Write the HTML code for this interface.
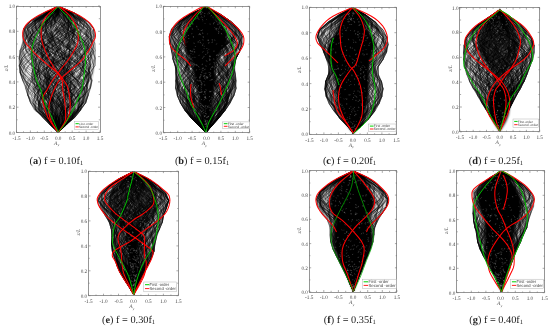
<!DOCTYPE html>
<html><head><meta charset="utf-8"><style>
html,body{margin:0;padding:0;background:#fff;width:550px;height:329px;overflow:hidden}
svg{display:block;filter:blur(0.3px)} text{text-rendering:geometricPrecision}
.tl text{font-family:"Liberation Serif",serif;font-size:5.2px;fill:#444}
.al{font-family:"Liberation Serif",serif;font-size:5.5px;fill:#555;font-style:italic}
.lg{font-family:"Liberation Sans",sans-serif;fill:#444}
.cap{font-family:"Liberation Serif",serif;font-size:10.3px;fill:#222}
</style></head><body>
<svg width="550" height="329" viewBox="0 0 550 329">
<defs><clipPath id="ca"><rect x="16.5" y="6" width="83.5" height="126.5"/></clipPath><clipPath id="cb"><rect x="163.3" y="6.3" width="86.4" height="126.5"/></clipPath><clipPath id="cc"><rect x="309.4" y="7.3" width="87.0" height="127.1"/></clipPath><clipPath id="cd"><rect x="459.9" y="7.6" width="79.8" height="124.2"/></clipPath><clipPath id="ce"><rect x="88.5" y="171.1" width="89.9" height="124.6"/></clipPath><clipPath id="cf"><rect x="309.2" y="170.9" width="87.7" height="121.1"/></clipPath><clipPath id="cg"><rect x="456.6" y="170.9" width="88.0" height="121.8"/></clipPath><filter id="bl" x="-20%" y="-5%" width="140%" height="110%"><feGaussianBlur stdDeviation="0.8"/></filter></defs>
<g clip-path="url(#ca)">
<path d="M58.2 6.2 53.9 8.1 47.7 10.8 42.0 13.6 37.4 16.1 33.2 18.7 29.7 21.3 27.0 23.8 25.0 26.4 23.6 28.9 23.0 31.4 22.9 33.9 22.9 36.5 22.8 39.2 22.7 41.9 22.3 44.6 21.5 47.0 20.4 49.2 19.6 51.8 19.2 54.9 19.0 58.2 18.9 61.6 19.0 64.9 19.2 68.3 19.6 71.3 20.2 73.8 21.0 76.0 22.0 78.5 23.1 81.5 24.4 84.8 25.7 88.3 26.9 92.3 28.0 96.5 29.3 100.4 30.8 103.9 32.4 107.2 34.2 110.0 36.0 111.9 38.0 113.4 40.4 115.5 43.8 118.8 47.6 122.8 51.1 126.2 54.0 128.8 56.5 131.0 58.2 132.4 58.2 132.4 59.8 131.0 62.0 128.8 64.9 126.2 68.7 123.0 73.0 119.3 77.0 115.5 80.2 111.7 83.1 107.7 85.5 103.3 87.4 98.6 89.0 93.5 90.5 88.0 92.2 82.1 93.8 75.8 95.0 69.0 95.5 61.1 95.4 52.8 95.4 46.0 95.5 41.8 95.5 39.0 95.4 36.5 95.2 33.8 94.8 31.4 93.9 28.9 92.4 26.4 90.5 23.8 87.8 21.3 84.4 18.7 80.3 16.1 75.6 13.6 69.6 10.8 62.9 8.1 58.2 6.2Z" fill="#e6e6e6"/>
<path d="M58.2 6.2l-11.3 7.4-13.2 7.4-5.8 7.5 4.3 7.4 9.7 7.4 12.9 7.4 14.3 7.5 12 7.4 7.1 7.4 .6 7.4-4.8 7.5-9.3 7.4-10.9 7.4-9.9 7.4-4.1 7.5 1.9 7.4 6.5 7.4M58.2 6.2l-11.2 7.4-12.6 7.4-8.5 7.5-2 7.4 .8 7.4 1.7 7.4 5.6 7.5 8.2 7.4 9.6 7.4 9.6 7.4 8.2 7.5 6.2 7.4 4.2 7.4-.3 7.4-3.8 7.5-7.8 7.4-7.9 7.4M58.2 6.2l-14.7 7.4-13 7.4-6 7.5 2 7.4 5.3 7.4 6.7 7.4 10 7.5 11.1 7.4 10.1 7.4 8.2 7.4 5.7 7.5 2.4 7.4-.5 7.4-5.3 7.4-7.6 7.5-8.7 7.4-5.7 7.4M58.2 6.2l17.3 7.4 9.3 7.4-1.9 7.5-10.4 7.4-13.6 7.4-14.1 7.4-12.8 7.5-8.8 7.4-2.7 7.4 4.1 7.4 8.5 7.5 10.6 7.4 11.2 7.4 9.1 7.4 4 7.5-2.9 7.4-6.9 7.4M58.2 6.2l-6.5 7.4 5.2 7.4 12.5 7.5 12.2 7.4 8.3 7.4 3.4 7.4-1.9 7.5-6.8 7.4-11 7.4-12.7 7.4-12 7.5-9.2 7.4-4.7 7.4 .7 7.4 8.2 7.5 8.2 7.4 6.1 7.4M58.2 6.2l16.9 7.4 11.1 7.4 4.1 7.5-2 7.4-5 7.4-6.2 7.4-7.2 7.5-7.6 7.4-8 7.4-7.1 7.4-5.4 7.5-4 7.4-2 7.4 .8 7.4 6.5 7.5 7.1 7.4 8 7.4M58.2 6.2l10.3 7.4 .2 7.4-6.7 7.5-9.1 7.4-9.1 7.4-9.5 7.4-7.7 7.5-5.2 7.4-1.2 7.4 2.5 7.4 3.9 7.5 5.8 7.4 7.1 7.4 7.7 7.4 7.6 7.5 3.8 7.4-.4 7.4M58.2 6.2l16.7 7.4 12.5 7.4 6.2 7.5-.7 7.4-7.2 7.4-9.9 7.4-11.6 7.5-12.4 7.4-11.7 7.4-8.2 7.4-4.3 7.5 .2 7.4 2.7 7.4 5 7.4 10.6 7.5 7.9 7.4 4.2 7.4M58.2 6.2l14.6 7.4 2.6 7.4-8.1 7.5-13 7.4-12.7 7.4-12.2 7.4-7.8 7.5-2.2 7.4 4 7.4 9.6 7.4 11.9 7.5 11.8 7.4 10.2 7.4 5.7 7.4 0 7.5-6.4 7.4-8 7.4M58.2 6.2l11.2 7.4 1.5 7.4-5.4 7.5-8.4 7.4-8.5 7.4-9.1 7.4-8.1 7.5-6.4 7.4-3.7 7.4 1.4 7.4 2.8 7.5 2.3 7.4 4.7 7.4 6.8 7.4 9.2 7.5 6.3 7.4 3.4 7.4M58.2 6.2l16.2 7.4 12.8 7.4 6.4 7.5 .9 7.4-2.7 7.4-4.4 7.4-5.8 7.5-6.8 7.4-7.7 7.4-7.7 7.4-7.1 7.5-5.9 7.4-4.2 7.4-1.7 7.4 4 7.5 5.7 7.4 8 7.4M58.2 6.2l-9.9 7.4-14.3 7.4-10.1 7.5-.9 7.4 .9 7.4 5.4 7.4 10.7 7.5 13.5 7.4 13.2 7.4 10.8 7.4 7.6 7.5 3 7.4-2.4 7.4-5.5 7.4-8.9 7.5-8.9 7.4-4.2 7.4M58.2 6.2l10.8 7.4-.7 7.4-8.7 7.5-11 7.4-10.3 7.4-10 7.4-6.4 7.5-2 7.4 2.9 7.4 7.6 7.4 9.5 7.5 9.9 7.4 9.4 7.4 6.8 7.4 2.4 7.5-3.5 7.4-6.7 7.4M58.2 6.2l17.4 7.4 7.2 7.4-4.1 7.5-11.3 7.4-13.3 7.4-13.6 7.4-11.8 7.5-7.8 7.4-.7 7.4 2.6 7.4 8.2 7.5 10 7.4 10.8 7.4 9.4 7.4 4.9 7.5-1.7 7.4-6.2 7.4M58.2 6.2l1.8 7.4 8.6 7.4 10.4 7.5 8.2 7.4 5.5 7.4 2.6 7.4-.1 7.5-.3 7.4-4.7 7.4-7.1 7.4-8 7.5-8.5 7.4-7.7 7.4-6.3 7.4-2 7.5 1.8 7.4 5.8 7.4M58.2 6.2l-6.8 7.4 3.9 7.4 10.7 7.5 11.6 7.4 9.3 7.4 6.4 7.4 1.9 7.5-.1 7.4-5.4 7.4-8.7 7.4-10.1 7.5-10.4 7.4-9.1 7.4-6.2 7.4 .6 7.5 4.4 7.4 8 7.4M58.2 6.2l9.7 7.4 14.9 7.4 10.7 7.5 1.7 7.4-5.6 7.4-10.6 7.4-13.8 7.5-15.3 7.4-13.8 7.4-8.4 7.4-2.2 7.5 2.5 7.4 7.3 7.4 10.2 7.4 10.3 7.5 4.4 7.4-2 7.4M58.2 6.2l-12.5 7.4-4.1 7.4 3.7 7.5 7.9 7.4 8.7 7.4 8.8 7.4 8 7.5 6.9 7.4 4.5 7.4 1.8 7.4-1.4 7.5-2.4 7.4-3.7 7.4-7.4 7.4-7.8 7.5-7.2 7.4-3.8 7.4M58.2 6.2l-3.6 7.4-8.4 7.4-8.9 7.5-6.3 7.4-5 7.4-5.5 7.4-1.4 7.5 .1 7.4 1.1 7.4 5.4 7.4 6.6 7.5 6.5 7.4 6.7 7.4 6.6 7.4 5.4 7.5 2.1 7.4-1.4 7.4M58.2 6.2l14.4 7.4 1.6 7.4-9.8 7.5-14.2 7.4-13.1 7.4-11.6 7.4-5.5 7.5 1.7 7.4 8.4 7.4 13.3 7.4 14 7.5 11.9 7.4 8.2 7.4 1.4 7.4-4.5 7.5-9.1 7.4-7.1 7.4M58.2 6.2l0 7.4-5.4 7.4-7.4 7.5-6.3 7.4-5.6 7.4-6.5 7.4-4.5 7.5-2.5 7.4 .2 7.4 2.5 7.4 3.9 7.5 4.4 7.4 5.3 7.4 6.2 7.4 7.7 7.5 5.2 7.4 2.8 7.4M58.2 6.2l-.8 7.4-10.9 7.4-12.7 7.5-7.2 7.4-2 7.4 1.9 7.4 8.6 7.5 13 7.4 14.3 7.4 11.9 7.4 8.2 7.5 3 7.4-1.7 7.4-7.6 7.4-9 7.5-7.4 7.4-1.6 7.4M58.2 6.2l14.1 7.4 14.6 7.4 6.7 7.5 .3 7.4-6.9 7.4-10.6 7.4-12.7 7.5-13.8 7.4-12.5 7.4-8.2 7.4-3.2 7.5 1.8 7.4 3.8 7.4 8.4 7.4 10.7 7.5 6.4 7.4 1.1 7.4M58.2 6.2l-15.6 7.4-12.1 7.4-5.1 7.5 1.7 7.4 3.8 7.4 4.2 7.4 6.8 7.5 8.2 7.4 8.5 7.4 7.4 7.4 6.3 7.5 4.5 7.4 2.7 7.4-1.2 7.4-4.3 7.5-7.8 7.4-8 7.4M58.2 6.2l-10.1 7.4-13 7.4-9.6 7.5-2.5 7.4 .6 7.4 2.3 7.4 6.8 7.5 9.7 7.4 11.2 7.4 10.5 7.4 8.7 7.5 6.1 7.4 3.3 7.4-1.9 7.4-5.6 7.5-8.9 7.4-7.6 7.4M58.2 6.2l17 7.4 5.6 7.4-5.8 7.5-12.5 7.4-13.6 7.4-13.6 7.4-10.9 7.5-5.2 7.4 1 7.4 4.9 7.4 10.1 7.5 11.2 7.4 11.3 7.4 8.4 7.4 3.2 7.5-3.7 7.4-7.4 7.4M58.2 6.2l13 7.4-1.2 7.4-12 7.5-14.3 7.4-12.4 7.4-9.9 7.4-2.3 7.5 4.5 7.4 11.2 7.4 14.9 7.4 14.3 7.5 11.1 7.4 6.6 7.4-1 7.4-6.3 7.5-9.8 7.4-6.4 7.4M58.2 6.2l2.8 7.4 11.5 7.4 12.1 7.5 6.8 7.4 .8 7.4-4.3 7.4-8.6 7.5-11.6 7.4-13 7.4-11.7 7.4-7.8 7.5-3.6 7.4 1.1 7.4 5.7 7.4 10 7.5 7.2 7.4 2.6 7.4M58.2 6.2l-9.3 7.4-1.6 7.4 4.5 7.5 7.1 7.4 7.7 7.4 7.3 7.4 6.7 7.5 5.6 7.4 3.8 7.4 1.5 7.4-1 7.5-2.4 7.4-2.4 7.4-6.5 7.4-7.5 7.5-8 7.4-5.5 7.4M58.2 6.2l12.3 7.4 2.2 7.4-5.6 7.5-9.3 7.4-9.5 7.4-9.9 7.4-8.3 7.5-5.6 7.4-2.1 7.4 2.4 7.4 5 7.5 6.3 7.4 7.5 7.4 7.8 7.4 6.5 7.5 2.3 7.4-2 7.4M58.2 6.2l-2.9 7.4 4.2 7.4 8.1 7.5 8.1 7.4 6.8 7.4 5.3 7.4 3.8 7.5 1.9 7.4-.7 7.4-3.3 7.4-4.7 7.5-6.1 7.4-6.4 7.4-7.1 7.4-5.5 7.5-2.6 7.4 1.1 7.4M58.2 6.2l-9.3 7.4-11.9 7.4-9.1 7.5-3.4 7.4-1.1 7.4-.4 7.4 3.4 7.5 6.2 7.4 8.3 7.4 9.3 7.4 8.6 7.5 7.2 7.4 5.6 7.4 2 7.4-1.7 7.5-6.2 7.4-7.5 7.4M58.2 6.2l16.8 7.4 9.3 7.4-.8 7.5-8.6 7.4-11.8 7.4-12.6 7.4-12.3 7.5-9.7 7.4-5.2 7.4 .7 7.4 5 7.5 7.4 7.4 9.3 7.4 9.3 7.4 6.5 7.5 .8 7.4-4.1 7.4M58.2 6.2l-11.1 7.4-13.7 7.4-8.5 7.5 .1 7.4 4.8 7.4 7.5 7.4 11.8 7.5 13.1 7.4 11.7 7.4 8.6 7.4 4.8 7.5 .1 7.4-3.7 7.4-8.2 7.4-8.8 7.5-6.9 7.4-1.6 7.4M58.2 6.2l.5 7.4-9.6 7.4-12.9 7.5-9.1 7.4-4.7 7.4-2.4 7.4 2.5 7.5 8.7 7.4 12.3 7.4 13.5 7.4 11.6 7.5 8.7 7.4 5 7.4-1.6 7.4-6 7.5-9.1 7.4-7.4 7.4M58.2 6.2l7.7 7.4 12 7.4 9.9 7.5 4.3 7.4-.6 7.4-4.3 7.4-7.4 7.5-9.5 7.4-10.8 7.4-10.5 7.4-8 7.5-5.3 7.4-1.7 7.4 2.3 7.4 8.3 7.5 7.6 7.4 6 7.4M58.2 6.2l-10.6 7.4-11.8 7.4-8.2 7.5-2.3 7.4 0 7.4 .6 7.4 4.1 7.5 6.6 7.4 8.2 7.4 8.8 7.4 7.9 7.5 6.5 7.4 4.8 7.4 1.3 7.4-2.2 7.5-6.3 7.4-7.4 7.4M58.2 6.2l-3.7 7.4-9.6 7.4-10.2 7.5-6.7 7.4-4.6 7.4-3.4 7.4-.9 7.5 2.4 7.4 6 7.4 8.6 7.4 9.1 7.5 8.5 7.4 7.5 7.4 5.1 7.4 1.6 7.5-3.4 7.4-6.3 7.4M58.2 6.2l-.3 7.4 5.9 7.4 8.2 7.5 7.4 7.4 5.8 7.4 4.4 7.4 2.8 7.5 1.3 7.4-1.3 7.4-3.6 7.4-4.7 7.5-6 7.4-6.1 7.4-6.8 7.4-5.2 7.5-2.6 7.4 .8 7.4M58.2 6.2l-7.6 7.4 3.7 7.4 11.3 7.5 12.2 7.4 9.6 7.4 5.7 7.4 1.3 7.5-3.3 7.4-8 7.4-10.9 7.4-11.6 7.5-10.7 7.4-7.9 7.4-3.4 7.4 4.5 7.5 7 7.4 8.1 7.4M58.2 6.2l-12.8 7.4-14.8 7.4-6.7 7.5 2.8 7.4 9.2 7.4 12.5 7.4 15.4 7.5 14.2 7.4 10.1 7.4 4.2 7.4-1.8 7.5-6.8 7.4-10 7.4-11.3 7.4-7.7 7.5-1.5 7.4 5 7.4M58.2 6.2l11.4 7.4 13 7.4 8.8 7.5 2.4 7.4-2.4 7.4-5.4 7.4-8 7.5-9.7 7.4-10.5 7.4-10.1 7.4-7.6 7.5-5.1 7.4-1.8 7.4 2.1 7.4 8.2 7.5 7.9 7.4 6.8 7.4M58.2 6.2l-3.4 7.4-8.4 7.4-9 7.5-6 7.4-4.3 7.4-4.4 7.4-1.2 7.5 1.8 7.4 4.4 7.4 7 7.4 7.6 7.5 7.3 7.4 6.9 7.4 5.3 7.4 2.6 7.5-1.6 7.4-4.6 7.4M58.2 6.2l17.4 7.4 10.3 7.4 1.8 7.5-5.1 7.4-8.1 7.4-9.4 7.4-10 7.5-10.1 7.4-8.7 7.4-5.4 7.4-2.5 7.5-.3 7.4 2.5 7.4 5.3 7.4 9.6 7.5 7.6 7.4 5.1 7.4M58.2 6.2l17.2 7.4 6.2 7.4-5.8 7.5-13.1 7.4-14.2 7.4-14.3 7.4-10.8 7.5-4.2 7.4 1 7.4 8.2 7.4 11.8 7.5 12.5 7.4 11.4 7.4 7.1 7.4 1.1 7.5-6 7.4-8.1 7.4M58.2 6.2l-12.2 7.4-14.6 7.4-7.5 7.5-.9 7.4 3.8 7.4 7.2 7.4 11.8 7.5 13.6 7.4 12.4 7.4 9.7 7.4 6.1 7.5 .5 7.4-2.4 7.4-6.7 7.4-9.2 7.5-8.3 7.4-3.3 7.4M58.2 6.2l-14.1 7.4-8.6 7.4-.2 7.5 6.5 7.4 8.7 7.4 9.8 7.4 9.8 7.5 8.6 7.4 5.9 7.4 2.3 7.4-.6 7.5-3.9 7.4-5.8 7.4-7.9 7.4-6.9 7.5-4 7.4 .4 7.4M58.2 6.2l12.7 7.4 11.6 7.4 7 7.5 1.8 7.4-1.6 7.4-3.6 7.4-5.2 7.5-6.4 7.4-7.5 7.4-7.7 7.4-7 7.5-5.8 7.4-4 7.4-1.3 7.4 4.1 7.5 5.6 7.4 7.3 7.4M58.2 6.2l-15.3 7.4-8.9 7.4 2 7.5 10.2 7.4 12.7 7.4 13.2 7.4 11.1 7.5 7.3 7.4 1.6 7.4-4.1 7.4-8 7.5-10.6 7.4-10.7 7.4-8.6 7.4-2.1 7.5 3 7.4 7.2 7.4M58.2 6.2l-12.6 7.4-12.1 7.4-6 7.5 1.7 7.4 5.3 7.4 7.1 7.4 10.2 7.5 11 7.4 9.7 7.4 7.3 7.4 4.4 7.5 .7 7.4-2.3 7.4-6.5 7.4-7.6 7.5-7.2 7.4-3.1 7.4M58.2 6.2l-4.7 7.4-10.3 7.4-10.2 7.5-5.6 7.4-2.9 7.4-1.8 7.4 2.7 7.5 6.2 7.4 8.8 7.4 10.2 7.4 9.4 7.5 7.9 7.4 5.8 7.4 1.5 7.4-2.4 7.5-7 7.4-7.6 7.4M58.2 6.2l-13.4 7.4-5.6 7.4 2 7.5 6.7 7.4 7.7 7.4 8.1 7.4 8 7.5 7.2 7.4 5.6 7.4 3.4 7.4 1.6 7.5-1.4 7.4-2.4 7.4-5.5 7.4-7.4 7.5-8.5 7.4-6.1 7.4M58.2 6.2l14 7.4 4.8 7.4-3.7 7.5-8.5 7.4-9.7 7.4-10.1 7.4-9.3 7.5-7.1 7.4-3.8 7.4 .5 7.4 3.5 7.5 5 7.4 6.8 7.4 7.6 7.4 7.4 7.5 3.4 7.4-.8 7.4M58.2 6.2l-15.6 7.4-12.5 7.4-6.2 7.5 .4 7.4 5.2 7.4 6.8 7.4 10.2 7.5 11.6 7.4 10.7 7.4 8.8 7.4 6.4 7.5 2.9 7.4-1.2 7.4-5 7.4-6.6 7.5-9.4 7.4-6.5 7.4M58.2 6.2l-15.2 7.4-12.7 7.4-3.4 7.5 6 7.4 10 7.4 12.3 7.4 13.3 7.5 11.8 7.4 8 7.4 3.1 7.4-1.6 7.5-6 7.4-8.6 7.4-10.2 7.4-7.6 7.5-2.5 7.4 3.3 7.4M58.2 6.2l17.4 7.4 11.8 7.4 6.1 7.5-3.3 7.4-7.5 7.4-9.7 7.4-10.9 7.5-11.5 7.4-10.6 7.4-7.5 7.4-4.1 7.5-.6 7.4 2.7 7.4 4 7.4 10.3 7.5 8.1 7.4 5.3 7.4M58.2 6.2l-7.4 7.4 6.9 7.4 15.5 7.5 14 7.4 7.9 7.4 .2 7.4-6 7.5-12.4 7.4-15.9 7.4-15.8 7.4-11.2 7.5-5.5 7.4 2 7.4 6.9 7.4 12 7.5 7.7 7.4 1.1 7.4M58.2 6.2l-.2 7.4 9.4 7.4 12.3 7.5 9.2 7.4 4.6 7.4 0 7.4-4.2 7.5-8 7.4-11.1 7.4-11.8 7.4-10.9 7.5-8.1 7.4-4.4 7.4 .5 7.4 7.8 7.5 8 7.4 6.9 7.4M58.2 6.2l5.8 7.4 10.2 7.4 9.1 7.5 4.7 7.4 .6 7.4-2.6 7.4-5.2 7.5-7.5 7.4-9 7.4-9.2 7.4-7.9 7.5-5.8 7.4-3 7.4 .6 7.4 6.4 7.5 6.6 7.4 6.2 7.4M58.2 6.2l-12.1 7.4-13.8 7.4-5.6 7.5 5.1 7.4 10.8 7.4 14 7.4 14.9 7.5 12.3 7.4 6.6 7.4-.3 7.4-6.1 7.5-10.6 7.4-11.7 7.4-10.2 7.4-3.3 7.5 2.8 7.4 7.2 7.4M58.2 6.2l-14.9 7.4-10.3 7.4-2 7.5 5.3 7.4 7.9 7.4 9.1 7.4 10.3 7.5 9.7 7.4 7.6 7.4 4.7 7.4 1.7 7.5-1.6 7.4-4 7.4-7.4 7.4-7.7 7.5-6.2 7.4-2.2 7.4M58.2 6.2l-11.6 7.4-4.9 7.4 1.5 7.5 5.4 7.4 6.2 7.4 6.5 7.4 6.5 7.5 6.1 7.4 5 7.4 3.4 7.4 2.2 7.5 .3 7.4-.9 7.4-4.4 7.4-6.1 7.5-8.2 7.4-7 7.4M58.2 6.2l-10.6 7.4-12.8 7.4-9.6 7.5-2.2 7.4-.6 7.4-1.3 7.4 4 7.5 7.1 7.4 9 7.4 10 7.4 9.1 7.5 7.6 7.4 5.7 7.4 1.8 7.4-2.1 7.5-7 7.4-8.1 7.4M58.2 6.2l-12.8 7.4-14.5 7.4-7 7.5 3.2 7.4 8.6 7.4 11.9 7.4 14.9 7.5 13.8 7.4 10.3 7.4 4.7 7.4-.8 7.5-5.9 7.4-9.2 7.4-11 7.4-8.1 7.5-2.2 7.4 4.1 7.4M58.2 6.2l-6.8 7.4 3.4 7.4 10.2 7.5 11 7.4 8.2 7.4 4.3 7.4 0 7.5-4.4 7.4-8.5 7.4-10.7 7.4-10.6 7.5-8.8 7.4-5.5 7.4-.9 7.4 6.1 7.5 6.9 7.4 6.1 7.4M58.2 6.2l9 7.4 12.2 7.4 10 7.5 4.7 7.4 .5 7.4-2.5 7.4-5.3 7.5-7.4 7.4-9.3 7.4-9.8 7.4-9 7.5-7.4 7.4-4.9 7.4-1.3 7.4 5.4 7.5 6.9 7.4 8.2 7.4M58.2 6.2l-.5 7.4-7.1 7.4-9.3 7.5-7.3 7.4-5.9 7.4-6 7.4-2.8 7.5 .4 7.4 3.5 7.4 6.7 7.4 7.7 7.5 7.6 7.4 7.5 7.4 6.5 7.4 3.7 7.5-.6 7.4-4.1 7.4M58.2 6.2l-11.9 7.4 .2 7.4 10.5 7.5 14.1 7.4 12.4 7.4 8.5 7.4 3.2 7.5-2 7.4-8.1 7.4-11.9 7.4-12.9 7.5-11.9 7.4-8.5 7.4-3.2 7.4 5.8 7.5 7.7 7.4 8 7.4M58.2 6.2l6.9 7.4-6 7.4-12.5 7.5-11.7 7.4-8.7 7.4-6.2 7.4 .4 7.5 6.5 7.4 11.3 7.4 13.7 7.4 12.7 7.5 9.9 7.4 6.1 7.4-.4 7.4-5.6 7.5-9.3 7.4-7.1 7.4M58.2 6.2l-2.2 7.4 8.6 7.4 12.9 7.5 10.1 7.4 4.8 7.4-.3 7.4-5.4 7.5-9.6 7.4-12.4 7.4-12.8 7.4-10.4 7.5-6.7 7.4-1.9 7.4 3.4 7.4 9.4 7.5 8 7.4 4.5 7.4" stroke="#000" stroke-opacity="0.75" stroke-width="0.42" fill="none"/>
<path d="M58.2 6.2l13 7.4 6.5 7.4-1.6 7.5-6.8 7.4-8.6 7.4-7.6 7.4-6.6 7.5-5.4 7.4-4.3 7.4-2.5 7.4-.6 7.5 1.5 7.4 3.3 7.4 4.9 7.4 7.2 7.5 5.3 7.4 2.3 7.4M58.2 6.2l13.1 7.4 6.8 7.4-2.5 7.5-8.6 7.4-10.2 7.4-8.6 7.4-6.9 7.5-4.8 7.4-2.2 7.4 .5 7.4 3.4 7.5 5.7 7.4 7 7.4 6.9 7.4 4.7 7.5-.3 7.4-4 7.4M58.2 6.2l-2.4 7.4-4.6 7.4-4.3 7.5-2.8 7.4-.7 7.4-.3 7.4 .1 7.5 .6 7.4 1 7.4 1.5 7.4 2 7.5 2.5 7.4 2.6 7.4 2.6 7.4 2.2 7.5 .8 7.4-.8 7.4M58.2 6.2l-5.4 7.4-4.2 7.4-.4 7.5 2.9 7.4 4.2 7.4 4.2 7.4 4.3 7.5 3.5 7.4 2.3 7.4 .9 7.4-.5 7.5-2 7.4-2.8 7.4-3.6 7.4-2.9 7.5-1.2 7.4 .7 7.4M58.2 6.2l-5 7.4 1.2 7.4 6.6 7.5 8 7.4 6.3 7.4 4 7.4 1.1 7.5-1.7 7.4-4.4 7.4-6.1 7.4-7 7.5-6.3 7.4-4.8 7.4-2.7 7.4 1.8 7.5 4.1 7.4 4.9 7.4M58.2 6.2l-.6 7.4-9.7 7.4-11.4 7.5-6 7.4 1.9 7.4 5.9 7.4 8.8 7.5 10.2 7.4 11.5 7.4 8.9 7.4 4.7 7.5-.7 7.4-4.9 7.4-8.8 7.4-8 7.5-3.7 7.4 1.9 7.4M58.2 6.2l9 7.4 6.3 7.4 1.5 7.5-2.1 7.4-3.9 7.4-4.5 7.4-4.6 7.5-4.2 7.4-3.5 7.4-3.2 7.4-2.4 7.5-1.3 7.4-.4 7.4 1.1 7.4 4 7.5 4.2 7.4 4 7.4M58.2 6.2l-11.4 7.4-12.1 7.4-3.4 7.5 6 7.4 11.4 7.4 11.9 7.4 12.2 7.5 9.3 7.4 4.7 7.4-.6 7.4-5.1 7.5-9 7.4-10.1 7.4-8.6 7.4-3.4 7.5 2.1 7.4 6.1 7.4M58.2 6.2l-7.6 7.4-1 7.4 6.9 7.5 10 7.4 8.6 7.4 5.4 7.4 1.2 7.5-3 7.4-6.5 7.4-8.6 7.4-8.4 7.5-6.6 7.4-4.1 7.4-.6 7.4 4.8 7.5 5.6 7.4 3.9 7.4M58.2 6.2l.5 7.4 2.4 7.4 2.9 7.5 2.4 7.4 1.7 7.4 1.1 7.4 .5 7.5 0 7.4-.6 7.4-1.1 7.4-1.6 7.5-1.9 7.4-2 7.4-2.2 7.4-1.7 7.5-.7 7.4 .3 7.4M58.2 6.2l-.3 7.4 9 7.4 11.7 7.5 7.7 7.4 1.7 7.4-3.6 7.4-7.8 7.5-10.6 7.4-10.9 7.4-8.8 7.4-6.3 7.5-2.5 7.4 1.4 7.4 5.1 7.4 8.1 7.5 5.4 7.4 .7 7.4M58.2 6.2l-.3 7.4-5.9 7.4-7.5 7.5-5.2 7.4-.8 7.4 1.2 7.4 3.1 7.5 4.7 7.4 5.6 7.4 6.3 7.4 6.4 7.5 4.7 7.4 2.6 7.4-1.3 7.4-3.9 7.5-5.8 7.4-3.9 7.4M58.2 6.2l-9.6 7.4-1.6 7.4 7.3 7.5 11.1 7.4 10.6 7.4 8.3 7.4 4.9 7.5 1.1 7.4-2.4 7.4-6 7.4-8.2 7.5-9.4 7.4-8.6 7.4-6.3 7.4-1.1 7.5 3.3 7.4 6.6 7.4M58.2 6.2l-11 7.4-7.6 7.4 1.8 7.5 8.9 7.4 11.1 7.4 10.8 7.4 8 7.5 4 7.4-.7 7.4-5 7.4-8.1 7.5-9.5 7.4-8.1 7.4-5.5 7.4 .5 7.5 4.4 7.4 6 7.4M58.2 6.2l-8.1 7.4-11.3 7.4-7.6 7.5-1.3 7.4 4.3 7.4 5.7 7.4 6.7 7.5 7.4 7.4 7.9 7.4 7.9 7.4 6.1 7.5 3.3 7.4 .8 7.4-3.7 7.4-6 7.5-7.5 7.4-4.6 7.4M58.2 6.2l4.1 7.4 6.1 7.4 4.7 7.5 1.7 7.4-.9 7.4-2.6 7.4-3.9 7.5-4.6 7.4-4.8 7.4-4 7.4-3.3 7.5-2.2 7.4-.8 7.4 .8 7.4 3.5 7.5 3.5 7.4 2.7 7.4M58.2 6.2l-9.7 7.4-10.6 7.4-6.7 7.5-1.7 7.4 2.2 7.4 2.6 7.4 3 7.5 3.4 7.4 3.7 7.4 4.2 7.4 4.5 7.5 4.4 7.4 4.3 7.4 2.8 7.4 .7 7.5-2.8 7.4-4.3 7.4M58.2 6.2l-13 7.4-10.4 7.4 .4 7.5 9.6 7.4 12.9 7.4 13.3 7.4 10.8 7.5 6.4 7.4 .7 7.4-4.6 7.4-8.6 7.5-11.1 7.4-10.3 7.4-7.2 7.4-.5 7.5 4.5 7.4 7.1 7.4M58.2 6.2l-10.7 7.4-7.4 7.4 2.4 7.5 9.5 7.4 11.6 7.4 10.6 7.4 7.3 7.5 2.7 7.4-2.4 7.4-6.7 7.4-9.3 7.5-9.7 7.4-7.4 7.4-4.1 7.4 2.5 7.5 5.4 7.4 5.7 7.4M58.2 6.2l-6.1 7.4-5 7.4-1.1 7.5 2.3 7.4 4 7.4 4 7.4 4.1 7.5 4.1 7.4 3.3 7.4 2.2 7.4 1.1 7.5-.4 7.4-1.4 7.4-3.2 7.4-3.5 7.5-3.1 7.4-1.3 7.4M58.2 6.2l.9 7.4-4.1 7.4-6.4 7.5-5.7 7.4-3.3 7.4-2.2 7.4-1.2 7.5-.1 7.4 .8 7.4 2 7.4 3.1 7.5 4 7.4 4.4 7.4 4.5 7.4 3.7 7.5 1.1 7.4-1.5 7.4M58.2 6.2l-10.7 7.4-11.7 7.4-7.3 7.5-2 7.4 2.4 7.4 2.7 7.4 3.1 7.5 3.6 7.4 3.9 7.4 4.5 7.4 4.7 7.5 4.8 7.4 4.6 7.4 3.3 7.4 1.1 7.5-2.6 7.4-4.4 7.4M58.2 6.2l7.3 7.4 .8 7.4-4.9 7.5-7.1 7.4-6 7.4-4.7 7.4-3.2 7.5-1.5 7.4 0 7.4 1.9 7.4 3.4 7.5 4.7 7.4 5.1 7.4 4.9 7.4 3.1 7.5-.6 7.4-3.2 7.4M58.2 6.2l-12.4 7.4-5.9 7.4 3.9 7.5 9.7 7.4 11 7.4 10.3 7.4 8.4 7.5 5.6 7.4 .6 7.4-1.2 7.4-3.1 7.5-7.3 7.4-8.2 7.4-8.5 7.4-5.6 7.5-1 7.4 3.7 7.4M58.2 6.2l-8.9 7.4-10.9 7.4-5.8 7.5 .7 7.4 5.9 7.4 7 7.4 7.6 7.5 8.1 7.4 8.1 7.4 6.2 7.4 3.8 7.5 .5 7.4-2.1 7.4-5.7 7.4-6.7 7.5-5.8 7.4-2 7.4M58.2 6.2l-5 7.4-6.8 7.4-3.3 7.5 1.9 7.4 5.6 7.4 6.1 7.4 6.8 7.5 5.7 7.4 3.4 7.4 .5 7.4-2.3 7.5-4.6 7.4-5.4 7.4-4.8 7.4-2 7.5 1 7.4 3.2 7.4M58.2 6.2l-3.4 7.4-3.1 7.4-.7 7.5 1.4 7.4 2.6 7.4 2.6 7.4 2.7 7.5 2.6 7.4 1.8 7.4 1.1 7.4 .1 7.5-.8 7.4-1.5 7.4-2.2 7.4-2.1 7.5-1.2 7.4 .1 7.4M58.2 6.2l-9.1 7.4 .4 7.4 10.2 7.5 13.4 7.4 10.4 7.4 5.6 7.4-.1 7.5-5.5 7.4-9.8 7.4-12 7.4-10.7 7.5-8 7.4-4.4 7.4 .4 7.4 7.2 7.5 7.5 7.4 4.5 7.4M58.2 6.2l-1.1 7.4-2.1 7.4-1.9 7.5-1 7.4 .1 7.4 .4 7.4 .6 7.5 .9 7.4 1.1 7.4 1.3 7.4 1.3 7.5 1.4 7.4 1.2 7.4 .5 7.4-.2 7.5-1.1 7.4-1.4 7.4M58.2 6.2l-2.6 7.4-1.1 7.4 .8 7.5 1.8 7.4 2.1 7.4 2 7.4 1.8 7.5 1.5 7.4 1.1 7.4 .7 7.4 .2 7.5-.4 7.4-.8 7.4-1.6 7.4-2 7.5-2.1 7.4-1.4 7.4M58.2 6.2l-.1 7.4-4.5 7.4-5.9 7.5-4.5 7.4-1.5 7.4-.2 7.4 1.1 7.5 2.2 7.4 3.2 7.4 4.1 7.4 4.4 7.5 4.6 7.4 3.9 7.4 1.7 7.4-.7 7.5-3.7 7.4-4.1 7.4M58.2 6.2l1.6 7.4-3.4 7.4-5.8 7.5-5.2 7.4-2.8 7.4-1.5 7.4-.2 7.5 1 7.4 2.1 7.4 3.3 7.4 4 7.5 4.5 7.4 4.3 7.4 3.2 7.4 1 7.5-2.4 7.4-3.7 7.4M58.2 6.2l6.1 7.4 4.6 7.4 1.7 7.5-.5 7.4-1.7 7.4-2.1 7.4-2.3 7.5-2.4 7.4-2.5 7.4-2.1 7.4-1.9 7.5-1.5 7.4-1.1 7.4-.5 7.4 1.3 7.5 2.1 7.4 2.8 7.4M58.2 6.2l8.3 7.4 5 7.4-.1 7.5-4 7.4-5.5 7.4-5.4 7.4-4.5 7.5-3.7 7.4-2.8 7.4-1.6 7.4-.1 7.5 1.5 7.4 2.6 7.4 3.5 7.4 4.2 7.5 2.5 7.4 .1 7.4M58.2 6.2l-1.9 7.4 5.2 7.4 9.2 7.5 8.7 7.4 6.4 7.4 4.2 7.4 .9 7.5-.6 7.4-1.8 7.4-4.9 7.4-6.2 7.5-7.4 7.4-7.2 7.4-6.3 7.4-3.1 7.5 .5 7.4 4.3 7.4M58.2 6.2l-6.2 7.4-4.8 7.4-1.3 7.5 1.4 7.4 2.9 7.4 2.8 7.4 2.7 7.5 2.7 7.4 2.9 7.4 2.6 7.4 2.2 7.5 1.4 7.4 .8 7.4-.9 7.4-2.1 7.5-3.7 7.4-3.4 7.4M58.2 6.2l-3.8 7.4-3.6 7.4-.7 7.5 2.1 7.4 3.4 7.4 3.6 7.4 3.6 7.5 2.8 7.4 1.5 7.4 .2 7.4-1.2 7.5-2.4 7.4-2.8 7.4-2.8 7.4-1.5 7.5 .1 7.4 1.5 7.4M58.2 6.2l12.4 7.4 6.9 7.4-1.3 7.5-6.7 7.4-8.8 7.4-7.9 7.4-6.6 7.5-5.2 7.4-3.6 7.4-1.6 7.4 .7 7.5 3 7.4 4.7 7.4 5.7 7.4 6 7.5 3 7.4-.7 7.4M58.2 6.2l13.4 7.4 5.1 7.4-6.1 7.5-12.4 7.4-11.5 7.4-8.6 7.4-4.9 7.5-.8 7.4 3.2 7.4 6.8 7.4 9.2 7.5 10.1 7.4 8.9 7.4 3.7 7.4-1.9 7.5-7.5 7.4-6.7 7.4M58.2 6.2l6.2 7.4 11.8 7.4 8.6 7.5 .8 7.4-5.9 7.4-9.9 7.4-11.7 7.5-9.5 7.4-7.4 7.4-3.9 7.4 .3 7.5 4.4 7.4 7.1 7.4 7.9 7.4 5.7 7.5-.2 7.4-4.3 7.4M58.2 6.2l-1.7 7.4-6.5 7.4-7.6 7.5-5.4 7.4-1.8 7.4-.6 7.4 .6 7.5 1.8 7.4 2.9 7.4 3.9 7.4 4.8 7.5 5.2 7.4 5 7.4 4.1 7.4 1.7 7.5-2.2 7.4-4.2 7.4M58.2 6.2l8.4 7.4 12 7.4 9.2 7.5 3.5 7.4-1.3 7.4-4.3 7.4-6.7 7.5-8.3 7.4-9 7.4-8.1 7.4-6.8 7.5-5.1 7.4-2.8 7.4 .2 7.4 5.8 7.5 6.9 7.4 6.4 7.4M58.2 6.2l-7.1 7.4-11.9 7.4-9.1 7.5-2.7 7.4 3.5 7.4 5.6 7.4 7.1 7.5 8 7.4 8.6 7.4 9 7.4 7.2 7.5 4.1 7.4 1.2 7.4-3.9 7.4-6.6 7.5-8.1 7.4-4.9 7.4M58.2 6.2l-10.8 7.4-8.6 7.4 1 7.5 8.7 7.4 11.4 7.4 11.4 7.4 8.6 7.5 4.2 7.4-1 7.4-5.6 7.4-8.7 7.5-10 7.4-8 7.4-5 7.4 1.4 7.5 5.1 7.4 5.9 7.4M58.2 6.2l-13.2 7.4-10.1 7.4-2.8 7.5 3.1 7.4 6.2 7.4 5.9 7.4 5.7 7.5 5.5 7.4 6.2 7.4 5.5 7.4 4.6 7.5 3 7.4 1.7 7.4-1.8 7.4-4.4 7.5-8 7.4-7.1 7.4M58.2 6.2l-6.1 7.4-4.5 7.4 .1 7.5 3.9 7.4 5.4 7.4 5.4 7.4 4.9 7.5 3.5 7.4 1.5 7.4-.5 7.4-2.3 7.5-3.8 7.4-4.3 7.4-4 7.4-2 7.5 .4 7.4 2.4 7.4M58.2 6.2l1.4 7.4 3.3 7.4 3.5 7.5 2.4 7.4 1.1 7.4 .3 7.4-.6 7.5-1.3 7.4-1.9 7.4-2.5 7.4-2.7 7.5-2.6 7.4-2.2 7.4-1.5 7.4 0 7.5 1.1 7.4 2.2 7.4M58.2 6.2l11.7 7.4 11.3 7.4 3.2 7.5-5.6 7.4-10.7 7.4-11.8 7.4-9.6 7.5-7.2 7.4-3.8 7.4 .2 7.4 4.2 7.5 7.2 7.4 8.5 7.4 7.6 7.4 3.4 7.5-3 7.4-5.6 7.4M58.2 6.2l6 7.4 .5 7.4-4.2 7.5-5.8 7.4-4.9 7.4-4 7.4-3.1 7.5-2.1 7.4-1 7.4 .2 7.4 1.5 7.5 2.7 7.4 3.6 7.4 4.1 7.4 4.4 7.5 2.3 7.4-.2 7.4M58.2 6.2l-9.5 7.4-3.7 7.4 3.4 7.5 6.9 7.4 7.7 7.4 7.4 7.4 6.6 7.5 5.5 7.4 3.8 7.4 1.9 7.4-1.2 7.5-1.9 7.4-1.9 7.4-5.5 7.4-7.2 7.5-7.7 7.4-4.6 7.4M58.2 6.2l-10 7.4-10.5 7.4-5.7 7.5-.1 7.4 4.1 7.4 4.7 7.4 5.1 7.5 5.5 7.4 5.6 7.4 6.1 7.4 5.5 7.5 4.1 7.4 2.6 7.4-.8 7.4-3.5 7.5-6.7 7.4-6 7.4M58.2 6.2l-1.1 7.4 2.1 7.4 4 7.5 3.6 7.4 2 7.4 .6 7.4-1 7.5-2.2 7.4-3.2 7.4-3.7 7.4-3.2 7.5-2.6 7.4-1.5 7.4-.3 7.4 1.9 7.5 2.5 7.4 2.1 7.4M58.2 6.2l-5.2 7.4 2 7.4 8.2 7.5 9.3 7.4 7.2 7.4 4.6 7.4 1.4 7.5-1.7 7.4-4.7 7.4-6.9 7.4-7.9 7.5-7.7 7.4-6.1 7.4-3.9 7.4 1.1 7.5 4.3 7.4 6 7.4M58.2 6.2l.1 7.4-5.1 7.4-6.6 7.5-3.9 7.4 .2 7.4 2.5 7.4 4.3 7.5 5.3 7.4 6.1 7.4 5.7 7.4 3.9 7.5 1.1 7.4-1.3 7.4-4.1 7.4-4.7 7.5-3.2 7.4-.3 7.4M58.2 6.2l8.7 7.4 2.1 7.4-4.3 7.5-7.3 7.4-6.7 7.4-5.4 7.4-4.2 7.5-2.7 7.4-1.2 7.4 .7 7.4 2.4 7.5 3.9 7.4 4.9 7.4 5.2 7.4 4.4 7.5 1.3 7.4-1.8 7.4M58.2 6.2l11 7.4 2.1 7.4-7.1 7.5-10.9 7.4-9.2 7.4-6.6 7.4-3.6 7.5-.5 7.4 2.7 7.4 5.6 7.4 7.6 7.5 8.4 7.4 8.3 7.4 4.6 7.4-.1 7.5-5.8 7.4-6.5 7.4M58.2 6.2l-5.1 7.4-6.4 7.4-4.3 7.5-1.2 7.4 1.7 7.4 2.2 7.4 2.7 7.5 3.1 7.4 3.3 7.4 3.6 7.4 3.7 7.5 3.2 7.4 2.3 7.4 .3 7.4-1.5 7.5-3.8 7.4-3.8 7.4M58.2 6.2l10.8 7.4 10.9 7.4 6.1 7.5 .7 7.4-2.9 7.4-4.7 7.4-6.1 7.5-6.8 7.4-7.1 7.4-5.9 7.4-5.2 7.5-3.9 7.4-2.2 7.4-.2 7.4 4.6 7.5 5.8 7.4 6.1 7.4M58.2 6.2l-9.9 7.4-8.8 7.4-3.5 7.5 1.2 7.4 4.4 7.4 4.5 7.4 4.6 7.5 4.6 7.4 4.8 7.4 4.9 7.4 4.2 7.5 2.9 7.4 1.7 7.4-1.1 7.4-3.2 7.5-5.9 7.4-5.4 7.4M58.2 6.2l-13.2 7.4-9.7 7.4 .4 7.5 7.5 7.4 10.3 7.4 10.3 7.4 10 7.5 8.1 7.4 5.2 7.4 1.1 7.4-1.2 7.5-3.7 7.4-6.5 7.4-8.6 7.4-7.3 7.5-3.7 7.4 1 7.4M58.2 6.2l1.4 7.4-2.9 7.4-4.7 7.5-3.7 7.4-.9 7.4 .7 7.4 2.2 7.5 3.3 7.4 3.9 7.4 4.3 7.4 3.6 7.5 1.9 7.4 .1 7.4-2.3 7.4-3.1 7.5-2.9 7.4-.9 7.4M58.2 6.2l-3.2 7.4-7.5 7.4-7.9 7.5-5.3 7.4-1.9 7.4-1 7.4-.3 7.5 .7 7.4 1.4 7.4 2.5 7.4 3.5 7.5 4.3 7.4 4.8 7.4 4.8 7.4 4.3 7.5 1.8 7.4-1 7.4M58.2 6.2l-11.9 7.4-8.3 7.4-1.7 7.5 3.4 7.4 5.8 7.4 5.5 7.4 5.1 7.5 5.5 7.4 5.4 7.4 4.6 7.4 3.8 7.5 2.4 7.4 1.1 7.4-2 7.4-4.4 7.5-7.5 7.4-6.8 7.4M58.2 6.2l2.4 7.4-4 7.4-7 7.5-5.6 7.4-1.7 7.4 .9 7.4 3.2 7.5 4.9 7.4 5.8 7.4 6.6 7.4 5.3 7.5 2.6 7.4 .1 7.4-3.5 7.4-4.7 7.5-4.2 7.4-1.1 7.4M58.2 6.2l-2.3 7.4-.2 7.4 1.7 7.5 2.6 7.4 2.5 7.4 2.2 7.4 1.7 7.5 1.2 7.4 .4 7.4-.2 7.4-.8 7.5-1.5 7.4-1.8 7.4-2.2 7.4-2 7.5-1.2 7.4-.1 7.4M58.2 6.2l.6 7.4 5 7.4 6.6 7.5 5.7 7.4 4.3 7.4 3.2 7.4 2 7.5 .9 7.4-.5 7.4-1.7 7.4-2.7 7.5-3.9 7.4-4.2 7.4-5.5 7.4-5 7.5-3.7 7.4-1.1 7.4M58.2 6.2l13.6 7.4 12.8 7.4 6.1 7.5-1 7.4-6.5 7.4-8.9 7.4-10.1 7.5-9.6 7.4-8.1 7.4-6.6 7.4-4.4 7.5-1.3 7.4 1.5 7.4 3.7 7.4 8.3 7.5 6.8 7.4 3.7 7.4M58.2 6.2l9.1 7.4 7 7.4 1.8 7.5-2.8 7.4-5.2 7.4-6.1 7.4-5.9 7.5-4.8 7.4-4.1 7.4-2.8 7.4-1.4 7.5 .4 7.4 2 7.4 3.3 7.4 4.9 7.5 3.5 7.4 1.1 7.4M58.2 6.2l6.6 7.4 3.9 7.4-.2 7.5-3.2 7.4-4.5 7.4-4.3 7.4-3.6 7.5-2.9 7.4-2.1 7.4-1.1 7.4 .2 7.5 1.3 7.4 2.3 7.4 2.9 7.4 3.3 7.5 1.7 7.4-.3 7.4M58.2 6.2l-3.3 7.4-6.6 7.4-5.7 7.5-2.1 7.4 1.8 7.4 3.1 7.4 4.2 7.5 4.8 7.4 5.3 7.4 5.4 7.4 4.2 7.5 2.2 7.4 .4 7.4-2.6 7.4-4.1 7.5-4.6 7.4-2.4 7.4M58.2 6.2l-5.5 7.4-9.5 7.4-8.3 7.5-3.8 7.4 .9 7.4 2.3 7.4 3.6 7.5 4.7 7.4 5.5 7.4 6.1 7.4 6.4 7.5 6.1 7.4 4.6 7.4 1.2 7.4-2.1 7.5-6 7.4-6.2 7.4M58.2 6.2l-1.9 7.4-.8 7.4 .9 7.5 1.5 7.4 1.8 7.4 1.6 7.4 1.4 7.5 1 7.4 .6 7.4 .1 7.4-.3 7.5-.8 7.4-1 7.4-1.5 7.4-1.3 7.5-1 7.4-.3 7.4M58.2 6.2l6.5 7.4 3.8 7.4-1.5 7.5-5.3 7.4-6.1 7.4-4.7 7.4-3.2 7.5-1.2 7.4 .9 7.4 2.9 7.4 4.2 7.5 4.7 7.4 4.4 7.4 1.9 7.4-.8 7.5-3.5 7.4-3 7.4M58.2 6.2l10.2 7.4 3.8 7.4-3.5 7.5-7.4 7.4-7.6 7.4-6.3 7.4-5.1 7.5-3.5 7.4-1.8 7.4 .1 7.4 2.1 7.5 3.9 7.4 5 7.4 5.5 7.4 4.8 7.5 1.6 7.4-1.8 7.4M58.2 6.2l13.4 7.4 13 7.4 6.1 7.5-4.2 7.4-12.9 7.4-15.6 7.4-12.7 7.5-9.7 7.4-3.9 7.4 .5 7.4 3.4 7.5 9.3 7.4 11 7.4 9.8 7.4 4 7.5-4.4 7.4-7.1 7.4M58.2 6.2l7.9 7.4 9.1 7.4 5.3 7.5 0 7.4-3.9 7.4-6 7.4-7.3 7.5-7.1 7.4-5.9 7.4-4.8 7.4-3 7.5-.7 7.4 1.4 7.4 3.5 7.4 5.7 7.5 4.3 7.4 1.5 7.4M58.2 6.2l-.1 7.4-2.3 7.4-3.2 7.5-2.6 7.4-1.5 7.4-1 7.4-.6 7.5-.3 7.4 .1 7.4 .7 7.4 1.1 7.5 1.6 7.4 1.9 7.4 2.1 7.4 2.4 7.5 1.5 7.4 .2 7.4M58.2 6.2l4.7 7.4 2 7.4-.9 7.5-2.4 7.4-2.9 7.4-2.5 7.4-2.2 7.5-2 7.4-1.6 7.4-1.3 7.4-.7 7.5 0 7.4 .5 7.4 1.3 7.4 2.9 7.5 2.8 7.4 2.3 7.4M58.2 6.2l9.7 7.4 3.7 7.4-3.8 7.5-7.9 7.4-7.8 7.4-6.2 7.4-4.5 7.5-2.4 7.4-.2 7.4 2.1 7.4 4.2 7.5 5.6 7.4 6 7.4 5.3 7.4 2.5 7.5-2 7.4-4.3 7.4M58.2 6.2l9.4 7.4 8.5 7.4 3.4 7.5-1.9 7.4-5.1 7.4-6.5 7.4-7.1 7.5-5.9 7.4-5.1 7.4-3.9 7.4-2.1 7.5 0 7.4 1.9 7.4 3.6 7.4 5.5 7.5 4 7.4 1.3 7.4M58.2 6.2l-.2 7.4-6.6 7.4-7.9 7.5-4.4 7.4 .9 7.4 3.6 7.4 5.7 7.5 6.9 7.4 7.8 7.4 6.6 7.4 3.9 7.5 .3 7.4-2.6 7.4-5.7 7.4-5.7 7.5-3.2 7.4 .6 7.4M58.2 6.2l-.8 7.4 5.8 7.4 9.1 7.5 8.2 7.4 6 7.4 3.9 7.4 .5 7.5-.6 7.4-.9 7.4-3.9 7.4-5.6 7.5-6.8 7.4-6.9 7.4-6.5 7.4-4 7.5-.6 7.4 3.1 7.4M58.2 6.2l2.8 7.4 4.9 7.4 4.7 7.5 3.1 7.4 1.5 7.4 .5 7.4-.4 7.5-1.3 7.4-2.2 7.4-2.8 7.4-3.2 7.5-3.4 7.4-3.2 7.4-2.6 7.4-1.1 7.5 .6 7.4 2.1 7.4M58.2 6.2l-.1 7.4-3.3 7.4-4.7 7.5-3.8 7.4-2 7.4-1.2 7.4-.5 7.5 .2 7.4 .8 7.4 1.7 7.4 2.4 7.5 2.9 7.4 3.2 7.4 3 7.4 2.4 7.5 .4 7.4-1.4 7.4M58.2 6.2l-6 7.4-6.9 7.4-3.9 7.5 .1 7.4 3.3 7.4 4 7.4 4.3 7.5 4.5 7.4 5 7.4 4.3 7.4 3.3 7.5 1.5 7.4 .1 7.4-2.6 7.4-3.8 7.5-4.5 7.4-2.7 7.4M58.2 6.2l12.5 7.4 11.4 7.4 5.8 7.5-.2 7.4-3.8 7.4-5.6 7.4-6.7 7.5-7.3 7.4-7.2 7.4-5.9 7.4-5.2 7.5-3.8 7.4-2 7.4 .2 7.4 5.1 7.5 6.2 7.4 6.5 7.4M58.2 6.2l-1.4 7.4-4.9 7.4-5.5 7.5-3.8 7.4-1 7.4-.2 7.4 .8 7.5 1.6 7.4 2.4 7.4 3.2 7.4 3.7 7.5 3.8 7.4 3.7 7.4 2.6 7.4 .6 7.5-2.2 7.4-3.4 7.4M58.2 6.2l4.3 7.4 6.1 7.4 4 7.5 .4 7.4-2.5 7.4-4.3 7.4-5.3 7.5-4.9 7.4-4.1 7.4-3.1 7.4-1.5 7.5 .3 7.4 1.8 7.4 3.1 7.4 3.8 7.5 2.1 7.4-.2 7.4M58.2 6.2l5 7.4-.9 7.4-5 7.5-6 7.4-4.8 7.4-4 7.4-3.3 7.5-2.6 7.4-1.7 7.4-.7 7.4 .5 7.5 1.8 7.4 2.9 7.4 3.9 7.4 6.4 7.5 5.2 7.4 3.3 7.4M58.2 6.2l-.6 7.4 3.8 7.4 5.8 7.5 4.6 7.4 2.4 7.4 .2 7.4-1.9 7.5-3.5 7.4-4.7 7.4-5.2 7.4-4.5 7.5-3.5 7.4-2.1 7.4-.3 7.4 2.9 7.5 3.5 7.4 3.1 7.4M58.2 6.2l-3.5 7.4-8.8 7.4-9.1 7.5-5.6 7.4-.9 7.4 .8 7.4 2.2 7.5 3.6 7.4 4.9 7.4 5.8 7.4 6.5 7.5 6.5 7.4 6 7.4 3.1 7.4-.3 7.5-5 7.4-6.2 7.4M58.2 6.2l-12.8 7.4-11.9 7.4-4.6 7.5 2.6 7.4 7.2 7.4 7.6 7.4 7.6 7.5 8.1 7.4 8.1 7.4 6.6 7.4 4.8 7.5 1.9 7.4-.4 7.4-4.6 7.4-6.8 7.5-8.2 7.4-5.2 7.4M58.2 6.2l5.2 7.4 .3 7.4-4 7.5-5.4 7.4-4.4 7.4-3.3 7.4-1.9 7.5-.7 7.4 .7 7.4 2.1 7.4 3.2 7.5 4 7.4 4 7.4 3.4 7.4 1.4 7.5-1.6 7.4-3 7.4M58.2 6.2l14.3 7.4 12.1 7.4 6.1 7.5 .2 7.4-4.2 7.4-6.1 7.4-7.2 7.5-7.8 7.4-7.8 7.4-6.4 7.4-5.6 7.5-4.3 7.4-2.6 7.4-.2 7.4 5.6 7.5 6.6 7.4 7.3 7.4M58.2 6.2l-3.8 7.4-.4 7.4 3.6 7.5 5.2 7.4 4.3 7.4 2.6 7.4 .4 7.5-1.7 7.4-3.6 7.4-4.5 7.4-4.2 7.5-3.3 7.4-1.8 7.4-.1 7.4 2.7 7.5 2.8 7.4 1.8 7.4M58.2 6.2l4.7 7.4 9.9 7.4 9.4 7.5 5.3 7.4 1.3 7.4-1.8 7.4-4.2 7.5-6.3 7.4-7.7 7.4-8.3 7.4-7.1 7.5-5.8 7.4-4.1 7.4-1.5 7.4 3.9 7.5 5.8 7.4 6.5 7.4M58.2 6.2l3 7.4 4 7.4 2.8 7.5 .8 7.4-.7 7.4-1.8 7.4-2.5 7.5-2.9 7.4-3 7.4-2.5 7.4-2 7.5-1.4 7.4-.5 7.4 .5 7.4 2.2 7.5 2.2 7.4 1.8 7.4M58.2 6.2l-.2 7.4 3.2 7.4 4.4 7.5 3.3 7.4 1.4 7.4-.4 7.4-2 7.5-3.2 7.4-4 7.4-3.9 7.4-3.1 7.5-2.2 7.4-1 7.4 .5 7.4 2.7 7.5 2.7 7.4 1.8 7.4M58.2 6.2l5.4 7.4 5.4 7.4 3.2 7.5 .5 7.4-1.2 7.4-2 7.4-2.7 7.5-3.1 7.4-3.3 7.4-3.1 7.4-2.6 7.5-2.1 7.4-1.5 7.4-.4 7.4 1.8 7.5 2.6 7.4 3.1 7.4M58.2 6.2l9.1 7.4 12.3 7.4 7.3 7.5-.7 7.4-6.6 7.4-9.9 7.4-11.3 7.5-9.3 7.4-7.5 7.4-4.7 7.4-1 7.5 2.8 7.4 5.6 7.4 7.4 7.4 6.8 7.5 2.3 7.4-2.6 7.4M58.2 6.2l10.6 7.4 11.7 7.4 7.2 7.5 1.2 7.4-3 7.4-5.4 7.4-7.1 7.5-8 7.4-8.1 7.4-6.7 7.4-5.6 7.5-4 7.4-1.8 7.4 .7 7.4 5.8 7.5 6.6 7.4 5.9 7.4M58.2 6.2l-6 7.4-13.9 7.4-11 7.5-1.2 7.4 5.6 7.4 10.1 7.4 11.9 7.5 13.3 7.4 11.9 7.4 7.4 7.4 .7 7.5-2.7 7.4-7.9 7.4-10.8 7.4-8.4 7.5-2.6 7.4 3.6 7.4M58.2 6.2l-7.8 7.4-1.5 7.4 5.8 7.5 8.9 7.4 8.6 7.4 6.6 7.4 3.7 7.5 .6 7.4-2.7 7.4-5.4 7.4-7.1 7.5-7.7 7.4-6.5 7.4-4.5 7.4 .1 7.5 3.4 7.4 5.5 7.4M58.2 6.2l11.8 7.4 11.7 7.4 5.8 7.5-.8 7.4-5.1 7.4-7.2 7.4-8.6 7.5-8.6 7.4-7.1 7.4-6.1 7.4-4.4 7.5-2.1 7.4 .3 7.4 2.9 7.4 7 7.5 6.4 7.4 4.1 7.4M58.2 6.2l-9 7.4-4.5 7.4 2.8 7.5 7.3 7.4 8.4 7.4 7.7 7.4 6 7.5 3.5 7.4 .6 7.4-2.4 7.4-4.6 7.5-6.3 7.4-6.7 7.4-5.6 7.4-2.4 7.5 1.1 7.4 4.1 7.4M58.2 6.2l5.3 7.4 2 7.4-2.4 7.5-4.8 7.4-4.4 7.4-3.4 7.4-2.1 7.5-.7 7.4 .8 7.4 2.2 7.4 3.3 7.5 3.7 7.4 3.6 7.4 2.2 7.4 0 7.5-2.5 7.4-2.8 7.4M58.2 6.2l11.1 7.4 .2 7.4-10.3 7.5-12.9 7.4-9.4 7.4-5.1 7.4-.5 7.5 3.9 7.4 7.6 7.4 10 7.4 11.2 7.5 9.6 7.4 5.7 7.4-1.1 7.4-6 7.5-8.9 7.4-5.1 7.4M58.2 6.2l7.2 7.4 6.3 7.4 2.8 7.5-.8 7.4-2.9 7.4-4 7.4-4.5 7.5-4.6 7.4-3.7 7.4-3.3 7.4-2.4 7.5-1.4 7.4-.1 7.4 1.2 7.4 3.7 7.5 3.7 7.4 2.8 7.4M58.2 6.2l7.8 7.4-1.4 7.4-8.4 7.5-9.6 7.4-7.3 7.4-4.9 7.4-2.8 7.5-.3 7.4 1.9 7.4 4.2 7.4 6.1 7.5 7.3 7.4 7.3 7.4 6.2 7.4 2.5 7.5-3 7.4-5.6 7.4M58.2 6.2l-5.9 7.4-12.2 7.4-10.4 7.5-3.5 7.4 3.6 7.4 6.2 7.4 8.1 7.5 9.3 7.4 10.2 7.4 9.8 7.4 7.1 7.5 3.1 7.4-.5 7.4-5.8 7.4-8 7.5-7.8 7.4-3.3 7.4M58.2 6.2l-2.1 7.4 4 7.4 7.9 7.5 7.8 7.4 6 7.4 4.3 7.4 2.5 7.5 .6 7.4-1.5 7.4-3.3 7.4-4.6 7.5-6 7.4-6.2 7.4-6.2 7.4-4.3 7.5-1.1 7.4 2.2 7.4M58.2 6.2l-6.9 7.4-2.3 7.4 4.4 7.5 7.8 7.4 7.8 7.4 5.6 7.4 2.7 7.5-.6 7.4-3.8 7.4-6.1 7.4-7.1 7.5-6 7.4-4.5 7.4-1.9 7.4 2.7 7.5 4.3 7.4 3.9 7.4M58.2 6.2l5.2 7.4 4.3 7.4 1 7.5-2.3 7.4-4 7.4-4.4 7.4-3.6 7.5-3 7.4-1.9 7.4-.7 7.4 .8 7.5 2 7.4 2.7 7.4 3 7.4 2.3 7.5 .1 7.4-1.5 7.4M58.2 6.2l-9.6 7.4-12 7.4-7.5 7.5-1 7.4 4.5 7.4 5.8 7.4 6.6 7.5 7.2 7.4 7.7 7.4 8 7.4 6.6 7.5 4.2 7.4 1.8 7.4-2.7 7.4-5.6 7.5-8.1 7.4-5.9 7.4M58.2 6.2l9.6 7.4 1.5 7.4-6.1 7.5-9.2 7.4-7.8 7.4-6 7.4-3.9 7.5-1.6 7.4 .8 7.4 3.1 7.4 5.2 7.5 6.5 7.4 6.7 7.4 6 7.4 2.6 7.5-2.4 7.4-5 7.4M58.2 6.2l6 7.4 4.1 7.4 .2 7.5-3 7.4-4.4 7.4-4.4 7.4-3.6 7.5-2.8 7.4-1.9 7.4-.7 7.4 .7 7.5 1.9 7.4 2.7 7.4 3.1 7.4 2.6 7.5 .7 7.4-1.2 7.4M58.2 6.2l12.3 7.4 9.4 7.4 2.5 7.5-3.2 7.4-6.2 7.4-7.3 7.4-7.7 7.5-6.2 7.4-5.5 7.4-4.3 7.4-2.8 7.5-.8 7.4 1.2 7.4 3.1 7.4 6.5 7.5 5.5 7.4 3.5 7.4M58.2 6.2l-2.1 7.4-7.2 7.4-8.2 7.5-5.9 7.4-2.1 7.4-1 7.4 .2 7.5 1.3 7.4 2.4 7.4 3.6 7.4 4.6 7.5 5.3 7.4 5.4 7.4 4.8 7.4 3 7.5-.7 7.4-3.4 7.4M58.2 6.2l-7.2 7.4-5.4 7.4-.4 7.5 3.4 7.4 5.2 7.4 5 7.4 5.3 7.5 4.6 7.4 3.4 7.4 1.7 7.4 .3 7.5-1.6 7.4-2.8 7.4-4.2 7.4-4.1 7.5-2.8 7.4-.4 7.4M58.2 6.2l-7.5 7.4-5.1 7.4 .1 7.5 4.1 7.4 5.6 7.4 5.5 7.4 5.5 7.5 4.5 7.4 3 7.4 1.3 7.4-.4 7.5-2.3 7.4-3.3 7.4-4.7 7.4-4.1 7.5-2.4 7.4 .2 7.4M58.2 6.2l-12.7 7.4-9.6 7.4-2.2 7.5 3.9 7.4 7 7.4 6.8 7.4 6.5 7.5 7.3 7.4 6.5 7.4 5.2 7.4 3.8 7.5 1.5 7.4-.2 7.4-3.9 7.4-6 7.5-8 7.4-5.9 7.4M58.2 6.2l-11.6 7.4-9.5 7.4-1.1 7.5 6.2 7.4 9.5 7.4 9.5 7.4 9.6 7.5 7.8 7.4 4.7 7.4 1.3 7.4-2.1 7.5-5.3 7.4-7 7.4-7.9 7.4-5.6 7.5-1.4 7.4 2.9 7.4M58.2 6.2l4.8 7.4-7.4 7.4-13.3 7.5-11 7.4-3.1 7.4 1.4 7.4 4.6 7.5 9 7.4 10.9 7.4 12.3 7.4 10.7 7.5 6.1 7.4 0 7.4-4.7 7.4-8.8 7.5-8.6 7.4-2.9 7.4M58.2 6.2l7.7 7.4 .4 7.4-5.6 7.5-7.5 7.4-6.5 7.4-5.3 7.4-4.3 7.5-3.2 7.4-2 7.4 .3 7.4 .8 7.5 2.4 7.4 4 7.4 5.2 7.4 6.9 7.5 4.8 7.4 1.9 7.4M58.2 6.2l6.2 7.4-1 7.4-6.4 7.5-7.4 7.4-6 7.4-4.6 7.4-3.5 7.5-2.1 7.4-.8 7.4 .8 7.4 2.4 7.5 3.9 7.4 4.9 7.4 5.4 7.4 5.6 7.5 3 7.4-.4 7.4M58.2 6.2l11.2 7.4 6.8 7.4-1.8 7.5-8.1 7.4-10 7.4-8.2 7.4-6.1 7.5-3.4 7.4-.2 7.4 2.9 7.4 5.6 7.5 7.2 7.4 7.3 7.4 5.3 7.4 1 7.5-4.2 7.4-5.3 7.4M58.2 6.2l-12.2 7.4-8.3 7.4 2.8 7.5 10.9 7.4 13.3 7.4 12 7.4 8.2 7.5 2.8 7.4-3.1 7.4-8 7.4-10.8 7.5-10.9 7.4-8.2 7.4-4.3 7.4 3.1 7.5 6.4 7.4 6.3 7.4M58.2 6.2l5.4 7.4 5.4 7.4 3.6 7.5 1.4 7.4-.1 7.4-.8 7.4-1.2 7.5-1.8 7.4-2.1 7.4-2.5 7.4-2.5 7.5-2.5 7.4-2.3 7.4-1.8 7.4-.6 7.5 .6 7.4 1.8 7.4M58.2 6.2l6.6 7.4 6.7 7.4 2.3 7.5-2.9 7.4-5.9 7.4-6.9 7.4-5.7 7.5-4.4 7.4-2.6 7.4-.2 7.4 2.1 7.5 4 7.4 4.8 7.4 4.5 7.4 2.2 7.5-1.4 7.4-3.2 7.4M58.2 6.2l6.9 7.4 5.4 7.4 1.1 7.5-2.7 7.4-4.6 7.4-5.2 7.4-4.5 7.5-3.7 7.4-2.9 7.4-1.5 7.4-.2 7.5 1.4 7.4 2.6 7.4 3.3 7.4 3.5 7.5 1.7 7.4-.6 7.4M58.2 6.2l-8.3 7.4-14 7.4-8.6 7.5 1 7.4 9.3 7.4 11.7 7.4 12.7 7.5 13 7.4 9.3 7.4 3.8 7.4-1.8 7.5-7.3 7.4-10 7.4-10.5 7.4-5.9 7.5 .1 7.4 5.5 7.4M58.2 6.2l-3.6 7.4 3.4 7.4 8.7 7.5 8.1 7.4 4.6 7.4 .6 7.4-3.2 7.5-6.2 7.4-8.2 7.4-7.9 7.4-6.2 7.5-3.9 7.4-.9 7.4 2.3 7.4 5.8 7.5 4.8 7.4 1.8 7.4M58.2 6.2l4.3 7.4 10.5 7.4 10.9 7.5 7.3 7.4 .9 7.4-.5 7.4-.7 7.5-3.1 7.4-6.9 7.4-8.1 7.4-8.7 7.5-8 7.4-6.4 7.4-4.3 7.4 1 7.5 4.5 7.4 7.3 7.4M58.2 6.2l-.9 7.4 7.3 7.4 10.4 7.5 7.8 7.4 3.4 7.4-.8 7.4-4.6 7.5-7.5 7.4-9.4 7.4-9 7.4-7.3 7.5-5.2 7.4-2.2 7.4 1.3 7.4 6.3 7.5 6.4 7.4 4 7.4M58.2 6.2l1.6 7.4 5.4 7.4 6.3 7.5 5.1 7.4 3.4 7.4 2.1 7.4 1 7.5-.2 7.4-1.5 7.4-2.6 7.4-3.4 7.5-4.2 7.4-4.4 7.4-4.6 7.4-3.5 7.5-1.4 7.4 .9 7.4M58.2 6.2l3.7 7.4-.9 7.4-4.2 7.5-4.8 7.4-3.4 7.4-2.2 7.4-.9 7.5 .4 7.4 1.6 7.4 2.7 7.4 3.5 7.5 3.8 7.4 3.8 7.4 2.3 7.4 .2 7.5-2.4 7.4-3.2 7.4M58.2 6.2l-.7 7.4-6.7 7.4-8.7 7.5-6.6 7.4-2.6 7.4-.8 7.4 .7 7.5 2.2 7.4 3.7 7.4 4.9 7.4 5.9 7.5 6.3 7.4 6.1 7.4 4.3 7.4 1 7.5-3.6 7.4-5.4 7.4M58.2 6.2l-11.2 7.4-10.2 7.4-4.5 7.5 .6 7.4 4.2 7.4 4.2 7.4 4.3 7.5 4.4 7.4 4.5 7.4 4.6 7.4 4.8 7.5 4 7.4 2.9 7.4 .4 7.4-1.9 7.5-5.3 7.4-5.8 7.4M58.2 6.2l-7 7.4-10.2 7.4-7.5 7.5-2.2 7.4 2.9 7.4 4.3 7.4 5.4 7.5 6.1 7.4 6.6 7.4 7.2 7.4 6.5 7.5 4.4 7.4 2.3 7.4-1.7 7.4-4.6 7.5-7.1 7.4-5.4 7.4M58.2 6.2l8.9 7.4 3.9 7.4-2 7.5-5.3 7.4-6.1 7.4-5.2 7.4-4.5 7.5-3.6 7.4-2.7 7.4-1.5 7.4-.1 7.5 1.4 7.4 2.6 7.4 3.7 7.4 5.3 7.5 3.7 7.4 1.5 7.4M58.2 6.2l6.1 7.4 4 7.4 .3 7.5-2.5 7.4-3.9 7.4-4.1 7.4-3.4 7.5-2.9 7.4-2.2 7.4-1.4 7.4-.3 7.5 .8 7.4 1.7 7.4 2.4 7.4 3.2 7.5 1.9 7.4 .3 7.4M58.2 6.2l2.3 7.4-1.4 7.4-3.5 7.5-3.7 7.4-2.1 7.4-1.1 7.4 .1 7.5 1.1 7.4 2 7.4 2.7 7.4 3.1 7.5 3.2 7.4 2.5 7.4 .8 7.4-.9 7.5-2.6 7.4-2.5 7.4M58.2 6.2l2.4 7.4 7.8 7.4 7.7 7.5 3.6 7.4-.8 7.4-4.2 7.4-6.6 7.5-7.9 7.4-7 7.4-5.6 7.4-3.6 7.5-1 7.4 1.8 7.4 3.9 7.4 5.8 7.5 3.6 7.4 .1 7.4M58.2 6.2l-.2 7.4-4.4 7.4-6 7.5-5.2 7.4-2.8 7.4-2.2 7.4-1.5 7.5-.8 7.4-.1 7.4 .8 7.4 1.7 7.5 2.8 7.4 3.4 7.4 4.1 7.4 5.2 7.5 3.6 7.4 1.6 7.4M58.2 6.2l-4.7 7.4-5.9 7.4-2.5 7.5 1.7 7.4 4.5 7.4 5 7.4 5.4 7.5 5 7.4 3.3 7.4 1.2 7.4-.9 7.5-3 7.4-4 7.4-4.4 7.4-2.6 7.5-.2 7.4 2.1 7.4M58.2 6.2l1.7 7.4-8.6 7.4-12.3 7.5-8.7 7.4-1.5 7.4 2.7 7.4 6.1 7.5 8.8 7.4 10.2 7.4 11.3 7.4 9.3 7.5 4.9 7.4 .6 7.4-5.6 7.4-8.1 7.5-8 7.4-2.8 7.4M58.2 6.2l-3.6 7.4-3 7.4-.6 7.5 1.4 7.4 2.4 7.4 2.4 7.4 2.6 7.5 2.5 7.4 1.9 7.4 1.3 7.4 .5 7.5-.4 7.4-1 7.4-2 7.4-2.1 7.5-1.7 7.4-.6 7.4M58.2 6.2l3.4 7.4 3.7 7.4 2.7 7.5 1.2 7.4 .3 7.4-.3 7.4-.6 7.5-1.1 7.4-1.4 7.4-1.6 7.4-1.8 7.5-1.9 7.4-1.7 7.4-1.5 7.4-.6 7.5 .1 7.4 1.1 7.4M58.2 6.2l10.1 7.4 6.4 7.4 1.1 7.5-2.7 7.4-4.5 7.4-4.9 7.4-5 7.5-4.2 7.4-3.7 7.4-3.3 7.4-2.5 7.5-1.5 7.4-.4 7.4 1.1 7.4 4.4 7.5 4.8 7.4 4.8 7.4M58.2 6.2l-11.7 7.4-7.6 7.4-.1 7.5 5.1 7.4 7.1 7.4 6.7 7.4 7.1 7.5 6.5 7.4 5.5 7.4 4 7.4 2.5 7.5 .2 7.4-1.3 7.4-4.7 7.4-6.4 7.5-7.7 7.4-5.2 7.4M58.2 6.2l-8.9 7.4-7.4 7.4-2.6 7.5 1.3 7.4 3.8 7.4 3.7 7.4 3.6 7.5 3.6 7.4 3.6 7.4 3.9 7.4 3.4 7.5 2.5 7.4 1.7 7.4-.4 7.4-2.3 7.5-4.7 7.4-4.8 7.4M58.2 6.2l-3.8 7.4-7.1 7.4-5.4 7.5-1.2 7.4 3 7.4 4.3 7.4 5.3 7.5 5.7 7.4 6.1 7.4 4.8 7.4 2.8 7.5 .3 7.4-1.9 7.4-4.3 7.4-4.7 7.5-3.4 7.4-.5 7.4M58.2 6.2l-6.1 7.4-5.4 7.4-1.7 7.5 1.6 7.4 3.7 7.4 3.7 7.4 3.8 7.5 4.1 7.4 3.6 7.4 2.9 7.4 1.8 7.5 .4 7.4-.7 7.4-2.6 7.4-3.4 7.5-3.6 7.4-2.1 7.4M58.2 6.2l-10.2 7.4-2.6 7.4 6.6 7.5 10.9 7.4 10.9 7.4 8.7 7.4 5.6 7.5 1.9 7.4-2.1 7.4-5.6 7.4-7.9 7.5-9.4 7.4-8.7 7.4-6.4 7.4-1.3 7.5 3.1 7.4 6.5 7.4M58.2 6.2l4.4 7.4 7.3 7.4 6.8 7.5 4.5 7.4 2.4 7.4 1 7.4-.2 7.5-1.4 7.4-2.5 7.4-3.4 7.4-4.1 7.5-4.6 7.4-4.6 7.4-4.3 7.4-2.7 7.5-.5 7.4 1.9 7.4M58.2 6.2l-.6 7.4 2 7.4 3.3 7.5 2.7 7.4 1.5 7.4 .2 7.4-1 7.5-2.1 7.4-2.8 7.4-3 7.4-2.5 7.5-1.9 7.4-1.2 7.4 0 7.4 1.8 7.5 2 7.4 1.6 7.4M58.2 6.2l-2 7.4-3.5 7.4-2.5 7.5-.2 7.4 1.8 7.4 2.4 7.4 2.8 7.5 3.1 7.4 2.8 7.4 2 7.4 .8 7.5-.5 7.4-1.5 7.4-2.5 7.4-2.2 7.5-1.1 7.4 .3 7.4M58.2 6.2l13.7 7.4 12.7 7.4 4.8 7.5-6.3 7.4-12.2 7.4-14 7.4-11.3 7.5-8.7 7.4-5 7.4 .3 7.4 3.9 7.5 8.1 7.4 9.7 7.4 9.1 7.4 4.5 7.5-2.9 7.4-6.4 7.4M58.2 6.2l-.2 7.4 6.9 7.4 9 7.5 5.7 7.4 1 7.4-3.1 7.4-6.5 7.5-8.4 7.4-8.1 7.4-6.5 7.4-4.4 7.5-1.3 7.4 1.9 7.4 4.4 7.4 6.2 7.5 3.6 7.4-.2 7.4M58.2 6.2l-2.4 7.4 2.4 7.4 5.8 7.5 5.9 7.4 4.4 7.4 2.7 7.4 .8 7.5-1 7.4-2.8 7.4-4.2 7.4-5 7.5-5.2 7.4-4.4 7.4-3.1 7.4-.1 7.5 2.2 7.4 4 7.4M58.2 6.2l.7 7.4-8.4 7.4-11.8 7.5-8.7 7.4-1.8 7.4 1.4 7.4 2.2 7.5 6.3 7.4 8.1 7.4 9.3 7.4 10 7.5 8.4 7.4 5.4 7.4-.5 7.4-5.5 7.5-8.1 7.4-7 7.4M58.2 6.2l-2.9 7.4-9.5 7.4-8.8 7.5-3 7.4 3.6 7.4 6.4 7.4 8.2 7.5 9.1 7.4 9.2 7.4 6.4 7.4 2.7 7.5-1.8 7.4-5 7.4-7.6 7.4-6.4 7.5-2.6 7.4 2 7.4M58.2 6.2l-1.1 7.4 .6 7.4 1.9 7.5 2 7.4 1.6 7.4 1 7.4 .3 7.5-.4 7.4-1.1 7.4-1.5 7.4-1.8 7.5-1.8 7.4-1.3 7.4-.9 7.4 .2 7.5 1 7.4 1.3 7.4M58.2 6.2l-6.8 7.4-.5 7.4 5.3 7.5 7.8 7.4 7.6 7.4 6.7 7.4 5.4 7.5 4 7.4 1.7 7.4-1.2 7.4-1.2 7.5-2 7.4-4.6 7.4-6.9 7.4-6.9 7.5-5.9 7.4-2.5 7.4M58.2 6.2l13.9 7.4 8.1 7.4-1.8 7.5-9.1 7.4-11.6 7.4-9.6 7.4-7.7 7.5-5.1 7.4-2 7.4 1.4 7.4 4.6 7.5 7.1 7.4 8.1 7.4 7.4 7.4 3.8 7.5-2.1 7.4-5.4 7.4M58.2 6.2l12.9 7.4 11.9 7.4 6.7 7.5 1.4 7.4-2.1 7.4-3.5 7.4-4.7 7.5-5.5 7.4-6.2 7.4-6.3 7.4-5.8 7.5-4.8 7.4-3.9 7.4-2.4 7.4 1.8 7.5 4.2 7.4 6.3 7.4M58.2 6.2l13.1 7.4 8.7 7.4 1.4 7.5-4.2 7.4-6.7 7.4-7.6 7.4-7.1 7.5-6 7.4-5.3 7.4-4.1 7.4-2.5 7.5-.7 7.4 1.1 7.4 3.1 7.4 6.7 7.5 5.9 7.4 4.2 7.4M58.2 6.2l-9.1 7.4-7.7 7.4-2.9 7.5 1.4 7.4 4 7.4 3.9 7.4 3.9 7.5 4 7.4 4.1 7.4 4.1 7.4 3.7 7.5 2.5 7.4 1.7 7.4-.8 7.4-2.7 7.5-5.2 7.4-4.9 7.4M58.2 6.2l-6.4 7.4 .7 7.4 6.9 7.5 9.1 7.4 8.2 7.4 6.7 7.4 4.8 7.5 2.1 7.4-.9 7.4-1.2 7.4-3.6 7.5-6.1 7.4-6.7 7.4-7.4 7.4-5.7 7.5-2.2 7.4 1.7 7.4M58.2 6.2l4.5 7.4 4.8 7.4 3.4 7.5 1.4 7.4 .1 7.4-.6 7.4-1.2 7.5-1.7 7.4-2.2 7.4-2.4 7.4-2.5 7.5-2.5 7.4-2.1 7.4-1.5 7.4-.3 7.5 .8 7.4 2 7.4" stroke="#000" stroke-opacity="0.75" stroke-width="0.42" fill="none"/>
<path d="M58.2 6.2 55.2 7.5 50.9 9.4 46.2 11.6 42 13.6 38.5 15.5 35.2 17.4 32.2 19.4 29.7 21.3 27.6 23.2 25.9 25.1 24.6 27.0 23.6 28.9 23 30.8 22.7 32.8 22.8 34.7 22.9 36.5 23.2 38.0 23.6 39.3 24.2 40.6 25 42.0 25.9 43.4 27.1 44.9 28.4 46.4 30 48.2 32 50.3 34.2 52.6 36.6 55.0 39.1 57.3 41.7 59.6 44.4 62.0 47.1 64.3 49.7 66.5 52.2 68.5 54.7 70.5 57 72.3 58.9 74.0 60.4 75.6 61.4 77.0 62.4 78.4 63.4 80.0 64.6 81.7 65.8 83.4 66.9 85.4 67.9 88.0 68.7 91.4 69.4 95.4 69.9 99.5 70.2 103.3 70.2 106.7 69.9 109.8 69.4 112.8 68.7 115.5 67.9 117.9 66.9 120.0 65.8 122.0 64.5 124.0 62.9 126.3 61.1 128.7 59.4 130.9 58.2 132.4" stroke="#f00" stroke-width="1.05" fill="none"/>
<path d="M58.2 6.2 61.5 7.5 66.2 9.4 71.2 11.6 75.6 13.6 79.2 15.5 82.4 17.4 85.3 19.4 87.8 21.3 89.9 23.2 91.5 25.1 92.8 27.0 93.9 28.9 94.7 30.8 95.2 32.8 95.4 34.7 95.4 36.5 95.1 38.0 94.5 39.3 93.7 40.6 93 42.0 92.4 43.4 91.9 44.7 91.1 46.2 90 48.2 88.4 50.9 86.4 54.0 84.1 57.3 81.6 60.4 78.8 63.2 75.6 65.9 72.5 68.5 69.5 71.0 66.7 73.4 64.1 75.7 61.7 77.9 59.6 80.0 58.1 82.0 56.9 84.0 56 85.9 55 88.0 53.9 90.2 52.9 92.4 51.9 94.8 51.1 97.2 50.3 99.8 49.6 102.5 49.1 105.2 48.8 107.9 48.8 110.5 49 113.1 49.4 115.6 50 118.0 50.8 120.2 51.8 122.2 52.9 124.2 54 126.0 55.1 127.9 56.4 129.7 57.5 131.3 58.2 132.4" stroke="#f00" stroke-width="1.05" fill="none"/>
<path d="M58.2 6.2 57.3 6.9 56 7.8 54.5 8.9 53 10.0 51.6 11.1 50.2 12.4 48.8 13.7 47.5 15.0 46.4 16.4 45.3 17.8 44.3 19.3 43.5 21.0 42.7 22.7 42 24.6 41.5 26.6 41.2 29.0 41.1 31.9 41.2 35.2 41.5 38.6 42.2 42.2 43.3 45.9 44.9 49.9 46.6 53.8 48.2 57.3 49.7 60.3 51.2 62.8 52.7 65.3 54.3 68.0 56.3 71.0 58.4 74.2 60.5 77.3 61.9 80.0 62.5 82.1 62.5 83.8 62.4 85.6 62.5 88.0 63 91.3 63.7 95.2 64.4 99.3 64.9 103.3 65.3 107.3 65.6 111.4 65.7 115.2 65.6 118.5 65.1 120.9 64.4 122.8 63.4 124.4 62.5 126.0 61.4 127.8 60.2 129.7 59 131.3 58.2 132.4" stroke="#f00" stroke-width="1.05" fill="none"/>
<path d="M58.2 6.2 59.2 6.9 60.5 7.8 62 8.9 63.5 10.0 64.9 11.1 66.3 12.4 67.7 13.7 69 15.0 70.2 16.4 71.3 17.8 72.4 19.3 73.5 21.0 74.6 23.0 75.8 25.1 76.8 27.5 77.5 30.0 78 32.8 78.3 35.8 78.3 39.0 77.8 42.2 76.7 45.5 75 49.0 73 52.5 71 55.8 68.9 59.0 66.6 62.0 64.2 65.0 61.9 68.0 59.5 71.1 57.1 74.1 54.8 77.1 52.8 80.0 51.1 82.7 49.6 85.2 48.3 87.6 47 90.0 45.6 92.1 44.3 94.0 43.2 96.1 42.7 98.7 43 102.2 44 106.3 45.2 110.4 46.5 114.0 47.7 116.9 49.1 119.4 50.5 121.7 52 124.0 53.7 126.4 55.5 128.8 57.1 130.9 58.2 132.4" stroke="#f00" stroke-width="1.05" fill="none"/>
<path d="M58.2 6.2 58 6.5 57.7 6.8 57.1 7.5 55.7 9.1 53.1 11.9 49.7 15.7 46.2 19.6 43.5 22.8 41.9 25.1 41 26.8 40.3 28.4 39.5 30.0 38.6 31.6 37.7 33.1 36.8 34.7 35.9 36.5 35 38.7 34 41.1 33.2 43.6 32.5 46.0 32.1 48.2 31.9 50.3 31.8 52.3 31.8 54.3 31.8 55.9 31.9 57.2 32.1 58.9 32.5 61.3 33.1 65.0 34 69.6 35 74.4 36 78.5 37.1 81.7 38.4 84.5 39.6 87.2 40.8 90.0 41.8 93.1 42.7 96.2 43.7 99.5 45 103.0 46.7 106.7 48.7 110.7 50.7 114.7 52.5 118.5 54.2 122.4 55.8 126.4 57.3 129.9 58.2 132.4" stroke="#00c400" stroke-opacity="1" stroke-width="1.0" fill="none"/>
<path d="M58.2 6.2 58.4 6.5 58.5 6.8 59 7.5 60.3 9.1 62.7 11.8 66.1 15.3 69.5 19.1 72.5 22.8 74.8 26.3 76.8 29.8 78.5 33.2 80.1 36.5 81.5 39.5 82.7 42.3 83.7 45.1 84.5 48.0 85 51.2 85.4 54.5 85.5 57.9 85.5 61.3 85.3 64.7 85 68.0 84.5 71.5 84 75.0 83.6 78.6 83.1 82.2 82.5 86.0 81.5 90.0 80 94.4 78.1 99.0 76 103.7 74 107.9 72.1 111.7 70.2 115.2 68.3 118.5 66.4 121.6 64.2 124.8 61.9 127.9 59.7 130.5 58.2 132.4" stroke="#00c400" stroke-opacity="1" stroke-width="1.0" fill="none"/>
</g>
<rect x="16.5" y="6.5" width="84.0" height="126.0" fill="none" stroke="#747474" stroke-width="0.75"/>
<path d="M16.5,132.5v-2.0M16.5,6v2.0M23.5,132.5v-1.2M23.5,6v1.2M30.4,132.5v-2.0M30.4,6v2.0M37.4,132.5v-1.2M37.4,6v1.2M44.3,132.5v-2.0M44.3,6v2.0M51.3,132.5v-1.2M51.3,6v1.2M58.2,132.5v-2.0M58.2,6v2.0M65.2,132.5v-1.2M65.2,6v1.2M72.2,132.5v-2.0M72.2,6v2.0M79.1,132.5v-1.2M79.1,6v1.2M86.1,132.5v-2.0M86.1,6v2.0M93.0,132.5v-1.2M93.0,6v1.2M100.0,132.5v-2.0M100.0,6v2.0M16.5,132.5h2.0M100,132.5h-2.0M16.5,119.8h1.2M100,119.8h-1.2M16.5,107.2h2.0M100,107.2h-2.0M16.5,94.5h1.2M100,94.5h-1.2M16.5,81.9h2.0M100,81.9h-2.0M16.5,69.2h1.2M100,69.2h-1.2M16.5,56.6h2.0M100,56.6h-2.0M16.5,44.0h1.2M100,44.0h-1.2M16.5,31.3h2.0M100,31.3h-2.0M16.5,18.7h1.2M100,18.7h-1.2M16.5,6.0h2.0M100,6.0h-2.0" stroke="#747474" stroke-width="0.6" fill="none"/>
<g class="tl"><text x="16.5" y="139.7" text-anchor="middle">-1.5</text><text x="30.4" y="139.7" text-anchor="middle">-1.0</text><text x="44.3" y="139.7" text-anchor="middle">-0.5</text><text x="58.2" y="139.7" text-anchor="middle">0.0</text><text x="72.2" y="139.7" text-anchor="middle">0.5</text><text x="86.1" y="139.7" text-anchor="middle">1.0</text><text x="100.0" y="139.7" text-anchor="middle">1.5</text><text x="15.2" y="134.5" text-anchor="end">0.0</text><text x="15.2" y="109.2" text-anchor="end">0.2</text><text x="15.2" y="83.9" text-anchor="end">0.4</text><text x="15.2" y="58.6" text-anchor="end">0.6</text><text x="15.2" y="33.3" text-anchor="end">0.8</text><text x="15.2" y="8.0" text-anchor="end">1.0</text></g>
<text class="al" x="54.0" y="144.8">A<tspan font-size="4" dy="1.5">y</tspan></text>
<text class="al" transform="translate(8.2,68.0) rotate(-90)" text-anchor="middle">z/L</text>
<rect x="74.3" y="121.5" width="24.2" height="8.0" fill="#fff" stroke="#aaa" stroke-width="0.45"/>
<path d="M75.5,123.7h3.3" stroke="#00d000" stroke-width="1"/>
<path d="M75.5,126.9h3.3" stroke="#f22" stroke-width="1"/>
<text class="lg" x="79.0" y="124.8" font-size="3.1" textLength="14.1" lengthAdjust="spacingAndGlyphs">First -order</text>
<text class="lg" x="79.0" y="128.0" font-size="3.1" textLength="19.0" lengthAdjust="spacingAndGlyphs">Second -order</text>
<text class="cap" x="29.5" y="164.3">(<tspan font-weight="bold">a</tspan>) f = 0.10f<tspan font-size="6.5" dy="0.8">1</tspan></text><g clip-path="url(#cb)">
<path d="M206.0 7.0 200.7 9.2 193.1 12.4 186.4 15.7 181.4 19.0 177.1 22.3 173.7 25.5 171.4 28.2 170.0 30.7 169.2 33.2 168.8 35.7 169.0 38.2 169.4 41.0 170.0 44.1 170.8 47.5 171.5 50.8 172.0 54.0 172.4 57.0 173.0 60.0 174.0 62.7 175.2 65.2 176.0 68.0 176.2 71.2 176.2 74.6 176.0 78.0 175.7 81.3 175.4 84.7 175.4 88.0 175.9 91.3 176.8 94.7 178.0 98.0 179.4 101.3 181.0 104.7 183.0 108.0 185.4 111.3 188.1 114.7 191.0 118.0 194.4 121.5 198.0 125.1 201.0 128.0 203.2 130.1 204.9 131.5 206.0 132.5 206.0 132.5 206.9 131.5 208.1 130.1 210.0 128.0 212.7 125.1 215.9 121.5 219.0 118.0 221.8 114.7 224.5 111.3 227.0 108.0 229.3 104.7 231.4 101.3 233.2 98.0 234.5 94.7 235.5 91.3 236.2 88.0 236.5 84.6 236.4 81.2 236.2 78.0 235.7 75.2 235.0 72.7 234.5 70.0 234.3 67.0 234.4 63.7 235.0 60.5 236.4 57.3 238.2 54.0 239.9 50.8 241.3 47.5 242.5 44.1 243.2 41.0 243.2 38.2 242.8 35.7 241.8 33.2 240.4 30.7 238.6 28.2 236.0 25.5 232.4 22.3 228.1 19.0 223.3 15.7 217.2 12.4 210.7 9.2 206.0 7.0Z" fill="#d4d4d4"/>
<path d="M206.0 7.0l-9.8 7.4-11.1 7.4-10 7.3-5.4 7.4 .3 7.4 1.6 7.4 2.4 7.4 5.7 7.4 5.1 7.3 5.4 7.4 6.3 7.4 7 7.4 6 7.4 3.5 7.4 .6 7.3-2.7 7.4-4.9 7.4M206.0 7.0l13.2 7.4 10.8 7.4 7.9 7.3 3.1 7.4-1.9 7.4-5.1 7.4-6.4 7.4-4.7 7.4-4.3 7.3-4.8 7.4-5.5 7.4-5.4 7.4-4.2 7.4-2.4 7.4 .4 7.3 3.4 7.4 5.9 7.4M206.0 7.0l14.7 7.4 10.5 7.4 5.6 7.3-.3 7.4-5.1 7.4-7.4 7.4-7.6 7.4-6.3 7.4-6.1 7.3-6.2 7.4-6.1 7.4-4.1 7.4-1.8 7.4 1 7.4 4.2 7.3 7.1 7.4 7.9 7.4M206.0 7.0l2.4 7.4-4.9 7.4-9.3 7.3-9.2 7.4-6.4 7.4-3.5 7.4-1.5 7.4 2.1 7.4 2.3 7.3 3.4 7.4 5 7.4 7.4 7.4 7.6 7.4 6 7.4 2.9 7.3-.6 7.4-3.7 7.4M206.0 7.0l3.5 7.4 9.7 7.4 12 7.3 8.9 7.4 2.1 7.4-2.5 7.4-6.8 7.4-6.6 7.4-7.2 7.3-8.6 7.4-9.6 7.4-8.2 7.4-5.1 7.4-.8 7.4 4 7.3 7.3 7.4 7.9 7.4M206.0 7.0l-15.9 7.4-11.6 7.4-6.9 7.3-.3 7.4 4.7 7.4 6.6 7.4 7.3 7.4 7.9 7.4 7.3 7.3 7.1 7.4 6.7 7.4 4.7 7.4 1.6 7.4-1.6 7.4-4.5 7.3-6.5 7.4-6.6 7.4M206.0 7.0l-3.9 7.4 2.4 7.4 5.8 7.3 6.9 7.4 5.8 7.4 3.3 7.4 .8 7.4 .9 7.4 .9 7.3 .1 7.4-2.1 7.4-4.5 7.4-5.6 7.4-5.3 7.4-4.1 7.3-2 7.4 .6 7.4M206.0 7.0l-13.9 7.4-11.3 7.4-7.5 7.3-1.4 7.4 3.4 7.4 5.5 7.4 6.3 7.4 7.4 7.4 6.8 7.3 6.7 7.4 6.7 7.4 5.1 7.4 2.4 7.4-.7 7.4-3.5 7.3-5.8 7.4-6.2 7.4M206.0 7.0l-7.6 7.4-11.6 7.4-10.9 7.3-5.5 7.4 .6 7.4 4.5 7.4 6.7 7.4 9 7.4 8.8 7.3 9 7.4 8.8 7.4 6.2 7.4 2.2 7.4-1.9 7.4-5.3 7.3-7 7.4-6 7.4M206.0 7.0l3.2 7.4 6.6 7.4 8.1 7.3 7.1 7.4 4.3 7.4 1.1 7.4-1.3 7.4-.4 7.4 .5 7.3 1 7.4-1.6 7.4-4.4 7.4-5.8 7.4-6.3 7.4-5.7 7.3-4.3 7.4-2.1 7.4M206.0 7.0l9 7.4 2.4 7.4-2.4 7.3-5.9 7.4-6.9 7.4-6.2 7.4-5.5 7.4-3.8 7.4-3.7 7.3-3.5 7.4-2.7 7.4 .6 7.4 3.1 7.4 4.6 7.4 6.8 7.3 7.5 7.4 6.6 7.4M206.0 7.0l-16.6 7.4-9.6 7.4-3.5 7.3 2.9 7.4 6.5 7.4 7.5 7.4 7.5 7.4 6.9 7.4 6.4 7.3 6.3 7.4 5.4 7.4 2.8 7.4-.4 7.4-3.2 7.4-5.7 7.3-6.7 7.4-6.5 7.4M206.0 7.0l6.8 7.4 11.9 7.4 12 7.3 5.7 7.4-.7 7.4-7.7 7.4-10.5 7.4-9.9 7.4-10.1 7.3-10.3 7.4-9 7.4-4.5 7.4 .8 7.4 4.5 7.4 8 7.3 8.1 7.4 4.9 7.4M206.0 7.0l8.8 7.4 12.6 7.4 11.1 7.3 3.9 7.4-4.5 7.4-10.3 7.4-12.1 7.4-11 7.4-10.7 7.3-9.3 7.4-6.7 7.4-.4 7.4 3.9 7.4 7.9 7.4 8.9 7.3 6.6 7.4 1.3 7.4M206.0 7.0l-12.6 7.4-12.8 7.4-8.1 7.3 .7 7.4 7.7 7.4 11 7.4 11.9 7.4 10.3 7.4 9.3 7.3 7.7 7.4 3.8 7.4-2.1 7.4-6.6 7.4-8.7 7.4-7.6 7.3-4.4 7.4 .5 7.4M206.0 7.0l-2.8 7.4-10.2 7.4-11.6 7.3-6.8 7.4-.1 7.4 4.9 7.4 8 7.4 10.3 7.4 10.1 7.3 9.7 7.4 8 7.4 3.5 7.4-1.7 7.4-5.7 7.4-7.2 7.3-6 7.4-2.4 7.4M206.0 7.0l-16.3 7.4-10.3 7.4-4.2 7.3 3 7.4 7.3 7.4 8.7 7.4 8.7 7.4 7.8 7.4 7.2 7.3 7 7.4 5.2 7.4 1.6 7.4-2.1 7.4-5 7.4-6.7 7.3-6.9 7.4-5 7.4M206.0 7.0l13.9 7.4 8.4 7.4 1.6 7.3-5.9 7.4-10.7 7.4-11.1 7.4-9.9 7.4-6.8 7.4-5 7.3-2.8 7.4 .1 7.4 5.2 7.4 7.8 7.4 8.3 7.4 6.7 7.3 2.1 7.4-1.9 7.4M206.0 7.0l-16.2 7.4-8.3 7.4-1.9 7.3 4.4 7.4 7.7 7.4 8.3 7.4 7.7 7.4 6.4 7.4 6.4 7.3 6.1 7.4 4.5 7.4 1.1 7.4-2.3 7.4-4.9 7.4-6.6 7.3-6.9 7.4-5.5 7.4M206.0 7.0l4.3 7.4 9.5 7.4 10.7 7.3 7.4 7.4 1.4 7.4-4 7.4-7.2 7.4-6.8 7.4-7.2 7.3-8.3 7.4-8.6 7.4-6.8 7.4-3.4 7.4 .5 7.4 4.5 7.3 7.1 7.4 6.9 7.4M206.0 7.0l14 7.4 11.2 7.4 6.9 7.3-2.4 7.4-9.6 7.4-12.4 7.4-11.9 7.4-10 7.4-8.2 7.3-6 7.4-2.1 7.4 2.2 7.4 7 7.4 9.1 7.4 8.3 7.3 4.5 7.4-.6 7.4M206.0 7.0l-14.4 7.4-10.9 7.4-3.4 7.3 5.7 7.4 11.3 7.4 12.6 7.4 10.2 7.4 7.9 7.4 6 7.3 2.8 7.4-2.2 7.4-7.4 7.4-9.5 7.4-8.5 7.4-5.3 7.3 .1 7.4 5 7.4M206.0 7.0l-12.6 7.4-3.7 7.4 2.5 7.3 6.8 7.4 7.9 7.4 7.3 7.4 5.2 7.4 4.8 7.4 5 7.3 4.6 7.4 2.3 7.4-2.2 7.4-3.8 7.4-5 7.4-7 7.3-6.9 7.4-5.2 7.4M206.0 7.0l-15.3 7.4-4.4 7.4 4.4 7.3 10.6 7.4 11.9 7.4 9.9 7.4 5.9 7.4 4.4 7.4 1.8 7.3 1 7.4-2.1 7.4-7.6 7.4-9.3 7.4-8.3 7.4-5.6 7.3-1.2 7.4 3.9 7.4M206.0 7.0l-4.9 7.4-10.4 7.4-10.5 7.3-5.3 7.4 1 7.4 5.2 7.4 7.7 7.4 9.5 7.4 9.2 7.3 8.9 7.4 7.6 7.4 3.6 7.4-1 7.4-4.8 7.4-6.6 7.3-6.1 7.4-3.1 7.4M206.0 7.0l7.5 7.4 1.7 7.4-2.6 7.3-5.4 7.4-6.2 7.4-5.5 7.4-4.8 7.4-3.1 7.4-3.1 7.3-3 7.4-2.3 7.4 .7 7.4 2.8 7.4 4.6 7.4 6.1 7.3 6.8 7.4 5.8 7.4M206.0 7.0l6.8 7.4 11.1 7.4 10.2 7.3 4.3 7.4-3.5 7.4-8.9 7.4-10.7 7.4-9.7 7.4-9.7 7.3-8.5 7.4-6.1 7.4-.8 7.4 3.8 7.4 7 7.4 8 7.3 5.7 7.4 1 7.4M206.0 7.0l14.7 7.4 10.5 7.4 5.8 7.3-2.4 7.4-8.3 7.4-10.5 7.4-9.8 7.4-9 7.4-7.9 7.3-6.8 7.4-5.2 7.4 .3 7.4 3.1 7.4 5.4 7.4 8.1 7.3 7.5 7.4 4.5 7.4M206.0 7.0l5.9 7.4-3.2 7.4-9.7 7.3-10.9 7.4-8 7.4-4.1 7.4-.7 7.4 3.9 7.4 5.1 7.3 6.8 7.4 8.5 7.4 9.2 7.4 6.8 7.4 2.8 7.4-1.4 7.3-5 7.4-6 7.4M206.0 7.0l-11.5 7.4-1.9 7.4 5.5 7.3 9.9 7.4 10 7.4 7.3 7.4 3.1 7.4 1.8 7.4 .4 7.3-2.1 7.4-5.4 7.4-8 7.4-8 7.4-6.1 7.4-2.5 7.3 2 7.4 5.5 7.4M206.0 7.0l-7.9 7.4 1.4 7.4 7 7.3 9.2 7.4 8.5 7.4 5.5 7.4 2.1 7.4 1.9 7.4 1.5 7.3 .3 7.4-2.7 7.4-6.1 7.4-7.5 7.4-7.1 7.4-5.2 7.3-2.4 7.4 1.5 7.4M206.0 7.0l-16.5 7.4-9.4 7.4-1.5 7.3 6.7 7.4 10.9 7.4 11.4 7.4 9.3 7.4 7.5 7.4 6.5 7.3 4.4 7.4 .4 7.4-4.6 7.4-7.9 7.4-8.5 7.4-6.8 7.3-3.3 7.4 1.4 7.4M206.0 7.0l11.8 7.4 11 7.4 8.9 7.3 4.2 7.4-1.1 7.4-4.8 7.4-6.6 7.4-5.2 7.4-4.8 7.3-5.4 7.4-6.3 7.4-6.1 7.4-4.7 7.4-2.4 7.4 .7 7.3 4.2 7.4 6.6 7.4M206.0 7.0l8.1 7.4-.6 7.4-6.8 7.3-10.1 7.4-9.1 7.4-6.6 7.4-4.4 7.4-.6 7.4 .4 7.3 1.8 7.4 4 7.4 7.2 7.4 8.1 7.4 7.3 7.4 4.2 7.3 .2 7.4-3.1 7.4M206.0 7.0l-12.7 7.4-5.4 7.4 .6 7.3 5.7 7.4 7.6 7.4 7.5 7.4 5.9 7.4 5 7.4 4.7 7.3 4 7.4 1.7 7.4-1.7 7.4-4.4 7.4-5.8 7.4-5.9 7.3-4.6 7.4-2.2 7.4M206.0 7.0l13.3 7.4 11.6 7.4 7.8 7.3 3.7 7.4-1.9 7.4-5.9 7.4-7.4 7.4-5.9 7.4-5.6 7.3-6.2 7.4-6.7 7.4-6 7.4-4.1 7.4-1.5 7.4 2 7.3 5.3 7.4 7.5 7.4M206.0 7.0l14.7 7.4 10.5 7.4 7.5 7.3 1 7.4-5.9 7.4-8.9 7.4-9.4 7.4-8 7.4-8 7.3-7.7 7.4-7 7.4-3.8 7.4-.3 7.4 4.2 7.4 5.9 7.3 7.7 7.4 7.5 7.4M206.0 7.0l13.8 7.4 10.3 7.4 5.7 7.3-.3 7.4-5.6 7.4-8.2 7.4-8.4 7.4-7.1 7.4-7.1 7.3-6.8 7.4-6.1 7.4-3.2 7.4-.1 7.4 2.9 7.4 5.8 7.3 7.5 7.4 6.9 7.4M206.0 7.0l14.2 7.4 8.6 7.4 3.8 7.3-1.6 7.4-5.4 7.4-7 7.4-6.8 7.4-5.6 7.4-5.6 7.3-5.5 7.4-5.2 7.4-3.3 7.4-1.1 7.4 1.5 7.4 4.3 7.3 6.9 7.4 7.8 7.4M206.0 7.0l-6.4 7.4-11.4 7.4-11.6 7.3-6.8 7.4 .2 7.4 2.4 7.4 5.8 7.4 8.7 7.4 8.6 7.3 9.1 7.4 9.2 7.4 7.4 7.4 3.5 7.4-.7 7.4-4.8 7.3-6.6 7.4-6.6 7.4M206.0 7.0l11.4 7.4 .6 7.4-8.1 7.3-13.3 7.4-12.1 7.4-8 7.4-3.7 7.4 2.5 7.4 4 7.3 7.3 7.4 9.9 7.4 11.2 7.4 8.6 7.4 3.7 7.4-1.5 7.3-5.9 7.4-6.6 7.4M206.0 7.0l-1.1 7.4-9.7 7.4-12.3 7.3-8.4 7.4-2.1 7.4 3 7.4 6.5 7.4 9.7 7.4 9.9 7.3 10.1 7.4 9.5 7.4 5.8 7.4 .8 7.4-3.9 7.4-6.7 7.3-6.9 7.4-4.2 7.4M206.0 7.0l10.3 7.4 10.7 7.4 8.9 7.3 4.2 7.4-1.4 7.4-5.3 7.4-7.2 7.4-6.1 7.4-5.9 7.3-6.6 7.4-7.1 7.4-5.9 7.4-3.8 7.4-.8 7.4 2.8 7.3 5.9 7.4 7.3 7.4M206.0 7.0l5.5 7.4 9.3 7.4 10.3 7.3 7.7 7.4 2.8 7.4-1.9 7.4-4.6 7.4-3.8 7.4-3.7 7.3-5 7.4-6.6 7.4-7.4 7.4-6.5 7.4-4.3 7.4-.9 7.3 3 7.4 6.1 7.4M206.0 7.0l13 7.4 10.8 7.4 8.2 7.3 3.2 7.4-1.7 7.4-4.9 7.4-6.4 7.4-4.8 7.4-4.3 7.3-4.7 7.4-5.6 7.4-5.5 7.4-4.4 7.4-2.4 7.4 .3 7.3 3.4 7.4 5.8 7.4M206.0 7.0l.3 7.4 7.5 7.4 10.7 7.3 8.9 7.4 3.7 7.4-1.9 7.4-5.9 7.4-5.9 7.4-6.8 7.3-8.2 7.4-8.9 7.4-7.3 7.4-4 7.4 .2 7.4 4.3 7.3 6.8 7.4 6.5 7.4M206.0 7.0l11.8 7.4 3.8 7.4-3.2 7.3-8.4 7.4-10.2 7.4-8.8 7.4-7.1 7.4-3.7 7.4-2.5 7.3-.9 7.4 1.3 7.4 5.5 7.4 7.5 7.4 7.7 7.4 6.2 7.3 2.4 7.4-1.4 7.4M206.0 7.0l-4 7.4 3.5 7.4 7.2 7.3 8.5 7.4 6.7 7.4 3.5 7.4 .3 7.4 .5 7.4 .4 7.3-.8 7.4-3.4 7.4-5.9 7.4-6.8 7.4-6.1 7.4-4.1 7.3-1.5 7.4 2 7.4M206.0 7.0l-15 7.4-9.3 7.4-4 7.3 1.9 7.4 5.5 7.4 6.7 7.4 6.8 7.4 6.7 7.4 5.9 7.3 6 7.4 5.2 7.4 2.9 7.4 .1 7.4-2.7 7.4-4.8 7.3-6.1 7.4-5.8 7.4M206.0 7.0l11.5 7.4 4.7 7.4-1.2 7.3-6 7.4-8.3 7.4-7.9 7.4-6.9 7.4-4.7 7.4-4.1 7.3-3.3 7.4-2 7.4 1.9 7.4 4.4 7.4 6.2 7.4 6.8 7.3 5.8 7.4 3.1 7.4M206.0 7.0l-14.5 7.4-9.6 7.4-1.7 7.3 7.2 7.4 11.8 7.4 12.1 7.4 9.1 7.4 6.6 7.4 4.5 7.3 1.1 7.4-3.9 7.4-8.3 7.4-9.6 7.4-8 7.4-4 7.3 1.5 7.4 5.7 7.4M206.0 7.0l.2 7.4 8.6 7.4 12.5 7.3 10.7 7.4 4.2 7.4-2.5 7.4-5 7.4-6.4 7.4-7.4 7.3-9.1 7.4-10.3 7.4-9 7.4-5.6 7.4-.8 7.4 4.7 7.3 7.3 7.4 7.9 7.4M206.0 7.0l-16.5 7.4-10.6 7.4-5.3 7.3 .9 7.4 4.9 7.4 6.2 7.4 6.4 7.4 6.9 7.4 6.1 7.3 6 7.4 5.8 7.4 4.1 7.4 1.8 7.4-1 7.4-3.6 7.3-5.7 7.4-6.4 7.4M206.0 7.0l-8.7 7.4-1.2 7.4 3.4 7.3 6.1 7.4 6.5 7.4 5.4 7.4 3.6 7.4 3.6 7.4 4 7.3 3.8 7.4 2.1 7.4-.9 7.4-3.6 7.4-5.3 7.4-6.5 7.3-6.7 7.4-5.6 7.4M206.0 7.0l14.1 7.4 11.1 7.4 7.5 7.3-1.8 7.4-9.7 7.4-12.8 7.4-12.3 7.4-10.5 7.4-8.5 7.3-6.3 7.4-1.3 7.4 1.9 7.4 7.2 7.4 9.3 7.4 8.6 7.3 4.4 7.4-.9 7.4M206.0 7.0l12.4 7.4 7.8 7.4 4 7.3-.4 7.4-3.9 7.4-5.4 7.4-5.5 7.4-4.4 7.4-4.2 7.3-4.3 7.4-4.4 7.4-3.3 7.4-1.8 7.4 0 7.4 2.4 7.3 4.8 7.4 6.2 7.4M206.0 7.0l-9.7 7.4 2 7.4 9.6 7.3 12.3 7.4 10 7.4 4.7 7.4-1.1 7.4-2.7 7.4-4.5 7.3-7.4 7.4-9.9 7.4-9.9 7.4-7.2 7.4-2.6 7.4 2.6 7.3 6.6 7.4 7.2 7.4M206.0 7.0l-8.4 7.4 .7 7.4 6.3 7.3 8.9 7.4 8.3 7.4 5.7 7.4 2.3 7.4 2 7.4 1.6 7.3 .2 7.4-2.8 7.4-5.8 7.4-7.2 7.4-6.8 7.4-4.8 7.3-2 7.4 1.8 7.4M206.0 7.0l-6.5 7.4 1.9 7.4 6.7 7.3 8.5 7.4 7.5 7.4 4.9 7.4 1.7 7.4 1.7 7.4 1.7 7.3 .5 7.4-2.1 7.4-5.2 7.4-6.8 7.4-6.8 7.4-5.3 7.3-2.8 7.4 .4 7.4M206.0 7.0l-16.6 7.4-10.2 7.4-2.1 7.3 5.6 7.4 9.6 7.4 10.4 7.4 9.2 7.4 7.7 7.4 7.3 7.3 6.1 7.4 3.1 7.4-2.2 7.4-4.4 7.4-7.4 7.4-7.7 7.3-5.9 7.4-2.5 7.4" stroke="#000" stroke-opacity="0.75" stroke-width="0.42" fill="none"/>
<path d="M206.0 7.0l-7.7 7.4-12.2 7.4-12 7.3-4.8 7.4 .7 7.4 1.6 7.4 4.8 7.4 8.8 7.4 8.6 7.3 9.1 7.4 9.4 7.4 7.8 7.4 4.1 7.4-.1 7.4-4.9 7.3-6.6 7.4-6.6 7.4M206.0 7.0l6.6 7.4 .8 7.4-3.9 7.3-6.9 7.4-6.7 7.4-5.2 7.4-3.4 7.4-.6 7.4 .4 7.3 1.6 7.4 3.2 7.4 5.4 7.4 5.7 7.4 4.5 7.4 2.1 7.3-.7 7.4-2.9 7.4M206.0 7.0l-8.3 7.4-.1 7.4 4.9 7.3 7.5 7.4 7.4 7.4 5.7 7.4 3.2 7.4 3.2 7.4 3.6 7.3 2.8 7.4 .2 7.4-2.4 7.4-5.3 7.4-6.6 7.4-6.7 7.3-5.7 7.4-3.4 7.4M206.0 7.0l-11.9 7.4-7.3 7.4-.7 7.3 6.2 7.4 9.5 7.4 9.6 7.4 6.9 7.4 5 7.4 3.4 7.3 .7 7.4-3 7.4-6.7 7.4-7.6 7.4-6.3 7.4-3.3 7.3 1 7.4 4.5 7.4M206.0 7.0l-9.4 7.4 3.8 7.4 11.5 7.3 13.9 7.4 10.6 7.4 3.3 7.4-3.8 7.4-1.2 7.4-5 7.3-8.4 7.4-11.1 7.4-11.3 7.4-8.2 7.4-3.3 7.4 3.4 7.3 7.3 7.4 7.9 7.4M206.0 7.0l-13.2 7.4 .5 7.4 10.7 7.3 14.9 7.4 12.9 7.4 6.4 7.4-2.3 7.4-1.7 7.4-6 7.3-9.7 7.4-12.3 7.4-11.8 7.4-7.5 7.4-1.6 7.4 5.5 7.3 7.6 7.4 7.6 7.4M206.0 7.0l13 7.4 7 7.4 .7 7.3-6 7.4-9.7 7.4-9.8 7.4-8.7 7.4-5.9 7.4-4.5 7.3-2.8 7.4-.4 7.4 4.1 7.4 6.6 7.4 7.6 7.4 6.5 7.3 3.1 7.4-.8 7.4M206.0 7.0l.9 7.4-2.8 7.4-4.6 7.3-4.2 7.4-2.3 7.4-.5 7.4 .8 7.4 2.5 7.4 2.8 7.3 3.3 7.4 3.8 7.4 3.5 7.4 2.4 7.4 .5 7.4-1.1 7.3-2.4 7.4-2.6 7.4M206.0 7.0l1.8 7.4 6.3 7.4 8.2 7.3 6.7 7.4 2.9 7.4-1 7.4-3.8 7.4-3.4 7.4-3.8 7.3-5 7.4-6.1 7.4-6.2 7.4-4.7 7.4-2.3 7.4 .8 7.3 4 7.4 5.6 7.4M206.0 7.0l-6.7 7.4-6 7.4-4.2 7.3-1 7.4 1.5 7.4 2.9 7.4 3.3 7.4 4 7.4 3.7 7.3 3.7 7.4 3.6 7.4 2.7 7.4 1.3 7.4-.5 7.4-2 7.3-3.1 7.4-3.2 7.4M206.0 7.0l-9.2 7.4 2.5 7.4 9.8 7.3 12.2 7.4 10.3 7.4 5.3 7.4-1 7.4-1.2 7.4-.7 7.3-4.8 7.4-8.2 7.4-10 7.4-9.1 7.4-6.1 7.4-1.3 7.3 4 7.4 7.5 7.4M206.0 7.0l7.5 7.4 10.3 7.4 10.6 7.3 7.3 7.4 .5 7.4-2.5 7.4-3.8 7.4-4.1 7.4-3.9 7.3-5 7.4-6.7 7.4-7.3 7.4-6.5 7.4-4.3 7.4-1.1 7.3 2.9 7.4 6.1 7.4M206.0 7.0l-5.7 7.4 2.4 7.4 7.1 7.3 8.6 7.4 6.7 7.4 3 7.4-.6 7.4-1.4 7.4-2.3 7.3-4.1 7.4-6.3 7.4-7 7.4-6 7.4-3.5 7.4 .1 7.3 3.5 7.4 5.5 7.4M206.0 7.0l12.7 7.4 11 7.4 6.2 7.3-1.4 7.4-8 7.4-10.8 7.4-10.4 7.4-9.4 7.4-7.9 7.3-6.3 7.4-3.9 7.4 1.4 7.4 5.1 7.4 7.5 7.4 7.9 7.3 5.4 7.4 .9 7.4M206.0 7.0l7.3 7.4 2.1 7.4-2.2 7.3-5.3 7.4-6.2 7.4-5.4 7.4-4.4 7.4-2.3 7.4-1.6 7.3-.8 7.4 .5 7.4 3.2 7.4 4.4 7.4 4.9 7.4 4.1 7.3 2.1 7.4-.4 7.4M206.0 7.0l-2.3 7.4-7.7 7.4-9.9 7.3-8 7.4-4.8 7.4-1.7 7.4 1.2 7.4 2.5 7.4 .7 7.3 2 7.4 4 7.4 6.6 7.4 7.2 7.4 6.6 7.4 4.4 7.3 1.1 7.4-1.9 7.4M206.0 7.0l-14.8 7.4-10.5 7.4-5.4 7.3 1.2 7.4 5.7 7.4 7.4 7.4 7.8 7.4 7.9 7.4 6.9 7.3 6.9 7.4 5.8 7.4 2.9 7.4-.6 7.4-3.6 7.4-5.7 7.3-6.5 7.4-5.4 7.4M206.0 7.0l11.2 7.4 7.7 7.4 1.7 7.3-5.4 7.4-10.1 7.4-10.4 7.4-8.9 7.4-5.4 7.4-3 7.3-.3 7.4 3 7.4 7 7.4 8.3 7.4 6.8 7.4 3 7.3-1.2 7.4-4 7.4M206.0 7.0l-9 7.4-3.4 7.4 .8 7.3 4.2 7.4 5.3 7.4 5.1 7.4 4 7.4 3.4 7.4 3.4 7.3 3.1 7.4 1.6 7.4-.7 7.4-2.7 7.4-4 7.4-4.5 7.3-4 7.4-2.6 7.4M206.0 7.0l-7.6 7.4 1.5 7.4 7.6 7.3 9.7 7.4 7.7 7.4 3 7.4-1.6 7.4-3.1 7.4-4.8 7.3-6.8 7.4-8.2 7.4-7.2 7.4-4.1 7.4-.1 7.4 3.7 7.3 5.7 7.4 4.6 7.4M206.0 7.0l-16.6 7.4-10.2 7.4 .5 7.3 10.3 7.4 14.6 7.4 13.6 7.4 9 7.4 5.9 7.4 2.1 7.3-.1 7.4-6.6 7.4-11 7.4-11.2 7.4-8.5 7.4-2.9 7.3 3.6 7.4 7.5 7.4M206.0 7.0l14.2 7.4 9.7 7.4 4.8 7.3-1.2 7.4-6.2 7.4-8.3 7.4-8.1 7.4-7 7.4-6.8 7.3-6.4 7.4-5.7 7.4-2.8 7.4 .2 7.4 3.2 7.4 5.9 7.3 7.5 7.4 7 7.4M206.0 7.0l2 7.4-5.6 7.4-9.7 7.3-9.3 7.4-6.3 7.4-3.4 7.4-.9 7.4 2.5 7.4 2.4 7.3 3.7 7.4 5.4 7.4 7.7 7.4 7.7 7.4 6 7.4 2.7 7.3-.9 7.4-4 7.4M206.0 7.0l-5.3 7.4-3.1 7.4-1.1 7.3 1 7.4 2.1 7.4 2.5 7.4 2.4 7.4 2.3 7.4 2.1 7.3 2 7.4 1.8 7.4 .8 7.4-.2 7.4-1.2 7.4-1.8 7.3-2.3 7.4-2 7.4M206.0 7.0l-7.1 7.4-6.3 7.4-4 7.3 .1 7.4 3.2 7.4 4.7 7.4 5.2 7.4 5.1 7.4 4.6 7.3 4.3 7.4 3.1 7.4 .8 7.4-1.5 7.4-3.2 7.4-3.9 7.3-3.3 7.4-1.8 7.4M206.0 7.0l12.9 7.4 8.2 7.4 4.1 7.3-.7 7.4-4.5 7.4-6 7.4-6.1 7.4-4.9 7.4-4.8 7.3-4.9 7.4-4.7 7.4-3.4 7.4-1.6 7.4 .7 7.4 3.2 7.3 5.6 7.4 6.9 7.4M206.0 7.0l-4.1 7.4-.2 7.4 2.5 7.3 4 7.4 3.8 7.4 2.5 7.4 .8 7.4 .3 7.4-.2 7.3-1.2 7.4-2.4 7.4-3.3 7.4-3 7.4-2.2 7.4-.7 7.3 1.1 7.4 2.3 7.4M206.0 7.0l-3.4 7.4 2.9 7.4 6 7.3 7 7.4 5.6 7.4 2.8 7.4 .1 7.4 .2 7.4 0 7.3-1 7.4-3.1 7.4-5.2 7.4-5.6 7.4-4.8 7.4-3.2 7.3-.6 7.4 2.3 7.4M206.0 7.0l7 7.4 9.4 7.4 8.6 7.3 3.9 7.4-1.9 7.4-6 7.4-7.9 7.4-7.2 7.4-7.2 7.3-7.5 7.4-6.7 7.4-3.8 7.4-.4 7.4 3 7.4 5.6 7.3 6.4 7.4 4.7 7.4M206.0 7.0l6.4 7.4 5.4 7.4 4.2 7.3 2 7.4-.6 7.4-2.1 7.4-3 7.4-2.1 7.4-1.8 7.3-2.1 7.4-2.6 7.4-2.7 7.4-2.4 7.4-1.6 7.4-.4 7.3 1 7.4 2.4 7.4M206.0 7.0l-1.5 7.4-6 7.4-7.5 7.3-5.9 7.4-3 7.4-.8 7.4 .7 7.4 3.2 7.4 3.1 7.3 3.8 7.4 4.6 7.4 5.7 7.4 5.1 7.4 3.2 7.4 .7 7.3-1.8 7.4-3.6 7.4M206.0 7.0l10.1 7.4 4.2 7.4-1.4 7.3-6.6 7.4-8.6 7.4-7.8 7.4-6.2 7.4-3.3 7.4-2 7.3-.2 7.4 2 7.4 5.3 7.4 6.5 7.4 6.2 7.4 3.8 7.3 .5 7.4-2.5 7.4M206.0 7.0l-4.3 7.4 6 7.4 10.9 7.3 11.7 7.4 7.7 7.4 1.7 7.4-3.8 7.4-1.4 7.4-4.1 7.3-6.4 7.4-8.9 7.4-9.7 7.4-8.1 7.4-4.6 7.4 .2 7.3 5.2 7.4 7.9 7.4M206.0 7.0l5.4 7.4 4.6 7.4 3.4 7.3 1.4 7.4-.7 7.4-2.1 7.4-2.6 7.4-2 7.4-1.7 7.3-1.9 7.4-2.3 7.4-2.3 7.4-1.9 7.4-1 7.4 0 7.3 1.3 7.4 2.4 7.4M206.0 7.0l-6.1 7.4 1.9 7.4 6.7 7.3 8.3 7.4 7.4 7.4 4.6 7.4 1.5 7.4 1.5 7.4 1.5 7.3 .2 7.4-2.3 7.4-5.3 7.4-6.8 7.4-6.5 7.4-4.9 7.3-2.5 7.4 .8 7.4M206.0 7.0l6.8 7.4 9.6 7.4 9.6 7.3 6.3 7.4 1.1 7.4-3.3 7.4-5.9 7.4-5 7.4-5 7.3-6 7.4-7.1 7.4-6.8 7.4-5 7.4-2.3 7.4 1.3 7.3 4.8 7.4 6.9 7.4M206.0 7.0l1.6 7.4-2.2 7.4-4.7 7.3-4.8 7.4-3.6 7.4-2.3 7.4-1.4 7.4 .3 7.4 .4 7.3 .8 7.4 1.6 7.4 3.3 7.4 3.9 7.4 3.8 7.4 2.9 7.3 1.1 7.4-.7 7.4M206.0 7.0l-12.7 7.4-.6 7.4 8.8 7.3 13.2 7.4 12.2 7.4 7 7.4 .8 7.4-1.4 7.4-3.8 7.3-7.2 7.4-10.4 7.4-10.9 7.4-8.3 7.4-3.4 7.4 2.3 7.3 6.8 7.4 7.6 7.4M206.0 7.0l-2.2 7.4-2.5 7.4-2 7.3-.5 7.4 .8 7.4 1.5 7.4 1.8 7.4 2.1 7.4 1.9 7.3 1.8 7.4 1.5 7.4 .7 7.4-.2 7.4-1 7.4-1.4 7.3-1.4 7.4-.9 7.4M206.0 7.0l14.7 7.4 10.5 7.4 5 7.3-2.9 7.4-8.5 7.4-10.5 7.4-9.9 7.4-8.8 7.4-7.6 7.3-6.5 7.4-4.8 7.4 .7 7.4 3.1 7.4 6.2 7.4 8 7.3 7.3 7.4 4 7.4M206.0 7.0l10.4 7.4 11.9 7.4 9.9 7.3 3.9 7.4-3 7.4-7.7 7.4-9.6 7.4-8.4 7.4-8.5 7.3-8.8 7.4-8.2 7.4-4.9 7.4-1 7.4 2.9 7.4 6.4 7.3 8 7.4 6.7 7.4M206.0 7.0l2.1 7.4 8.1 7.4 10.1 7.3 7.5 7.4 1.7 7.4-3.6 7.4-6.9 7.4-6.8 7.4-7.4 7.3-8.4 7.4-8.1 7.4-5.6 7.4-2 7.4 2.1 7.4 5.4 7.3 6.7 7.4 5.1 7.4M206.0 7.0l-6.1 7.4 1.9 7.4 6.7 7.3 8.4 7.4 6.9 7.4 3.6 7.4 0 7.4-.7 7.4-1.5 7.3-3.2 7.4-5.6 7.4-6.8 7.4-6.2 7.4-4.2 7.4-1 7.3 2.7 7.4 5.1 7.4M206.0 7.0l13.6 7.4 11.6 7.4 7.5 7.3-.5 7.4-10.8 7.4-14.3 7.4-13.7 7.4-11.2 7.4-8.5 7.3-3.9 7.4-.3 7.4 3.7 7.4 9.8 7.4 10.6 7.4 7.8 7.3 1.9 7.4-3.3 7.4M206.0 7.0l-13.8 7.4-7.4 7.4-1.6 7.3 4.1 7.4 7 7.4 7.5 7.4 6.9 7.4 5.8 7.4 5.6 7.3 5.2 7.4 3.5 7.4 .3 7.4-2.7 7.4-4.9 7.4-6 7.3-5.6 7.4-3.9 7.4M206.0 7.0l1.6 7.4 5.3 7.4 7.4 7.3 6.9 7.4 4.5 7.4 1.7 7.4-.7 7.4 .3 7.4 1 7.3 .5 7.4-1.4 7.4-4.1 7.4-5.6 7.4-6 7.4-5.4 7.3-4.1 7.4-1.9 7.4M206.0 7.0l6.5 7.4 6.2 7.4 3.5 7.3-1.4 7.4-5.5 7.4-7 7.4-6.6 7.4-5.2 7.4-3.7 7.3-2.1 7.4 .2 7.4 3.4 7.4 5.1 7.4 5.1 7.4 3.2 7.3 .3 7.4-2 7.4M206.0 7.0l-12.6 7.4-8.5 7.4-4.5 7.3 .6 7.4 4 7.4 5.2 7.4 5.4 7.4 5.8 7.4 5.2 7.3 5.1 7.4 4.8 7.4 3.2 7.4 1 7.4-1.4 7.4-3.4 7.3-4.8 7.4-5.1 7.4M206.0 7.0l8.3 7.4-2 7.4-10 7.3-12.8 7.4-9.4 7.4-4.1 7.4 .6 7.4 6.2 7.4 8 7.3 9.9 7.4 10.9 7.4 8.8 7.4 4 7.4-1.4 7.4-5.5 7.3-6.8 7.4-4.7 7.4M206.0 7.0l-15.5 7.4-9.1 7.4-3 7.3 3.7 7.4 7.4 7.4 8.4 7.4 8.2 7.4 6.9 7.4 6.6 7.3 6.3 7.4 4.4 7.4 .8 7.4-2.7 7.4-5.2 7.4-6.5 7.3-6.3 7.4-4.4 7.4M206.0 7.0l-11.3 7.4 1 7.4 9.7 7.3 13.1 7.4 11.1 7.4 5.5 7.4-.8 7.4-2.9 7.4-5.1 7.3-8.3 7.4-10.8 7.4-10.4 7.4-7 7.4-1.8 7.4 3.6 7.3 7.4 7.4 7 7.4M206.0 7.0l-1 7.4 2.1 7.4 3.7 7.3 3.6 7.4 2 7.4-.1 7.4-1.7 7.4-1.9 7.4-2.4 7.3-2.9 7.4-3.3 7.4-2.7 7.4-1.5 7.4 0 7.4 1.5 7.3 2.4 7.4 2.2 7.4M206.0 7.0l1.2 7.4-4.3 7.4-7.1 7.3-6.2 7.4-3.4 7.4-.6 7.4 1.5 7.4 4 7.4 4.6 7.3 5.2 7.4 5.9 7.4 5.3 7.4 3.2 7.4 .5 7.4-2.1 7.3-3.8 7.4-3.9 7.4M206.0 7.0l-13.3 7.4-9.8 7.4-3.6 7.3 4.1 7.4 9 7.4 10.3 7.4 9.3 7.4 7.6 7.4 6.4 7.3 4.5 7.4 .7 7.4-4 7.4-7.1 7.4-7.6 7.4-5.8 7.3-2.6 7.4 1.9 7.4M206.0 7.0l-9 7.4-6.9 7.4-4.1 7.3 .1 7.4 3.3 7.4 4.5 7.4 4.9 7.4 5.2 7.4 4.6 7.3 4.6 7.4 4 7.4 2.1 7.4 0 7.4-2.1 7.4-3.6 7.3-4.1 7.4-3.5 7.4M206.0 7.0l10.4 7.4 6.1 7.4 2 7.3-2.3 7.4-5.4 7.4-6.1 7.4-5.7 7.4-5.1 7.4-4.5 7.3-4.2 7.4-3.5 7.4-1.1 7.4 1.1 7.4 3.1 7.4 4.8 7.3 5.6 7.4 4.8 7.4M206.0 7.0l-3 7.4-9.9 7.4-11 7.3-6.3 7.4 .2 7.4 4.9 7.4 7.7 7.4 9.9 7.4 9.6 7.3 9.2 7.4 7.6 7.4 3.2 7.4-1.8 7.4-5.4 7.4-6.9 7.3-5.7 7.4-2.3 7.4M206.0 7.0l4.1 7.4-5.7 7.4-11.8 7.3-10.8 7.4-5.4 7.4 0 7.4 4.3 7.4 8.7 7.4 9.5 7.3 10.3 7.4 9.8 7.4 6.2 7.4 1 7.4-3.9 7.4-6.6 7.3-6.4 7.4-3.3 7.4M206.0 7.0l2.6 7.4 .4 7.4-1.2 7.3-2.3 7.4-2.5 7.4-2 7.4-1.3 7.4-.4 7.4 0 7.3 .4 7.4 1.1 7.4 1.9 7.4 2 7.4 1.7 7.4 .8 7.3-.2 7.4-1 7.4M206.0 7.0l-2.9 7.4-9.2 7.4-9.8 7.3-4.8 7.4 1.5 7.4 5.9 7.4 8.4 7.4 9.6 7.4 8.6 7.3 7.8 7.4 5.1 7.4 .2 7.4-4.2 7.4-6.5 7.4-6.3 7.3-3.7 7.4 .3 7.4M206.0 7.0l-12.1 7.4-4 7.4 1.6 7.3 5.4 7.4 6.8 7.4 6.3 7.4 4.9 7.4 4.6 7.4 4.9 7.3 4.8 7.4 3.5 7.4 .6 7.4-3.2 7.4-5 7.4-5.9 7.3-6.6 7.4-6.6 7.4M206.0 7.0l6.5 7.4 7.1 7.4 4.9 7.3 .1 7.4-4.5 7.4-6.8 7.4-6.9 7.4-6.2 7.4-5.3 7.3-3.9 7.4-2.2 7.4 1.5 7.4 3.9 7.4 5.1 7.4 4.8 7.3 2.4 7.4-.5 7.4M206.0 7.0l3 7.4 1.3 7.4 0 7.3-1.2 7.4-1.8 7.4-1.8 7.4-1.7 7.4-1.3 7.4-1.2 7.3-1.2 7.4-1 7.4-.1 7.4 .4 7.4 1.2 7.4 1.6 7.3 2 7.4 1.8 7.4M206.0 7.0l-4.3 7.4-5 7.4-3.7 7.3-.7 7.4 2 7.4 3.5 7.4 4.1 7.4 4.3 7.4 3.8 7.3 3.5 7.4 2.5 7.4 .5 7.4-1.4 7.4-2.8 7.4-3 7.3-2.4 7.4-.9 7.4M206.0 7.0l4.3 7.4 8.6 7.4 10.1 7.3 8.1 7.4 3.8 7.4-1.2 7.4-3.8 7.4-1.8 7.4-2.3 7.3-3.5 7.4-5.6 7.4-7.1 7.4-6.8 7.4-5.3 7.4-2.8 7.3 .9 7.4 4.4 7.4M206.0 7.0l13.1 7.4 4.4 7.4-3.3 7.3-9.4 7.4-11.4 7.4-9.9 7.4-7.8 7.4-3.8 7.4-1.9 7.3-.2 7.4 2 7.4 6.9 7.4 8.7 7.4 8.4 7.4 5.7 7.3 1.3 7.4-2.8 7.4M206.0 7.0l-11.2 7.4-.2 7.4 7.6 7.3 11.3 7.4 10.6 7.4 6.9 7.4 2.1 7.4 .8 7.4-.6 7.3-3.2 7.4-6.7 7.4-9.2 7.4-8.7 7.4-6.5 7.4-2.2 7.3 2.7 7.4 6.5 7.4M206.0 7.0l-5.4 7.4-6.6 7.4-4.8 7.3-.8 7.4 3.1 7.4 5 7.4 5.7 7.4 5.7 7.4 5 7.3 4.4 7.4 2.7 7.4-.2 7.4-2.8 7.4-4.1 7.4-4 7.3-2.6 7.4-.3 7.4M206.0 7.0l-10.9 7.4-12.7 7.4-10.6 7.3-2.5 7.4 .7 7.4 5.3 7.4 7.4 7.4 9.3 7.4 8.9 7.3 9 7.4 8.7 7.4 6.1 7.4 2.3 7.4-1.9 7.4-5.9 7.3-6.6 7.4-6.6 7.4M206.0 7.0l-16 7.4-11.5 7.4-6.9 7.3 1.6 7.4 9.6 7.4 12.2 7.4 12.2 7.4 10.2 7.4 9.2 7.3 7.6 7.4 1.9 7.4-2.2 7.4-5.6 7.4-9.1 7.4-8.2 7.3-4.9 7.4-.1 7.4M206.0 7.0l7.6 7.4 6.5 7.4 3.1 7.3-2.1 7.4-6.1 7.4-7.5 7.4-6.9 7.4-5.3 7.4-3.8 7.3-2.2 7.4 0 7.4 3.5 7.4 5.2 7.4 5.4 7.4 3.7 7.3 .8 7.4-1.9 7.4M206.0 7.0l-8.8 7.4-2.4 7.4 1.9 7.3 4.9 7.4 5.8 7.4 5.1 7.4 3.6 7.4 3.3 7.4 3.4 7.3 2.9 7.4 1.4 7.4-1.1 7.4-3.3 7.4-4.5 7.4-4.9 7.3-4.4 7.4-2.9 7.4M206.0 7.0l7.7 7.4 6.4 7.4 3 7.3-1.9 7.4-5.8 7.4-7.1 7.4-6.7 7.4-5.3 7.4-4.1 7.3-2.6 7.4-.6 7.4 2.7 7.4 4.6 7.4 5.3 7.4 4.2 7.3 1.4 7.4-1.2 7.4M206.0 7.0l-7.8 7.4-.2 7.4 5.3 7.3 8 7.4 7.5 7.4 4.5 7.4 1 7.4-.2 7.4-1.5 7.3-3.4 7.4-5.7 7.4-6.6 7.4-5.8 7.4-3.4 7.4 .1 7.3 3.3 7.4 4.9 7.4M206.0 7.0l-12.8 7.4-13.2 7.4-8.4 7.3-2.3 7.4 1.4 7.4 6.9 7.4 8.5 7.4 9.9 7.4 9.3 7.3 9.2 7.4 8.4 7.4 5.3 7.4 1 7.4-4.1 7.4-5.9 7.3-6.8 7.4-6.4 7.4M206.0 7.0l4.3 7.4-6.1 7.4-12.5 7.3-11.3 7.4-5.6 7.4 .4 7.4 4.9 7.4 9.4 7.4 10.2 7.3 11 7.4 10.1 7.4 6.2 7.4 .4 7.4-4.6 7.4-7.1 7.3-6.6 7.4-3.1 7.4M206.0 7.0l14.5 7.4 10.7 7.4 7.5 7.3 1.2 7.4-7 7.4-10.3 7.4-10.6 7.4-9.4 7.4-8.9 7.3-8.1 7.4-6.6 7.4-1.6 7.4 3.1 7.4 4.4 7.4 7.7 7.3 8.1 7.4 5.3 7.4M206.0 7.0l-8.7 7.4-5.4 7.4-2.2 7.3 1.2 7.4 3.3 7.4 4 7.4 4 7.4 3.9 7.4 3.4 7.3 3.5 7.4 3 7.4 1.6 7.4-.1 7.4-1.7 7.4-2.9 7.3-3.5 7.4-3.4 7.4M206.0 7.0l6.3 7.4 5.3 7.4 3 7.3-.5 7.4-3.6 7.4-5.1 7.4-4.8 7.4-4.5 7.4-3.8 7.3-3.3 7.4-2.3 7.4 .1 7.4 1.9 7.4 3.3 7.4 3.7 7.3 3.1 7.4 1.2 7.4M206.0 7.0l-7.4 7.4 1.3 7.4 6.7 7.3 8.7 7.4 8.1 7.4 5.3 7.4 2.1 7.4 2.1 7.4 1.9 7.3 .8 7.4-2 7.4-5.3 7.4-7.1 7.4-7 7.4-5.5 7.3-3 7.4 .3 7.4M206.0 7.0l.7 7.4 6.1 7.4 8 7.3 5.8 7.4 1 7.4-3.6 7.4-6.2 7.4-6.2 7.4-6.6 7.3-6.7 7.4-5.8 7.4-2.5 7.4 .8 7.4 3.7 7.4 5.3 7.3 4.5 7.4 1.7 7.4M206.0 7.0l-15.2 7.4-11.3 7.4-7.1 7.3-1.1 7.4 3.2 7.4 5.1 7.4 5.5 7.4 6.7 7.4 5.8 7.3 5.9 7.4 6 7.4 5.2 7.4 3.2 7.4 .6 7.4-2.1 7.3-4.5 7.4-5.9 7.4M206.0 7.0l-.3 7.4-7 7.4-9.8 7.3-8.8 7.4-5.6 7.4-2.9 7.4 1.2 7.4 2.5 7.4 .7 7.3 .7 7.4 3.9 7.4 6.8 7.4 7.6 7.4 6.9 7.4 4.8 7.3 1.3 7.4-2 7.4M206.0 7.0l1.2 7.4 6.8 7.4 9.2 7.3 7.5 7.4 2.9 7.4-1.7 7.4-5.1 7.4-4.9 7.4-5.6 7.3-6.7 7.4-7.6 7.4-6.4 7.4-3.9 7.4-.5 7.4 3.1 7.3 5.7 7.4 6 7.4M206.0 7.0l-4 7.4-1.2 7.4 1.4 7.3 3.3 7.4 3.5 7.4 2.6 7.4 1.2 7.4 .5 7.4-.1 7.3-1.1 7.4-2.2 7.4-2.9 7.4-2.6 7.4-1.6 7.4-.1 7.3 1.3 7.4 2 7.4M206.0 7.0l11.3 7.4 10.3 7.4 7.3 7.3 1.6 7.4-4 7.4-7.3 7.4-8.2 7.4-7.1 7.4-7.1 7.3-7.1 7.4-6.4 7.4-3.8 7.4-.6 7.4 2.5 7.4 5.4 7.3 7 7.4 6.2 7.4M206.0 7.0l2.9 7.4 3.2 7.4 3.1 7.3 2.1 7.4 .8 7.4-.5 7.4-1.2 7.4-.6 7.4-.3 7.3-.4 7.4-1.1 7.4-1.7 7.4-2 7.4-1.9 7.4-1.5 7.3-.8 7.4-.1 7.4M206.0 7.0l9.2 7.4 1.9 7.4-3.8 7.3-7.5 7.4-8.3 7.4-7.1 7.4-5.7 7.4-3 7.4-2.4 7.3-1.6 7.4-.1 7.4 3.7 7.4 5.6 7.4 6.8 7.4 6.4 7.3 4.6 7.4 1.3 7.4M206.0 7.0l-1.2 7.4-7.4 7.4-8.9 7.3-5.6 7.4-.5 7.4 3.5 7.4 6 7.4 7.9 7.4 7.7 7.3 7.4 7.4 6.1 7.4 2.4 7.4-1.5 7.4-4.6 7.4-5.5 7.3-4.3 7.4-1.5 7.4M206.0 7.0l13.7 7.4 7 7.4 1.7 7.3-3.6 7.4-6.9 7.4-7.6 7.4-6.9 7.4-6 7.4-5.6 7.3-5.2 7.4-4.8 7.4-1.8 7.4 .8 7.4 4.1 7.4 5.9 7.3 7.5 7.4 7.7 7.4M206.0 7.0l11.2 7.4 1.6 7.4-7 7.3-12.6 7.4-11.8 7.4-7.9 7.4-3.5 7.4 2.5 7.4 5 7.3 7.7 7.4 10.1 7.4 10.5 7.4 7.2 7.4 2 7.4-3 7.3-6.1 7.4-5.9 7.4M206.0 7.0l-9.5 7.4-12.1 7.4-10.5 7.3-4.3 7.4 1.8 7.4 5.6 7.4 7.4 7.4 9.4 7.4 9 7.3 9 7.4 8.4 7.4 5.7 7.4 1.4 7.4-2.6 7.4-5.7 7.3-7.1 7.4-5.9 7.4M206.0 7.0l3.2 7.4 9.7 7.4 11.7 7.3 8 7.4 1.2 7.4-4.8 7.4-8.5 7.4-8.3 7.4-8.9 7.3-9.6 7.4-9.2 7.4-5.8 7.4-1.5 7.4 3.1 7.4 6.6 7.3 7.7 7.4 5.4 7.4M206.0 7.0l-13.7 7.4-10.3 7.4-3.9 7.3 4.5 7.4 9.8 7.4 11.2 7.4 9.9 7.4 7.9 7.4 6.5 7.3 4.1 7.4-.1 7.4-5.2 7.4-8 7.4-8.1 7.4-5.8 7.3-1.9 7.4 3.1 7.4M206.0 7.0l-2.8 7.4-4.5 7.4-4.9 7.3-3.7 7.4-2 7.4-.9 7.4-.4 7.4 1 7.4 .6 7.3 .7 7.4 1.1 7.4 2.7 7.4 3.3 7.4 3.5 7.4 3.2 7.3 2.3 7.4 .8 7.4M206.0 7.0l5.3 7.4 9.5 7.4 9.1 7.3 4 7.4-2.9 7.4-7.7 7.4-9.4 7.4-8.6 7.4-8.6 7.3-7.3 7.4-5.1 7.4-.3 7.4 3.8 7.4 6.5 7.4 6.9 7.3 4.6 7.4 .2 7.4M206.0 7.0l-3.1 7.4-11.4 7.4-12.7 7.3-7.2 7.4 .5 7.4 6.1 7.4 9.4 7.4 11.7 7.4 11.2 7.3 10.6 7.4 8.2 7.4 2.7 7.4-3.1 7.4-7.1 7.4-8.1 7.3-6.1 7.4-1.6 7.4M206.0 7.0l-10.4 7.4-11.7 7.4-9.3 7.3-2.9 7.4 2.9 7.4 6.2 7.4 7.7 7.4 9 7.4 8.6 7.3 8.3 7.4 7.6 7.4 4.6 7.4 .5 7.4-3.2 7.4-5.9 7.3-6.7 7.4-5.3 7.4M206.0 7.0l-8.9 7.4-10.5 7.4-9.1 7.3-4.1 7.4 .8 7.4 3.8 7.4 5.3 7.4 7.2 7.4 6.9 7.3 7.1 7.4 7.3 7.4 5.9 7.4 3.2 7.4-.2 7.4-3.3 7.3-5.5 7.4-5.9 7.4M206.0 7.0l-5.2 7.4-3.4 7.4-1.7 7.3 .3 7.4 1.7 7.4 2.2 7.4 2.3 7.4 2.3 7.4 2.2 7.3 2.1 7.4 1.9 7.4 1.2 7.4 .3 7.4-.6 7.4-1.5 7.3-2 7.4-2.1 7.4M206.0 7.0l-12 7.4-3.9 7.4 3.6 7.3 9.2 7.4 10.4 7.4 8.2 7.4 4 7.4 2 7.4 .1 7.3-2.7 7.4-6.2 7.4-8.3 7.4-7.7 7.4-5.1 7.4-.9 7.3 3.5 7.4 5.8 7.4M206.0 7.0l1.2 7.4 7.7 7.4 9.7 7.3 6.7 7.4 .4 7.4-5.2 7.4-8.2 7.4-8 7.4-8.4 7.3-8 7.4-6.3 7.4-1.8 7.4 2.4 7.4 5.6 7.4 6.7 7.3 4.8 7.4 .7 7.4M206.0 7.0l8.3 7.4 4 7.4 .5 7.3-2.5 7.4-4.4 7.4-4.6 7.4-4.1 7.4-3.6 7.4-3.3 7.3-3.2 7.4-2.9 7.4-1.1 7.4 .5 7.4 2.2 7.4 3.8 7.3 5.1 7.4 5.3 7.4M206.0 7.0l-7.8 7.4-10.7 7.4-10 7.3-5.3 7.4-.3 7.4 2.9 7.4 4.6 7.4 7.1 7.4 6.8 7.3 7.3 7.4 7.7 7.4 6.8 7.4 4.2 7.4 .8 7.4-2.6 7.3-5.3 7.4-6.2 7.4M206.0 7.0l-8.9 7.4-2.4 7.4 1.8 7.3 4.7 7.4 5.4 7.4 4.9 7.4 3.7 7.4 3.5 7.4 3.7 7.3 3.8 7.4 2.6 7.4 .2 7.4-2.1 7.4-4 7.4-5.3 7.3-6 7.4-5.6 7.4M206.0 7.0l10.5 7.4 1.8 7.4-5.1 7.3-9.6 7.4-10.1 7.4-8.2 7.4-6 7.4-2.2 7.4-1.1 7.3 .5 7.4 2.9 7.4 6.7 7.4 8.1 7.4 7.8 7.4 5.3 7.3 1.2 7.4-2.5 7.4M206.0 7.0l1.4 7.4 5.5 7.4 6.8 7.3 5.1 7.4 1.3 7.4-2.3 7.4-4.5 7.4-4.4 7.4-4.9 7.3-5.5 7.4-5.5 7.4-4 7.4-1.6 7.4 1 7.4 3.4 7.3 4.5 7.4 3.7 7.4M206.0 7.0l-12.6 7.4-5.6 7.4 1.3 7.3 7.3 7.4 9.5 7.4 8.7 7.4 6 7.4 4.3 7.4 3.2 7.3 1 7.4-2.4 7.4-6 7.4-7.3 7.4-6.4 7.4-4.2 7.3-.3 7.4 3.5 7.4M206.0 7.0l1.8 7.4 4.3 7.4 4.9 7.3 3.1 7.4 .2 7.4-2.3 7.4-3.7 7.4-3.6 7.4-3.8 7.3-4.1 7.4-3.8 7.4-2.3 7.4-.5 7.4 1.4 7.4 2.9 7.3 3.2 7.4 2.3 7.4M206.0 7.0l1 7.4 7.1 7.4 9.4 7.3 7.3 7.4 2 7.4-3 7.4-6.2 7.4-6.3 7.4-6.9 7.3-7.8 7.4-7.6 7.4-5.1 7.4-1.6 7.4 2 7.4 5.1 7.3 6.2 7.4 4.4 7.4M206.0 7.0l14 7.4 5.1 7.4-3.1 7.3-10 7.4-12.4 7.4-10.8 7.4-8.4 7.4-3.8 7.4-.6 7.3-.2 7.4 3.5 7.4 8.2 7.4 9.7 7.4 8.6 7.4 4.6 7.3-.2 7.4-4.2 7.4M206.0 7.0l1.5 7.4 2.4 7.4 2.1 7.3 .7 7.4-1 7.4-2 7.4-2.4 7.4-2.2 7.4-2 7.3-1.6 7.4-1 7.4 .2 7.4 1.2 7.4 1.7 7.4 1.6 7.3 .9 7.4-.1 7.4M206.0 7.0l0 7.4-4.4 7.4-6.2 7.3-5 7.4-2.4 7.4-.1 7.4 1.4 7.4 3.5 7.4 3.7 7.3 4.3 7.4 4.9 7.4 4.6 7.4 3 7.4 .7 7.4-1.4 7.3-3.1 7.4-3.5 7.4M206.0 7.0l6.2 7.4 .4 7.4-3.9 7.3-6.5 7.4-6.3 7.4-5 7.4-3.6 7.4-1.2 7.4-.6 7.3 .3 7.4 1.7 7.4 4.2 7.4 5.2 7.4 5.1 7.4 3.9 7.3 1.3 7.4-1.2 7.4M206.0 7.0l.1 7.4 2.5 7.4 3.6 7.3 3.3 7.4 1.7 7.4 0 7.4-1.4 7.4-1.3 7.4-1.5 7.3-2.1 7.4-2.8 7.4-2.9 7.4-2.3 7.4-1.2 7.4 .2 7.3 1.6 7.4 2.5 7.4M206.0 7.0l1 7.4-4.6 7.4-7.5 7.3-7.3 7.4-5.3 7.4-3.5 7.4-2.3 7.4 .2 7.4 0 7.3 .2 7.4 1.3 7.4 4.3 7.4 5.7 7.4 6.2 7.4 5.9 7.3 4.2 7.4 1.5 7.4M206.0 7.0l4.9 7.4 2.8 7.4 .2 7.3-2.3 7.4-3.7 7.4-3.9 7.4-3.3 7.4-2.3 7.4-1.6 7.3-.9 7.4 .1 7.4 1.9 7.4 2.7 7.4 2.9 7.4 2.3 7.3 .8 7.4-.6 7.4M206.0 7.0l-6.8 7.4 .6 7.4 5.2 7.3 7.2 7.4 6.7 7.4 4.5 7.4 1.8 7.4 1.4 7.4 1.1 7.3-.2 7.4-2.5 7.4-4.9 7.4-5.9 7.4-5.3 7.4-3.7 7.3-1.1 7.4 1.9 7.4M206.0 7.0l-9.5 7.4-1.3 7.4 4.2 7.3 7.3 7.4 7.7 7.4 6.1 7.4 3.6 7.4 3.2 7.4 3.2 7.3 2.2 7.4-.1 7.4-3.5 7.4-5.6 7.4-6.4 7.4-5.8 7.3-4 7.4-1.3 7.4M206.0 7.0l2.8 7.4-5.1 7.4-9.9 7.3-9.2 7.4-5.3 7.4-1.3 7.4 1.7 7.4 5.4 7.4 6.3 7.3 7.5 7.4 8.4 7.4 7.5 7.4 4.5 7.4 .5 7.4-3.1 7.3-5.4 7.4-5.3 7.4M206.0 7.0l-2.1 7.4-3.2 7.4-2.6 7.3-.7 7.4 1.2 7.4 2.4 7.4 2.8 7.4 2.8 7.4 2.5 7.3 2.3 7.4 1.3 7.4-.1 7.4-1.4 7.4-2.1 7.4-1.9 7.3-1.2 7.4 0 7.4M206.0 7.0l-4.9 7.4-10.3 7.4-11.4 7.3-7.5 7.4-1.9 7.4 1.6 7.4 2.8 7.4 6.8 7.4 6.8 7.3 7.5 7.4 8.4 7.4 8.2 7.4 5.6 7.4 2 7.4-1.9 7.3-5.2 7.4-6.6 7.4M206.0 7.0l-7.4 7.4-8.6 7.4-7.7 7.3-4.1 7.4-.5 7.4 1.8 7.4 2.8 7.4 4.7 7.4 4.4 7.3 4.6 7.4 5.2 7.4 5.6 7.4 4.3 7.4 2.2 7.4-.3 7.3-2.7 7.4-4.3 7.4M206.0 7.0l-8.8 7.4-7.2 7.4-2.8 7.3 3.2 7.4 7 7.4 7.9 7.4 6.8 7.4 5.3 7.4 4.1 7.3 2.1 7.4-1.2 7.4-4.5 7.4-6 7.4-5.5 7.4-3.5 7.3 0 7.4 3.1 7.4M206.0 7.0l6 7.4 4.8 7.4 2.5 7.3-.8 7.4-3.6 7.4-4.8 7.4-4.5 7.4-4 7.4-3.5 7.3-2.8 7.4-1.9 7.4 .4 7.4 2 7.4 3.2 7.4 3.5 7.3 2.7 7.4 .8 7.4M206.0 7.0l-3 7.4-1.7 7.4-.6 7.3 .6 7.4 1.3 7.4 1.4 7.4 1.4 7.4 1.2 7.4 1.2 7.3 1.1 7.4 1 7.4 .4 7.4-.1 7.4-.7 7.4-1.1 7.3-1.3 7.4-1.1 7.4M206.0 7.0l5.7 7.4 9.2 7.4 10.2 7.3 7.8 7.4 3.2 7.4-2.4 7.4-3.8 7.4-1.9 7.4-2.5 7.3-3.6 7.4-5.5 7.4-7 7.4-6.7 7.4-5.2 7.4-2.7 7.3 .9 7.4 4.3 7.4M206.0 7.0l6.1 7.4-1.1 7.4-6.1 7.3-8.5 7.4-7.4 7.4-5.1 7.4-3.1 7.4 .2 7.4 .9 7.3 2.1 7.4 3.9 7.4 6.4 7.4 6.8 7.4 5.7 7.4 2.8 7.3-.4 7.4-3.2 7.4M206.0 7.0l10.7 7.4 6.4 7.4 2.9 7.3-1 7.4-4 7.4-5.1 7.4-5 7.4-4.1 7.4-4 7.3-4.1 7.4-3.9 7.4-2.5 7.4-1 7.4 .9 7.4 3 7.3 4.9 7.4 5.9 7.4M206.0 7.0l-15.1 7.4-11.9 7.4-7.4 7.3-2.3 7.4 .7 7.4 2.8 7.4 3.9 7.4 5.6 7.4 4.6 7.3 4.5 7.4 5 7.4 5.8 7.4 5 7.4 3.2 7.4 .9 7.3-1.6 7.4-3.7 7.4M206.0 7.0l-.5 7.4-1.3 7.4-1.7 7.3-1.4 7.4-.9 7.4-.5 7.4-.3 7.4 .3 7.4 .1 7.3 .1 7.4 .3 7.4 .8 7.4 1.2 7.4 1.3 7.4 1.2 7.3 .9 7.4 .4 7.4M206.0 7.0l5.2 7.4-4.8 7.4-11.5 7.3-11.5 7.4-7.1 7.4-2 7.4 2.1 7.4 6.9 7.4 8.1 7.3 9.6 7.4 10.3 7.4 8.5 7.4 4.2 7.4-.9 7.4-4.9 7.3-6.8 7.4-5.4 7.4M206.0 7.0l-10.1 7.4-2.8 7.4 2.4 7.3 6 7.4 6.8 7.4 6 7.4 4.2 7.4 3.7 7.4 3.8 7.3 3.1 7.4 1.1 7.4-1.9 7.4-4.2 7.4-5.4 7.4-5.6 7.3-4.6 7.4-2.5 7.4M206.0 7.0l-5.8 7.4 1.7 7.4 6 7.3 7.6 7.4 6.8 7.4 4.5 7.4 1.8 7.4 1.8 7.4 2.1 7.3 1.1 7.4-1.2 7.4-4.3 7.4-6 7.4-6.4 7.4-5.4 7.3-3.5 7.4-.8 7.4M206.0 7.0l-13.7 7.4-9.7 7.4-4.3 7.3 2.3 7.4 6.7 7.4 8.3 7.4 8.4 7.4 7.3 7.4 6.9 7.3 6.3 7.4 4.3 7.4 .6 7.4-3 7.4-5.4 7.4-6.3 7.3-5.6 7.4-3.1 7.4M206.0 7.0l-4.2 7.4-6.2 7.4-6.1 7.3-3.7 7.4-.8 7.4 1 7.4 2.1 7.4 3.7 7.4 3.6 7.3 3.9 7.4 4.3 7.4 4.5 7.4 3.2 7.4 1.4 7.4-.6 7.3-2.6 7.4-3.5 7.4M206.0 7.0l-10.3 7.4 3.6 7.4 12.1 7.3 14.7 7.4 10.8 7.4 2.8 7.4-3.8 7.4-3.6 7.4-7.4 7.3-10.5 7.4-12.4 7.4-10.9 7.4-6.3 7.4 .1 7.4 5.9 7.3 7.8 7.4 7.4 7.4M206.0 7.0l3.7 7.4-.7 7.4-3.7 7.3-5.2 7.4-4.4 7.4-2.9 7.4-1.6 7.4 .5 7.4 1 7.3 1.9 7.4 2.9 7.4 4.1 7.4 4.1 7.4 2.7 7.4 1 7.3-1 7.4-2.4 7.4M206.0 7.0l-3.2 7.4-5.5 7.4-4.7 7.3-1.4 7.4 2.2 7.4 4.2 7.4 5.1 7.4 5.1 7.4 4.4 7.3 3.8 7.4 1.9 7.4-.8 7.4-3 7.4-3.8 7.4-3.3 7.3-1.7 7.4 .7 7.4M206.0 7.0l13.1 7.4 9.4 7.4 4.9 7.3-.9 7.4-5.6 7.4-7.8 7.4-7.8 7.4-6.7 7.4-6.6 7.3-6.1 7.4-5.6 7.4-2.6 7.4 .2 7.4 3.1 7.4 5.6 7.3 7.1 7.4 6.3 7.4M206.0 7.0l-.8 7.4 1.8 7.4 3 7.3 3.3 7.4 2.6 7.4 1.5 7.4 .3 7.4 .7 7.4 1.1 7.3 .8 7.4 0 7.4-1.5 7.4-2.5 7.4-3 7.4-3 7.3-2.6 7.4-1.7 7.4M206.0 7.0l-11.6 7.4 .6 7.4 9.6 7.3 13.2 7.4 11.4 7.4 5.6 7.4-.7 7.4-3 7.4-5.4 7.3-8.5 7.4-11 7.4-10.4 7.4-6.7 7.4-1.4 7.4 4 7.3 7.5 7.4 6.8 7.4M206.0 7.0l-6.8 7.4-9 7.4-6.6 7.3-.5 7.4 5 7.4 7.7 7.4 8.7 7.4 7.5 7.4 6.7 7.3 5.1 7.4 1.9 7.4-2.6 7.4-5.6 7.4-6.4 7.4-4.9 7.3-2.1 7.4 1.9 7.4M206.0 7.0l-6.3 7.4-1.6 7.4 1.7 7.3 3.8 7.4 4.4 7.4 3.8 7.4 2.6 7.4 2.3 7.4 2.4 7.3 2 7.4 .8 7.4-1.2 7.4-2.7 7.4-3.5 7.4-3.6 7.3-3.1 7.4-1.8 7.4M206.0 7.0l6.6 7.4-2.3 7.4-8.9 7.3-10.7 7.4-8 7.4-4 7.4-.5 7.4 4.1 7.4 5.6 7.3 7.3 7.4 8.8 7.4 8.5 7.4 5.7 7.4 1.4 7.4-2.8 7.3-5.4 7.4-5.4 7.4M206.0 7.0l2.4 7.4-4.8 7.4-9.1 7.3-9.2 7.4-6.6 7.4-4.1 7.4-1.8 7.4 2.5 7.4 .7 7.3 1.4 7.4 3.8 7.4 6.8 7.4 7.6 7.4 6.9 7.4 4.7 7.3 1 7.4-2.2 7.4M206.0 7.0l6.1 7.4 3 7.4 .5 7.3-1.7 7.4-3.1 7.4-3.3 7.4-2.9 7.4-2.6 7.4-2.4 7.3-2.4 7.4-2.1 7.4-1 7.4 .2 7.4 1.4 7.4 2.7 7.3 3.7 7.4 3.9 7.4M206.0 7.0l-11.3 7.4-7.9 7.4-2.1 7.3 4.6 7.4 8.5 7.4 9.2 7.4 7.5 7.4 5.9 7.4 4.5 7.3 2.4 7.4-1.3 7.4-5.1 7.4-7 7.4-6.4 7.4-4.3 7.3-.5 7.4 3.3 7.4M206.0 7.0l4.7 7.4 7 7.4 6.5 7.3 2.7 7.4-2 7.4-5.3 7.4-6.6 7.4-6 7.4-6.1 7.3-5.5 7.4-4.4 7.4-1.2 7.4 1.6 7.4 4 7.4 4.9 7.3 4.2 7.4 1.5 7.4M206.0 7.0l10.6 7.4 8.4 7.4 4.4 7.3-1.3 7.4-6 7.4-7.9 7.4-7.7 7.4-7 7.4-6 7.3-5.2 7.4-3.7 7.4-.1 7.4 2.8 7.4 5.1 7.4 6 7.3 5.2 7.4 2.4 7.4M206.0 7.0l-13.1 7.4-10.1 7.4-5.9 7.3 .5 7.4 5.1 7.4 7 7.4 7.6 7.4 7.7 7.4 6.9 7.3 6.8 7.4 5.6 7.4 2.6 7.4-.7 7.4-3.7 7.4-5.6 7.3-6 7.4-4.7 7.4M206.0 7.0l-4.8 7.4 6 7.4 11.2 7.3 12 7.4 7.8 7.4 1.5 7.4-3.8 7.4-3.1 7.4-5.3 7.3-7.5 7.4-9.8 7.4-9.9 7.4-7.4 7.4-3.3 7.4 1.9 7.3 6.6 7.4 7.9 7.4M206.0 7.0l13.9 7.4 11.3 7.4 6.8 7.3-3.7 7.4-11.4 7.4-13.9 7.4-13 7.4-9.9 7.4-7.1 7.3-3.2 7.4-.3 7.4 6.5 7.4 9.9 7.4 10.2 7.4 6.6 7.3 1.1 7.4-3.8 7.4M206.0 7.0l2.4 7.4-1.3 7.4-3.6 7.3-4.4 7.4-3.9 7.4-3 7.4-2.6 7.4-1.1 7.4-1.5 7.3-1.4 7.4-1 7.4 1.2 7.4 2.5 7.4 3.8 7.4 4.7 7.3 5 7.4 4.2 7.4M206.0 7.0l1.2 7.4 3.1 7.4 4.1 7.3 3.6 7.4 2 7.4 .4 7.4-1 7.4-.6 7.4-.3 7.3-.8 7.4-1.8 7.4-2.8 7.4-3 7.4-2.6 7.4-1.8 7.3-.6 7.4 .9 7.4M206.0 7.0l-7.1 7.4 3.4 7.4 9.5 7.3 11.1 7.4 7.8 7.4 2.3 7.4-2.9 7.4-4.2 7.4-5.8 7.3-8 7.4-9.5 7.4-8.2 7.4-4.7 7.4-.3 7.4 4.2 7.3 6.7 7.4 5.7 7.4M206.0 7.0l-14.5 7.4-7.4 7.4-.5 7.3 6.1 7.4 9.3 7.4 9.4 7.4 7.6 7.4 6.2 7.4 5.4 7.3 4 7.4 .7 7.4-3.4 7.4-6.3 7.4-7.2 7.4-6.1 7.3-3.4 7.4 .1 7.4M206.0 7.0l2.7 7.4 3.9 7.4 4 7.3 2.3 7.4 .1 7.4-1.8 7.4-2.8 7.4-2.5 7.4-2.6 7.3-3 7.4-3.1 7.4-2.5 7.4-1.5 7.4 0 7.4 1.4 7.3 2.6 7.4 2.8 7.4M206.0 7.0l-16.1 7.4-10.7 7.4-5.6 7.3 .5 7.4 4.6 7.4 6.1 7.4 6.3 7.4 6.9 7.4 6.2 7.3 6.1 7.4 5.8 7.4 4.4 7.4 1.8 7.4-.9 7.4-3.5 7.3-5.6 7.4-6.3 7.4M206.0 7.0l-12.6 7.4-7.8 7.4-1.6 7.3 5.2 7.4 8.8 7.4 9.3 7.4 7.6 7.4 6 7.4 4.9 7.3 3.1 7.4-.4 7.4-4.4 7.4-6.8 7.4-6.8 7.4-4.9 7.3-1.8 7.4 2.2 7.4M206.0 7.0l1.9 7.4 3.1 7.4 3.3 7.3 2.4 7.4 .8 7.4-.7 7.4-1.7 7.4-1.4 7.4-1.4 7.3-1.7 7.4-2.3 7.4-2.4 7.4-2 7.4-1.2 7.4 0 7.3 1.2 7.4 2.1 7.4M206.0 7.0l-8.9 7.4-2.9 7.4 2.1 7.3 5.8 7.4 6.8 7.4 5.8 7.4 3.6 7.4 2.8 7.4 2 7.3 .7 7.4-1.6 7.4-4.1 7.4-5.3 7.4-4.7 7.4-3.3 7.3-.8 7.4 2 7.4M206.0 7.0l7.8 7.4 1.4 7.4-4.5 7.3-8.3 7.4-8.1 7.4-5.7 7.4-2.8 7.4 1.1 7.4 2.9 7.3 4.7 7.4 6.6 7.4 7.2 7.4 5.2 7.4 2 7.4-1.5 7.3-3.9 7.4-4.1 7.4M206.0 7.0l13.3 7.4 9.4 7.4 5.5 7.3 .1 7.4-4.5 7.4-6.8 7.4-7.1 7.4-5.9 7.4-5.8 7.3-5.8 7.4-5.7 7.4-3.8 7.4-1.6 7.4 1.2 7.4 4 7.3 6.3 7.4 7.2 7.4M206.0 7.0l6 7.4-2.1 7.4-7.5 7.3-9.5 7.4-8.1 7.4-5.9 7.4-4.1 7.4 .5 7.4 .7 7.3-.2 7.4 1 7.4 5.9 7.4 7.4 7.4 7.6 7.4 6.1 7.3 3 7.4-.8 7.4M206.0 7.0l8.2 7.4 10 7.4 7.6 7.3 1 7.4-5.8 7.4-9.5 7.4-10 7.4-9 7.4-7.7 7.3-5.7 7.4-3 7.4 2.2 7.4 5.7 7.4 7.5 7.4 6.6 7.3 3.1 7.4-1.2 7.4M206.0 7.0l8.8 7.4 10.1 7.4 7.5 7.3 1.2 7.4-5.4 7.4-9.1 7.4-9.7 7.4-8.8 7.4-7.8 7.3-6.5 7.4-4.1 7.4 .8 7.4 4.5 7.4 6.8 7.4 7 7.3 4.5 7.4 .2 7.4M206.0 7.0l-8.8 7.4-3.5 7.4 .6 7.3 4 7.4 5.3 7.4 5.1 7.4 4 7.4 3.4 7.4 3.3 7.3 2.7 7.4 1.2 7.4-1.2 7.4-3.1 7.4-4 7.4-4.1 7.3-3.3 7.4-1.6 7.4M206.0 7.0l-9.6 7.4-8.5 7.4-6.6 7.3-2.8 7.4 .5 7.4 2.1 7.4 2.7 7.4 4.1 7.4 3.6 7.3 3.6 7.4 4 7.4 4.6 7.4 4 7.4 2.4 7.4 .5 7.3-1.5 7.4-3.1 7.4M206.0 7.0l4.1 7.4 1.2 7.4-.8 7.3-2.5 7.4-2.9 7.4-2.8 7.4-2.5 7.4-1.7 7.4-1.7 7.3-1.7 7.4-1.4 7.4 0 7.4 1.1 7.4 2 7.4 3 7.3 3.4 7.4 3.2 7.4" stroke="#000" stroke-opacity="0.85" stroke-width="0.42" fill="none"/>
<path d="M206 7.0 205.1 6.9 204 6.8 202.2 7.1 199.4 8.2 194.9 10.6 189.2 13.9 183.4 17.5 178.8 20.8 175.8 23.8 173.7 26.6 172.1 29.4 170.9 31.9 170 34.1 169.5 36.0 169.3 37.9 169.3 39.8 169.5 41.8 170 43.8 170.7 45.8 171.7 47.7 173.1 49.5 174.9 51.2 176.9 52.9 178.8 54.5 180.8 56.1 182.9 57.7 185 59.3 186.7 60.8 188.1 62.3 189.3 63.8 190.3 65.1 191 66.0" stroke="#f00" stroke-width="1.05" fill="none"/>
<path d="M206 7.0 206.1 6.8 206.2 6.4 206.9 6.4 208.9 7.4 213 9.9 218.6 13.3 224.5 17.2 229.5 20.8 233.5 24.1 237 27.4 239.9 30.6 242.1 33.5 243.4 36.1 243.9 38.6 243.9 40.8 243.7 43.0 243.2 45.1 242.2 47.2 241.1 49.1 239.9 50.8 238.8 52.3 237.6 53.5 236.3 54.7 235 56.0 233.5 57.5 231.9 59.1 230.4 60.6 229 62.0 227.8 63.2 226.6 64.4 225.7 65.3 225 66.0" stroke="#f00" stroke-width="1.05" fill="none"/>
<path d="M206 7.0 205.4 6.9 204.6 6.8 203.5 7.1 201.8 8.2 199.2 10.6 196 13.9 192.7 17.5 189.9 20.8 187.8 23.7 186 26.5 184.5 29.3 183.6 31.9 183.2 34.4 183.4 36.8 183.8 39.1 184.4 41.4 185.2 43.7 186.2 46.0 187.3 48.1 188.3 49.9 189.1 51.3 189.9 52.5 190.5 53.4 191 54.0" stroke="#f00" stroke-width="1.05" fill="none"/>
<path d="M206 7.0 206.3 6.9 206.7 6.8 207.4 7.1 208.9 8.2 211.4 10.5 214.7 13.8 218.2 17.4 221.5 20.8 224.5 24.0 227.5 27.3 230.3 30.5 232.6 33.5 234.4 36.2 235.9 38.6 236.9 40.9 237.4 43.0 237.2 45.0 236.4 46.9 235.3 48.5 234.2 49.9 233.1 50.9 231.9 51.6 230.7 52.2 229.5 52.9 228.2 53.7 226.8 54.6 225.6 55.4 224.7 56.0" stroke="#f00" stroke-width="1.05" fill="none"/>
<path d="M191 84.0 190.9 85.4 190.7 87.5 190.5 89.8 190.5 92.0 190.6 94.0 190.8 96.0 191.1 98.0 191.5 100.0 192.1 102.2 192.8 104.5 193.5 106.6 194 108.0" stroke="#f00" stroke-width="1.05" fill="none"/>
<path d="M219.2 83.0 219.4 83.9 219.8 85.1 220.2 86.5 220.5 88.0 220.8 89.8 221.1 91.8 221.3 93.7 221.5 95.0" stroke="#f00" stroke-width="1.05" fill="none"/>
<path d="M206.0 7.0 204.1 8.2 201.5 9.9 199.0 12.0 196.9 14.7 194.9 17.8 193.0 20.8 191.0 23.5 189.1 26.1 187.5 28.7 186.5 31.3 186.0 33.9 185.5 36.6 185.0 39.4 184.6 42.3 184.5 45.0 184.7 47.4 185.1 49.6 186.0 52.0 187.6 54.5 189.7 57.3 191.5 60.8 192.7 65.5 193.6 71.1 194.6 76.6 195.7 82.0 196.8 87.4 197.8 92.5 198.6 96.9 199.2 100.9 200.0 105.0 200.9 109.2 202.0 113.5 203.0 118.0 204.1 123.3 205.2 128.7 206.0 132.5 206.0 132.5 207.0 128.7 208.3 123.3 209.5 118.0 210.3 113.5 210.9 109.2 211.5 105.0 212.2 100.9 212.9 96.9 213.6 92.5 214.2 87.4 214.8 82.0 215.2 76.6 215.1 71.1 214.8 65.5 215.2 60.8 216.7 57.3 218.9 54.5 221.0 52.0 222.9 49.6 224.6 47.4 226.0 45.0 226.9 42.3 227.5 39.4 227.5 36.6 226.9 33.9 225.7 31.3 224.0 28.7 221.6 26.1 218.6 23.5 216.0 20.8 214.1 17.8 212.6 14.7 211.0 12.0 209.1 9.9 207.3 8.2 206.0 7.0Z" fill="#000" fill-opacity="1.0" filter="url(#bl)"/>
<path d="M208.8 105.6l0 .9M202.7 17.3l-.1 .6M212.9 16.7l.2 .8M213.8 62.1l.7 1.3M203.2 57.1l.1 .6M200.5 76.3l.3 .6M211.1 90.8l-.5 1.4M202.9 113.5l.1 .6M203.0 70.1l-.3 .9M204.0 105.7l-.5 1.2M210.1 63.7l-.3 .9M205.8 105.0l0 .8M209.8 12.7l-.7 1.3M217.2 54.2l-.2 1.5M199.9 76.3l.4 1.2M205.1 91.4l-.4 1.2M210.0 23.6l.2 1M202.7 104.8l-.2 1.4M209.5 55.7l.2 1.5M209.7 96.0l-.5 1.2M205.2 110.6l.1 1.1M205.7 123.6l-.1 .6M206.3 60.4l.8 1.3M221.6 49.5l-.5 1.3M202.5 29.5l-.7 1.3M202.8 108.4l0 .9M205.2 68.8l-.7 1.3M203.3 43.7l-.3 .5M200.1 33.9l.7 1.3M203.1 67.5l.3 1.4M214.0 50.6l-.1 1.2M205.7 97.7l.3 1.3M200.6 11.7l-.3 .7M188.7 34.9l-.4 1.1M205.2 115.1l-.2 1M209.8 90.9l.5 .8M203.5 94.0l.3 .8M206.1 113.3l.3 1.1M204.3 48.1l-.3 .6M204.1 73.3l.2 .6M204.7 76.4l.2 1.3M205.8 72.7l0 1.2M208.1 40.2l.2 .8M211.2 98.7l-.3 1M187.6 41.7l-.5 .7M203.6 112.2l.2 .8M198.8 18.7l.2 1.1M203.9 75.5l-.3 1M204.9 119.4l.2 .8M199.5 33.7l-.7 1.4M193.4 53.9l-.4 .5M203.2 36.2l.2 1.6M204.7 115.6l.2 1.5M213.7 22.9l-.2 1.4M208.8 48.9l0 .7M209.5 100.3l0 1M205.8 122.3l.4 .9M199.3 54.9l-.4 .8M188.7 38.0l.1 1M200.5 14.0l.4 .6M216.8 54.9l-.5 .9M201.0 105.1l-.8 1.3M202.2 91.4l0 .8M208.7 115.9l-.6 1M202.5 32.6l.4 1.3M199.8 33.3l-.1 1M209.8 91.2l-.2 1M202.1 18.9l.6 .9M206.9 76.5l.1 1.4M198.4 41.5l.5 1M205.3 123.8l.4 1M211.9 66.7l-.5 1M199.6 40.3l.4 .9M200.6 103.2l.9 1.3M201.1 90.7l.1 .8M189.6 54.9l-.4 .7M218.8 32.4l-.4 1.4M200.7 11.7l-.8 1.3M201.4 107.0l.4 .7M209.1 42.1l-.5 1.5M205.7 54.0l.1 .9M211.9 97.3l.1 .7M207.4 105.9l0 1.3M197.9 41.7l0 .7M199.4 80.1l-.4 1.4M200.5 80.1l.4 1.6M207.8 116.5l-.2 1.2M197.6 79.7l.3 1.1M209.2 72.3l-.4 .7M195.5 46.2l-.4 .8M196.2 76.9l-.2 .8M216.1 29.1l.8 1.3M194.1 62.8l-.2 1.1M210.1 55.7l.4 1.4M198.4 66.1l.7 1.3M196.6 25.9l.3 1.4M205.1 123.8l-.4 1M210.2 75.7l.1 1.1M212.2 39.1l.2 1.5M191.9 33.3l-.2 .9M196.6 64.2l.3 1.4M209.1 11.7l-.4 .8M202.5 68.1l-.4 1.3M203.7 109.6l-.4 1M220.9 28.5l.6 1.3M210.2 59.4l-.1 1M192.9 23.5l.2 .8M206.3 123.4l.1 1.5M185.9 46.0l-.3 1M198.1 28.8l.3 .9M194.6 51.1l.1 1.6M218.5 30.9l.4 1.1M205.1 74.8l-.5 1M205.3 96.7l-.1 1.5M202.1 11.7l.7 1.1M206.2 108.3l-.6 1M198.5 85.0l0 1.5M196.3 18.3l-.6 1.1M204.2 115.9l.3 .8M209.8 74.2l-.5 1M205.1 112.8l.4 1M205.9 121.8l.3 .6M191.6 50.8l-.1 1M202.8 39.3l.3 1.1M214.6 39.6l.3 1M196.8 65.0l.4 .9M222.1 45.4l-.2 .8M203.9 55.9l.1 1M198.7 91.4l.5 .9M202.5 63.7l-.4 1.4M195.0 64.2l-.2 1.1M190.8 53.2l.3 .7M204.8 96.7l0 1.3M204.8 13.0l-.1 1M201.1 11.1l0 1.1M190.5 50.3l-.2 1.3M208.2 107.3l-.5 .8M210.6 68.5l.1 1.4M199.5 92.0l.6 1M201.0 81.9l.7 1.4M203.3 51.3l-.7 1.2M201.1 86.6l.4 1.1M207.5 120.2l-.4 .7M202.4 110.7l-.7 1.4M203.5 106.2l-.1 .6M190.6 25.9l.1 1.2M216.8 27.9l0 1.2M201.0 88.8l.4 .9M196.6 69.5l-.3 1M205.2 96.1l.1 1.4M191.1 58.3l.1 1.5M204.3 15.5l.2 1.1M205.2 23.2l-.3 .6M192.7 50.7l0 1.5M226.1 36.3l-.3 1.4M210.1 72.4l.6 1.3M219.1 28.3l-.6 1.2M201.6 16.4l-.5 1.1M207.0 48.0l-.3 .9M206.7 116.9l0 1.3M190.3 50.2l-.2 .7M209.4 58.6l.2 .7M200.9 30.0l.4 1M200.6 74.3l.1 1.2M207.4 50.5l.3 .9M195.8 64.6l-.2 .6M197.4 17.6l.6 1.2M210.4 79.8l-.4 .9M211.5 79.4l0 .7M197.5 16.2l.5 1.4M216.1 28.1l-.7 1.2M205.3 93.5l0 .8M205.3 120.4l-.4 1.3M205.3 78.8l.1 .7M217.7 23.8l.3 1.2M199.9 76.9l-.5 1.1M200.0 12.2l-.2 1.2M206.0 120.2l-.4 1.5M204.3 45.9l0 .6M192.2 23.4l.3 .9M204.8 91.0l0 1.5M192.8 57.3l.1 .6M201.8 71.6l-.1 1.3M209.7 109.6l.5 1.3M205.8 121.1l-.1 .6M194.2 64.3l-.3 1M209.7 59.4l-.1 1.3M207.7 13.7l.2 .6M208.0 52.2l-.6 1.3M206.6 125.3l.2 1.4M207.8 121.3l-.2 1.2M214.5 22.1l-.4 .8M199.9 78.3l-.1 .9M205.8 89.3l.5 1.1M199.4 95.7l.3 1.5M214.5 27.0l.2 .6M202.0 83.2l-.2 1.6M204.5 78.0l.3 .9M220.1 26.2l-.6 1.4M206.1 125.8l-.5 1M210.3 74.8l.5 .7M211.7 15.0l-.9 1.3M208.4 115.9l-.1 .8M203.9 81.3l.2 .8M212.6 66.3l.2 1.5M201.4 99.2l.1 .8M206.6 19.4l-.4 .5M194.8 56.9l.2 .9M208.2 39.4l0 1.4M209.7 107.4l-.3 .6M204.5 99.3l-.6 1M193.9 48.7l.3 1.3M212.4 41.6l-.5 1.4M202.7 57.8l-.4 1M216.8 43.5l-.5 1M213.7 58.5l.2 1.1M192.2 28.2l.2 1.5M202.9 20.6l-.1 .6M204.7 84.3l0 1.4M200.9 84.2l.8 1.3M200.3 92.4l.1 .6M202.7 44.6l-.1 1.4M207.7 76.7l-.1 1.3M221.2 33.0l.6 1.4M206.9 122.8l-.4 1.5M205.5 106.3l-.7 1.4M193.4 36.1l.1 1.5M193.9 42.7l.4 1.1M206.7 77.7l.5 1.3M200.2 42.1l.8 1.2M201.2 74.5l.4 .8M205.8 65.4l.4 1.2M201.4 91.7l-.3 1.3M212.6 78.9l-.8 1.4M200.0 69.0l-.3 .6M210.7 103.4l.4 .9M207.6 33.6l-.2 .7M206.2 76.3l.8 1.2M201.0 13.2l.1 1.3M204.2 75.6l-.6 .9" stroke="#fff" stroke-opacity="0.45" stroke-width="0.5" fill="none"/>
<path d="M206 7.0 205.6 6.8 205.1 6.5 204.2 6.7 202.6 8.2 200 11.5 196.5 16.2 193 21.2 189.9 25.6 187.5 29.1 185.5 32.3 183.6 35.2 182 38.2 180.5 41.2 179.1 44.2 178 47.1 177.2 49.9 176.8 52.6 176.7 55.1 176.9 57.7 177.2 60.8 177.7 64.4 178.4 68.4 179.3 72.5 180.4 76.6 181.8 80.7 183.5 84.8 185.2 88.8 186.7 92.5 187.8 95.5 188.6 98.1 189.6 100.8 191 104.0 193.2 108.2 196 113.1 198.7 117.9 201 122.0 202.7 125.4 204.1 128.4 205.2 130.8 206 132.5" stroke="#00c400" stroke-opacity="1" stroke-width="1.0" fill="none"/>
<path d="M206 7.0 206.6 7.2 207.5 7.4 208.7 8.0 210.5 9.7 213.2 12.8 216.7 17.0 220.2 21.5 223.1 25.6 225.2 29.0 226.8 32.2 228.2 35.2 229.5 38.2 230.9 41.2 232.2 44.2 233.3 47.1 234.2 49.9 234.8 52.6 235.1 55.1 235.2 57.7 235 60.8 234.4 64.3 233.5 68.2 232.4 72.4 231 76.6 229.2 81.2 227.1 86.2 224.9 91.0 223.1 95.0 221.9 97.7 221.2 99.5 220.4 101.3 219 104.0 216.8 108.0 213.9 112.9 211.1 117.8 209 122.0 207.7 125.4 206.9 128.4 206.4 130.8 206 132.5" stroke="#00c400" stroke-opacity="1" stroke-width="1.0" fill="none"/>
</g>
<rect x="163.5" y="6.5" width="86.0" height="126.0" fill="none" stroke="#747474" stroke-width="0.75"/>
<path d="M163.3,132.8v-2.0M163.3,6.3v2.0M170.5,132.8v-1.2M170.5,6.3v1.2M177.7,132.8v-2.0M177.7,6.3v2.0M184.9,132.8v-1.2M184.9,6.3v1.2M192.1,132.8v-2.0M192.1,6.3v2.0M199.3,132.8v-1.2M199.3,6.3v1.2M206.5,132.8v-2.0M206.5,6.3v2.0M213.7,132.8v-1.2M213.7,6.3v1.2M220.9,132.8v-2.0M220.9,6.3v2.0M228.1,132.8v-1.2M228.1,6.3v1.2M235.3,132.8v-2.0M235.3,6.3v2.0M242.5,132.8v-1.2M242.5,6.3v1.2M249.7,132.8v-2.0M249.7,6.3v2.0M163.3,132.8h2.0M249.7,132.8h-2.0M163.3,120.2h1.2M249.7,120.2h-1.2M163.3,107.5h2.0M249.7,107.5h-2.0M163.3,94.9h1.2M249.7,94.9h-1.2M163.3,82.2h2.0M249.7,82.2h-2.0M163.3,69.5h1.2M249.7,69.5h-1.2M163.3,56.9h2.0M249.7,56.9h-2.0M163.3,44.2h1.2M249.7,44.2h-1.2M163.3,31.6h2.0M249.7,31.6h-2.0M163.3,18.9h1.2M249.7,18.9h-1.2M163.3,6.3h2.0M249.7,6.3h-2.0" stroke="#747474" stroke-width="0.6" fill="none"/>
<g class="tl"><text x="163.3" y="140.0" text-anchor="middle">-1.5</text><text x="177.7" y="140.0" text-anchor="middle">-1.0</text><text x="192.1" y="140.0" text-anchor="middle">-0.5</text><text x="206.5" y="140.0" text-anchor="middle">0.0</text><text x="220.9" y="140.0" text-anchor="middle">0.5</text><text x="235.3" y="140.0" text-anchor="middle">1.0</text><text x="249.7" y="140.0" text-anchor="middle">1.5</text><text x="162.0" y="134.8" text-anchor="end">0.0</text><text x="162.0" y="109.5" text-anchor="end">0.2</text><text x="162.0" y="84.2" text-anchor="end">0.4</text><text x="162.0" y="58.9" text-anchor="end">0.6</text><text x="162.0" y="33.6" text-anchor="end">0.8</text><text x="162.0" y="8.3" text-anchor="end">1.0</text></g>
<text class="al" x="201.7" y="145.1">A<tspan font-size="4" dy="1.5">y</tspan></text>
<text class="al" transform="translate(155.0,68.4) rotate(-90)" text-anchor="middle">z/L</text>
<rect x="222.6" y="121.9" width="27.1" height="6.6" fill="#fff" stroke="#aaa" stroke-width="0.45"/>
<path d="M223.8,123.7h3.7" stroke="#00d000" stroke-width="1"/>
<path d="M223.8,126.3h3.7" stroke="#f22" stroke-width="1"/>
<text class="lg" x="227.7" y="124.9" font-size="3.3" textLength="15.9" lengthAdjust="spacingAndGlyphs">First -order</text>
<text class="lg" x="227.7" y="127.5" font-size="3.3" textLength="21.5" lengthAdjust="spacingAndGlyphs">Second -order</text>
<text class="cap" x="174.9" y="164.3">(<tspan font-weight="bold">b</tspan>) f = 0.15f<tspan font-size="6.5" dy="0.8">1</tspan></text><g clip-path="url(#cc)">
<path d="M352.5 7.6 347.7 10.0 340.9 13.4 334.7 16.9 329.8 20.3 325.4 23.8 321.9 26.8 319.4 29.0 317.8 30.7 316.9 32.7 316.7 35.2 317.1 37.9 317.9 40.6 319.3 43.4 321.1 46.2 322.5 48.5 323.1 49.9 323.3 50.9 323.8 52.5 325.0 55.4 326.5 58.9 327.8 62.4 328.7 65.7 329.4 68.9 329.5 72.0 328.6 74.7 327.0 77.2 325.8 79.9 325.2 83.1 324.8 86.4 324.8 89.8 325.1 93.1 325.7 96.4 326.8 99.7 328.4 103.0 330.4 106.2 332.7 109.5 335.1 112.8 337.7 116.1 340.6 119.4 344.0 122.9 347.6 126.4 350.5 129.3 352.1 131.2 353.0 132.5 353.5 133.3 353.5 133.3 354.3 132.5 355.4 131.2 357.4 129.3 360.6 126.4 364.6 122.9 368.3 119.4 371.3 116.1 373.9 112.8 376.2 109.5 378.2 106.2 379.9 103.0 381.2 99.7 382.2 96.4 382.9 93.1 383.2 89.8 382.9 86.4 382.2 83.1 381.2 79.9 379.8 77.0 378.2 74.4 377.2 72.0 376.9 70.1 377.2 68.4 378.2 66.3 380.2 63.3 382.9 59.7 385.1 56.4 386.5 53.5 387.5 50.7 388.1 48.0 388.4 45.4 388.3 42.9 388.0 40.6 387.6 38.6 387.0 36.8 386.1 34.7 384.9 32.3 383.5 29.7 381.2 26.8 377.9 23.6 373.9 20.2 369.3 16.9 363.4 13.4 357.0 10.0 352.5 7.6Z" fill="#e8e8e8"/>
<path d="M352.9 7.6l5.9 7.4 9.1 7.4 9.3 7.4 6.6 7.4 2.8 7.4-1.6 7.4-5.5 7.4-7.4 7.4-4.2 7.3-3.9 7.4-6.3 7.4-6.9 7.4-5.3 7.4-2.6 7.4 .8 7.4 4.3 7.4 5.5 7.4M352.5 7.6l-11.6 7.4-1.4 7.4 8.5 7.4 13.6 7.4 13.1 7.4 8 7.4 .3 7.4-5.7 7.4-4.8 7.3-6.6 7.4-11 7.4-11 7.4-7.2 7.4-1.2 7.4 4.4 7.4 7.6 7.4 5.9 7.4M352.7 7.6l-4.3 7.4 2.9 7.4 7.1 7.4 8.8 7.4 8 7.4 5 7.4 .8 7.4-2.9 7.4 .2 7.3 2.2 7.4-1.8 7.4-5.6 7.4-7.2 7.4-7.1 7.4-5.5 7.4-1.7 7.4 1.6 7.4M352.6 7.6l-13.1 7.4-11.7 7.4-8.4 7.4-1.9 7.4 2.7 7.4 4.7 7.4 5.1 7.4 4.6 7.4 3.3 7.3 2.6 7.4 4.6 7.4 5.2 7.4 5 7.4 3.6 7.4 1.2 7.4-2.2 7.4-4.5 7.4M352.6 7.6l13.3 7.4 10 7.4 2.7 7.4-6.8 7.4-13 7.4-13.1 7.4-9.1 7.4-5.5 7.4-2.6 7.3-2.8 7.4 4.5 7.4 9.6 7.4 11 7.4 9.2 7.4 3.9 7.4-3.3 7.4-7.1 7.4M353.0 7.6l.9 7.4 4.4 7.4 6.2 7.4 6.3 7.4 5.1 7.4 2.6 7.4-.3 7.4-2.8 7.4 .8 7.3 2.9 7.4 .5 7.4-2.8 7.4-4.4 7.4-5.6 7.4-5.8 7.4-5.1 7.4-2.8 7.4M352.6 7.6l-14 7.4-11 7.4-7 7.4 2.2 7.4 8.2 7.4 8.9 7.4 8.1 7.4 7.1 7.4 6.7 7.3 8 7.4 6.8 7.4 3.2 7.4-.7 7.4-4.2 7.4-7 7.4-8.5 7.4-6.1 7.4M352.8 7.6l-7.6 7.4-9.8 7.4-10.1 7.4-5 7.4 .7 7.4 3 7.4 3.8 7.4 3.7 7.4 2.8 7.3 1.8 7.4 4.5 7.4 5.8 7.4 5.6 7.4 4.6 7.4 2.3 7.4-1.4 7.4-4.1 7.4M352.6 7.6l-12.5 7.4-9.1 7.4-4 7.4 4.2 7.4 8.7 7.4 8.6 7.4 7.7 7.4 5.8 7.4 5.6 7.3 6.8 7.4 4.2 7.4-.1 7.4-3.6 7.4-6.2 7.4-7.1 7.4-6.1 7.4-2.5 7.4M352.6 7.6l-9.7 7.4-3.6 7.4 1.3 7.4 6 7.4 6.8 7.4 6.6 7.4 4.8 7.4 2.3 7.4 3.8 7.3 5.7 7.4 3.9 7.4 .4 7.4-2.4 7.4-4.7 7.4-6.7 7.4-7.7 7.4-6.1 7.4M353.0 7.6l3.4 7.4 7.7 7.4 9.1 7.4 7.7 7.4 4.5 7.4 .3 7.4-3.9 7.4-6.4 7.4-2.9 7.3-2.1 7.4-5.2 7.4-6.9 7.4-6.5 7.4-4.2 7.4-1.1 7.4 2.5 7.4 4.4 7.4M352.7 7.6l-12.1 7.4-11.9 7.4-9.2 7.4-.6 7.4 6.2 7.4 8 7.4 7.9 7.4 7.2 7.4 6.8 7.3 7.8 7.4 7.8 7.4 5 7.4 1.4 7.4-2.3 7.4-6 7.4-8.4 7.4-6.9 7.4M352.6 7.6l-13.8 7.4-11.2 7.4-8.2 7.4-1.9 7.4 6 7.4 7.4 7.4 7.2 7.4 6.4 7.4 5.8 7.3 6.5 7.4 7.3 7.4 5.8 7.4 3.2 7.4-.1 7.4-4 7.4-7.9 7.4-7.6 7.4M352.5 7.6l13.4 7.4 9.2 7.4 3.3 7.4-2.6 7.4-6.6 7.4-8.7 7.4-8.2 7.4-6 7.4-5.8 7.3-7 7.4-5.1 7.4-1.9 7.4 2.7 7.4 4.8 7.4 6.3 7.4 7.7 7.4 5.3 7.4M352.5 7.6l13.4 7.4 10 7.4 2.3 7.4-6.3 7.4-11.9 7.4-12.5 7.4-9 7.4-5.8 7.4-4.2 7.3-2.9 7.4 1.5 7.4 7.6 7.4 10.1 7.4 9 7.4 5.8 7.4-.6 7.4-5.5 7.4M352.7 7.6l-8 7.4-2.6 7.4 1.7 7.4 5.4 7.4 5.9 7.4 5.5 7.4 3.9 7.4 1.8 7.4 3.4 7.3 5.2 7.4 3.6 7.4 .6 7.4-1.8 7.4-4.1 7.4-6 7.4-7.5 7.4-6.3 7.4M352.6 7.6l-11.1 7.4-6.5 7.4-1.6 7.4 4.9 7.4 7.7 7.4 7 7.4 6.4 7.4 4 7.4 4.3 7.3 5.5 7.4 3.3 7.4-.4 7.4-3.3 7.4-5.3 7.4-6.2 7.4-5.6 7.4-2.6 7.4M352.7 7.6l-11.9 7.4-13.2 7.4-8.2 7.4-.8 7.4 9.6 7.4 11.6 7.4 10.9 7.4 9.5 7.4 8.6 7.3 9.5 7.4 4.7 7.4-1.1 7.4-4.6 7.4-9.1 7.4-9.3 7.4-5.9 7.4 .2 7.4M353.0 7.6l-2.1 7.4-7.3 7.4-10.1 7.4-7.4 7.4-2.6 7.4 .3 7.4 2.8 7.4 2 7.4 .7 7.3 .3 7.4 3.7 7.4 6 7.4 6.8 7.4 5.8 7.4 3.9 7.4 .5 7.4-3 7.4M352.9 7.6l-5.8 7.4-9.2 7.4-10.4 7.4-5.8 7.4 0 7.4 2.5 7.4 3.7 7.4 3.8 7.4 3.1 7.3 2.4 7.4 5.1 7.4 6.3 7.4 6.1 7.4 4.6 7.4 1.6 7.4-2.4 7.4-5.1 7.4M352.9 7.6l6.3 7.4 10.5 7.4 10.8 7.4 6.4 7.4 1.2 7.4-2.6 7.4-8.3 7.4-9.7 7.4-7 7.3-7.7 7.4-8.6 7.4-7 7.4-3.6 7.4 1 7.4 5.3 7.4 7.2 7.4 6.4 7.4M352.5 7.6l-13.6 7.4-6.8 7.4 .7 7.4 9.1 7.4 11.3 7.4 10.8 7.4 7.3 7.4 2.6 7.4 3.6 7.3 4 7.4-.5 7.4-5.8 7.4-8.5 7.4-8.8 7.4-6.2 7.4-1.1 7.4 2.7 7.4M352.5 7.6l12 7.4 4.6 7.4-2.2 7.4-7.5 7.4-9.7 7.4-7.9 7.4-5.6 7.4-3.8 7.4-3.5 7.3-3.3 7.4-.7 7.4 2.4 7.4 6.8 7.4 7.9 7.4 6.9 7.4 3.9 7.4 .3 7.4M352.7 7.6l4.4 7.4-4.7 7.4-11.6 7.4-11.2 7.4-5.3 7.4-.2 7.4 3.2 7.4 5.1 7.4 5.6 7.3 6.6 7.4 9.5 7.4 9.8 7.4 6.6 7.4 1.8 7.4-3.5 7.4-7.9 7.4-7.5 7.4M352.9 7.6l-6.1 7.4-10.9 7.4-11.7 7.4-5.1 7.4 2.5 7.4 6 7.4 7.3 7.4 7.5 7.4 7.1 7.3 8.2 7.4 8.9 7.4 6.6 7.4 2.6 7.4-1.8 7.4-5.8 7.4-8.3 7.4-6.6 7.4M352.6 7.6l12 7.4 10.7 7.4 7.7 7.4 3.3 7.4-1.1 7.4-4.8 7.4-7.2 7.4-7.7 7.4-4.9 7.3-5 7.4-6 7.4-5.5 7.4-3.5 7.4-.8 7.4 2.3 7.4 5.4 7.4 6 7.4M352.9 7.6l3 7.4 10 7.4 12.1 7.4 8.7 7.4 1.4 7.4-3.1 7.4-9.7 7.4-11.1 7.4-8.8 7.3-9.8 7.4-9.5 7.4-6.1 7.4-.8 7.4 4.8 7.4 6.8 7.4 8 7.4 4.4 7.4M352.6 7.6l10.3 7.4 3.5 7.4-3.7 7.4-9.2 7.4-10.1 7.4-6.9 7.4-3.5 7.4-.8 7.4 .4 7.3 1.2 7.4 5.7 7.4 8.4 7.4 8.3 7.4 6 7.4 1.4 7.4-4 7.4-6.2 7.4M352.8 7.6l-9.4 7.4-13.2 7.4-10.8 7.4-1.9 7.4 6.3 7.4 10.3 7.4 10.7 7.4 9.7 7.4 9.2 7.3 10.2 7.4 7.6 7.4 .4 7.4-2.8 7.4-7.9 7.4-9.3 7.4-7.2 7.4-1.6 7.4M353.0 7.6l3.5 7.4 8.5 7.4 10.1 7.4 8.2 7.4 4 7.4-1 7.4-5.7 7.4-8 7.4-5 7.3-5.1 7.4-7.7 7.4-7.6 7.4-5.5 7.4-2 7.4 1.9 7.4 5.7 7.4 6.2 7.4M352.9 7.6l7.1 7.4 12.5 7.4 10.5 7.4 3.9 7.4-2.4 7.4-10.8 7.4-13.7 7.4-11.4 7.4-9.6 7.3-9.8 7.4-4.3 7.4 1.2 7.4 5.9 7.4 9.8 7.4 8.5 7.4 4.4 7.4-1.4 7.4M352.8 7.6l-1.7 7.4 7.3 7.4 11.4 7.4 10.3 7.4 5 7.4-2.2 7.4-8.2 7.4-10.5 7.4-8.6 7.3-9.7 7.4-9.2 7.4-5.5 7.4 0 7.4 5.1 7.4 7.4 7.4 6.8 7.4 2.5 7.4M352.5 7.6l13.3 7.4 6.6 7.4-1.5 7.4-8.6 7.4-11.8 7.4-9.8 7.4-6.5 7.4-3.8 7.4-1.9 7.3-2.9 7.4 2.6 7.4 7.4 7.4 9.4 7.4 8.3 7.4 5.5 7.4-.4 7.4-5 7.4M352.9 7.6l3.4 7.4 10.4 7.4 11.7 7.4 7.2 7.4 0 7.4-7.2 7.4-11.5 7.4-11.4 7.4-9.4 7.3-10 7.4-7.2 7.4-1.8 7.4 3.9 7.4 7.9 7.4 8.3 7.4 5.3 7.4 .7 7.4M352.8 7.6l3.3 7.4-2.4 7.4-6.8 7.4-7.4 7.4-4.8 7.4-2.4 7.4-.8 7.4 .2 7.4-.4 7.3-1.5 7.4 1.8 7.4 4.5 7.4 5.9 7.4 5.8 7.4 4.3 7.4 2.1 7.4-1 7.4M352.6 7.6l-9.8 7.4-2.6 7.4 3.2 7.4 7.8 7.4 8.4 7.4 7.4 7.4 4.7 7.4 1.2 7.4 3.4 7.3 5.1 7.4 1.6 7.4-1.5 7.4-5 7.4-6.8 7.4-7.4 7.4-6.3 7.4-2.9 7.4M352.5 7.6l13 7.4 8.3 7.4 3.4 7.4-1.4 7.4-4.7 7.4-6.7 7.4-7 7.4-5.6 7.4-4.8 7.3-5.7 7.4-5.1 7.4-3.2 7.4-.5 7.4 2.5 7.4 5 7.4 7.1 7.4 6.4 7.4M352.5 7.6l-14.2 7.4-10.7 7.4-7.3 7.4 1.9 7.4 7.2 7.4 7.6 7.4 7 7.4 5.9 7.4 5.5 7.3 6.6 7.4 6.5 7.4 4.7 7.4 2 7.4-1.1 7.4-5.1 7.4-7.9 7.4-7.6 7.4M352.6 7.6l9.6 7.4 2.6 7.4-3.8 7.4-8.3 7.4-8.9 7.4-6.3 7.4-3.7 7.4-1.7 7.4-1.4 7.3-1.7 7.4 2.5 7.4 5.8 7.4 7.5 7.4 6.7 7.4 4.7 7.4 .5 7.4-3.4 7.4M352.8 7.6l.7 7.4-7.4 7.4-11.8 7.4-9.4 7.4-3.2 7.4 1.9 7.4 3 7.4 3.8 7.4 4.4 7.3 4.7 7.4 7.8 7.4 8.8 7.4 7.6 7.4 4.1 7.4-.7 7.4-6 7.4-7.6 7.4M352.6 7.6l-11 7.4-4 7.4 2.3 7.4 8 7.4 9 7.4 8.2 7.4 5.3 7.4 1.6 7.4 3.2 7.3 4.4 7.4 1 7.4-3.5 7.4-6 7.4-7.3 7.4-6.6 7.4-4.1 7.4 0 7.4M352.6 7.6l7.3 7.4-2.9 7.4-11.2 7.4-13.2 7.4-7.5 7.4-1.5 7.4 3 7.4 4.7 7.4 6.2 7.3 7.7 7.4 10.9 7.4 10.7 7.4 6.6 7.4 1 7.4-5.4 7.4-8.3 7.4-7.3 7.4M352.9 7.6l-.4 7.4 3.4 7.4 5.7 7.4 6.2 7.4 5.3 7.4 3.2 7.4 .4 7.4-2.1 7.4 1.3 7.3 3.5 7.4 1 7.4-2.1 7.4-4.2 7.4-5.4 7.4-6 7.4-5.9 7.4-3.6 7.4M352.5 7.6l13.2 7.4 10.2 7.4 6.6 7.4 1.9 7.4-1.9 7.4-5 7.4-6.9 7.4-6.9 7.4-4.3 7.3-4.4 7.4-5.3 7.4-4.7 7.4-3.2 7.4-.7 7.4 1.9 7.4 4.9 7.4 5.6 7.4M352.6 7.6l-12.3 7.4-12.1 7.4-8.8 7.4-1.8 7.4 5.4 7.4 7.3 7.4 7.2 7.4 6.7 7.4 6.1 7.3 6.8 7.4 7.7 7.4 5.9 7.4 3.1 7.4-.4 7.4-4.4 7.4-7.9 7.4-7.6 7.4M352.7 7.6l10.5 7.4 12.3 7.4 7.5 7.4 3.2 7.4-5.7 7.4-10.9 7.4-12.4 7.4-9.9 7.4-8.4 7.3-9 7.4-5 7.4 1.2 7.4 4.4 7.4 8.6 7.4 8.4 7.4 5.2 7.4 .5 7.4M352.5 7.6l-13.5 7.4-9.7 7.4-4.7 7.4 3.8 7.4 8.6 7.4 8.7 7.4 7.6 7.4 6.4 7.4 6 7.3 7.4 7.4 5.5 7.4 1.5 7.4-2.1 7.4-5.2 7.4-7.3 7.4-7.6 7.4-4.7 7.4M352.5 7.6l13.4 7.4 10 7.4 3.5 7.4-5.6 7.4-11.6 7.4-12.8 7.4-9.3 7.4-6.4 7.4-4.9 7.3-3.2 7.4 .2 7.4 6.9 7.4 9.8 7.4 9.2 7.4 6.3 7.4 .3 7.4-4.8 7.4M352.5 7.6l-12.4 7.4-5.6 7.4 2.1 7.4 9.7 7.4 11.4 7.4 10.2 7.4 6 7.4 .8 7.4 1.7 7.3 1.7 7.4-3.4 7.4-7.8 7.4-9.2 7.4-7.4 7.4-3.2 7.4 1.8 7.4 4.5 7.4M352.7 7.6l-7.1 7.4-.1 7.4 5.3 7.4 7.8 7.4 8 7.4 6.3 7.4 3 7.4-.4 7.4 2.4 7.3 3.6 7.4 1.5 7.4-2.8 7.4-5.5 7.4-7 7.4-7 7.4-5.5 7.4-2.2 7.4M352.9 7.6l-6.4 7.4-9.7 7.4-10.4 7.4-5 7.4 1.1 7.4 3.8 7.4 4.9 7.4 5 7.4 4.4 7.3 4.5 7.4 6.4 7.4 6.9 7.4 5.4 7.4 2.6 7.4-1 7.4-5.2 7.4-6.7 7.4M352.7 7.6l-10.7 7.4-11.8 7.4-10.8 7.4-1.9 7.4 2.7 7.4 4.1 7.4 5.8 7.4 5.6 7.4 4.7 7.3 4.6 7.4 6.4 7.4 6.8 7.4 5.5 7.4 2.9 7.4-.9 7.4-5.1 7.4-7.1 7.4M352.8 7.6l4 7.4-1.4 7.4-5.5 7.4-7.1 7.4-5.2 7.4-3.2 7.4-1.9 7.4-1.2 7.4-2 7.3-3.7 7.4-.7 7.4 1.8 7.4 4.7 7.4 6.3 7.4 6.5 7.4 5.8 7.4 3.2 7.4M352.5 7.6l-12.3 7.4-5.1 7.4 1.4 7.4 7.7 7.4 9.2 7.4 8.7 7.4 6.3 7.4 2.8 7.4 4.3 7.3 6 7.4 1.5 7.4-1.1 7.4-4 7.4-7 7.4-7.9 7.4-6.8 7.4-3.1 7.4M352.5 7.6l-14.1 7.4-7.2 7.4 .1 7.4 8.3 7.4 10.9 7.4 10.3 7.4 7.8 7.4 3.5 7.4 4.6 7.3 4.8 7.4 1.5 7.4-2.5 7.4-6.9 7.4-8.5 7.4-7.8 7.4-4.5 7.4 .4 7.4M352.7 7.6l-10.7 7.4-11.4 7.4-9 7.4-.4 7.4 6.6 7.4 8.5 7.4 8.4 7.4 7.6 7.4 7.2 7.3 8.3 7.4 7.2 7.4 3.3 7.4-.9 7.4-4.7 7.4-7.2 7.4-7.7 7.4-4.6 7.4M352.6 7.6l-6.6 7.4 2.8 7.4 9.1 7.4 11.2 7.4 9.9 7.4 5.5 7.4-1.5 7.4-4.9 7.4-1.6 7.3-2.5 7.4-7 7.4-9.6 7.4-8.6 7.4-5.1 7.4-.5 7.4 4.3 7.4 6 7.4M352.6 7.6l-11.4 7.4-5.6 7.4-.9 7.4 4.6 7.4 6.7 7.4 5.9 7.4 5.4 7.4 3.7 7.4 4.2 7.3 5.8 7.4 4.8 7.4 2.1 7.4-.4 7.4-3 7.4-5.6 7.4-8 7.4-7.4 7.4M352.7 7.6l-10.4 7.4-12.1 7.4-10.8 7.4-1.9 7.4 3.3 7.4 6.7 7.4 7.3 7.4 7 7.4 6.4 7.3 7 7.4 8.3 7.4 6.7 7.4 3.6 7.4-.2 7.4-4.6 7.4-7.9 7.4-7.6 7.4M353.0 7.6l4.6 7.4 10 7.4 10.4 7.4 5.8 7.4-.6 7.4-6.9 7.4-10.5 7.4-10.3 7.4-8.3 7.3-9.1 7.4-6.9 7.4-2.3 7.4 2.9 7.4 6.6 7.4 7.6 7.4 5.7 7.4 1.4 7.4" stroke="#000" stroke-opacity="0.65" stroke-width="0.42" fill="none"/>
<path d="M352.7 7.6l-11.1 7.4-12 7.4-8.1 7.4 2.5 7.4 10 7.4 11.5 7.4 10.6 7.4 8.1 7.4 7.1 7.3 7.4 7.4 2.7 7.4-3.7 7.4-7.9 7.4-9.5 7.4-7.6 7.4-1.9 7.4 2.5 7.4M352.7 7.6l6.8 7.4-.1 7.4-5.2 7.4-8.3 7.4-7 7.4-4.5 7.4-2.6 7.4-1.5 7.4-1.8 7.3-2.9 7.4 .1 7.4 3.8 7.4 6.2 7.4 7.1 7.4 6 7.4 3.7 7.4 .6 7.4M352.5 7.6l11.7 7.4 4.2 7.4-3.8 7.4-10 7.4-11.4 7.4-8 7.4-4.2 7.4-1.2 7.4 .1 7.3 .8 7.4 6.1 7.4 9 7.4 9.3 7.4 7 7.4 2.1 7.4-4 7.4-6.7 7.4M352.8 7.6l6.4 7.4 6 7.4 4.2 7.4 1.6 7.4-.9 7.4-3.2 7.4-4.4 7.4-4.4 7.4-3.2 7.3-3.4 7.4-3.6 7.4-2.9 7.4-1.5 7.4 .5 7.4 2.1 7.4 3.7 7.4 3.5 7.4M352.6 7.6l9.5 7.4 5.1 7.4 .5 7.4-3.9 7.4-6.4 7.4-6.7 7.4-5 7.4-3.7 7.4-3.6 7.3-4.4 7.4-1.8 7.4 1.1 7.4 3.7 7.4 5.4 7.4 5.3 7.4 4 7.4 1.3 7.4M352.7 7.6l-11.8 7.4-12 7.4-7 7.4 4.5 7.4 11.8 7.4 12.4 7.4 11.5 7.4 6.9 7.4 6 7.3 5.4 7.4-.6 7.4-7.1 7.4-10.2 7.4-9.8 7.4-4.9 7.4 1 7.4 4.7 7.4M352.9 7.6l-4 7.4-6.4 7.4-5.6 7.4-.5 7.4 4.1 7.4 5.7 7.4 5.6 7.4 4.9 7.4 4.3 7.3 4.4 7.4 2.1 7.4-1.4 7.4-3.9 7.4-5 7.4-4.2 7.4-1.1 7.4 1.3 7.4M352.9 7.6l3.5 7.4 1.8 7.4-.1 7.4-1.8 7.4-2.8 7.4-2.5 7.4-1.9 7.4-1.2 7.4-1.1 7.3-1.2 7.4 .1 7.4 1.2 7.4 2 7.4 2.2 7.4 1.7 7.4 .7 7.4-.4 7.4M352.8 7.6l1.6 7.4-3.9 7.4-7.5 7.4-6.7 7.4-3.1 7.4-.4 7.4 1.4 7.4 2.2 7.4 2.2 7.3 2.1 7.4 4.6 7.4 5.7 7.4 5.5 7.4 3.7 7.4 .7 7.4-2.8 7.4-4.8 7.4M352.9 7.6l-1.6 7.4-7 7.4-9.2 7.4-6 7.4-.5 7.4 2.6 7.4 4.2 7.4 4.9 7.4 4.7 7.3 5.3 7.4 6.9 7.4 6.3 7.4 3.9 7.4 .6 7.4-3 7.4-6 7.4-5.7 7.4M352.9 7.6l2.5 7.4 2.2 7.4 1.6 7.4 .6 7.4-.3 7.4-1.1 7.4-1.6 7.4-1.6 7.4-1.1 7.3-1.2 7.4-1.3 7.4-1.1 7.4-.6 7.4 0 7.4 .6 7.4 1.3 7.4 1.3 7.4M352.8 7.6l6 7.4 4.9 7.4 2.2 7.4-1.3 7.4-3.9 7.4-5.3 7.4-4.6 7.4-3.4 7.4-3 7.3-3.2 7.4-1.4 7.4 1.1 7.4 2.9 7.4 3.9 7.4 3.5 7.4 1.9 7.4 0 7.4M352.8 7.6l3.8 7.4-.9 7.4-4.3 7.4-5.9 7.4-4.6 7.4-3.1 7.4-1.9 7.4-1.5 7.4-2.4 7.3-4.3 7.4-1.9 7.4 .7 7.4 3.3 7.4 5.4 7.4 6.4 7.4 6.8 7.4 4.9 7.4M352.9 7.6l-.7 7.4-6.4 7.4-9.6 7.4-7.7 7.4-3.2 7.4-.3 7.4 1.6 7.4 2 7.4 .7 7.3 0 7.4 3.5 7.4 5.8 7.4 6.7 7.4 5.9 7.4 4.1 7.4 .7 7.4-2.7 7.4M352.6 7.6l-11.5 7.4-4.9 7.4 2.4 7.4 9.7 7.4 11 7.4 9.4 7.4 5.1 7.4-.1 7.4 .6 7.3 .1 7.4-4.8 7.4-8.4 7.4-8.8 7.4-5.7 7.4-1.4 7.4 3.2 7.4 4.9 7.4M353.0 7.6l1.8 7.4 4.6 7.4 5.9 7.4 5.5 7.4 4 7.4 1.7 7.4-1.1 7.4-3 7.4 0 7.3 1.6 7.4-.5 7.4-3.1 7.4-4.4 7.4-4.7 7.4-4.3 7.4-3.1 7.4-.9 7.4M352.7 7.6l-8.6 7.4-4.2 7.4 1.3 7.4 7 7.4 8.2 7.4 7.2 7.4 4.2 7.4 .2 7.4 .7 7.3 .2 7.4-3.4 7.4-6.2 7.4-6.6 7.4-4.3 7.4-1.1 7.4 2.4 7.4 3.6 7.4M352.7 7.6l8.1 7.4 6.8 7.4 4.8 7.4 2.2 7.4-.4 7.4-2.5 7.4-4.1 7.4-4.5 7.4-2.4 7.3-2.1 7.4-3.1 7.4-3.4 7.4-2.6 7.4-1.4 7.4 .2 7.4 2 7.4 3 7.4M352.7 7.6l6.9 7.4 1.1 7.4-3.3 7.4-6.2 7.4-6.2 7.4-4.6 7.4-3.2 7.4-2.3 7.4-2.8 7.3-4.6 7.4-1.8 7.4 1.2 7.4 3.9 7.4 6 7.4 6.5 7.4 6.2 7.4 3.7 7.4M352.6 7.6l-9.3 7.4-1.1 7.4 6.7 7.4 10.9 7.4 10.5 7.4 6.5 7.4 .4 7.4-4.6 7.4-3.7 7.3-5.2 7.4-8.7 7.4-8.9 7.4-5.9 7.4-1.1 7.4 3.3 7.4 6.1 7.4 4.8 7.4M352.6 7.6l-10.8 7.4-3.8 7.4 2.9 7.4 8.9 7.4 9.8 7.4 8.5 7.4 4.8 7.4 .4 7.4 1.8 7.3 2.2 7.4-2.1 7.4-6.1 7.4-7.9 7.4-7.3 7.4-4 7.4 .2 7.4 3.2 7.4M352.8 7.6l3.8 7.4 0 7.4-2.9 7.4-4.8 7.4-3.9 7.4-2.4 7.4-1.2 7.4-.4 7.4-.5 7.3-.8 7.4 1.2 7.4 2.9 7.4 3.8 7.4 3.5 7.4 2.5 7.4 .8 7.4-1.3 7.4M352.5 7.6l10.9 7.4 4.7 7.4-.4 7.4-4.6 7.4-6.7 7.4-6.5 7.4-5 7.4-4 7.4-4.3 7.3-5.9 7.4-3.9 7.4-.7 7.4 3.1 7.4 4.8 7.4 5.9 7.4 7.3 7.4 6.2 7.4M352.8 7.6l7.2 7.4 6 7.4 3.1 7.4-1 7.4-4.3 7.4-6.2 7.4-5.9 7.4-4.3 7.4-3.8 7.3-4.2 7.4-2.1 7.4 .6 7.4 3.1 7.4 4.5 7.4 4.4 7.4 2.7 7.4 .5 7.4M353.0 7.6l-1.7 7.4-4.1 7.4-4.9 7.4-2.6 7.4 .5 7.4 2 7.4 2.8 7.4 2.9 7.4 2.8 7.3 3.2 7.4 3.8 7.4 2.9 7.4 1.3 7.4-.5 7.4-2.2 7.4-3.4 7.4-2.7 7.4M352.6 7.6l8 7.4-2.6 7.4-11.2 7.4-13.7 7.4-8 7.4-1.5 7.4 3 7.4 5.2 7.4 6.8 7.3 8.5 7.4 11.6 7.4 10.6 7.4 6.1 7.4-.5 7.4-5.9 7.4-8.9 7.4-6.8 7.4M352.8 7.6l5.3 7.4 4.9 7.4 3.7 7.4 1.8 7.4 0 7.4-1.8 7.4-3.1 7.4-3.3 7.4-2 7.3-1.7 7.4-2.6 7.4-2.6 7.4-1.9 7.4-.9 7.4 .4 7.4 1.8 7.4 2.4 7.4M353.0 7.6l-2.4 7.4-4.7 7.4-5.4 7.4-2.7 7.4 .5 7.4 2.2 7.4 2.8 7.4 2.9 7.4 2.9 7.3 3.1 7.4 3.9 7.4 3.4 7.4 2.1 7.4 .2 7.4-1.7 7.4-3.5 7.4-3.4 7.4M353.0 7.6l-3.6 7.4-8.4 7.4-9.8 7.4-5.2 7.4 .9 7.4 4.1 7.4 5.5 7.4 5.8 7.4 5.6 7.3 6.4 7.4 7.5 7.4 6 7.4 2.9 7.4-.7 7.4-4.3 7.4-6.8 7.4-5.6 7.4M352.8 7.6l6.4 7.4 5.4 7.4 3.4 7.4 .4 7.4-2.2 7.4-4 7.4-4.6 7.4-4.1 7.4-3.3 7.3-3.8 7.4-3.2 7.4-1.9 7.4 .1 7.4 1.9 7.4 3.2 7.4 3.9 7.4 2.8 7.4M352.7 7.6l9.5 7.4 5.9 7.4 .3 7.4-5.4 7.4-8.8 7.4-8 7.4-5.4 7.4-3.2 7.4-2 7.3-1.5 7.4 2.8 7.4 6 7.4 7.1 7.4 6.1 7.4 3.1 7.4-1.5 7.4-4.4 7.4M352.9 7.6l6 7.4 8.7 7.4 8.9 7.4 6.4 7.4 2.6 7.4-1.6 7.4-5.2 7.4-7.1 7.4-3.8 7.3-3.6 7.4-5.9 7.4-6.6 7.4-5.2 7.4-2.6 7.4 .5 7.4 3.9 7.4 5.1 7.4M353.0 7.6l-1.6 7.4-2.5 7.4-2.7 7.4-1.4 7.4 .2 7.4 .9 7.4 1.2 7.4 1.2 7.4 1.1 7.3 1.1 7.4 1.7 7.4 1.7 7.4 1.5 7.4 .8 7.4-.1 7.4-1.3 7.4-1.7 7.4M352.9 7.6l7.3 7.4 10.4 7.4 8.2 7.4 1.9 7.4-5.1 7.4-10.1 7.4-11.3 7.4-8.5 7.4-7.1 7.3-7.1 7.4-2.7 7.4 2.6 7.4 6.9 7.4 8.4 7.4 6.3 7.4 2.7 7.4-2.4 7.4M352.9 7.6l6.2 7.4 10.3 7.4 10.4 7.4 6.9 7.4 1.4 7.4-3.3 7.4-7.9 7.4-9.3 7.4-6.6 7.3-7.3 7.4-8.3 7.4-6.9 7.4-3.7 7.4 .6 7.4 4.5 7.4 7.2 7.4 6.4 7.4M352.8 7.6l8 7.4 9.9 7.4 8.3 7.4 3.7 7.4-1.5 7.4-6.1 7.4-8.7 7.4-8.5 7.4-6.7 7.3-7.4 7.4-6.8 7.4-4.1 7.4-.2 7.4 3.6 7.4 5.9 7.4 6.7 7.4 4.3 7.4M352.7 7.6l10.2 7.4 10.6 7.4 7.7 7.4 2.5 7.4-2.7 7.4-7.1 7.4-9.1 7.4-8.5 7.4-6.8 7.3-7.5 7.4-6.7 7.4-3.9 7.4 0 7.4 3.7 7.4 6.2 7.4 7.2 7.4 4.8 7.4M352.5 7.6l-13.3 7.4-7.2 7.4-1.7 7.4 5 7.4 7.8 7.4 7.2 7.4 6.4 7.4 4.6 7.4 5 7.3 6.6 7.4 5.4 7.4 2.3 7.4-1.5 7.4-4.2 7.4-5.9 7.4-8 7.4-7.6 7.4M352.5 7.6l10.1 7.4 1.6 7.4-5.9 7.4-11 7.4-10 7.4-5.9 7.4-2.4 7.4 .3 7.4 1.2 7.3 1.8 7.4 6.5 7.4 9.1 7.4 8.9 7.4 6.3 7.4 1.5 7.4-4.3 7.4-6.8 7.4M352.7 7.6l5.4 7.4-1.7 7.4-7.2 7.4-9.1 7.4-6.4 7.4-3.4 7.4-1.2 7.4 .2 7.4 .1 7.3-.8 7.4 3.1 7.4 6 7.4 7.2 7.4 6.4 7.4 4.5 7.4 .6 7.4-3.1 7.4M352.7 7.6l5.7 7.4-2.4 7.4-8.8 7.4-10.5 7.4-6.6 7.4-2.6 7.4 .3 7.4 2.2 7.4 2.5 7.3 2.8 7.4 6.6 7.4 8.4 7.4 8 7.4 5.3 7.4 .9 7.4-4.3 7.4-6.7 7.4M352.8 7.6l-5.1 7.4-.5 7.4 3.5 7.4 5.7 7.4 5.6 7.4 3.9 7.4 1.1 7.4-1.6 7.4-.6 7.3-.8 7.4-3.2 7.4-4.8 7.4-4.5 7.4-2.7 7.4-.5 7.4 2 7.4 2.9 7.4M352.8 7.6l3.4 7.4 .2 7.4-2.3 7.4-3.8 7.4-3.3 7.4-2.2 7.4-1.2 7.4-.7 7.4-.7 7.3-1.3 7.4 .4 7.4 2 7.4 2.9 7.4 3.2 7.4 2.5 7.4 1.4 7.4-.2 7.4M352.7 7.6l-6.6 7.4 2.2 7.4 8.6 7.4 10.4 7.4 8.5 7.4 3.4 7.4-2.6 7.4-6.6 7.4-5.4 7.3-6.6 7.4-8.9 7.4-7.6 7.4-4.1 7.4 .8 7.4 4.5 7.4 6.3 7.4 4.2 7.4M352.5 7.6l12.9 7.4 6.7 7.4 .7 7.4-4.6 7.4-7.7 7.4-8.4 7.4-6.4 7.4-5 7.4-5 7.3-6.6 7.4-3.9 7.4 .9 7.4 3.1 7.4 4.8 7.4 7 7.4 7.5 7.4 4.8 7.4M352.6 7.6l-10.4 7.4-4.9 7.4 2.1 7.4 9.3 7.4 10.6 7.4 8.9 7.4 4.3 7.4-.7 7.4-.5 7.3-1.6 7.4-6 7.4-8.8 7.4-7.4 7.4-3.9 7.4 .5 7.4 4.5 7.4 4.8 7.4M352.6 7.6l-13.1 7.4-7.9 7.4-.1 7.4 9.2 7.4 12.3 7.4 11.6 7.4 7.6 7.4 1.9 7.4 2.2 7.3 1.6 7.4-4 7.4-8.8 7.4-10 7.4-7.2 7.4-2.5 7.4 2.9 7.4 5.2 7.4M352.8 7.6l-1.2 7.4 5.4 7.4 9.1 7.4 9.4 7.4 7.2 7.4 2.8 7.4-2.5 7.4-5 7.4-2.2 7.3-1.6 7.4-5.2 7.4-7.9 7.4-7.8 7.4-5.2 7.4-1.8 7.4 2.4 7.4 4.7 7.4M352.9 7.6l-3.6 7.4-.4 7.4 2.4 7.4 4 7.4 3.9 7.4 2.5 7.4 .4 7.4-1.5 7.4-1.1 7.3-1.6 7.4-3 7.4-3.4 7.4-2.5 7.4-.8 7.4 .9 7.4 2.1 7.4 1.9 7.4M352.9 7.6l6.6 7.4 10.8 7.4 10.9 7.4 5.7 7.4 1.2 7.4-1.7 7.4-8.3 7.4-9.7 7.4-6.9 7.3-7.7 7.4-8.6 7.4-7.3 7.4-3.9 7.4 .6 7.4 5.3 7.4 7.2 7.4 6.4 7.4M352.9 7.6l5.7 7.4 9.8 7.4 9.5 7.4 4.8 7.4-1.3 7.4-6.7 7.4-9.9 7.4-9.5 7.4-7.7 7.3-8.4 7.4-6.6 7.4-2.5 7.4 2.2 7.4 6 7.4 7.1 7.4 5.8 7.4 1.8 7.4M352.5 7.6l-14.2 7.4-10.7 7.4-7 7.4 5.4 7.4 11.2 7.4 11.2 7.4 10.2 7.4 7.2 7.4 7 7.3 8 7.4 2.2 7.4-1.1 7.4-4.2 7.4-8.6 7.4-8.9 7.4-6.2 7.4-.9 7.4M352.8 7.6l6.3 7.4 4.3 7.4 1.9 7.4-1 7.4-3.1 7.4-4.1 7.4-4.1 7.4-3 7.4-2.8 7.3-3.3 7.4-2.4 7.4-.7 7.4 1 7.4 2.6 7.4 3.3 7.4 3.3 7.4 2.1 7.4M352.7 7.6l-11.8 7.4-11.9 7.4-9.6 7.4-1.9 7.4 2.7 7.4 4.9 7.4 5.9 7.4 5.5 7.4 4.5 7.3 4.4 7.4 6.1 7.4 6.4 7.4 5.3 7.4 2.7 7.4-.7 7.4-4.9 7.4-6.8 7.4M352.7 7.6l-5.7 7.4-.7 7.4 3.1 7.4 5.3 7.4 5.6 7.4 4.7 7.4 2.8 7.4 .5 7.4 2.5 7.3 4.2 7.4 2.4 7.4-.7 7.4-2.8 7.4-4.5 7.4-5.7 7.4-6.1 7.4-4.4 7.4M352.8 7.6l-1.1 7.4 5.3 7.4 8.8 7.4 8.7 7.4 5.9 7.4 1.4 7.4-3.3 7.4-6.4 7.4-3.9 7.3-4.2 7.4-7 7.4-7.6 7.4-5.6 7.4-2.3 7.4 1.5 7.4 5 7.4 5.4 7.4M352.7 7.6l-4 7.4 3.7 7.4 8.3 7.4 9 7.4 6.2 7.4 1.1 7.4-4.1 7.4-7.2 7.4-5.8 7.3-7 7.4-7.7 7.4-5.9 7.4-2.1 7.4 2.3 7.4 5 7.4 5.6 7.4 3 7.4M352.8 7.6l-5.9 7.4-2.7 7.4 .8 7.4 4.2 7.4 5.1 7.4 4.6 7.4 3 7.4 .8 7.4 1.4 7.3 1.7 7.4-.5 7.4-2.7 7.4-3.8 7.4-3.9 7.4-2.7 7.4-.3 7.4 1.3 7.4M352.9 7.6l-1 7.4-7 7.4-10 7.4-7.5 7.4-2.4 7.4 .8 7.4 2.5 7.4 3.3 7.4 2.8 7.3 2.6 7.4 5.5 7.4 6.9 7.4 6.6 7.4 4.8 7.4 1.3 7.4-3 7.4-5.7 7.4M353.0 7.6l-2.1 7.4-4.3 7.4-4.6 7.4-2 7.4 1.2 7.4 2.5 7.4 3.1 7.4 3.2 7.4 3 7.3 3.5 7.4 3.5 7.4 2.1 7.4 .3 7.4-1.4 7.4-2.8 7.4-3.2 7.4-1.9 7.4M352.6 7.6l6.5 7.4-3.1 7.4-10.8 7.4-12.3 7.4-7 7.4-1.8 7.4 2.5 7.4 4.1 7.4 5.2 7.3 6.3 7.4 9.7 7.4 10.4 7.4 7.4 7.4 2.5 7.4-3.2 7.4-7.9 7.4-7.7 7.4M352.9 7.6l-3.9 7.4-2.6 7.4-.3 7.4 2.6 7.4 3.7 7.4 3.5 7.4 2.4 7.4 .8 7.4 .8 7.3 .6 7.4-1.1 7.4-2.6 7.4-2.9 7.4-2.3 7.4-.8 7.4 .8 7.4 1.5 7.4M352.7 7.6l-7.2 7.4-4.8 7.4-2.6 7.4 1 7.4 3.2 7.4 3.3 7.4 2.9 7.4 2.5 7.4 2.1 7.3 2.6 7.4 2.7 7.4 2.2 7.4 1.1 7.4 0 7.4-1.5 7.4-3.2 7.4-3.7 7.4M352.8 7.6l2.5 7.4-1.9 7.4-5.5 7.4-6 7.4-3.9 7.4-2.1 7.4-1 7.4-.3 7.4-.9 7.3-2.3 7.4 .4 7.4 2.7 7.4 4.5 7.4 5.2 7.4 4.6 7.4 3.3 7.4 .9 7.4M352.8 7.6l2.7 7.4-1 7.4-3.7 7.4-4.6 7.4-3 7.4-1.4 7.4 0 7.4 .8 7.4 .8 7.3 .9 7.4 2.6 7.4 3.6 7.4 3.5 7.4 2.7 7.4 .8 7.4-1.5 7.4-2.8 7.4M352.8 7.6l5.8 7.4 5.7 7.4 4.8 7.4 3.1 7.4 1 7.4-.9 7.4-2.8 7.4-3.6 7.4-1.3 7.3-.4 7.4-1.8 7.4-2.8 7.4-3.1 7.4-2.7 7.4-1.6 7.4-.1 7.4 1 7.4M353.0 7.6l-5.1 7.4-10.1 7.4-11.6 7.4-6.1 7.4 1 7.4 4.4 7.4 5.9 7.4 6.2 7.4 6 7.3 6.4 7.4 8.4 7.4 7.6 7.4 4.8 7.4 .9 7.4-3.4 7.4-7.4 7.4-7.4 7.4M352.8 7.6l-6.3 7.4-3.2 7.4 .2 7.4 3.9 7.4 5 7.4 4.8 7.4 3.5 7.4 1.3 7.4 1.9 7.3 2.2 7.4 .2 7.4-2.2 7.4-3.6 7.4-3.9 7.4-3.2 7.4-1.1 7.4 .8 7.4M352.5 7.6l12.8 7.4 9.8 7.4 6.3 7.4 1.9 7.4-1.7 7.4-4.6 7.4-6.3 7.4-6.5 7.4-3.9 7.3-3.8 7.4-4.8 7.4-4.5 7.4-3.1 7.4-1.1 7.4 1.4 7.4 4 7.4 5 7.4M352.9 7.6l3.1 7.4 .7 7.4-1.7 7.4-3.3 7.4-3.2 7.4-1.8 7.4-.7 7.4 .1 7.4 .6 7.3 .9 7.4 2.3 7.4 2.8 7.4 2.7 7.4 1.6 7.4 0 7.4-1.7 7.4-2.2 7.4M352.8 7.6l4.8 7.4 2.7 7.4 .7 7.4-1.3 7.4-2.5 7.4-3.1 7.4-2.6 7.4-2 7.4-1.9 7.3-2.4 7.4-1.5 7.4-.4 7.4 1 7.4 2 7.4 2.5 7.4 2.6 7.4 1.7 7.4M352.8 7.6l-8.1 7.4-6.3 7.4-2.7 7.4 3.5 7.4 6.8 7.4 6.7 7.4 6.1 7.4 3.5 7.4 3.5 7.3 3.5 7.4 .8 7.4-2.9 7.4-4.9 7.4-5.6 7.4-4.2 7.4-.9 7.4 1.6 7.4M352.9 7.6l.8 7.4-2.7 7.4-5 7.4-4 7.4-1.2 7.4 .8 7.4 2.1 7.4 2.6 7.4 2.7 7.3 3.2 7.4 4.1 7.4 3.4 7.4 1.8 7.4-.2 7.4-2.2 7.4-3.3 7.4-2.7 7.4M352.9 7.6l-.7 7.4-4.9 7.4-6.4 7.4-3.6 7.4 .5 7.4 2.9 7.4 3.9 7.4 4.3 7.4 4.2 7.3 4.9 7.4 4.7 7.4 2.5 7.4-.1 7.4-2.5 7.4-3.9 7.4-3.9 7.4-1.8 7.4M352.6 7.6l-8.8 7.4-1.7 7.4 4.6 7.4 8.9 7.4 9 7.4 7 7.4 2.9 7.4-1.2 7.4 .4 7.3 .6 7.4-3.3 7.4-6.8 7.4-7.5 7.4-6 7.4-2.6 7.4 1.4 7.4 3.9 7.4M352.6 7.6l10 7.4 3.8 7.4-2.5 7.4-7.5 7.4-9 7.4-6.9 7.4-4.3 7.4-2.3 7.4-1.5 7.3-1.7 7.4 2.6 7.4 5.8 7.4 7.3 7.4 6.4 7.4 4.4 7.4-.1 7.4-3.8 7.4M352.9 7.6l-.5 7.4-5.7 7.4-7.8 7.4-5.1 7.4-.2 7.4 2.7 7.4 4.3 7.4 4.7 7.4 4.9 7.3 5.5 7.4 6.2 7.4 4.3 7.4 1.5 7.4-1.7 7.4-4.2 7.4-5.3 7.4-3.4 7.4M353.0 7.6l-6.7 7.4-12.7 7.4-13 7.4-3.1 7.4 4.3 7.4 9.4 7.4 10.5 7.4 9.9 7.4 9.6 7.3 10.6 7.4 8.3 7.4 1.8 7.4-2.8 7.4-7.8 7.4-9.4 7.4-7.2 7.4-1.6 7.4M352.7 7.6l-9.8 7.4-9.4 7.4-8.1 7.4-2.6 7.4 2.1 7.4 3.6 7.4 3.6 7.4 3.3 7.4 2.2 7.3 1.1 7.4 3.2 7.4 4.1 7.4 4.3 7.4 3.4 7.4 2.2 7.4-.3 7.4-2.4 7.4M352.5 7.6l13.4 7.4 9.5 7.4 1.8 7.4-5.1 7.4-9.6 7.4-10.9 7.4-8.1 7.4-6.2 7.4-5.5 7.3-6.2 7.4-.7 7.4 1.2 7.4 5.8 7.4 8.3 7.4 7.6 7.4 4.7 7.4 .6 7.4M352.6 7.6l9.1 7.4 5.5 7.4 1.7 7.4-2 7.4-4.4 7.4-5.5 7.4-5.1 7.4-3.8 7.4-3.6 7.3-4.5 7.4-3.3 7.4-1.3 7.4 1 7.4 3.2 7.4 4.6 7.4 5.2 7.4 3.9 7.4M352.9 7.6l5.2 7.4 6.1 7.4 5.6 7.4 3.8 7.4 1.7 7.4-.8 7.4-2.8 7.4-4.1 7.4-1.5 7.3-.6 7.4-2.3 7.4-3.5 7.4-3.7 7.4-3.1 7.4-1.6 7.4 .3 7.4 1.6 7.4M352.5 7.6l12.8 7.4 6.8 7.4-.4 7.4-7 7.4-10.5 7.4-9.5 7.4-6.8 7.4-4.4 7.4-3.6 7.3-3.9 7.4 .9 7.4 5.4 7.4 8 7.4 8.1 7.4 5.9 7.4 1.9 7.4-2.9 7.4M352.6 7.6l10.2 7.4 7.8 7.4 4.3 7.4-.2 7.4-3.8 7.4-6.2 7.4-6.8 7.4-5.7 7.4-4.8 7.3-5.5 7.4-4.6 7.4-2.5 7.4 .4 7.4 3.1 7.4 4.9 7.4 5.8 7.4 4.3 7.4M352.9 7.6l2 7.4-1.6 7.4-4.3 7.4-4.7 7.4-3.1 7.4-1.6 7.4-.6 7.4-.1 7.4-.5 7.3-1.3 7.4 .7 7.4 2.6 7.4 3.7 7.4 3.9 7.4 3.2 7.4 1.8 7.4 .1 7.4M352.5 7.6l11.4 7.4 6.5 7.4 2 7.4-2.1 7.4-4.8 7.4-6.1 7.4-5.8 7.4-4.3 7.4-4.1 7.3-5.2 7.4-4.3 7.4-2.4 7.4 0 7.4 2.7 7.4 4.9 7.4 6.6 7.4 5.9 7.4M353.0 7.6l1.6 7.4 2.8 7.4 3 7.4 2.4 7.4 1.2 7.4-.2 7.4-1.5 7.4-2.2 7.4-1.1 7.3-.9 7.4-1.7 7.4-2.3 7.4-2 7.4-1.2 7.4-.3 7.4 1 7.4 1.5 7.4M352.9 7.6l-.5 7.4 1.4 7.4 2.6 7.4 2.8 7.4 2.5 7.4 1.5 7.4 .2 7.4-.9 7.4 .4 7.3 1.3 7.4 .1 7.4-1.3 7.4-2.1 7.4-2.5 7.4-2.5 7.4-2 7.4-.9 7.4M352.7 7.6l-11.8 7.4-11.4 7.4-10 7.4-2 7.4 2.7 7.4 3.5 7.4 4.7 7.4 4.4 7.4 3.1 7.3 2.2 7.4 4.5 7.4 5.4 7.4 5.2 7.4 4.1 7.4 1.8 7.4-1.6 7.4-4.1 7.4M352.6 7.6l9.7 7.4 3.1 7.4-2.5 7.4-6.6 7.4-7.9 7.4-6.2 7.4-4.4 7.4-3.1 7.4-3.3 7.3-4.7 7.4-1.5 7.4 2.1 7.4 5 7.4 6.7 7.4 6.7 7.4 5.2 7.4 2.2 7.4M352.9 7.6l4.9 7.4 6.4 7.4 6.2 7.4 4.4 7.4 2 7.4-.7 7.4-3.2 7.4-4.6 7.4-2 7.3-1.3 7.4-3 7.4-4.3 7.4-4.2 7.4-2.9 7.4-1.1 7.4 1.2 7.4 2.6 7.4M352.6 7.6l-12.4 7.4-10.1 7.4-6.2 7.4 1.6 7.4 6.8 7.4 7.5 7.4 7 7.4 6 7.4 5.8 7.3 6.8 7.4 6.3 7.4 3.4 7.4 .4 7.4-2.8 7.4-5.6 7.4-7.6 7.4-6.2 7.4M352.5 7.6l12.4 7.4 6.5 7.4-.7 7.4-7.3 7.4-10.8 7.4-9.2 7.4-6.4 7.4-3.9 7.4-2.9 7.3-2.9 7.4 2.1 7.4 6.4 7.4 8.4 7.4 7.7 7.4 5.3 7.4 .3 7.4-4.1 7.4M352.9 7.6l-4.8 7.4-7.5 7.4-7.5 7.4-2.5 7.4 2.6 7.4 4.8 7.4 5.3 7.4 5.3 7.4 5 7.3 5.9 7.4 5.7 7.4 3.4 7.4 .5 7.4-2.3 7.4-4.6 7.4-5.5 7.4-3.6 7.4M352.7 7.6l4.4 7.4-2.9 7.4-8.5 7.4-9.4 7.4-5.7 7.4-2.2 7.4 .3 7.4 1.6 7.4 1.7 7.3 1.5 7.4 5.1 7.4 7.3 7.4 7.2 7.4 5.8 7.4 2.4 7.4-2.5 7.4-5.4 7.4M352.8 7.6l1.9 7.4-2.9 7.4-6.2 7.4-6.2 7.4-3.6 7.4-1.6 7.4-.2 7.4 .4 7.4-.2 7.3-1.1 7.4 1.6 7.4 3.8 7.4 4.9 7.4 5 7.4 3.7 7.4 1.8 7.4-.8 7.4M353.0 7.6l-1 7.4-4.2 7.4-5.3 7.4-2.8 7.4 .8 7.4 2.7 7.4 3.5 7.4 3.7 7.4 3.6 7.3 4.1 7.4 3.7 7.4 1.7 7.4-.5 7.4-2.4 7.4-3.4 7.4-3.1 7.4-1.1 7.4M352.8 7.6l9.2 7.4 9.9 7.4 6.6 7.4 .3 7.4-5.5 7.4-9.4 7.4-10.1 7.4-7.5 7.4-6.6 7.3-6.9 7.4-3.4 7.4 1.1 7.4 5.2 7.4 7.3 7.4 6.7 7.4 3.7 7.4-.2 7.4M352.8 7.6l.6 7.4-10.4 7.4-15.2 7.4-9.8 7.4 2.2 7.4 4.5 7.4 9.5 7.4 10.5 7.4 10.4 7.3 12 7.4 10.6 7.4 4.2 7.4-2.8 7.4-6.1 7.4-10 7.4-8.1 7.4-1.8 7.4M352.9 7.6l-.4 7.4-6 7.4-8.6 7.4-5.7 7.4-.5 7.4 2.7 7.4 4.3 7.4 5 7.4 5.1 7.3 5.8 7.4 6.7 7.4 5.1 7.4 2.2 7.4-1.3 7.4-4.3 7.4-5.7 7.4-4.1 7.4M352.9 7.6l5.4 7.4 7.9 7.4 8.4 7.4 6.5 7.4 3.5 7.4-.1 7.4-3.7 7.4-5.8 7.4-2.1 7.3-.9 7.4-3.6 7.4-5.6 7.4-5.9 7.4-4.8 7.4-2.3 7.4 .7 7.4 2.8 7.4M352.8 7.6l-7.1 7.4-8.8 7.4-7.2 7.4-.6 7.4 4.9 7.4 6.8 7.4 6.7 7.4 6.1 7.4 5.9 7.3 6.5 7.4 5.2 7.4 1.6 7.4-1.9 7.4-4.6 7.4-5.9 7.4-5.3 7.4-2.1 7.4M352.9 7.6l3.1 7.4 2.7 7.4 1.8 7.4 .2 7.4-1 7.4-1.9 7.4-2.3 7.4-2.1 7.4-1.6 7.3-1.9 7.4-1.6 7.4-1 7.4 0 7.4 .9 7.4 1.6 7.4 1.9 7.4 1.4 7.4M352.8 7.6l-7.5 7.4-7.8 7.4-6.2 7.4-.5 7.4 4.2 7.4 5.6 7.4 5.5 7.4 5 7.4 4.8 7.3 5.5 7.4 5.1 7.4 2.8 7.4 .2 7.4-2.4 7.4-4.5 7.4-5.5 7.4-3.9 7.4M352.7 7.6l-7.7 7.4-2.3 7.4 3 7.4 7.2 7.4 7.5 7.4 6.1 7.4 2.8 7.4-.6 7.4 .4 7.3 .3 7.4-3 7.4-5.7 7.4-6.2 7.4-4.5 7.4-1.7 7.4 1.7 7.4 3.3 7.4M352.8 7.6l3.6 7.4-2.9 7.4-8.1 7.4-7.9 7.4-3.7 7.4 .2 7.4 2.9 7.4 4.2 7.4 4.8 7.3 5.8 7.4 7.3 7.4 6 7.4 3 7.4-.9 7.4-4.2 7.4-5.8 7.4-3.9 7.4M352.5 7.6l13.4 7.4 10 7.4 5.5 7.4-4.8 7.4-10.7 7.4-13.1 7.4-9.9 7.4-7.3 7.4-5.9 7.3-4.1 7.4-.7 7.4 2.7 7.4 8.8 7.4 9.6 7.4 7.1 7.4 3 7.4-2.7 7.4M352.5 7.6l13.1 7.4 9 7.4 2.3 7.4-4.9 7.4-9.9 7.4-11.1 7.4-8.3 7.4-6 7.4-5 7.3-5.3 7.4-.5 7.4 4.2 7.4 7.7 7.4 8.4 7.4 6.4 7.4 2.8 7.4-2.1 7.4M352.8 7.6l-4.2 7.4-2.2 7.4-.5 7.4 1.5 7.4 2.5 7.4 2.2 7.4 2 7.4 1.5 7.4 1.5 7.3 2.1 7.4 1.8 7.4 .7 7.4-.1 7.4-1.2 7.4-2 7.4-2.8 7.4-2.5 7.4M352.8 7.6l-6.3 7.4-4.2 7.4-2.4 7.4 1 7.4 2.9 7.4 3.1 7.4 2.7 7.4 2.3 7.4 2.1 7.3 2.6 7.4 2.6 7.4 1.8 7.4 .9 7.4-.4 7.4-1.8 7.4-3.1 7.4-3.4 7.4M352.8 7.6l-1.6 7.4 4.7 7.4 8.3 7.4 8.8 7.4 6.7 7.4 2.8 7.4-1.6 7.4-5.1 7.4-2 7.3-1.5 7.4-4.9 7.4-7.3 7.4-7.2 7.4-4.8 7.4-1.5 7.4 2.4 7.4 4.4 7.4M353.0 7.6l2.9 7.4 5.6 7.4 5.4 7.4 2.5 7.4-1.1 7.4-4.4 7.4-6 7.4-5.4 7.4-4.4 7.3-4.8 7.4-3 7.4-.4 7.4 2.5 7.4 4.1 7.4 4 7.4 2.5 7.4 .1 7.4M353.0 7.6l.9 7.4 3.7 7.4 5.1 7.4 5 7.4 3.9 7.4 2 7.4-.5 7.4-2.4 7.4 .5 7.3 2 7.4 0 7.4-2.4 7.4-3.7 7.4-4.3 7.4-4.4 7.4-3.7 7.4-1.7 7.4M352.9 7.6l-5 7.4-6.3 7.4-6.2 7.4-2.5 7.4 1.1 7.4 2.6 7.4 3.1 7.4 3.1 7.4 2.6 7.3 2.5 7.4 3.7 7.4 4 7.4 3.3 7.4 1.7 7.4-.4 7.4-3 7.4-3.9 7.4M352.9 7.6l-3.7 7.4-1.5 7.4 .4 7.4 2.3 7.4 2.8 7.4 2.7 7.4 1.8 7.4 .8 7.4 1.1 7.3 1.6 7.4 .5 7.4-.9 7.4-1.8 7.4-2.2 7.4-2.2 7.4-1.4 7.4-.2 7.4M352.5 7.6l13.4 7.4 6.6 7.4-2.4 7.4-10.2 7.4-13.2 7.4-10.1 7.4-5.9 7.4-2.1 7.4-.1 7.3-.4 7.4 6.5 7.4 10.1 7.4 10.5 7.4 8 7.4 2.3 7.4-4.5 7.4-7.5 7.4M352.8 7.6l5.6 7.4 2.4 7.4-.8 7.4-3.2 7.4-4.3 7.4-3.7 7.4-2.7 7.4-1.9 7.4-1.9 7.3-2.5 7.4-.7 7.4 1.1 7.4 2.7 7.4 3.6 7.4 3.4 7.4 2.4 7.4 .7 7.4M352.7 7.6l-9.6 7.4-8.4 7.4-6.6 7.4-1.4 7.4 2.8 7.4 3.7 7.4 3.7 7.4 3.3 7.4 2.4 7.3 1.9 7.4 3.1 7.4 3.7 7.4 3.4 7.4 2.5 7.4 .8 7.4-1.5 7.4-3.2 7.4M352.8 7.6l-8.1 7.4-10.2 7.4-10.3 7.4-4.9 7.4 1 7.4 3.3 7.4 3.8 7.4 3.9 7.4 2.8 7.3 1.9 7.4 4.6 7.4 5.8 7.4 5.7 7.4 4.7 7.4 2.2 7.4-1.5 7.4-4.1 7.4M352.6 7.6l11.5 7.4 8.8 7.4 5.2 7.4 .8 7.4-2.8 7.4-5.5 7.4-6.6 7.4-6.1 7.4-4.6 7.3-5 7.4-5 7.4-3.9 7.4-1.7 7.4 1 7.4 3.5 7.4 5.7 7.4 5.5 7.4M352.7 7.6l7.4 7.4 5.2 7.4 2.1 7.4-1.4 7.4-4.2 7.4-5.5 7.4-4.9 7.4-3.7 7.4-3.4 7.3-3.9 7.4-2.3 7.4 .1 7.4 2.3 7.4 3.8 7.4 4.1 7.4 3.4 7.4 1.2 7.4M352.7 7.6l-4.8 7.4 2.2 7.4 6.8 7.4 8.3 7.4 7.2 7.4 3.9 7.4-.4 7.4-3.9 7.4-1.9 7.3-2.1 7.4-5.3 7.4-7.1 7.4-6.2 7.4-3.6 7.4-.3 7.4 3.4 7.4 4.5 7.4M352.7 7.6l-4.6 7.4 5.5 7.4 10.7 7.4 11.8 7.4 8.5 7.4 2.1 7.4-4 7.4-8.5 7.4-6.2 7.3-7.3 7.4-10.2 7.4-9.3 7.4-5.5 7.4-.4 7.4 4.6 7.4 7.4 7.4 6.1 7.4M353.0 7.6l-2.1 7.4-3.2 7.4-3.6 7.4-2.1 7.4-.2 7.4 .5 7.4 1 7.4 .9 7.4 .6 7.3 0 7.4 1.1 7.4 1.9 7.4 2.2 7.4 1.9 7.4 1.4 7.4 .4 7.4-.6 7.4M352.8 7.6l6.6 7.4 3.5 7.4-.8 7.4-4.7 7.4-6.5 7.4-5.2 7.4-3.2 7.4-1.3 7.4-.3 7.3 .2 7.4 3.3 7.4 5.1 7.4 5.2 7.4 3.8 7.4 .8 7.4-2.4 7.4-3.7 7.4M352.6 7.6l-10.4 7.4-8.1 7.4-5 7.4 .9 7.4 4.9 7.4 5.4 7.4 5 7.4 4.3 7.4 4 7.3 4.6 7.4 4.8 7.4 3.5 7.4 1.7 7.4-.6 7.4-3 7.4-5.5 7.4-5.7 7.4M352.9 7.6l-3.7 7.4-2.1 7.4 .3 7.4 2.9 7.4 3.6 7.4 3.2 7.4 2 7.4 .2 7.4 .4 7.3 .1 7.4-1.5 7.4-2.7 7.4-2.9 7.4-1.8 7.4-.4 7.4 1 7.4 1.6 7.4M352.9 7.6l3.2 7.4 3.4 7.4 2.7 7.4 .8 7.4-1 7.4-2.5 7.4-3.2 7.4-2.8 7.4-2.3 7.3-2.6 7.4-2.1 7.4-1.1 7.4 .4 7.4 1.6 7.4 2.2 7.4 2.2 7.4 1.3 7.4M352.5 7.6l12.8 7.4 6.6 7.4 .1 7.4-5.9 7.4-9.2 7.4-8.9 7.4-6.6 7.4-4.9 7.4-4.6 7.3-5.7 7.4-1.3 7.4 1.6 7.4 5.7 7.4 7.6 7.4 7.1 7.4 4.9 7.4 1.2 7.4M353.0 7.6l-4.9 7.4-11 7.4-12.2 7.4-5 7.4 3.4 7.4 7.3 7.4 8.8 7.4 8.7 7.4 8.4 7.3 9.7 7.4 8.5 7.4 4 7.4-1.2 7.4-5.6 7.4-8.1 7.4-7.6 7.4-3.2 7.4M352.9 7.6l-7.4 7.4-11.2 7.4-10.2 7.4-2 7.4 6 7.4 8.9 7.4 9.2 7.4 8.4 7.4 8 7.3 8.7 7.4 6.2 7.4 .9 7.4-3.8 7.4-7.2 7.4-8 7.4-5.7 7.4-.6 7.4M352.8 7.6l-3.3 7.4-.3 7.4 2.2 7.4 3.5 7.4 3.5 7.4 2.9 7.4 1.4 7.4-.1 7.4 1 7.3 1.7 7.4 .4 7.4-1.5 7.4-2.6 7.4-3 7.4-3 7.4-2.1 7.4-.5 7.4M352.8 7.6l-2.8 7.4 3.2 7.4 6.5 7.4 7.8 7.4 7 7.4 4.6 7.4 1 7.4-2.2 7.4 .4 7.3 3.2 7.4 1.5 7.4-3.5 7.4-5.7 7.4-6.8 7.4-6.7 7.4-5.2 7.4-2.1 7.4M353.0 7.6l2.4 7.4 7.6 7.4 9.7 7.4 8.7 7.4 5.6 7.4-.3 7.4-3.7 7.4-4.9 7.4-2.6 7.3-1.8 7.4-5.2 7.4-7.5 7.4-7.5 7.4-5 7.4-1.8 7.4 2.2 7.4 4.5 7.4M352.8 7.6l3.6 7.4 1.1 7.4-1.3 7.4-2.8 7.4-3.3 7.4-2.3 7.4-1.5 7.4-.8 7.4-.7 7.3-1 7.4 .5 7.4 1.8 7.4 2.6 7.4 2.6 7.4 1.8 7.4 .7 7.4-.7 7.4M352.9 7.6l-.7 7.4-7.9 7.4-11.4 7.4-8.3 7.4-1.9 7.4 1.9 7.4 4.1 7.4 5 7.4 5 7.3 5.4 7.4 7.8 7.4 8.4 7.4 6.3 7.4 2.7 7.4-2 7.4-6.5 7.4-7.3 7.4M353.0 7.6l3.8 7.4 9.4 7.4 10.2 7.4 6.6 7.4 .7 7.4-5.2 7.4-9.3 7.4-9.8 7.4-7.9 7.3-8.7 7.4-7.6 7.4-4.1 7.4 .7 7.4 4.9 7.4 7 7.4 6.5 7.4 2.9 7.4M352.9 7.6l-5.9 7.4-8.9 7.4-7.9 7.4-.8 7.4 5.6 7.4 7.8 7.4 7.7 7.4 6.9 7.4 6.1 7.3 6.4 7.4 3.5 7.4-1.3 7.4-4.9 7.4-6.8 7.4-6.1 7.4-2.4 7.4 1.3 7.4M352.8 7.6l-.9 7.4 6.9 7.4 10.7 7.4 10.2 7.4 6.3 7.4 .3 7.4-5.4 7.4-8.6 7.4-6.1 7.3-6.9 7.4-9.3 7.4-8.4 7.4-5 7.4-.4 7.4 3.9 7.4 7.2 7.4 6.1 7.4M353.0 7.6l3 7.4 5.1 7.4 5.1 7.4 2.9 7.4 .1 7.4-2.7 7.4-4.6 7.4-4.9 7.4-3.9 7.3-4.2 7.4-4 7.4-2.5 7.4-.3 7.4 1.8 7.4 3.3 7.4 3.7 7.4 2.2 7.4M352.8 7.6l-4 7.4-1.7 7.4 .8 7.4 3.2 7.4 3.7 7.4 3.3 7.4 1.9 7.4 .2 7.4 .5 7.3 .4 7.4-1.2 7.4-2.6 7.4-3 7.4-2.4 7.4-1 7.4 .7 7.4 1.5 7.4M352.8 7.6l7.5 7.4 9.1 7.4 8.9 7.4 6.6 7.4 3.2 7.4-1.4 7.4-3.7 7.4-4.9 7.4 .2 7.3 1.3 7.4-1.8 7.4-4.6 7.4-5.8 7.4-5.9 7.4-5.1 7.4-3.1 7.4-.2 7.4M352.8 7.6l7.5 7.4 9.5 7.4 8.7 7.4 5.1 7.4 .8 7.4-3.6 7.4-6.8 7.4-7.9 7.4-5.2 7.3-5.7 7.4-6.8 7.4-5.9 7.4-3.6 7.4-.2 7.4 3 7.4 6 7.4 5.7 7.4M352.8 7.6l-3.6 7.4-.7 7.4 2.1 7.4 3.8 7.4 3.8 7.4 2.8 7.4 1.1 7.4-.8 7.4-.2 7.3-.3 7.4-2 7.4-3.1 7.4-3.1 7.4-2 7.4-.5 7.4 1.2 7.4 1.9 7.4M352.6 7.6l-6.9 7.4 2.3 7.4 8.6 7.4 10.7 7.4 9.9 7.4 6 7.4-.2 7.4-4.9 7.4 0 7.3-1 7.4-5.5 7.4-8.8 7.4-9.1 7.4-6.1 7.4-2.1 7.4 2.7 7.4 5.3 7.4M352.9 7.6l-.7 7.4-6.3 7.4-9.2 7.4-6.9 7.4-2.1 7.4 .8 7.4 2.5 7.4 3.2 7.4 2.9 7.3 2.8 7.4 5.5 7.4 6.4 7.4 6 7.4 4 7.4 .6 7.4-3.5 7.4-5.5 7.4M352.6 7.6l10.8 7.4 8.2 7.4 5.1 7.4 1.4 7.4-1.8 7.4-4.1 7.4-5.6 7.4-5.5 7.4-3.6 7.3-3.6 7.4-4.3 7.4-3.7 7.4-2.4 7.4-.5 7.4 1.8 7.4 4 7.4 4.6 7.4M352.8 7.6l1.5 7.4-4.3 7.4-8.1 7.4-7.6 7.4-4.2 7.4-1.8 7.4-.2 7.4 .5 7.4-.1 7.3-2.5 7.4 1.4 7.4 4.3 7.4 6.1 7.4 6.5 7.4 5.4 7.4 3.1 7.4 .3 7.4M352.6 7.6l10 7.4 3.5 7.4-2.6 7.4-7 7.4-8.5 7.4-6.6 7.4-4.5 7.4-2.9 7.4-2.7 7.3-3.7 7.4 0 7.4 3.7 7.4 6.2 7.4 7 7.4 5.8 7.4 3.1 7.4-.3 7.4M352.5 7.6l-13.4 7.4-7.8 7.4-1.2 7.4 7 7.4 10.2 7.4 9.5 7.4 8 7.4 4.2 7.4 4.8 7.3 6 7.4 2.3 7.4-2.7 7.4-6.1 7.4-7.8 7.4-7.5 7.4-4.8 7.4-.1 7.4" stroke="#000" stroke-opacity="0.75" stroke-width="0.42" fill="none"/>
<path d="M352.5 7.6 351.0 8.7 348.9 10.3 347.0 12.0 345.5 13.9 344.1 16.0 343.0 17.8 342.2 18.9 341.7 19.7 341.0 21.0 340.1 23.3 339.0 26.2 337.8 29.0 336.3 31.7 334.6 34.3 333.0 37.0 331.4 39.6 329.8 42.2 328.5 45.0 327.5 48.1 326.9 51.4 327.0 55.0 328.5 58.7 330.7 62.7 332.7 67.3 334.1 73.1 335.2 79.5 336.0 85.5 336.4 90.6 336.5 95.3 337.0 100.0 338.2 105.1 339.8 110.4 341.5 115.0 343.2 118.8 345.1 122.0 347.0 125.0 349.3 128.2 351.8 131.2 353.5 133.3 353.5 133.3 354.9 131.2 357.0 128.2 359.0 125.0 360.7 122.0 362.4 118.8 364.0 115.0 365.5 110.4 366.9 105.1 368.0 100.0 368.6 95.3 368.8 90.6 369.0 85.5 369.0 79.5 368.9 73.1 369.1 67.3 369.9 62.7 371.0 58.7 372.0 55.0 373.1 51.4 374.1 48.1 374.6 45.0 374.2 42.2 373.3 39.6 372.0 37.0 370.3 34.3 368.3 31.7 366.6 29.0 365.3 26.2 364.3 23.3 363.4 21.0 362.9 19.7 362.6 18.9 362.0 17.8 360.9 16.0 359.5 13.9 358.0 12.0 356.1 10.3 354.0 8.7 352.5 7.6Z" fill="#000" fill-opacity="1.0" filter="url(#bl)"/>
<path d="M371.9 50.1l-.3 1.4M350.4 114.0l-.1 1M351.7 24.2l-.3 .8M342.3 33.3l.4 1M355.7 41.7l.2 1.2M347.0 118.9l-.1 .9M348.8 13.6l-.1 1M350.9 84.2l.1 .8M347.8 27.4l-.5 .9M358.6 65.8l.3 .6M355.5 124.1l.4 .6M349.7 55.7l.3 .9M342.4 64.6l-.1 1.1M358.5 78.1l-.4 1.2M354.6 22.2l0 .7M333.8 41.8l-.2 1M336.2 69.1l.2 .9M368.9 44.8l.2 1.2M342.0 74.1l-.3 .7M335.7 51.7l0 1.6M346.9 98.6l-.3 1.3M354.1 126.3l-.3 1M350.4 30.2l.4 .7M355.4 63.6l.6 1.1M356.2 63.7l-.2 .7M351.9 109.6l.4 .7M352.7 13.1l.4 1.5M339.8 86.7l.1 1M362.8 33.4l.4 1.4M358.6 83.4l.2 .8M364.1 77.5l-.1 .8M347.3 14.2l0 .6M359.4 91.5l.7 1.2M361.0 61.8l.2 .6M348.5 14.7l.5 .8M349.3 107.9l.2 1M353.0 108.2l.7 1.2M351.8 127.0l-.3 1.2M350.3 94.5l-.3 .8M352.4 129.2l-.2 1.1M343.7 25.3l.4 1M367.8 37.3l-.4 1.2M340.2 93.5l-.7 1.2M344.3 27.6l.5 1M360.1 116.9l.2 .7M343.1 72.8l-.4 1M364.1 106.2l0 1.1M354.4 115.1l.4 1M354.9 125.8l0 .8M345.6 119.2l-.3 .5M357.9 110.3l-.3 .6M358.1 31.2l-.2 1.4M354.6 124.7l0 1.5M361.3 43.8l-.5 .7M360.2 87.4l-.1 1.1M359.4 99.6l.4 1.4M347.9 21.0l.4 1.4M351.5 111.3l.4 1.1M360.2 24.1l-.1 .6M342.5 35.9l-.8 1.3M352.5 62.0l.2 1.5M346.4 75.8l-.1 .9M363.3 100.6l-.2 .6M355.9 113.6l.5 .8M366.3 35.0l-.7 1.2M361.6 105.2l0 .8M352.1 15.1l.5 .8M339.7 74.5l.3 1.4M352.5 47.7l-.2 .9M351.0 17.6l.5 1.2M349.1 94.2l0 1.2M359.8 24.7l-.3 .9M351.5 19.6l.3 1M355.3 74.0l.7 1.3M345.2 68.7l.4 1M344.3 108.5l-.4 1.2M346.8 81.8l-.2 .9M340.8 103.6l-.4 1.2M355.7 33.1l-.1 1.4M346.9 103.7l-.2 .6M348.1 63.0l.4 1.3M358.2 100.9l.1 1M361.5 37.1l.3 .7M353.8 41.8l-.3 1M349.7 117.9l.2 1.2M342.2 54.1l-.1 .6M359.2 24.8l-.4 .8M361.8 66.8l.3 1M345.7 98.0l.2 .6M341.8 41.9l-.1 .7M349.6 116.5l.1 .7M348.2 69.7l-.6 1M362.2 92.1l.3 1.3M358.8 84.1l-.1 1.1M355.6 54.1l-.1 1.1M355.6 114.1l0 1.1M359.9 95.2l.4 .8M354.1 66.8l.4 1M359.9 33.1l-.5 1M355.4 128.2l.4 .7M347.9 13.4l.5 1.5M352.7 126.6l.4 1.4M353.3 18.1l.3 .9M334.4 69.0l-.3 .7M365.9 69.0l.2 1.1M333.2 48.5l0 1.1M331.2 49.6l.6 1.1M354.5 78.4l.1 1.2M345.3 89.0l-.5 1.1M350.8 106.5l0 .7M344.7 71.7l.2 .6M362.7 36.6l-.5 .8M351.9 74.6l.1 1.6M354.7 13.3l-.2 .9M347.6 18.9l.7 1.3M353.0 123.7l-.3 .6M350.4 46.8l0 1.5M361.0 69.3l-.4 1.5M350.7 121.6l.6 1.1M343.0 56.5l0 .7M346.5 103.6l.2 .7M338.3 67.7l0 1.3M339.9 74.6l.8 1.3M352.6 123.4l0 .8M357.4 34.2l.3 1M358.0 90.5l0 1M348.3 121.6l-.3 1.5M354.5 84.3l0 .9M354.3 90.7l-.2 1.1M356.2 76.0l-.3 .6M350.9 19.0l.1 1.4M363.1 65.3l0 .7M352.7 15.8l-.1 .7M363.0 50.5l.4 .5M345.0 17.9l-.2 1M364.4 45.2l-.3 .9M346.4 54.9l-.4 1.2M356.6 76.2l-.1 .9M360.3 68.1l.7 1.2M348.4 38.8l.4 1.4M339.1 42.6l-.5 1.2M358.1 34.1l.1 1.4M353.6 59.5l.4 .7M352.2 58.6l.4 .9M356.5 53.6l-.1 1M341.2 75.0l-.6 .9M348.6 79.4l-.2 1.1M338.5 32.8l-.1 .8M345.4 45.9l-.3 1M341.1 86.7l.6 1.1M355.1 128.3l.1 1.3M339.9 81.4l.5 .8M331.1 48.9l0 .9M354.3 106.9l.2 .9M348.9 67.4l-.4 1M358.0 75.1l-.2 .9M364.0 76.0l-.4 1.3M343.1 106.9l-.1 .7M363.7 71.4l.3 .6M358.1 18.5l-.8 1.2M356.4 58.3l.4 .7M354.9 95.3l.5 1.1M365.8 97.2l-.1 1M358.9 21.0l0 1.6M367.0 53.5l-.1 1.4M338.2 33.8l-.4 1.4M345.1 112.4l-.3 1.2M365.7 40.1l.4 .7M350.0 24.0l-.1 1M368.0 79.7l-.5 1.5M352.8 99.1l-.2 .7M340.6 25.5l-.1 1M366.0 49.3l.2 .6M341.2 79.7l-.9 1.3M343.2 52.3l-.5 1.4M353.9 20.9l.6 1.3M354.9 60.2l-.8 1.2M353.3 12.1l0 .7M349.6 12.8l-.1 1.3M363.3 71.9l.3 1.3M359.6 39.3l.2 1.3M353.6 93.0l-.2 .8M337.2 65.6l0 .7M365.3 28.8l-.3 1.5M354.4 110.7l.7 1.1M349.1 21.1l.2 1M346.7 49.7l-.2 1.3M358.6 106.8l.3 1.3M364.2 54.1l-.2 1.4M353.8 96.9l-.5 1.2M345.9 30.0l.4 1.1M370.2 42.4l-.7 1.2M347.1 117.0l.4 .6M353.1 39.6l.5 .8M353.5 12.8l-.3 1.5M358.9 36.6l-.7 1M367.2 37.5l-.3 1M342.2 104.8l-.3 1.4M361.2 103.4l.4 1.2M369.3 59.5l-.2 1.4M349.6 85.2l-.3 .6M363.0 41.1l.2 .7M341.7 68.9l-.5 1.2M356.5 64.7l-.1 1.5M352.5 11.8l-.3 .6M338.7 91.7l.3 .7M354.7 30.3l-.4 1.2M364.6 66.6l.3 1.1M364.8 78.7l-.1 1.3M355.9 99.9l.1 1.2M336.3 43.6l-.1 1.1M354.6 49.4l.3 1.4M364.9 90.7l.2 .9M338.8 78.2l.3 1.6M337.8 97.0l0 .7M340.5 96.9l.2 .6M356.4 96.3l.4 1.3M364.6 74.8l.2 1M345.1 60.0l-.2 1.4M348.8 17.8l.4 .9M343.9 98.7l.3 .6M340.4 85.7l.1 1.2M346.2 29.7l-.5 .8M342.4 29.7l-.2 .7M356.6 121.3l-.4 .6M353.8 121.2l0 .7M350.9 18.9l-.1 1M349.2 15.9l.3 1.1M363.0 53.3l-.6 1.1M361.9 40.5l-.1 .7M337.7 68.2l.4 1.4M360.8 73.0l0 1.5M339.9 37.5l-.5 .8M346.3 65.5l-.5 1M350.9 17.9l.4 1.1M350.5 81.1l0 .7M350.1 18.6l.4 1.1M364.0 87.5l.5 1.2M335.1 68.8l-.1 .9M360.3 77.1l.6 1.3" stroke="#fff" stroke-opacity="0.45" stroke-width="0.5" fill="none"/>
<path d="M352.5 7.6 350.9 9.4 348.6 12.0 346.2 14.9 344.2 17.8 342.8 20.6 341.7 23.5 340.8 26.4 340.2 29.0 339.9 31.1 339.9 32.9 340 34.7 340.2 37.0 340.4 39.9 340.6 43.1 341 46.6 341.8 50.0 343.1 53.6 344.7 57.3 346.5 60.9 348.2 64.0 349.8 66.3 351.4 68.0 353 69.7 354.5 72.0 356.1 75.0 357.7 78.4 359.2 82.1 360.4 85.8 361.2 89.6 361.8 93.6 362.2 97.6 362.4 101.6 362.5 105.6 362.5 109.5 362.2 113.5 361.4 117.5 359.7 121.8 357.4 126.4 355.1 130.5 353.5 133.3" stroke="#f00" stroke-width="1.05" fill="none"/>
<path d="M352.5 7.6 354 9.4 356.1 12.0 358.4 14.9 360.2 17.8 361.6 20.6 362.7 23.4 363.6 26.3 364.2 29.0 364.4 31.5 364.2 33.8 363.9 36.1 363.4 38.6 362.8 41.3 362 44.0 361.1 46.9 360.2 50.0 359.3 53.5 358.2 57.3 357.2 61.0 356 64.0 354.8 65.8 353.6 66.9 352.2 68.0 350.5 70.0 348.1 73.3 345.3 77.3 342.6 81.6 340.6 85.8 339.4 89.7 338.7 93.7 338.5 97.6 338.7 101.6 339.3 105.6 340.4 109.5 341.9 113.5 343.6 117.5 346 121.8 348.9 126.4 351.6 130.5 353.5 133.3" stroke="#f00" stroke-width="1.05" fill="none"/>
<path d="M352.5 7.6 348.8 9.1 343.4 11.3 337.7 13.8 333 16.2 329.5 18.5 326.5 20.9 324 23.4 321.8 25.8 319.9 28.3 318.3 30.8 317 33.2 316.2 35.4 315.9 37.3 316 38.9 316.4 40.4 317 41.8 317.7 43.1 318.7 44.3 319.8 45.4 321 46.6 322.4 47.9 323.9 49.2 325.5 50.6 327 52.0 328.5 53.5 330.1 55.0 331.6 56.6 333 58.0 334.4 59.4 335.9 60.9 337.1 62.1 338 63.0" stroke="#f00" stroke-width="1.05" fill="none"/>
<path d="M352.5 7.6 356.1 9.1 361.3 11.3 366.8 13.8 371.4 16.2 374.9 18.5 377.9 20.8 380.4 23.3 382.6 25.8 384.4 28.6 385.8 31.5 386.8 34.4 387.4 37.0 387.5 39.3 387.1 41.4 386.5 43.3 385.8 45.0 385.1 46.5 384.2 47.7 383.2 48.8 382 50.0 380.7 51.2 379.2 52.4 377.6 53.7 376 55.0 374.2 56.6 372.1 58.3 370.3 59.9 369 61.0" stroke="#f00" stroke-width="1.05" fill="none"/>
<path d="M333 90.0 333.1 90.8 333.2 92.0 333.3 93.6 333.7 95.7 334.1 98.6 334.6 102.1 335.4 105.9 336.7 109.5 338.8 113.1 341.4 116.7 344.2 120.2 346.6 123.4 348.7 126.4 350.7 129.2 352.3 131.6 353.5 133.3" stroke="#f00" stroke-width="1.05" fill="none"/>
<path d="M333.5 38.0 333.1 39.2 332.5 40.9 331.9 42.9 331.5 45.0 331.2 47.1 331 49.4 330.9 51.9 330.9 54.6 330.9 57.6 331 61.0 331.3 64.3 331.8 67.3 332.7 69.8 333.9 72.1 335.2 74.2 336.3 76.4 337.2 78.8 337.9 81.3 338.6 83.5 339 85.0" stroke="#00c400" stroke-opacity="1" stroke-width="1.0" fill="none"/>
<path d="M352.5 7.6 352.5 7.5 352.6 7.3 352.9 7.4 353.8 8.2 355.7 9.9 358.3 12.3 361 15.1 363.4 17.8 365.3 20.5 367 23.2 368.5 26.1 369.8 29.0 370.9 32.2 371.8 35.6 372.4 38.9 373 41.8 373.4 43.8 373.7 45.3 373.8 47.1 373.8 50.0 373.5 54.6 372.9 60.4 372.4 66.5 372.3 72.0 372.9 76.7 373.8 81.0 374.8 85.3 375.2 89.8 375 94.7 374.4 99.9 373.5 104.9 372.3 109.5 370.7 113.5 368.9 117.1 366.7 120.3 364.4 123.4 361.6 126.4 358.5 129.2 355.5 131.6 353.5 133.3" stroke="#00c400" stroke-opacity="1" stroke-width="1.0" fill="none"/>
</g>
<rect x="309.5" y="7.5" width="87.0" height="127.0" fill="none" stroke="#747474" stroke-width="0.75"/>
<path d="M309.4,134.4v-2.0M309.4,7.3v2.0M316.6,134.4v-1.2M316.6,7.3v1.2M323.9,134.4v-2.0M323.9,7.3v2.0M331.1,134.4v-1.2M331.1,7.3v1.2M338.4,134.4v-2.0M338.4,7.3v2.0M345.6,134.4v-1.2M345.6,7.3v1.2M352.9,134.4v-2.0M352.9,7.3v2.0M360.1,134.4v-1.2M360.1,7.3v1.2M367.4,134.4v-2.0M367.4,7.3v2.0M374.6,134.4v-1.2M374.6,7.3v1.2M381.9,134.4v-2.0M381.9,7.3v2.0M389.1,134.4v-1.2M389.1,7.3v1.2M396.4,134.4v-2.0M396.4,7.3v2.0M309.4,134.4h2.0M396.4,134.4h-2.0M309.4,121.7h1.2M396.4,121.7h-1.2M309.4,109.0h2.0M396.4,109.0h-2.0M309.4,96.3h1.2M396.4,96.3h-1.2M309.4,83.6h2.0M396.4,83.6h-2.0M309.4,70.9h1.2M396.4,70.9h-1.2M309.4,58.1h2.0M396.4,58.1h-2.0M309.4,45.4h1.2M396.4,45.4h-1.2M309.4,32.7h2.0M396.4,32.7h-2.0M309.4,20.0h1.2M396.4,20.0h-1.2M309.4,7.3h2.0M396.4,7.3h-2.0" stroke="#747474" stroke-width="0.6" fill="none"/>
<g class="tl"><text x="309.4" y="141.6" text-anchor="middle">-1.5</text><text x="323.9" y="141.6" text-anchor="middle">-1.0</text><text x="338.4" y="141.6" text-anchor="middle">-0.5</text><text x="352.9" y="141.6" text-anchor="middle">0.0</text><text x="367.4" y="141.6" text-anchor="middle">0.5</text><text x="381.9" y="141.6" text-anchor="middle">1.0</text><text x="396.4" y="141.6" text-anchor="middle">1.5</text><text x="308.1" y="136.4" text-anchor="end">0.0</text><text x="308.1" y="111.0" text-anchor="end">0.2</text><text x="308.1" y="85.6" text-anchor="end">0.4</text><text x="308.1" y="60.1" text-anchor="end">0.6</text><text x="308.1" y="34.7" text-anchor="end">0.8</text><text x="308.1" y="9.3" text-anchor="end">1.0</text></g>
<text class="al" x="348.7" y="146.7">A<tspan font-size="4" dy="1.5">y</tspan></text>
<text class="al" transform="translate(301.1,69.7) rotate(-90)" text-anchor="middle">z/L</text>
<rect x="368.7" y="124" width="27.3" height="7.4" fill="#fff" stroke="#aaa" stroke-width="0.45"/>
<path d="M369.9,126.1h3.7" stroke="#00d000" stroke-width="1"/>
<path d="M369.9,129.0h3.7" stroke="#f22" stroke-width="1"/>
<text class="lg" x="373.8" y="127.3" font-size="3.5" textLength="16.1" lengthAdjust="spacingAndGlyphs">First -order</text>
<text class="lg" x="373.8" y="130.2" font-size="3.5" textLength="21.7" lengthAdjust="spacingAndGlyphs">Second -order</text>
<text class="cap" x="322.9" y="164.3">(<tspan font-weight="bold">c</tspan>) f = 0.20f<tspan font-size="6.5" dy="0.8">1</tspan></text><g clip-path="url(#cd)">
<path d="M499.6 9.9 497.2 11.5 493.7 13.9 489.7 16.6 485.0 19.6 479.8 22.9 475.3 26.2 471.8 29.4 468.9 32.7 466.7 35.7 465.3 38.4 464.7 40.9 464.2 43.4 463.9 45.9 463.8 48.4 463.8 51.1 463.7 54.0 463.7 57.1 463.8 60.0 464.0 62.7 464.3 65.2 464.8 68.0 465.6 71.1 466.5 74.4 467.7 77.7 469.2 80.9 470.8 84.2 472.6 87.4 474.5 90.6 476.4 93.9 478.4 97.1 480.4 100.4 482.3 103.6 484.3 106.9 486.2 110.1 488.1 113.4 490.1 116.6 492.4 120.0 494.9 123.4 496.9 126.3 498.3 128.5 499.2 130.1 499.8 131.2 499.8 131.2 500.3 130.1 500.9 128.5 501.8 126.3 502.9 123.4 504.2 120.0 505.6 116.6 507.2 113.4 508.8 110.1 510.5 106.9 512.1 103.6 513.7 100.4 515.4 97.1 517.3 93.9 519.3 90.6 521.2 87.4 522.9 84.2 524.6 80.9 526.0 77.7 527.2 74.2 528.1 70.7 529.0 68.0 529.7 66.6 530.4 66.0 531.0 65.0 531.7 63.2 532.4 61.0 533.0 58.7 533.7 56.3 534.3 53.7 534.7 51.1 534.8 48.5 534.7 46.0 534.2 43.4 533.4 40.9 532.4 38.4 530.8 35.7 528.8 32.7 526.3 29.4 523.2 26.2 519.0 22.9 514.2 19.6 509.8 16.6 505.8 13.9 502.1 11.5 499.6 9.9Z" fill="#d4d4d4"/>
<path d="M499.6 9.9l-10.4 7.1-9 7.2-3.5 7.1 1.8 7.1 6.1 7.2 8 7.1 8.3 7.1 6.9 7.2 5.3 7.1 3.3 7.2 .7 7.1-1.7 7.1-2.8 7.2-3.6 7.1-3.8 7.1-3 7.2-2.4 7.1M499.7 9.9l-7.1 7.1-12.2 7.2-9.7 7.1-4.9 7.1 .7 7.2 7.5 7.1 10.6 7.1 12.4 7.2 10.2 7.1 7.1 7.2 3.1 7.1-1.1 7.1-3.7 7.2-3.8 7.1-4.5 7.1-3 7.2-1.5 7.1M499.7 9.9l5.1 7.1-1.4 7.2-7.8 7.1-10.8 7.1-9.1 7.2-5 7.1-.5 7.1 4.5 7.2 8.4 7.1 10.2 7.2 8.7 7.1 4.6 7.1 1.6 7.2-1 7.1-2.7 7.1-2.6 7.2-2.1 7.1M499.7 9.9l5.1 7.1 8.5 7.2 8.1 7.1 5.9 7.1 2 7.2-2.3 7.1-5.7 7.1-7.4 7.2-7.2 7.1-6.6 7.2-6.4 7.1-4 7.1-1.4 7.2 .8 7.1 2.7 7.1 4.2 7.2 3.8 7.1M499.6 9.9l10.6 7.1 5.4 7.2-3.3 7.1-9.8 7.1-13.4 7.2-12.4 7.1-9.3 7.1-2.7 7.2 1.9 7.1 5.8 7.2 10.1 7.1 10.5 7.1 7.8 7.2 3.1 7.1 .2 7.1-1.5 7.2-2.8 7.1M499.6 9.9l-8.7 7.1-5.4 7.2 .9 7.1 5.7 7.1 8.4 7.2 8.4 7.1 7.1 7.1 4.5 7.2 2.6 7.1 .2 7.2-2.7 7.1-4.3 7.1-4.4 7.2-4.5 7.1-3.9 7.1-2.4 7.2-1.3 7.1M499.8 9.9l4.5 7.1 9.5 7.2 9.7 7.1 6.5 7.1 1.1 7.2-4.8 7.1-8.8 7.1-10.3 7.2-9.8 7.1-9.3 7.2-5.7 7.1-1.5 7.1 2 7.2 4.3 7.1 5.1 7.1 4.9 7.2 2.6 7.1M499.7 9.9l4.3 7.1-4.7 7.2-12.3 7.1-13.8 7.1-9.1 7.2-.3 7.1 2.1 7.1 10.1 7.2 13.7 7.1 13 7.2 7.9 7.1 3.1 7.1-1.1 7.2-3.6 7.1-4.1 7.1-3.4 7.2-1.7 7.1M499.6 9.9l7.4 7.1-.3 7.2-8.4 7.1-13.1 7.1-12.1 7.2-7.7 7.1-1.6 7.1 3 7.2 9.2 7.1 12 7.2 11.6 7.1 6.4 7.1 2.9 7.2-.5 7.1-2.9 7.1-2.9 7.2-2.8 7.1M499.7 9.9l-9 7.1-9.6 7.2-3.6 7.1 3.7 7.1 9.7 7.2 11.9 7.1 10.5 7.1 6.6 7.2 2.7 7.1-1.5 7.2-5 7.1-6.8 7.1-5.9 7.2-4.4 7.1-2.8 7.1 .7 7.2 2.9 7.1M499.8 9.9l5.4 7.1 9.8 7.2 9.6 7.1 6.7 7.1 1.7 7.2-3.8 7.1-7.8 7.1-9.6 7.2-9.1 7.1-8.9 7.2-6.9 7.1-3.3 7.1 .1 7.2 2.6 7.1 4.4 7.1 5.3 7.2 3.8 7.1M499.7 9.9l-4.6 7.1-1.2 7.2 3.1 7.1 5.6 7.1 6.4 7.2 5.8 7.1 4.1 7.1 1.9 7.2 .6 7.1-.9 7.2-2.8 7.1-4.1 7.1-3.9 7.2-3.6 7.1-3.2 7.1-2 7.2-1.1 7.1M499.7 9.9l6.2 7.1 10.3 7.2 8.1 7.1 2.9 7.1-4.1 7.2-9.7 7.1-11.9 7.1-12.2 7.2-9.5 7.1-4.6 7.2 .8 7.1 5.1 7.1 6.9 7.2 6.8 7.1 4.8 7.1 1.2 7.2-1 7.1M499.6 9.9l8 7.1 3.3 7.2-2.8 7.1-6.7 7.1-9.1 7.2-8.8 7.1-7.7 7.1-5.4 7.2-2.2 7.1 1.3 7.2 3.9 7.1 6 7.1 6.4 7.2 5.9 7.1 4.7 7.1 2.9 7.2 .5 7.1M499.8 9.9l-.3 7.1 3.8 7.2 6.3 7.1 7.4 7.1 6.7 7.2 4.6 7.1 2.1 7.1-.7 7.2-2.6 7.1-2.9 7.2-3.6 7.1-5.1 7.1-4.8 7.2-4.2 7.1-3.5 7.1-2.1 7.2-1.1 7.1M499.6 9.9l-7.1 7.1-3.6 7.2 1.8 7.1 5.9 7.1 7.6 7.2 7.4 7.1 5.8 7.1 3.3 7.2 1.5 7.1-.5 7.2-2.9 7.1-4.4 7.1-4.4 7.2-4.1 7.1-3.3 7.1-2 7.2-.8 7.1M499.6 9.9l-7.3 7.1-2.6 7.2 4.2 7.1 8.6 7.1 9.9 7.2 8.5 7.1 5.1 7.1 1 7.2-1.6 7.1-4.3 7.2-6.2 7.1-6.6 7.1-5.3 7.2-3.7 7.1-2.5 7.1 .4 7.2 2.6 7.1M499.6 9.9l10.2 7.1 10.6 7.2 6 7.1-.8 7.1-7.2 7.2-11.4 7.1-12.4 7.1-11.7 7.2-8.3 7.1-3.5 7.2 2.1 7.1 5.1 7.1 7.2 7.2 7 7.1 5.4 7.1 2.4 7.2-.5 7.1M499.6 9.9l-6.7 7.1-2.9 7.2 2.7 7.1 6.3 7.1 7.7 7.2 7.4 7.1 5.6 7.1 3.2 7.2 1.5 7.1-.5 7.2-3.3 7.1-4.3 7.1-4.3 7.2-4.4 7.1-3.8 7.1-2.5 7.2-1.5 7.1M499.6 9.9l-9.6 7.1-9.6 7.2-5.8 7.1-2.2 7.1 1.6 7.2 3.5 7.1 4.3 7.1 5.2 7.2 5.5 7.1 5.2 7.2 3.9 7.1 2.1 7.1 1 7.2-.2 7.1-1.1 7.1-1.5 7.2-2.1 7.1M499.6 9.9l-10.4 7.1-10.9 7.2-5.9 7.1 .4 7.1 6.3 7.2 9.4 7.1 10.6 7.1 8.9 7.2 6.7 7.1 3.9 7.2 .5 7.1-2.8 7.1-3.8 7.2-4.4 7.1-4.2 7.1-2.7 7.2-1.4 7.1M499.6 9.9l-8.3 7.1-3.9 7.2 3.3 7.1 8.5 7.1 10.4 7.2 9.3 7.1 6.1 7.1 1.9 7.2-1.1 7.1-4 7.2-6.2 7.1-6.8 7.1-5.5 7.2-3.9 7.1-2.7 7.1 .5 7.2 2.6 7.1M499.7 9.9l5.9 7.1 8.1 7.2 7.6 7.1 6.4 7.1 4.1 7.2 1.1 7.1-1.5 7.1-3.5 7.2-3.8 7.1-4.4 7.2-5 7.1-5.1 7.1-3.9 7.2-3.1 7.1-2 7.1-.9 7.2 .1 7.1M499.6 9.9l-10.4 7.1-10.9 7.2-7.6 7.1-4.9 7.1 .1 7.2 3.5 7.1 5 7.1 6.4 7.2 7.2 7.1 7.1 7.2 5.7 7.1 3.2 7.1 1.5 7.2 .1 7.1-1.4 7.1-1.8 7.2-2.6 7.1M499.6 9.9l-10.6 7.1-9.9 7.2-2.6 7.1 5 7.1 10.9 7.2 12.5 7.1 10.9 7.1 6.8 7.2 3 7.1-1.4 7.2-4.8 7.1-7 7.1-6.4 7.2-4.9 7.1-3.3 7.1-.4 7.2 2.4 7.1M499.6 9.9l-10.6 7.1-8.5 7.2-.5 7.1 6.9 7.1 11.9 7.2 12.3 7.1 9.7 7.1 5.1 7.2 1.1 7.1-3 7.2-6.3 7.1-7.6 7.1-6.4 7.2-4.6 7.1-3.1 7.1 .7 7.2 3.1 7.1M499.7 9.9l-1.5 7.1 4.6 7.2 8.9 7.1 10 7.1 8 7.2 3.8 7.1-1 7.1-4.9 7.2-6.5 7.1-7.6 7.2-7.7 7.1-6.1 7.1-5.3 7.2-2.4 7.1 .3 7.1 3.3 7.2 4.2 7.1M499.8 9.9l4.7 7.1 9.7 7.2 9.7 7.1 7 7.1 1.7 7.2-4.1 7.1-8.1 7.1-9.9 7.2-9.4 7.1-9.3 7.2-6.6 7.1-2.8 7.1 .7 7.2 3.3 7.1 4.7 7.1 5.3 7.2 3.4 7.1M499.6 9.9l-7.6 7.1-2.8 7.2 4.1 7.1 8.7 7.1 9.9 7.2 8.8 7.1 5.8 7.1 1.9 7.2-1.3 7.1-2.9 7.2-5.4 7.1-6.6 7.1-5.7 7.2-4.4 7.1-2.6 7.1-1.1 7.2 1.4 7.1M499.7 9.9l7 7.1 9.2 7.2 8.3 7.1 6.8 7.1 3.3 7.2 0 7.1-1.7 7.1-3.8 7.2-4.6 7.1-5.1 7.2-5.5 7.1-5.3 7.1-4 7.2-2.9 7.1-1.7 7.1-.7 7.2 .8 7.1M499.6 9.9l-10.6 7.1-10.7 7.2-6.6 7.1-.8 7.1 4.5 7.2 7.2 7.1 8.5 7.1 8.9 7.2 6.8 7.1 5 7.2 2.5 7.1-.3 7.1-1.8 7.2-3.2 7.1-3.5 7.1-3 7.2-2.7 7.1M499.7 9.9l-8.5 7.1-10.3 7.2-7 7.1-2.2 7.1 3.3 7.2 6.5 7.1 8.2 7.1 9.1 7.2 7.1 7.1 5.1 7.2 2.5 7.1-.4 7.1-2 7.2-3.1 7.1-3.5 7.1-2.7 7.2-2 7.1M499.8 9.9l-5 7.1-10.7 7.2-10.5 7.1-6 7.1 1.2 7.2 6.8 7.1 10.3 7.1 12.2 7.2 9.7 7.1 6.7 7.2 2.4 7.1-1.6 7.1-3.6 7.2-4.6 7.1-4.2 7.1-2.4 7.2-.7 7.1M499.7 9.9l8.2 7.1 11.1 7.2 8 7.1 2.7 7.1-3.8 7.2-9.2 7.1-11.5 7.1-11.8 7.2-10.4 7.1-6.5 7.2-1.6 7.1 2.8 7.1 5.4 7.2 6.4 7.1 5.8 7.1 3.8 7.2 .7 7.1M499.6 9.9l-9.1 7.1-10.3 7.2-7.3 7.1-3.3 7.1 1 7.2 3.8 7.1 5.1 7.1 6.4 7.2 6.9 7.1 6.5 7.2 4.3 7.1 2.3 7.1 .8 7.2-.6 7.1-1.8 7.1-2 7.2-2.5 7.1M499.6 9.9l-5.9 7.1-.4 7.2 6.2 7.1 9.5 7.1 9.9 7.2 7.6 7.1 3.6 7.1-.8 7.2-3.1 7.1-5.4 7.2-7 7.1-6.9 7.1-5.3 7.2-3.9 7.1-2 7.1 1.1 7.2 3 7.1M499.6 9.9l10.7 7.1 9.3 7.2 4.1 7.1-.7 7.1-5.1 7.2-8.1 7.1-8.8 7.1-8.9 7.2-7.6 7.1-5 7.2-1.9 7.1 1.1 7.1 3.3 7.2 4.5 7.1 5 7.1 5 7.2 3.3 7.1M499.6 9.9l-5.6 7.1 .3 7.2 6.9 7.1 10 7.1 10.1 7.2 7.4 7.1 3.1 7.1-2.1 7.2-3.2 7.1-6 7.2-7.4 7.1-7.1 7.1-5.3 7.2-4.1 7.1-1.7 7.1 1.5 7.2 3.4 7.1M499.6 9.9l7.6 7.1 1.3 7.2-6 7.1-10.9 7.1-11.5 7.2-9 7.1-5.4 7.1-.5 7.2 4.6 7.1 8.2 7.2 9.9 7.1 9.2 7.1 5.5 7.2 2.1 7.1-.5 7.1-1.7 7.2-2.7 7.1M499.6 9.9l-10.6 7.1-10.5 7.2-5.1 7.1-.2 7.1 4.1 7.2 6.2 7.1 7 7.1 7.4 7.2 6 7.1 4.5 7.2 2.6 7.1 .5 7.1-.9 7.2-2 7.1-3.1 7.1-2.8 7.2-2.9 7.1M499.8 9.9l2.1 7.1 7.6 7.2 9.9 7.1 9.2 7.1 5.7 7.2 0 7.1-2 7.1-6.7 7.2-7.6 7.1-8 7.2-7.4 7.1-6.3 7.1-4.4 7.2-1.5 7.1 1.1 7.1 3.8 7.2 4.5 7.1M499.6 9.9l-9.9 7.1-10.3 7.2-4.1 7.1 3.4 7.1 9.8 7.2 12.2 7.1 11.2 7.1 7.6 7.2 3.9 7.1-.2 7.2-4.1 7.1-6.5 7.1-6.2 7.2-4.8 7.1-3.2 7.1-.7 7.2 2.1 7.1M499.6 9.9l-6.8 7.1-1.8 7.2 5.1 7.1 9.3 7.1 10.1 7.2 8 7.1 4.2 7.1-.2 7.2-3 7.1-5.3 7.2-6.9 7.1-6.8 7.1-5 7.2-4.1 7.1-1.5 7.1 1.6 7.2 3.3 7.1M499.7 9.9l-1.9 7.1 2 7.2 5 7.1 6.4 7.1 6.3 7.2 4.8 7.1 2.5 7.1 .1 7.2-.9 7.1-2.3 7.2-3.9 7.1-4.8 7.1-4.2 7.2-3.7 7.1-2.9 7.1-1.7 7.2-.7 7.1M499.8 9.9l3.9 7.1 9.8 7.2 10.5 7.1 7.3 7.1 1.3 7.2-5.1 7.1-9.7 7.1-11.3 7.2-11 7.1-9.8 7.2-5.6 7.1-.9 7.1 2.8 7.2 5.1 7.1 5.7 7.1 5 7.2 2 7.1M499.6 9.9l-9.2 7.1-11.2 7.2-8.4 7.1-4.6 7.1 .1 7.2 3.2 7.1 4.8 7.1 6.5 7.2 7.3 7.1 7.3 7.2 5.8 7.1 3.2 7.1 1.5 7.2-.1 7.1-1.5 7.1-1.9 7.2-2.6 7.1M499.8 9.9l-4.3 7.1-8.4 7.2-9 7.1-7.3 7.1-3.6 7.2-.5 7.1 1.7 7.1 4.3 7.2 6.2 7.1 7.3 7.2 7.2 7.1 5.9 7.1 3.1 7.2 1.2 7.1-.4 7.1-1.2 7.2-2.2 7.1M499.8 9.9l3 7.1 6.6 7.2 7.6 7.1 7.2 7.1 5.3 7.2 2.4 7.1-.5 7.1-3.1 7.2-3.7 7.1-4.7 7.2-5.4 7.1-5.4 7.1-4.2 7.2-3.1 7.1-1.9 7.1-.9 7.2 .8 7.1M499.6 9.9l-9.1 7.1-4.3 7.2 4.4 7.1 10.8 7.1 12.5 7.2 10.4 7.1 5.2 7.1-.7 7.2-4.6 7.1-7.5 7.2-8.9 7.1-7.6 7.1-6.5 7.2-2.9 7.1 .7 7.1 4 7.2 4.3 7.1M499.7 9.9l4.3 7.1-1.1 7.2-6.2 7.1-9 7.1-8.6 7.2-6.8 7.1-4.6 7.1-1.5 7.2 2 7.1 4.9 7.2 6.8 7.1 7.4 7.1 6.5 7.2 4.9 7.1 2.1 7.1 .2 7.2-1.2 7.1M499.6 9.9l9.6 7.1 10.1 7.2 7.2 7.1 4.2 7.1 .6 7.2-3 7.1-5.2 7.1-6.4 7.2-5.9 7.1-5.6 7.2-4.7 7.1-4.2 7.1-2.7 7.2-.9 7.1 .8 7.1 2.8 7.2 3.5 7.1M499.7 9.9l-5.3 7.1 .3 7.2 6.2 7.1 9 7.1 9.4 7.2 7.4 7.1 3.9 7.1-.9 7.2-2.6 7.1-2.9 7.2-6.1 7.1-6.8 7.1-5.5 7.2-4.1 7.1-2.6 7.1-.9 7.2 1.6 7.1M499.7 9.9l-4.3 7.1 2.9 7.2 9.4 7.1 11.4 7.1 9.4 7.2 4 7.1-2.2 7.1-7.2 7.2-9 7.1-9.6 7.2-9 7.1-6.8 7.1-2.6 7.2 1 7.1 3.7 7.1 5.2 7.2 3.8 7.1M499.7 9.9l-.2 7.1 6.5 7.2 10.2 7.1 10.2 7.1 6.6 7.2 1.1 7.1-4.4 7.1-8.2 7.2-9 7.1-9.1 7.2-8.5 7.1-6.2 7.1-2.5 7.2 .9 7.1 3.3 7.1 5.1 7.2 4.3 7.1M499.6 9.9l8.2 7.1 2.1 7.2-5.8 7.1-11.1 7.1-12 7.2-9.2 7.1-5.1 7.1 .4 7.2 5.8 7.1 9.5 7.2 10.6 7.1 8.4 7.1 4 7.2 1 7.1-1.5 7.1-2.4 7.2-2.7 7.1M499.7 9.9l7 7.1 11 7.2 9.6 7.1 4.7 7.1 .7 7.2-6 7.1-9.7 7.1-10.8 7.2-10.2 7.1-9.3 7.2-5.7 7.1-1.5 7.1 2.2 7.2 4.3 7.1 5.1 7.1 5.4 7.2 3.3 7.1M499.7 9.9l8.7 7.1 10.8 7.2 6.4 7.1-.1 7.1-7 7.2-11.6 7.1-12.9 7.1-11.9 7.2-7.9 7.1-2.6 7.2 2.9 7.1 6.7 7.1 7.9 7.2 7 7.1 4.2 7.1 .8 7.2-1.3 7.1M499.8 9.9l-1.5 7.1-6.4 7.2-8.9 7.1-9 7.1-6.3 7.2-3.6 7.1-.3 7.1 .9 7.2 3.5 7.1 6.3 7.2 7.4 7.1 7.2 7.1 6.1 7.2 4.3 7.1 1.5 7.1 .1 7.2-1.3 7.1M499.8 9.9l.1 7.1-4.1 7.2-6.9 7.1-7.7 7.1-6.4 7.2-4.7 7.1-3.4 7.1-1.4 7.2 1.3 7.1 3.2 7.2 5 7.1 6 7.1 5.8 7.2 5.2 7.1 4.1 7.1 2.9 7.2 1 7.1M499.6 9.9l-10.3 7.1-10.7 7.2-6.3 7.1-1.2 7.1 3.8 7.2 6.6 7.1 7.9 7.1 8.5 7.2 6.9 7.1 5 7.2 2.8 7.1 .1 7.1-1.3 7.2-2.6 7.1-3.4 7.1-2.9 7.2-2.7 7.1" stroke="#000" stroke-opacity="0.75" stroke-width="0.42" fill="none"/>
<path d="M499.6 9.9l-10.4 7.1-10.2 7.2-5.7 7.1-1 7.1 3.6 7.2 5.9 7.1 7 7.1 7.6 7.2 6.6 7.1 4.7 7.2 2.8 7.1 .6 7.1-.8 7.2-2 7.1-3 7.1-2.7 7.2-2.8 7.1M499.7 9.9l3.3 7.1 1.2 7.2-1.4 7.1-3.1 7.1-4.1 7.2-3.7 7.1-3.1 7.1-1.8 7.2-.3 7.1 1.3 7.2 2.4 7.1 3 7.1 2.8 7.2 2.3 7.1 1.4 7.1 .3 7.2-.4 7.1M499.7 9.9l-5 7.1-8.1 7.2-6.5 7.1-2.3 7.1 3 7.2 6.7 7.1 8.4 7.1 8.1 7.2 5.9 7.1 3.4 7.2 .2 7.1-2.5 7.1-3.5 7.2-3.6 7.1-2.8 7.1-1.3 7.2 0 7.1M499.7 9.9l4.9 7.1 1 7.2-3.8 7.1-6.9 7.1-7.4 7.2-5.6 7.1-3.2 7.1 .1 7.2 3.4 7.1 5.7 7.2 6.5 7.1 5.6 7.1 2.7 7.2 .9 7.1-.7 7.1-1.4 7.2-1.7 7.1M499.6 9.9l-10 7.1-7.2 7.2 .6 7.1 7.6 7.1 11.5 7.2 11.4 7.1 8.6 7.1 4 7.2 .4 7.1-3.3 7.2-6.3 7.1-7.4 7.1-6 7.2-4.4 7.1-2.9 7.1 .6 7.2 3 7.1M499.6 9.9l-9.2 7.1-7.6 7.2-2.9 7.1 1.5 7.1 4.8 7.2 6.2 7.1 6.6 7.1 5.7 7.2 4.5 7.1 3 7.2 1.2 7.1-.8 7.1-1.8 7.2-2.6 7.1-3.1 7.1-2.7 7.2-2.6 7.1M499.8 9.9l3.9 7.1 5.7 7.2 4 7.1 1 7.1-2.7 7.2-5.4 7.1-6.4 7.1-6.6 7.2-4.9 7.1-2.3 7.2 .5 7.1 2.8 7.1 3.7 7.2 3.7 7.1 2.7 7.1 .7 7.2-.4 7.1M499.6 9.9l-10.6 7.1-9.9 7.2-3.3 7.1 2.5 7.1 7 7.2 8.8 7.1 9 7.1 7.3 7.2 5.4 7.1 3.2 7.2 .3 7.1-3 7.1-3.7 7.2-3.6 7.1-3.7 7.1-3.1 7.2-2.4 7.1M499.8 9.9l3.8 7.1 5.4 7.2 4.8 7.1 3.6 7.1 1.3 7.2-1 7.1-2.9 7.1-4 7.2-3.9 7.1-3.8 7.2-3.3 7.1-2.9 7.1-1.7 7.2-.4 7.1 .7 7.1 2 7.2 2.3 7.1M499.8 9.9l1 7.1 5.2 7.2 7.3 7.1 7.6 7.1 5.8 7.2 2.6 7.1-.7 7.1-3.4 7.2-4.4 7.1-5.3 7.2-5.8 7.1-5.2 7.1-3.8 7.2-2.9 7.1-1.3 7.1 .9 7.2 2.4 7.1M499.8 9.9l-1.3 7.1-6.1 7.2-8.6 7.1-8.7 7.1-6.2 7.2-3.7 7.1-1.4 7.1 .9 7.2 3.7 7.1 5.8 7.2 7.1 7.1 7 7.1 6 7.2 4.4 7.1 1.9 7.1 .3 7.2-1.1 7.1M499.8 9.9l1.8 7.1 3.3 7.2 3.6 7.1 3.1 7.1 2 7.2 .4 7.1-1 7.1-2.1 7.2-2.3 7.1-2.6 7.2-2.6 7.1-2.2 7.1-1.6 7.2-1.2 7.1-.4 7.1 .6 7.2 1.2 7.1M499.8 9.9l-1.6 7.1-4.5 7.2-5.8 7.1-5.4 7.1-3.5 7.2-1.8 7.1-.5 7.1 1.2 7.2 2.9 7.1 4.1 7.2 4.6 7.1 4.5 7.1 3.6 7.2 2.4 7.1 .7 7.1 0 7.2-.9 7.1M499.7 9.9l-8.7 7.1-11.3 7.2-7 7.1-.1 7.1 7.1 7.2 11.1 7.1 12.1 7.1 9.7 7.2 6.4 7.1 2.4 7.2-1.9 7.1-5.1 7.1-5.6 7.2-5 7.1-3.5 7.1-1.6 7.2 1.1 7.1M499.7 9.9l4.6 7.1 1.8 7.2-1.5 7.1-3.7 7.1-5 7.2-5 7.1-4.6 7.1-3.6 7.2-2.1 7.1-.4 7.2 1.2 7.1 2.6 7.1 3.3 7.2 3.6 7.1 3.4 7.1 3.3 7.2 2.2 7.1M499.8 9.9l1.6 7.1 5.1 7.2 6.3 7.1 5.6 7.1 3.1 7.2-.2 7.1-3.1 7.1-5.1 7.2-5.4 7.1-5.3 7.2-4.9 7.1-3.7 7.1-1.8 7.2 .2 7.1 1.7 7.1 3.1 7.2 2.8 7.1M499.7 9.9l3.8 7.1 4.8 7.2 4.1 7.1 3.2 7.1 1.5 7.2-.2 7.1-1.7 7.1-2.7 7.2-2.7 7.1-2.8 7.2-2.8 7.1-2.4 7.1-1.7 7.2-1.3 7.1-.6 7.1 .5 7.2 1.1 7.1M499.7 9.9l3 7.1-5.5 7.2-11.6 7.1-12.2 7.1-7.3 7.2-.8 7.1 5.1 7.1 10.2 7.2 13 7.1 11.1 7.2 6.7 7.1 2 7.1-1.3 7.2-3.6 7.1-4.3 7.1-3 7.2-1.4 7.1M499.7 9.9l.3 7.1-5.2 7.2-8.1 7.1-7.7 7.1-4.1 7.2 0 7.1 3.3 7.1 6.4 7.2 8.2 7.1 8 7.2 4.9 7.1 2.2 7.1 .1 7.2-1.7 7.1-2.6 7.1-2.3 7.2-1.6 7.1M499.7 9.9l-7.4 7.1-7.2 7.2-3.1 7.1 1.5 7.1 5.4 7.2 7.2 7.1 7.4 7.1 5.7 7.2 3.9 7.1 1.8 7.2-.8 7.1-2.8 7.1-3.3 7.2-3.4 7.1-2.8 7.1-1.5 7.2-.5 7.1M499.8 9.9l.5 7.1 2.8 7.2 3.4 7.1 2.8 7.1 1.1 7.2-1.1 7.1-2.7 7.1-3.6 7.2-3.4 7.1-3.4 7.2-2.1 7.1-.6 7.1 .7 7.2 1.6 7.1 1.7 7.1 1.6 7.2 .7 7.1M499.7 9.9l1.4 7.1-4.1 7.2-7.8 7.1-8.1 7.1-4.8 7.2-.7 7.1 2.9 7.1 6.3 7.2 8.3 7.1 7.9 7.2 5 7.1 2.1 7.1-.2 7.2-1.8 7.1-2.8 7.1-2.1 7.2-1.4 7.1M499.6 9.9l-7.7 7.1-6.6 7.2-2.1 7.1 1.9 7.1 5.2 7.2 6.5 7.1 6.4 7.1 5.1 7.2 3.7 7.1 2.1 7.2-.1 7.1-1.9 7.1-2.6 7.2-3 7.1-3 7.1-2.2 7.2-1.5 7.1M499.7 9.9l5.4 7.1 6.2 7.2 4.8 7.1 2.9 7.1 .7 7.2-1.7 7.1-3.3 7.1-4.1 7.2-3.8 7.1-3.7 7.2-3.1 7.1-2.8 7.1-1.7 7.2-.5 7.1 .6 7.1 1.9 7.2 2.3 7.1M499.6 9.9l9.4 7.1 7.4 7.2 2.2 7.1-2.4 7.1-6.1 7.2-8.2 7.1-8.5 7.1-7.9 7.2-5.7 7.1-2.8 7.2 .3 7.1 3 7.1 4.4 7.2 5 7.1 4.6 7.1 3.8 7.2 1.7 7.1M499.7 9.9l-6.8 7.1-4.3 7.2 .7 7.1 4.7 7.1 7.1 7.2 7 7.1 5.6 7.1 3.1 7.2 1.3 7.1-.9 7.2-3 7.1-4.2 7.1-4 7.2-3.3 7.1-2.2 7.1-1.1 7.2 .4 7.1M499.8 9.9l3.2 7.1 4.4 7.2 3.8 7.1 2.7 7.1 .9 7.2-1.1 7.1-2.4 7.1-3.2 7.2-3.2 7.1-3 7.2-2.7 7.1-2.2 7.1-1.3 7.2-.2 7.1 .7 7.1 1.7 7.2 1.9 7.1M499.8 9.9l2.3 7.1 3.4 7.2 2.6 7.1 1.2 7.1-.5 7.2-2.2 7.1-3 7.1-3.2 7.2-3.1 7.1-2.5 7.2-1.3 7.1-.1 7.1 .9 7.2 1.5 7.1 1.7 7.1 1.5 7.2 .8 7.1M499.8 9.9l.7 7.1 2.7 7.2 3.7 7.1 3.8 7.1 2.8 7.2 1.4 7.1-.2 7.1-1.6 7.2-2.1 7.1-2.5 7.2-2.9 7.1-2.6 7.1-2 7.2-1.4 7.1-.9 7.1 .1 7.2 1 7.1M499.8 9.9l2.5 7.1 3.5 7.2 3.1 7.1 2 7.1 .6 7.2-.9 7.1-2.1 7.1-2.7 7.2-2.6 7.1-2.4 7.2-2.2 7.1-1.7 7.1-.8 7.2 0 7.1 .7 7.1 1.5 7.2 1.5 7.1M499.8 9.9l-2.2 7.1-3.2 7.2-2.5 7.1-.8 7.1 1.2 7.2 2.6 7.1 3.3 7.1 3.1 7.2 2.3 7.1 1.4 7.2 .2 7.1-.9 7.1-1.3 7.2-1.4 7.1-1.1 7.1-.6 7.2-.1 7.1M499.8 9.9l2.1 7.1 4.9 7.2 5.8 7.1 5.4 7.1 3.8 7.2 1.3 7.1-1 7.1-3 7.2-3.4 7.1-3.9 7.2-4.3 7.1-3.8 7.1-2.8 7.2-2 7.1-1.2 7.1 .5 7.2 1.6 7.1M499.8 9.9l-2.2 7.1-2.3 7.2-1.3 7.1 .1 7.1 1.2 7.2 1.9 7.1 2.2 7.1 1.9 7.2 1.4 7.1 .9 7.2 .1 7.1-.5 7.1-.7 7.2-.9 7.1-.9 7.1-.6 7.2-.3 7.1M499.8 9.9l-4.6 7.1-9.4 7.2-10.3 7.1-8.4 7.1-3 7.2-.3 7.1 2.1 7.1 5.7 7.2 7.9 7.1 8.9 7.2 8.3 7.1 5.6 7.1 2.7 7.2 .7 7.1-1.2 7.1-2 7.2-2.7 7.1M499.7 9.9l4 7.1 2.3 7.2-.2 7.1-2.2 7.1-3.5 7.2-4 7.1-3.6 7.1-2.9 7.2-1.6 7.1-.2 7.2 1.2 7.1 2.2 7.1 2.5 7.2 2.5 7.1 2 7.1 1.3 7.2 .3 7.1M499.7 9.9l-6.4 7.1-5.4 7.2-1.6 7.1 1.8 7.1 4.5 7.2 5.6 7.1 5.3 7.1 4.2 7.2 3 7.1 1.5 7.2-.3 7.1-1.9 7.1-2.4 7.2-2.6 7.1-2.5 7.1-1.6 7.2-1.1 7.1M499.8 9.9l2.6 7.1 6.9 7.2 7.4 7.1 5.2 7.1 .9 7.2-3.8 7.1-6.9 7.1-8.1 7.2-7.9 7.1-6.8 7.2-3.8 7.1-.4 7.1 2.3 7.2 3.8 7.1 4 7.1 3.4 7.2 1.2 7.1M499.7 9.9l5.5 7.1 3.6 7.2-.5 7.1-4 7.1-6.1 7.2-6.5 7.1-5.5 7.1-3.3 7.2-.4 7.1 2.2 7.2 4.2 7.1 4.9 7.1 4.3 7.2 2.6 7.1 .6 7.1-.3 7.2-1.2 7.1M499.8 9.9l-.1 7.1-3.7 7.2-6.1 7.1-6.6 7.1-5.2 7.2-3.4 7.1-2.1 7.1 0 7.2 2.1 7.1 3.9 7.2 4.9 7.1 5.3 7.1 4.8 7.2 3.7 7.1 2.4 7.1 .6 7.2-.5 7.1M499.7 9.9l-6.9 7.1-8 7.2-5.4 7.1-2.3 7.1 1.4 7.2 3.5 7.1 4.7 7.1 5.6 7.2 5.8 7.1 4.5 7.2 2.9 7.1 1.2 7.1 0 7.2-1.1 7.1-1.9 7.1-1.9 7.2-2 7.1M499.7 9.9l-7.6 7.1-13.1 7.2-8.3 7.1-4.9 7.1 6.4 7.2 12.4 7.1 15 7.1 12.5 7.2 8.6 7.1 3.4 7.2-3.5 7.1-4.7 7.1-6.8 7.2-6 7.1-3.9 7.1-1.5 7.2 2.1 7.1M499.7 9.9l7 7.1 7.1 7.2 4.4 7.1 1.4 7.1-1.8 7.2-4.5 7.1-5.7 7.1-5.7 7.2-5.6 7.1-4.8 7.2-2.9 7.1-.9 7.1 .7 7.2 2.1 7.1 2.9 7.1 3.6 7.2 2.8 7.1M499.6 9.9l10.7 7.1 10.1 7.2 4.6 7.1-2.9 7.1-9.4 7.2-12.6 7.1-13.2 7.1-11 7.2-6.3 7.1-.1 7.2 3.9 7.1 7.7 7.1 8.4 7.2 7.2 7.1 3.9 7.1 .6 7.2-1.4 7.1M499.7 9.9l.5 7.1 6.7 7.2 9.8 7.1 9.1 7.1 5.5 7.2-.1 7.1-5 7.1-8.4 7.2-8.8 7.1-8.5 7.2-8.2 7.1-5 7.1-1.4 7.2 1.5 7.1 3.7 7.1 5 7.2 3.7 7.1M499.6 9.9l-8.7 7.1-2 7.2 7.2 7.1 12.5 7.1 13.2 7.2 9.5 7.1 1.3 7.1-2.9 7.2-4.5 7.1-9.2 7.2-9.9 7.1-8.5 7.1-6.5 7.2-2.4 7.1 1.6 7.1 5 7.2 4.5 7.1M499.8 9.9l-2.9 7.1-4.7 7.2-4.5 7.1-3.1 7.1-.7 7.2 1.1 7.1 2.3 7.1 3.4 7.2 4.1 7.1 4.1 7.2 2.8 7.1 1.5 7.1 .5 7.2-.4 7.1-1.1 7.1-1.1 7.2-1.3 7.1M499.7 9.9l2 7.1-4.4 7.2-8.9 7.1-9.3 7.1-5.5 7.2-.6 7.1 3.6 7.1 7.6 7.2 9.8 7.1 8.7 7.2 5.3 7.1 1.9 7.1-.7 7.2-2.5 7.1-3.3 7.1-2.3 7.2-1.3 7.1M499.7 9.9l-.6 7.1 7.3 7.2 11.4 7.1 10.9 7.1 5.6 7.2-1 7.1-7.6 7.1-11.1 7.2-11.3 7.1-11.3 7.2-8.3 7.1-3.2 7.1 1.3 7.2 4.4 7.1 5.8 7.1 5.3 7.2 2.5 7.1M499.7 9.9l-6.5 7.1-3.9 7.2 1.9 7.1 6.4 7.1 8.3 7.2 7.5 7.1 4.6 7.1 .9 7.2-1.8 7.1-4.1 7.2-5.4 7.1-5.3 7.1-4.1 7.2-2.8 7.1-.4 7.1 2 7.2 2.8 7.1M499.7 9.9l-7.6 7.1-7.6 7.2-4.5 7.1-1.4 7.1 1.7 7.2 3.4 7.1 4.1 7.1 4.7 7.2 4.8 7.1 4 7.2 2.5 7.1 1.3 7.1 .3 7.2-.7 7.1-1.4 7.1-1.6 7.2-1.9 7.1M499.8 9.9l-1.4 7.1-2.9 7.2-3.5 7.1-3.4 7.1-2.3 7.2-1.6 7.1-.9 7.1-.1 7.2 .8 7.1 1.7 7.2 2.3 7.1 2.7 7.1 2.5 7.2 2.2 7.1 1.9 7.1 1.4 7.2 .6 7.1M499.7 9.9l-1.9 7.1 0 7.2 2.2 7.1 3.2 7.1 3.5 7.2 3 7.1 1.9 7.1 .6 7.2 0 7.1-.8 7.2-1.8 7.1-2.4 7.1-2.2 7.2-2 7.1-1.7 7.1-1 7.2-.5 7.1M499.7 9.9l-5.4 7.1-3.8 7.2-.5 7.1 2.1 7.1 3.8 7.2 4.4 7.1 4 7.1 3 7.2 2.3 7.1 1.3 7.2-.1 7.1-1.3 7.1-1.7 7.2-2.2 7.1-2.3 7.1-1.8 7.2-1.7 7.1M499.8 9.9l2.3 7.1 1.5 7.2-.1 7.1-1.4 7.1-2.4 7.2-2.6 7.1-2.4 7.1-1.6 7.2-.6 7.1 .5 7.2 1.3 7.1 1.8 7.1 1.8 7.2 1.4 7.1 .7 7.1 .1 7.2-.3 7.1M499.7 9.9l-6.3 7.1-2.7 7.2 2.2 7.1 5.6 7.1 6.8 7.2 6.7 7.1 5.2 7.1 3.2 7.2 1.8 7.1 0 7.2-2 7.1-3.9 7.1-3.8 7.2-4.1 7.1-3.8 7.1-2.7 7.2-2.1 7.1M499.8 9.9l.6 7.1 4.4 7.2 6.3 7.1 6.4 7.1 4.8 7.2 2.1 7.1-.8 7.1-3.2 7.2-4.1 7.1-4.7 7.2-5 7.1-4.3 7.1-3.1 7.2-2.4 7.1-.7 7.1 1.3 7.2 2.4 7.1M499.6 9.9l10.8 7.1 10 7.2 5.9 7.1 0 7.1-4.5 7.2-7.7 7.1-8.8 7.1-8.5 7.2-8.2 7.1-6 7.2-3.2 7.1-.2 7.1 2.5 7.2 4.3 7.1 4.3 7.1 5.1 7.2 4.4 7.1M499.7 9.9l6.9 7.1 10.2 7.2 9.1 7.1 6 7.1 1.1 7.2-3.8 7.1-7.5 7.1-9 7.2-8.5 7.1-8.1 7.2-6.9 7.1-3.7 7.1-.7 7.2 1.9 7.1 3.7 7.1 5.1 7.2 4.3 7.1M499.6 9.9l-10.5 7.1-10.8 7.2-7.6 7.1-4.9 7.1-1.7 7.2 2.6 7.1 4.5 7.1 6.2 7.2 7.1 7.1 7.2 7.2 6.4 7.1 4.1 7.1 2 7.2 .5 7.1-.9 7.1-1.6 7.2-2.4 7.1M499.7 9.9l-5.3 7.1 .2 7.2 6.1 7.1 8.9 7.1 9.4 7.2 7.5 7.1 4.2 7.1-1 7.2-2.6 7.1-2.9 7.2-4.5 7.1-6.7 7.1-5.7 7.2-4.4 7.1-2.7 7.1-1.3 7.2 .9 7.1M499.8 9.9l1.5 7.1 4 7.2 4.6 7.1 4.1 7.1 2.4 7.2 .1 7.1-1.9 7.1-3.3 7.2-3.6 7.1-3.7 7.2-3.4 7.1-2.9 7.1-1.9 7.2-.5 7.1 .6 7.1 1.8 7.2 2.1 7.1M499.8 9.9l4.6 7.1 7.7 7.2 7.9 7.1 6.4 7.1 3.4 7.2-.3 7.1-3.4 7.1-5.4 7.2-5.8 7.1-5.9 7.2-5.5 7.1-4.4 7.1-3.6 7.2-1.7 7.1 .3 7.1 2.4 7.2 3.3 7.1M499.7 9.9l6.3 7.1 7.5 7.2 4.9 7.1 1.3 7.1-2.9 7.2-6.1 7.1-7.5 7.1-7.5 7.2-6.7 7.1-4.4 7.2-1.4 7.1 1.5 7.1 3.2 7.2 4 7.1 3.9 7.1 3 7.2 1 7.1M499.7 9.9l2.7 7.1 1.1 7.2-.7 7.1-1.9 7.1-2.7 7.2-2.7 7.1-2.6 7.1-2.1 7.2-1.3 7.1-.4 7.2 .5 7.1 1.2 7.1 1.7 7.2 1.9 7.1 2 7.1 2 7.2 1.4 7.1M499.7 9.9l-5.7 7.1-.1 7.2 6.9 7.1 10 7.1 9.5 7.2 5.6 7.1 .3 7.1-4.7 7.2-6.9 7.1-8.2 7.2-7.7 7.1-6.6 7.1-3.1 7.2 .4 7.1 2.8 7.1 4.4 7.2 3.2 7.1M499.7 9.9l4.8 7.1 1.4 7.2-2.6 7.1-5.4 7.1-6.4 7.2-5.7 7.1-4.5 7.1-2.3 7.2 .2 7.1 2.6 7.2 4.2 7.1 4.9 7.1 4.6 7.2 3.4 7.1 1.6 7.1 .1 7.2-.8 7.1M499.8 9.9l-.1 7.1-2.7 7.2-4.2 7.1-4.5 7.1-3.2 7.2-1.8 7.1-.8 7.1 .8 7.2 2.2 7.1 3.3 7.2 3.7 7.1 3.5 7.1 2.9 7.2 1.5 7.1 .4 7.1-.2 7.2-.8 7.1M499.8 9.9l-3.1 7.1-6.2 7.2-6.1 7.1-3.8 7.1 0 7.2 3 7.1 5 7.1 6.3 7.2 6.3 7.1 4.3 7.2 2.4 7.1 .2 7.1-1.1 7.2-2.1 7.1-2.4 7.1-1.7 7.2-1 7.1M499.6 9.9l-10.6 7.1-10.1 7.2-2.8 7.1 3.6 7.1 8.5 7.2 10.2 7.1 9.7 7.1 7.4 7.2 5.1 7.1 2.2 7.2-2.2 7.1-4.3 7.1-3.7 7.2-4.2 7.1-4.4 7.1-2.8 7.2-1.4 7.1M499.7 9.9l-7.1 7.1-5.3 7.2-.6 7.1 3.3 7.1 5.9 7.2 6.6 7.1 5.8 7.1 4.2 7.2 2.6 7.1 .8 7.2-1.2 7.1-2.9 7.1-3.2 7.2-3.2 7.1-2.9 7.1-1.8 7.2-.9 7.1M499.8 9.9l0 7.1 2.4 7.2 3.7 7.1 3.9 7.1 2.7 7.2 .9 7.1-1 7.1-2.5 7.2-3 7.1-3.2 7.2-2.9 7.1-2.6 7.1-1.8 7.2-.5 7.1 .6 7.1 1.6 7.2 1.7 7.1M499.7 9.9l4.5 7.1 .8 7.2-3.2 7.1-5.8 7.1-6.6 7.2-5.8 7.1-4.8 7.1-3 7.2-.6 7.1 1.8 7.2 3.6 7.1 4.7 7.1 4.9 7.2 4.3 7.1 3.2 7.1 1.9 7.2 .2 7.1M499.8 9.9l2.8 7.1 4.8 7.2 4.1 7.1 1.8 7.1-1.3 7.2-4.1 7.1-5.4 7.1-5.6 7.2-4.9 7.1-2.9 7.2-.5 7.1 1.7 7.1 2.8 7.2 3.1 7.1 2.5 7.1 1.2 7.2-.1 7.1M499.7 9.9l-5.5 7.1-2.8 7.2 1.4 7.1 4.3 7.1 5.6 7.2 5.6 7.1 4.4 7.1 2.8 7.2 1.6 7.1 .2 7.2-1.6 7.1-3 7.1-3.2 7.2-3.2 7.1-3 7.1-2 7.2-1.5 7.1M499.7 9.9l3.3 7.1 1.5 7.2-1 7.1-2.6 7.1-3.6 7.2-3.6 7.1-3 7.1-2 7.2-.5 7.1 .8 7.2 2 7.1 2.6 7.1 2.6 7.2 2.2 7.1 1.4 7.1 .3 7.2-.3 7.1M499.7 9.9l5.9 7.1 8.1 7.2 7.5 7.1 5.9 7.1 3.3 7.2 0 7.1-2.7 7.1-4.6 7.2-4.8 7.1-5.1 7.2-5.2 7.1-4.4 7.1-3.2 7.2-2.4 7.1-1.1 7.1 .8 7.2 2.1 7.1M499.8 9.9l4.8 7.1 8.5 7.2 7.1 7.1 3 7.1-2.8 7.2-7.7 7.1-9.8 7.1-10.1 7.2-8.4 7.1-4.4 7.2 0 7.1 3.7 7.1 5.5 7.2 5.7 7.1 4.2 7.1 1.3 7.2-.6 7.1M499.8 9.9l-1.8 7.1-3.8 7.2-4.6 7.1-4.4 7.1-3 7.2-2 7.1-1.2 7.1-.1 7.2 1.2 7.1 2.3 7.2 3.1 7.1 3.5 7.1 3.2 7.2 2.9 7.1 2.3 7.1 1.7 7.2 .7 7.1M499.7 9.9l-8.3 7.1-11.5 7.2-9.2 7.1-4.9 7.1-.5 7.2 4.2 7.1 6.5 7.1 8.5 7.2 9.3 7.1 8.1 7.2 5.2 7.1 2.4 7.1 .4 7.2-1.5 7.1-2.9 7.1-2.8 7.2-2.9 7.1M499.7 9.9l-6.1 7.1-10.1 7.2-10.1 7.1-7.6 7.1-1.7 7.2-.3 7.1 .8 7.1 5 7.2 7 7.1 8 7.2 7.9 7.1 6.5 7.1 3.4 7.2 1.4 7.1-.4 7.1-1.3 7.2-2.3 7.1M499.7 9.9l5.9 7.1 2.3 7.2-1.9 7.1-4.5 7.1-6 7.2-6.2 7.1-5.7 7.1-4.7 7.2-2.9 7.1-.9 7.2 1.2 7.1 3 7.1 3.8 7.2 4.4 7.1 4.4 7.1 4.6 7.2 3.3 7.1M499.7 9.9l-3.8 7.1-.2 7.2 4 7.1 5.9 7.1 6.5 7.2 5.4 7.1 3.4 7.1 1.1 7.2-.2 7.1-1.8 7.2-3.4 7.1-4.5 7.1-4 7.2-3.5 7.1-2.8 7.1-1.5 7.2-.5 7.1M499.7 9.9l-3.5 7.1-4.6 7.2-3.4 7.1-1.8 7.1 .3 7.2 1.8 7.1 2.5 7.1 3.3 7.2 3.5 7.1 2.9 7.2 1.9 7.1 .9 7.1 .1 7.2-.5 7.1-1.1 7.1-1 7.2-1.2 7.1M499.7 9.9l-6.8 7.1-9.3 7.2-7.3 7.1-3.6 7.1 1.3 7.2 4.5 7.1 6.5 7.1 7.8 7.2 7.8 7.1 5.4 7.2 3.4 7.1 .8 7.1-.8 7.2-2.2 7.1-2.9 7.1-2.4 7.2-2.1 7.1M499.8 9.9l1.2 7.1 3 7.2 3.6 7.1 3.6 7.1 2.9 7.2 1.5 7.1 .1 7.1-1.1 7.2-1.5 7.1-1.9 7.2-2.5 7.1-2.8 7.1-2.2 7.2-1.8 7.1-1.3 7.1-.7 7.2-.1 7.1M499.8 9.9l-3.8 7.1-7.2 7.2-6.7 7.1-3.4 7.1 1.5 7.2 5 7.1 7.1 7.1 8.1 7.2 6 7.1 4 7.2 1.2 7.1-1.5 7.1-2.6 7.2-3.2 7.1-2.7 7.1-1.5 7.2-.3 7.1M499.6 9.9l-8.9 7.1-8.4 7.2-1.6 7.1 5.7 7.1 10.8 7.2 11.5 7.1 9.2 7.1 4.6 7.2 .5 7.1-3.4 7.2-6.4 7.1-7.1 7.1-5.6 7.2-4.5 7.1-1.5 7.1 1.9 7.2 3.4 7.1M499.6 9.9l6.3 7.1 .6 7.2-5.7 7.1-9.7 7.1-9.8 7.2-7.3 7.1-4.2 7.1 .2 7.2 4.4 7.1 7.5 7.2 8.7 7.1 7.9 7.1 4.3 7.2 1.6 7.1-.6 7.1-1.6 7.2-2.4 7.1M499.7 9.9l6.2 7.1 7.5 7.2 5.6 7.1 2.8 7.1-.7 7.2-3.8 7.1-5.7 7.1-6.3 7.2-5.6 7.1-5.6 7.2-4 7.1-1.7 7.1 .2 7.2 1.8 7.1 2.8 7.1 3.7 7.2 2.9 7.1M499.8 9.9l0 7.1 1.9 7.2 3.1 7.1 3 7.1 2 7.2 .5 7.1-1.1 7.1-2.3 7.2-2.6 7.1-2.6 7.2-2.4 7.1-2.1 7.1-1 7.2 0 7.1 .8 7.1 1.5 7.2 1.3 7.1M499.6 9.9l8 7.1 5.3 7.2-.1 7.1-4.5 7.1-7.4 7.2-8.6 7.1-7.8 7.1-5.8 7.2-2.7 7.1 .6 7.2 3.6 7.1 5.4 7.1 5.6 7.2 4.9 7.1 3.4 7.1 .9 7.2-.6 7.1M499.8 9.9l-.6 7.1-2 7.2-2.8 7.1-2.9 7.1-2.2 7.2-1.6 7.1-1.1 7.1-.3 7.2 .5 7.1 1.3 7.2 1.9 7.1 2.2 7.1 2.1 7.2 2 7.1 1.6 7.1 1.3 7.2 .6 7.1M499.8 9.9l-2.5 7.1-4.4 7.2-4.3 7.1-3.2 7.1-.9 7.2 .8 7.1 2 7.1 3.2 7.2 3.8 7.1 3.9 7.2 2.9 7.1 1.6 7.1 .6 7.2-.2 7.1-1 7.1-1.1 7.2-1.2 7.1M499.7 9.9l4.4 7.1 3.4 7.2 .4 7.1-2.3 7.1-4.4 7.2-5.1 7.1-4.6 7.1-3.4 7.2-1.3 7.1 .8 7.2 2.6 7.1 3.4 7.1 3.4 7.2 2.6 7.1 .9 7.1 0 7.2-.7 7.1M499.7 9.9l4.9 7.1 7.6 7.2 7.2 7.1 5.1 7.1 1.7 7.2-2.1 7.1-4.9 7.1-6.4 7.2-6.3 7.1-5.8 7.2-5.6 7.1-3.6 7.1-1.5 7.2 .5 7.1 2.2 7.1 3.6 7.2 3.5 7.1M499.8 9.9l-.6 7.1-2.5 7.2-3.2 7.1-3.1 7.1-1.7 7.2-.4 7.1 .5 7.1 1.8 7.2 2.5 7.1 3 7.2 2.8 7.1 1.9 7.1 .9 7.2 .1 7.1-.4 7.1-.7 7.2-.9 7.1M499.7 9.9l-8.9 7.1-11.8 7.2-8 7.1-1.5 7.1 5.7 7.2 10 7.1 11.9 7.1 10.7 7.2 7.7 7.1 4.3 7.2 0 7.1-3.6 7.1-4.8 7.2-5 7.1-4.2 7.1-2.1 7.2-.3 7.1M499.6 9.9l9.7 7.1 7.4 7.2 .3 7.1-6.3 7.1-10.9 7.2-12.2 7.1-10.4 7.1-6.3 7.2-.7 7.1 4.4 7.2 8.1 7.1 9 7.1 7.7 7.2 3.3 7.1 .6 7.1-1.2 7.2-2.3 7.1M499.7 9.9l-8.4 7.1-8.1 7.2-3.2 7.1 2.5 7.1 7.1 7.2 9.1 7.1 8.6 7.1 6.4 7.2 3.8 7.1 .9 7.2-2.1 7.1-4.3 7.1-4.5 7.2-4 7.1-2.8 7.1-1.4 7.2 .5 7.1M499.7 9.9l7.9 7.1 6.4 7.2 3.1 7.1 .2 7.1-2.3 7.2-4.1 7.1-4.8 7.1-4.7 7.2-4.4 7.1-3.8 7.2-2.6 7.1-1.1 7.1 .1 7.2 1.3 7.1 2.3 7.1 3.3 7.2 3.3 7.1M499.7 9.9l-6.1 7.1-5.9 7.2-2.2 7.1 1.7 7.1 5.1 7.2 6.5 7.1 6.1 7.1 4.6 7.2 2.8 7.1 .9 7.2-1.3 7.1-2.9 7.1-3.1 7.2-2.9 7.1-2.2 7.1-1 7.2 0 7.1M499.6 9.9l-6.6 7.1-1.5 7.2 5.7 7.1 9.6 7.1 10.1 7.2 7.4 7.1 2.8 7.1-2 7.2-4.8 7.1-6.9 7.2-7.6 7.1-6.3 7.1-5.4 7.2-2.3 7.1 .8 7.1 3.4 7.2 3.8 7.1M499.7 9.9l-5.2 7.1-8.3 7.2-7.4 7.1-4.5 7.1-.1 7.2 3 7.1 5.1 7.1 6.8 7.2 7.4 7.1 6.1 7.2 3.8 7.1 1.6 7.1-.1 7.2-1.4 7.1-2.5 7.1-2.1 7.2-2.1 7.1M499.8 9.9l2.6 7.1 2.8 7.2 1.8 7.1 .3 7.1-1.2 7.2-2.4 7.1-2.8 7.1-2.8 7.2-2.5 7.1-1.7 7.2-.5 7.1 .5 7.1 1.2 7.2 1.5 7.1 1.4 7.1 1.3 7.2 .5 7.1M499.6 9.9l-9.2 7.1-6.1 7.2 1.4 7.1 7.8 7.1 10.9 7.2 10.5 7.1 7.5 7.1 2.9 7.2-.4 7.1-3.8 7.2-6.3 7.1-7 7.1-5.6 7.2-4.3 7.1-2.2 7.1 1 7.2 3.1 7.1M499.8 9.9l.7 7.1 3 7.2 4.1 7.1 4.1 7.1 2.8 7.2 1 7.1-1 7.1-2.4 7.2-2.9 7.1-3.2 7.2-3.2 7.1-2.6 7.1-2.2 7.2-1.1 7.1 0 7.1 1.2 7.2 1.7 7.1M499.7 9.9l3.8 7.1 .2 7.2-3.2 7.1-5.5 7.1-6 7.2-5.6 7.1-5 7.1-3.8 7.2-1.8 7.1 0 7.2 2.1 7.1 3.5 7.1 4.3 7.2 4.6 7.1 4.5 7.1 4.7 7.2 3.3 7.1M499.7 9.9l-3.2 7.1-3.9 7.2-2.8 7.1-1.1 7.1 .6 7.2 1.9 7.1 2.5 7.1 2.9 7.2 3 7.1 2.2 7.2 1.4 7.1 .4 7.1-.1 7.2-.7 7.1-1.1 7.1-.9 7.2-1 7.1M499.7 9.9l-3 7.1 2.8 7.2 7.6 7.1 9.7 7.1 9 7.2 6 7.1 .8 7.1-2.9 7.2-2.6 7.1-3.9 7.2-6.8 7.1-7 7.1-5.4 7.2-3.7 7.1-2.7 7.1 0 7.2 2.2 7.1M499.7 9.9l4.9 7.1 6.6 7.2 6.4 7.1 5.3 7.1 3.4 7.2 .8 7.1-1.3 7.1-3 7.2-3.3 7.1-3.8 7.2-4.2 7.1-4.2 7.1-3.2 7.2-2.4 7.1-1.5 7.1-.7 7.2 .3 7.1M499.7 9.9l-5.2 7.1 .4 7.2 6.9 7.1 9.7 7.1 9.2 7.2 5.6 7.1 .7 7.1-3.9 7.2-6.1 7.1-7.6 7.2-7.4 7.1-6.6 7.1-4.1 7.2-.9 7.1 1.8 7.1 3.9 7.2 3.7 7.1M499.8 9.9l-1.1 7.1-7.1 7.2-10.2 7.1-9.9 7.1-6.3 7.2-1.4 7.1 0 7.1 3.9 7.2 7.3 7.1 9 7.2 9 7.1 7.3 7.1 3.5 7.2 1.3 7.1-.8 7.1-1.8 7.2-2.7 7.1M499.8 9.9l1.9 7.1 2.6 7.2 2.3 7.1 1.7 7.1 .8 7.2-.4 7.1-1.1 7.1-1.8 7.2-1.8 7.1-1.7 7.2-1.6 7.1-1.3 7.1-1 7.2-.4 7.1 .1 7.1 .7 7.2 1 7.1M499.8 9.9l-.6 7.1 2.5 7.2 4.7 7.1 5.6 7.1 5.1 7.2 3.7 7.1 1.8 7.1-.3 7.2-1 7.1-2.1 7.2-3.4 7.1-4.1 7.1-3.7 7.2-3.2 7.1-2.6 7.1-1.6 7.2-.8 7.1M499.8 9.9l1.4 7.1 .1 7.2-1.4 7.1-2.2 7.1-2.2 7.2-1.6 7.1-.8 7.1 .2 7.2 1.2 7.1 1.9 7.2 2 7.1 1.7 7.1 .7 7.2 .3 7.1-.3 7.1-.5 7.2-.5 7.1M499.7 9.9l-6.4 7.1-5.2 7.2 0 7.1 5.1 7.1 8.1 7.2 8 7.1 5.7 7.1 2 7.2-.9 7.1-3.5 7.2-5.1 7.1-5.1 7.1-4.1 7.2-2.8 7.1-.3 7.1 2 7.2 2.6 7.1M499.8 9.9l-3.7 7.1-7.8 7.2-7.4 7.1-3.8 7.1 1.6 7.2 5.8 7.1 8.3 7.1 8.8 7.2 6.6 7.1 4.1 7.2 .8 7.1-2.2 7.1-3.3 7.2-3.6 7.1-2.9 7.1-1.4 7.2 .1 7.1M499.8 9.9l6.1 7.1 11.4 7.2 10 7.1 4.7 7.1 0 7.2-8.1 7.1-11.9 7.1-12.3 7.2-12.5 7.1-8.8 7.2-3.5 7.1 2.6 7.1 4.2 7.2 6.5 7.1 6.3 7.1 4.4 7.2 .9 7.1M499.7 9.9l-3.7 7.1 2.9 7.2 8.3 7.1 10.5 7.1 9.1 7.2 4.9 7.1-.1 7.1-4.6 7.2-6.6 7.1-7.9 7.2-7.9 7.1-6.7 7.1-5.2 7.2-1.9 7.1 .9 7.1 3.8 7.2 4.3 7.1M499.7 9.9l2.9 7.1-1.2 7.2-5.1 7.1-6.7 7.1-6 7.2-4 7.1-1.8 7.1 .8 7.2 3.5 7.1 5.3 7.2 5.8 7.1 5.3 7.1 3 7.2 1.2 7.1-.3 7.1-1 7.2-1.6 7.1M499.7 9.9l-5.1 7.1-4.7 7.2-.9 7.1 3 7.1 5.7 7.2 6.2 7.1 5.1 7.1 2.9 7.2 .9 7.1-1.2 7.2-3 7.1-3.7 7.1-3.1 7.2-2.3 7.1-1.6 7.1 .4 7.2 1.5 7.1M499.7 9.9l4.9 7.1-1.8 7.2-8.2 7.1-11.2 7.1-10.2 7.2-7.2 7.1-2.2 7.1 .9 7.2 2.7 7.1 8 7.2 9.5 7.1 9 7.1 6.7 7.2 2.7 7.1 .2 7.1-1.2 7.2-2.5 7.1M499.8 9.9l1.7 7.1 9.5 7.2 12 7.1 9 7.1 2.3 7.2-3.5 7.1-10.5 7.1-12.8 7.2-12.6 7.1-11.2 7.2-6.2 7.1 0 7.1 4.2 7.2 5.6 7.1 6.5 7.1 4.8 7.2 1.2 7.1M499.7 9.9l-6.2 7.1-9.2 7.2-7.5 7.1-3.6 7.1 1.6 7.2 5.3 7.1 7.3 7.1 8.6 7.2 7.5 7.1 5.4 7.2 2.7 7.1 0 7.1-1.7 7.2-2.8 7.1-3.3 7.1-2.4 7.2-1.6 7.1M499.7 9.9l-3.6 7.1-3.9 7.2-1.6 7.1 1.1 7.1 3.4 7.2 4.3 7.1 4.1 7.1 3 7.2 1.6 7.1 .2 7.2-1.2 7.1-2.2 7.1-2.2 7.2-1.8 7.1-1.2 7.1-.5 7.2 .6 7.1M499.8 9.9l-.3 7.1 3.3 7.2 5.5 7.1 6.3 7.1 5.7 7.2 3.7 7.1 1.5 7.1-.9 7.2-1.8 7.1-2.9 7.2-4.1 7.1-4.7 7.1-4 7.2-3.3 7.1-2.4 7.1-1.3 7.2-.3 7.1M499.7 9.9l-.8 7.1 2.8 7.2 5.3 7.1 5.8 7.1 4.4 7.2 1.6 7.1-1.4 7.1-3.6 7.2-4.4 7.1-4.8 7.2-4.3 7.1-3.9 7.1-2.3 7.2-.4 7.1 1.1 7.1 2.5 7.2 2.5 7.1M499.7 9.9l6.8 7.1 4.2 7.2-.4 7.1-4.3 7.1-6.8 7.2-7.4 7.1-6.6 7.1-4.7 7.2-1.8 7.1 1.1 7.2 3.6 7.1 4.9 7.1 5.1 7.2 4.1 7.1 2.6 7.1 .4 7.2-.7 7.1M499.7 9.9l-1 7.1 2.6 7.2 5.2 7.1 6.2 7.1 5.6 7.2 3.8 7.1 1.3 7.1-1.1 7.2-2.1 7.1-3.2 7.2-4.2 7.1-4.6 7.1-3.7 7.2-2.8 7.1-1.7 7.1-.8 7.2 .6 7.1M499.7 9.9l-3.9 7.1-.9 7.2 2.6 7.1 4.7 7.1 5.3 7.2 4.9 7.1 3.6 7.1 1.8 7.2 .8 7.1-.4 7.2-2 7.1-3.3 7.1-3.2 7.2-3.3 7.1-3 7.1-2 7.2-1.6 7.1M499.7 9.9l2.3 7.1-.5 7.2-3.2 7.1-4.6 7.1-3.9 7.2-2.2 7.1-.3 7.1 1.7 7.2 3.4 7.1 4.2 7.2 3.8 7.1 2 7.1 .8 7.2-.3 7.1-1.1 7.1-1.1 7.2-.9 7.1M499.7 9.9l-.4 7.1 4.7 7.2 7.5 7.1 7.6 7.1 4.9 7.2 .7 7.1-3.5 7.1-6.2 7.2-6.9 7.1-6.8 7.2-6.5 7.1-4.2 7.1-1.4 7.2 1 7.1 2.8 7.1 3.9 7.2 2.9 7.1M499.7 9.9l-2.4 7.1-.2 7.2 2.1 7.1 3.5 7.1 3.8 7.2 3.4 7.1 2.4 7.1 1 7.2 .4 7.1-.5 7.2-1.7 7.1-2.4 7.1-2.4 7.2-2.4 7.1-2.1 7.1-1.4 7.2-1 7.1M499.8 9.9l2 7.1 1 7.2-.8 7.1-2 7.1-2.7 7.2-2.5 7.1-1.8 7.1-.7 7.2 .4 7.1 1.5 7.2 2 7.1 2.1 7.1 1.6 7.2 .7 7.1 0 7.1-.2 7.2-.6 7.1M499.8 9.9l1.8 7.1 1.6 7.2 .6 7.1-.3 7.1-1.2 7.2-1.7 7.1-1.8 7.1-1.6 7.2-1.3 7.1-.6 7.2 .1 7.1 .6 7.1 1 7.2 1 7.1 .9 7.1 .7 7.2 .2 7.1M499.8 9.9l2.8 7.1 3.4 7.2 2.5 7.1 1 7.1-.6 7.2-2.1 7.1-3 7.1-3 7.2-2.9 7.1-2.5 7.2-1.4 7.1-.3 7.1 .5 7.2 1.3 7.1 1.5 7.1 1.7 7.2 1.1 7.1M499.8 9.9l-2.6 7.1-5.5 7.2-5.7 7.1-3.6 7.1-.1 7.2 2.7 7.1 4.6 7.1 6 7.2 5.7 7.1 4 7.2 2.2 7.1 0 7.1-1.1 7.2-2 7.1-2.2 7.1-1.6 7.2-.8 7.1M499.7 9.9l-8.5 7.1-9.1 7.2-5.2 7.1-.2 7.1 4.5 7.2 7.2 7.1 8.2 7.1 7.6 7.2 5.8 7.1 3.7 7.2 1 7.1-1.6 7.1-2.7 7.2-3.4 7.1-3.4 7.1-2.4 7.2-1.4 7.1M499.7 9.9l-6.6 7.1-5.1 7.2-1.7 7.1 1.2 7.1 3.4 7.2 4.2 7.1 4.4 7.1 3.7 7.2 3 7.1 2.1 7.2 .9 7.1-.5 7.1-1 7.2-1.7 7.1-2.2 7.1-1.9 7.2-2.1 7.1M499.7 9.9l1.3 7.1-3.2 7.2-6.4 7.1-6.6 7.1-4 7.2-.8 7.1 2.1 7.1 4.9 7.2 6.6 7.1 6.6 7.2 4.2 7.1 1.9 7.1 0 7.2-1.4 7.1-2.1 7.1-1.8 7.2-1.2 7.1M499.7 9.9l5.6 7.1 7.4 7.2 6.3 7.1 4.4 7.1 1.4 7.2-1.7 7.1-4 7.1-5.4 7.2-5.2 7.1-4.9 7.2-4.3 7.1-3.7 7.1-2.1 7.2-.5 7.1 1.1 7.1 2.6 7.2 3.1 7.1M499.7 9.9l-7.9 7.1-9.3 7.2-5.1 7.1 .7 7.1 6.3 7.2 9.3 7.1 9.8 7.1 7.6 7.2 5.1 7.1 1.9 7.2-1.5 7.1-4.1 7.1-4.6 7.2-4.2 7.1-3 7.1-1.4 7.2 .5 7.1M499.6 9.9l9.7 7.1 7.8 7.2 3.1 7.1-.9 7.1-4.4 7.2-6.6 7.1-7.2 7.1-7.2 7.2-6.2 7.1-4.4 7.2-2 7.1 .4 7.1 2.2 7.2 3.4 7.1 4.1 7.1 4.8 7.2 3.6 7.1M499.7 9.9l-5.6 7.1-6 7.2-4.3 7.1-2.1 7.1 .4 7.2 1.7 7.1 2.5 7.1 3.1 7.2 3.6 7.1 3.5 7.2 3.1 7.1 1.8 7.1 .9 7.2 .1 7.1-.5 7.1-.8 7.2-1.3 7.1M499.6 9.9l10.8 7.1 10 7.2 6.1 7.1-3.3 7.1-10.3 7.2-13.9 7.1-14.4 7.1-11.5 7.2-6.2 7.1 2.6 7.2 3.7 7.1 8.4 7.1 9.3 7.2 7.5 7.1 3.1 7.1 .2 7.2-1.9 7.1M499.7 9.9l-3.5 7.1 1 7.2 5.3 7.1 7.3 7.1 7.1 7.2 4.9 7.1 1.7 7.1-1.6 7.2-3.1 7.1-4.6 7.2-5.5 7.1-5.1 7.1-3.6 7.2-3 7.1-1 7.1 1.3 7.2 2.5 7.1M499.7 9.9l2.1 7.1-1.3 7.2-4.4 7.1-5.8 7.1-5.4 7.2-4.2 7.1-3.1 7.1-1.3 7.2 .8 7.1 2.6 7.2 4 7.1 4.7 7.1 4.3 7.2 3.6 7.1 2.6 7.1 1.1 7.2-.2 7.1M499.7 9.9l6.5 7.1 6.1 7.2 1.9 7.1-2.6 7.1-6.4 7.2-8.1 7.1-8 7.1-6 7.2-2.8 7.1 1 7.2 3.9 7.1 5.6 7.1 5.3 7.2 4 7.1 1.1 7.1-.1 7.2-1.3 7.1M499.7 9.9l6.4 7.1 5.8 7.2 3.1 7.1 .6 7.1-1.9 7.2-3.6 7.1-4.4 7.1-4.3 7.2-4.1 7.1-3.6 7.2-2.4 7.1-.9 7.1 .3 7.2 1.4 7.1 2.1 7.1 2.9 7.2 2.7 7.1M499.6 9.9l-9.1 7.1-8.2 7.2-3.5 7.1 1 7.1 4.9 7.2 6.6 7.1 7.2 7.1 6.2 7.2 4.9 7.1 3.2 7.2 1.1 7.1-1.1 7.1-2.1 7.2-2.8 7.1-3.3 7.1-2.6 7.2-2.2 7.1M499.7 9.9l-7.1 7.1-11 7.2-9.6 7.1-5.3 7.1 .6 7.2 4.8 7.1 7.6 7.1 9.6 7.2 10 7.1 7.1 7.2 4.5 7.1 1.3 7.1-.9 7.2-2.5 7.1-3.6 7.1-2.9 7.2-2.5 7.1M499.8 9.9l1 7.1 3.8 7.2 4.8 7.1 4.1 7.1 1.8 7.2-.9 7.1-3.1 7.1-4.5 7.2-4.5 7.1-4.3 7.2-3.6 7.1-1.9 7.1-.1 7.2 1.2 7.1 2.1 7.1 2.4 7.2 1.7 7.1M499.7 9.9l-2.2 7.1 .2 7.2 2.8 7.1 3.9 7.1 4.4 7.2 3.6 7.1 2.5 7.1 .9 7.2 .3 7.1-.8 7.2-2 7.1-2.9 7.1-2.7 7.2-2.7 7.1-2.4 7.1-1.6 7.2-1.2 7.1M499.6 9.9l7.1 7.1 1.8 7.2-4.9 7.1-9.4 7.1-10.4 7.2-8.1 7.1-4.9 7.1-.3 7.2 4.4 7.1 7.6 7.2 9 7.1 8 7.1 4 7.2 1.4 7.1-.9 7.1-1.8 7.2-2.4 7.1M499.7 9.9l7.8 7.1 8.8 7.2 6 7.1 2.4 7.1-1.9 7.2-5.3 7.1-7.2 7.1-7.4 7.2-7.1 7.1-6.2 7.2-3.8 7.1-1.1 7.1 1.1 7.2 2.7 7.1 3.7 7.1 4.4 7.2 3.2 7.1M499.7 9.9l6.8 7.1 10.5 7.2 9.2 7.1 5.7 7.1 .2 7.2-5.1 7.1-8.8 7.1-9.9 7.2-9.2 7.1-9.2 7.2-6 7.1-2.3 7.1 1 7.2 3.5 7.1 4.7 7.1 5.4 7.2 3.6 7.1M499.6 9.9l10.8 7.1 10 7.2 4.9 7.1-1.7 7.1-7.3 7.2-10.6 7.1-11.4 7.1-10.7 7.2-7.8 7.1-3.8 7.2 1.2 7.1 4.3 7.1 5.4 7.2 6.5 7.1 5.7 7.1 3.8 7.2 .9 7.1M499.8 9.9l-.5 7.1 1.4 7.2 2.6 7.1 2.8 7.1 2 7.2 .5 7.1-1 7.1-2.2 7.2-2.4 7.1-2.5 7.2-2.3 7.1-1.6 7.1-.6 7.2 .4 7.1 1 7.1 1.4 7.2 1 7.1M499.7 9.9l-.7 7.1 5.5 7.2 9.2 7.1 9 7.1 5.4 7.2-.3 7.1-5.3 7.1-8.5 7.2-8.9 7.1-8.8 7.2-7.4 7.1-3.5 7.1 .1 7.2 2.9 7.1 4.3 7.1 4.6 7.2 2.5 7.1M499.8 9.9l-.2 7.1-3.3 7.2-5 7.1-4.9 7.1-3.2 7.2-1.1 7.1 .5 7.1 2.4 7.2 3.9 7.1 4.7 7.2 4.4 7.1 3.1 7.1 1.5 7.2 .3 7.1-.7 7.1-1 7.2-1.4 7.1M499.8 9.9l2.9 7.1 3.3 7.2 1.6 7.1-.8 7.1-2.9 7.2-4.1 7.1-4.3 7.1-3.4 7.2-1.7 7.1 .2 7.2 1.9 7.1 2.8 7.1 2.8 7.2 1.9 7.1 .6 7.1-.1 7.2-.7 7.1M499.8 9.9l-5.3 7.1-11 7.2-11.3 7.1-6.4 7.1-1.7 7.2 3.7 7.1 7.8 7.1 10.7 7.2 11.6 7.1 8.6 7.2 5.4 7.1 1.5 7.1-1 7.2-3.4 7.1-3.6 7.1-3.2 7.2-2.4 7.1M499.8 9.9l-2.9 7.1-4.9 7.2-4.6 7.1-3.3 7.1-.9 7.2 .9 7.1 2.1 7.1 3.3 7.2 4.1 7.1 4.1 7.2 3.3 7.1 1.7 7.1 .7 7.2-.2 7.1-.9 7.1-1.2 7.2-1.3 7.1M499.8 9.9l-2.2 7.1-2 7.2-.9 7.1 .3 7.1 1.4 7.2 1.8 7.1 1.9 7.1 1.6 7.2 1.2 7.1 .6 7.2 .1 7.1-.5 7.1-.7 7.2-.8 7.1-.8 7.1-.6 7.2-.4 7.1M499.8 9.9l-3.2 7.1-8.5 7.2-9.8 7.1-7.9 7.1-3.4 7.2 .8 7.1 3.8 7.1 6.9 7.2 8.8 7.1 9.1 7.2 6.7 7.1 3.6 7.1 1.3 7.2-.7 7.1-2.4 7.1-2.5 7.2-2.6 7.1M499.7 9.9l5.5 7.1 .1 7.2-5.4 7.1-9 7.1-9.2 7.2-7.6 7.1-5.5 7.1-2.2 7.2 1.3 7.1 4.6 7.2 6.8 7.1 7.5 7.1 6.7 7.2 5.1 7.1 2.3 7.1 .3 7.2-1.2 7.1M499.7 9.9l-5.7 7.1-7.1 7.2-5.6 7.1-2.9 7.1 .3 7.2 2.5 7.1 3.7 7.1 4.8 7.2 5.2 7.1 5 7.2 3.1 7.1 1.7 7.1 .5 7.2-.6 7.1-1.4 7.1-1.6 7.2-1.8 7.1M499.7 9.9l-2.3 7.1-.6 7.2 1.5 7.1 2.8 7.1 3.2 7.2 2.9 7.1 2.2 7.1 1.1 7.2 .5 7.1-.4 7.2-1.2 7.1-2 7.1-1.9 7.2-1.9 7.1-1.8 7.1-1.2 7.2-.8 7.1M499.7 9.9l3.1 7.1-4.9 7.2-11.2 7.1-12.3 7.1-8.1 7.2-2.3 7.1 3 7.1 8.3 7.2 11.7 7.1 12.2 7.2 7.9 7.1 3.8 7.1 .4 7.2-2.3 7.1-3.8 7.1-3.2 7.2-2.2 7.1M499.8 9.9l-2.3 7.1-7.9 7.2-10.3 7.1-9.5 7.1-5.5 7.2-.5 7.1 0 7.1 4.7 7.2 7.5 7.1 8.9 7.2 8.8 7.1 6.9 7.1 3.4 7.2 1.1 7.1-.8 7.1-1.8 7.2-2.7 7.1" stroke="#000" stroke-opacity="0.85" stroke-width="0.42" fill="none"/>
<path d="M499.8 80.0 498.2 82.1 496.0 85.0 494.0 88.0 492.4 90.6 491.0 93.3 490.0 96.0 489.3 98.9 489.0 101.9 489.0 105.0 489.4 108.3 490.1 111.7 491.0 115.0 492.2 118.1 493.5 121.2 495.0 124.0 496.7 126.8 498.5 129.4 499.8 131.2 499.8 131.2 501.0 129.4 502.8 126.8 504.5 124.0 506.0 121.2 507.4 118.1 508.5 115.0 509.1 111.7 509.4 108.3 509.5 105.0 509.6 101.9 509.4 98.9 509.0 96.0 508.1 93.3 506.9 90.6 505.5 88.0 503.6 85.0 501.4 82.1 499.8 80.0Z" fill="#000" fill-opacity="1.0" filter="url(#bl)"/>
<path d="M499.6 9.9 498.6 11.0 497.2 12.7 495.0 15.0 491.6 18.2 487.5 22.1 484.0 26.2 481.7 30.6 480.0 35.3 479.0 39.6 478.6 43.3 478.8 46.7 479.5 50.0 480.9 53.4 482.9 56.7 485.0 60.0 487.2 63.3 489.6 66.7 492.0 70.0 494.8 73.7 497.7 77.4 499.8 80.0 499.8 80.0 501.7 77.4 504.4 73.7 507.0 70.0 509.3 66.7 511.5 63.3 513.5 60.0 515.1 56.7 516.5 53.4 517.5 50.0 518.1 46.7 518.3 43.3 518.0 39.6 517.2 35.3 515.9 30.6 514.0 26.2 510.9 22.1 507.1 18.2 504.0 15.0 502.0 12.7 500.5 11.0 499.6 9.9Z" fill="#000" fill-opacity="0.7" filter="url(#bl)"/>
<path d="M499.9 28.5l.1 .6M519.2 30.7l-.4 .6M500.7 121.3l-.2 1.1M493.7 89.0l-.6 1.3M500.0 89.9l.4 1.1M498.5 125.0l.1 1.1M504.4 53.9l-.4 1.3M494.1 112.2l0 .9M512.4 23.3l-.1 .7M491.9 90.2l.4 .7M494.9 17.6l-.2 1.1M501.9 116.6l-.1 .6M523.3 32.0l-.1 1.3M489.2 20.1l.5 1.1M489.3 48.9l-.4 .7M505.0 16.7l0 .7M492.5 97.7l-.6 1M493.8 115.4l.3 .7M483.6 24.4l-.3 1.3M513.1 69.8l-.3 .9M526.6 43.1l.5 .8M491.7 63.3l.2 .6M497.4 21.5l-.4 1.4M500.5 97.9l.2 1.3M508.3 102.4l-.5 1.1M497.3 30.2l.5 1.4M489.4 99.9l-.1 .8M499.0 127.1l-.3 .9M509.2 20.8l.1 .7M484.5 70.4l.1 .8M492.8 18.3l.1 1.2M507.4 50.7l-.1 .7M493.7 49.6l.3 .6M502.0 23.7l.8 1.3M488.8 93.2l.5 1.2M498.2 30.2l-.7 1.2M506.9 95.3l.3 .8M494.5 103.4l-.4 .9M492.1 70.3l.2 1.2M506.3 41.1l-.2 1.3M516.4 46.8l-.1 1.1M500.2 90.2l-.5 1.5M493.9 24.8l0 .6M513.7 31.5l.4 1.2M502.7 116.1l-.3 1.2M513.1 52.4l-.1 .7M502.2 113.2l.3 1.1M498.4 102.6l.1 .7M510.2 76.8l.3 1.4M514.1 70.1l-.7 1.3M478.1 56.0l.2 1M515.6 62.4l-.5 1.1M501.0 60.8l0 .7M513.0 71.9l-.2 .6M498.9 21.6l.3 .5M499.9 126.2l-.4 .9M511.1 37.4l0 .9M520.2 42.8l.3 1M511.0 59.8l.4 .6M493.2 31.9l0 .7M493.6 20.0l-.2 1.3M486.2 83.0l-.5 .9M505.4 113.0l-.2 1.5M498.8 119.2l.3 .9M503.2 31.3l-.6 1.1M507.3 105.6l0 .7M504.0 116.2l.6 1M496.4 90.2l-.3 .8M495.3 95.6l.3 1.1M519.6 64.8l-.4 1M520.5 32.0l0 .9M504.3 33.0l-.1 .7M498.2 17.6l.1 1.1M504.6 115.9l.7 1.2M500.9 68.0l-.1 1M505.8 18.6l-.2 .6M508.6 66.8l-.1 1M490.7 88.5l-.7 1M512.6 74.0l-.1 1.4M493.9 15.9l.1 .8M490.1 21.5l-.1 .9M512.4 77.8l-.1 .8M484.7 79.4l-.1 .9M477.1 57.8l.1 1.2M509.8 98.8l-.2 1.2M487.6 64.0l.6 1.2M502.4 120.7l.3 .6M496.3 15.7l-.1 1.3M500.4 63.6l.2 .6M488.0 90.8l-.4 1.3M497.2 91.3l-.3 1.4M472.6 45.0l-.2 .6M492.4 105.8l.4 .7M504.3 48.6l-.2 1M495.9 25.7l-.4 .7M497.2 116.9l-.3 1.2M496.9 113.9l-.2 1.3M501.8 103.7l-.3 .7M504.0 99.8l.6 1.2M483.0 61.6l.6 1.2M505.6 79.2l-.1 .9M499.5 79.1l.4 1.5M497.6 109.9l-.2 1.5M514.4 58.6l-.5 .9M511.0 72.4l.3 .7M503.6 83.8l-.6 1.3M515.1 76.6l-.4 1M507.4 50.5l.1 1.1M499.7 50.7l-.2 1.5M498.9 66.2l-.2 .8M498.4 122.0l.5 1.1M498.4 125.0l.7 1.2M506.6 78.3l.3 1M492.2 85.8l-.7 1.1M515.7 67.7l-.4 1.4M501.2 125.7l.4 .6M486.5 32.6l-.1 .7M477.6 31.0l.5 .8M498.6 84.8l.4 1.3M501.4 57.3l-.4 .8M489.0 39.1l-.2 1.1M490.0 51.6l.2 .6M495.7 14.5l.5 1.1M510.3 96.4l-.5 1.4M500.6 41.4l.3 1.4M498.2 42.0l-.5 .8M501.5 125.0l.1 1.4M497.7 116.1l.6 .9M501.1 31.9l.1 1.3M487.6 89.9l.3 1.5M512.2 89.8l0 1.4M517.2 29.8l-.1 1.5M506.4 50.2l.5 1.2M513.4 84.1l-.3 .6M514.9 76.4l.2 .9M498.0 26.1l0 1.1M493.4 84.1l.4 .8M494.3 26.0l.4 .7M523.9 45.4l-.3 1.4M508.0 19.0l-.2 .7M510.7 98.0l.7 1.2M504.9 117.5l0 .7M497.8 110.1l-.2 1.1M491.6 17.9l-.3 1.1M509.8 98.8l.6 1.4M506.4 86.0l.1 .7M506.6 20.9l-.5 1.3M480.1 66.5l.1 1M493.2 22.3l-.2 .9M491.4 94.0l-.1 1.2M496.7 121.1l-.4 .7M481.0 38.9l-.4 .7M498.4 39.2l.2 .9M479.8 33.0l-.2 .7M514.2 68.4l.2 .8M492.3 18.0l-.1 1M488.9 91.2l-.4 1.2M500.5 78.3l.3 .6M503.0 36.0l.1 1.6M500.2 124.6l.4 1.2M504.2 29.0l-.2 .9M476.6 31.6l.5 1.2M494.8 99.1l-.1 .8M510.0 82.1l.5 1.4M510.9 43.4l-.5 1M501.6 26.4l0 .9M510.9 53.5l0 1M491.5 26.7l.6 1.4M518.8 56.2l.4 .7M510.7 44.9l-.4 1.5M511.7 55.3l.2 .8M497.0 112.0l-.3 .6M505.4 65.1l-.4 1.4M519.3 44.2l-.5 .7M497.2 32.0l-.2 1M500.8 110.4l.1 1M499.5 105.4l.4 1.4M498.0 83.2l-.4 1.5M505.9 100.6l-.3 1M496.2 114.0l.4 1.1M492.7 38.7l-.6 1.1M488.4 96.3l-.3 1.3M501.5 36.6l.4 1.1M516.6 27.7l.3 1.1M504.0 51.6l-.1 .7M481.4 27.7l-.3 .8M502.1 85.9l.2 1.4M496.2 24.7l-.5 .9M487.0 22.8l-.5 .9M494.8 100.4l.2 .8M497.9 46.4l-.5 .9M509.9 80.0l-.7 1.2M502.5 78.4l-.8 1.3M502.2 45.3l.1 1.5M514.5 82.0l-.4 1.2M500.4 79.3l.2 1.1M507.2 52.1l-.5 .9M488.0 65.2l.1 1.3M491.5 28.1l-.6 1M491.7 23.2l-.1 1M507.6 17.6l-.4 1.1M504.8 39.1l-.2 .9M503.3 67.6l.2 1.3M476.2 44.3l-.3 .9M497.4 82.7l-.2 .7M488.3 81.5l0 1.3M490.2 84.5l-.3 1.5M506.0 24.2l-.1 1.2M481.1 58.5l0 .6M504.0 111.8l-.2 1.1M516.6 73.7l-.5 .8M513.4 60.0l.3 1M501.6 15.2l-.1 .7M498.3 85.4l-.2 .8M491.1 72.9l-.2 1.5M490.5 68.0l0 1.5M502.2 112.0l.6 1.2M497.8 91.0l-.5 1.2M512.9 85.8l-.3 1.4M523.9 38.7l.4 .5M527.0 50.7l.7 1.1M478.6 29.1l-.5 1.5M498.1 105.1l.5 1.4M520.6 47.9l-.3 .9M493.1 19.0l0 .6M489.0 75.7l.2 .7M487.0 37.4l.1 1.4M504.9 99.2l.2 1.1M482.1 52.7l.4 .9M488.0 87.6l-.1 .7M512.0 54.1l-.2 1.3M495.2 27.9l-.1 1.1M510.5 39.8l.6 1.3M499.8 17.4l-.2 1.2M507.2 23.3l-.2 1.5M498.9 16.1l0 1.4M492.5 99.6l-.3 1.3M488.9 61.5l.7 1.3M502.2 54.2l.4 .7M504.0 116.9l.3 1.2" stroke="#fff" stroke-opacity="0.45" stroke-width="0.5" fill="none"/>
<path d="M499.6 9.9 497.9 11.0 495.6 12.7 492.7 14.6 489.7 16.6 486.3 18.8 482.4 21.2 478.6 23.7 475.3 26.2 472.6 28.6 470.2 31.1 468.3 33.5 466.7 35.7 465.6 37.8 465 39.7 464.7 41.5 464.7 43.4 465 45.3 465.6 47.2 466.4 49.2 467.6 51.1 469 53.1 470.8 55.0 472.8 57.0 475 59.1 477.5 61.3 480.4 63.7 483.3 66.0 486 68.2 488.5 70.2 490.8 72.0 493 73.7 495.1 75.5 497.1 77.3 499 79.0 500.8 80.8 502.4 82.8 504 85.0 505.4 87.3 506.7 89.7 507.8 92.0 508.6 94.3 509.1 96.6 509.5 98.8 509.7 101.1 509.7 103.3 509.6 105.5 509.3 107.7 508.8 110.0 508.1 112.4 507.2 114.9 506.1 117.4 505 120.0 503.7 123.0 502.2 126.2 500.8 129.2 499.8 131.2" stroke="#f00" stroke-width="1.05" fill="none"/>
<path d="M499.6 9.9 501.4 11.0 503.9 12.7 506.8 14.6 509.8 16.6 513.1 18.8 516.7 21.2 520.2 23.7 523.2 26.2 525.6 28.6 527.7 31.1 529.4 33.5 530.8 35.7 532 37.8 532.9 39.7 533.5 41.5 533.7 43.4 533.5 45.3 532.8 47.2 531.9 49.2 530.8 51.1 529.6 53.1 528.2 55.0 526.5 57.0 524.3 59.1 521.5 61.3 518.1 63.7 514.6 66.0 511.5 68.2 508.9 70.2 506.6 72.0 504.5 73.7 502.4 75.5 500.4 77.3 498.5 79.0 496.8 80.8 495.1 82.8 493.5 85.0 492.1 87.3 490.7 89.7 489.6 92.0 488.7 94.3 487.9 96.6 487.3 98.8 486.9 101.1 486.6 103.3 486.4 105.5 486.5 107.7 486.9 110.0 487.8 112.4 489 114.9 490.4 117.4 492 120.0 493.9 123.0 496.2 126.2 498.3 129.2 499.8 131.2" stroke="#f00" stroke-width="1.05" fill="none"/>
<path d="M499.6 9.9 499.1 10.2 498.3 10.5 497.2 11.2 495.4 12.7 492.5 15.3 488.8 18.8 485 22.6 482 26.2 479.8 29.6 478.2 33.1 477 36.5 476.2 39.6 476 42.4 476.2 45.0 476.8 47.5 477.5 50.0 478.3 52.5 479.4 55.0 480.6 57.5 482 60.0 483.6 62.5 485.3 65.1 487.2 67.6 489 70.0 490.8 72.2 492.7 74.2 494.5 76.2 496 78.0 497.2 79.6 498.2 81.1 499.1 82.5 500 84.0 501 85.4 502.1 86.8 503.1 88.2 504 90.0 504.7 92.2 505.3 94.6 505.8 97.3 506 100.0 506 102.9 505.8 106.0 505.4 109.1 505 112.0 504.6 114.7 504.1 117.2 503.6 119.6 503 122.0 502.2 124.6 501.3 127.2 500.4 129.6 499.8 131.2" stroke="#f00" stroke-width="1.05" fill="none"/>
<path d="M499.6 9.9 500 10.2 500.6 10.5 501.6 11.2 503.1 12.7 505.5 15.3 508.7 18.8 511.9 22.6 514.6 26.2 516.6 29.6 518.2 33.1 519.5 36.5 520.3 39.6 520.5 42.4 520.2 45.0 519.6 47.5 519 50.0 518.4 52.5 517.8 55.0 517 57.5 516 60.0 514.7 62.5 513.2 65.1 511.6 67.6 510 70.0 508.3 72.2 506.6 74.2 504.9 76.2 503.5 78.0 502.4 79.6 501.6 81.1 500.9 82.5 500 84.0 498.9 85.4 497.7 86.8 496.5 88.2 495.5 90.0 494.8 92.2 494.2 94.6 493.7 97.3 493.5 100.0 493.5 102.9 493.8 106.0 494.1 109.1 494.5 112.0 494.9 114.7 495.4 117.2 495.9 119.6 496.5 122.0 497.3 124.6 498.3 127.2 499.2 129.6 499.8 131.2" stroke="#f00" stroke-width="1.05" fill="none"/>
<path d="M499.6 9.9 498.7 10.8 497.4 12.0 495.8 13.5 494 15.0 492 16.6 489.7 18.3 487.3 20.1 485 22.0 482.8 23.7 480.6 25.4 478.4 27.3 476.2 30.0 473.7 33.7 471.1 38.0 468.6 42.7 466.7 47.2 465.4 51.7 464.5 56.5 463.9 60.9 463.8 64.5 464.2 67.1 465 68.8 466 70.3 467 72.0 467.9 74.0 468.9 76.1 470 78.1 471 80.0 471.9 81.6 472.8 83.1 473.8 84.6 475 86.5 476.6 88.9 478.6 91.6 480.5 94.5 482.3 97.4 483.8 100.5 485.2 103.8 486.5 107.0 487.8 110.0 489.1 112.7 490.3 115.1 491.6 117.5 493 120.0 494.7 123.0 496.7 126.2 498.5 129.2 499.8 131.2" stroke="#00c400" stroke-opacity="1" stroke-width="1.0" fill="none"/>
<path d="M499.6 9.9 501.9 11.2 505.1 12.9 508.9 15.3 512.6 18.5 516.5 23.0 520.8 28.5 524.8 34.3 528 39.6 530.1 44.4 531.5 49.0 532.4 53.2 532.8 56.8 532.7 59.5 532 61.4 531 63.1 530 65.0 528.9 67.0 527.7 69.1 526.4 71.2 525 73.7 523.6 76.7 522 80.0 520.5 83.3 518.8 86.5 517 89.3 515.1 92.0 513.2 94.6 511.5 97.4 509.9 100.5 508.5 103.8 507.2 107.0 506 110.0 505.1 112.7 504.4 115.1 503.7 117.5 503 120.0 502.1 123.0 501.2 126.2 500.4 129.2 499.8 131.2" stroke="#00c400" stroke-opacity="1" stroke-width="1.0" fill="none"/>
</g>
<rect x="459.5" y="7.5" width="80.0" height="124.0" fill="none" stroke="#747474" stroke-width="0.75"/>
<path d="M459.9,131.8v-2.0M459.9,7.6v2.0M466.5,131.8v-1.2M466.5,7.6v1.2M473.2,131.8v-2.0M473.2,7.6v2.0M479.9,131.8v-1.2M479.9,7.6v1.2M486.5,131.8v-2.0M486.5,7.6v2.0M493.1,131.8v-1.2M493.1,7.6v1.2M499.8,131.8v-2.0M499.8,7.6v2.0M506.5,131.8v-1.2M506.5,7.6v1.2M513.1,131.8v-2.0M513.1,7.6v2.0M519.8,131.8v-1.2M519.8,7.6v1.2M526.4,131.8v-2.0M526.4,7.6v2.0M533.1,131.8v-1.2M533.1,7.6v1.2M539.7,131.8v-2.0M539.7,7.6v2.0M459.9,131.8h2.0M539.7,131.8h-2.0M459.9,119.4h1.2M539.7,119.4h-1.2M459.9,107.0h2.0M539.7,107.0h-2.0M459.9,94.5h1.2M539.7,94.5h-1.2M459.9,82.1h2.0M539.7,82.1h-2.0M459.9,69.7h1.2M539.7,69.7h-1.2M459.9,57.3h2.0M539.7,57.3h-2.0M459.9,44.9h1.2M539.7,44.9h-1.2M459.9,32.4h2.0M539.7,32.4h-2.0M459.9,20.0h1.2M539.7,20.0h-1.2M459.9,7.6h2.0M539.7,7.6h-2.0" stroke="#747474" stroke-width="0.6" fill="none"/>
<g class="tl"><text x="459.9" y="139.0" text-anchor="middle">-1.5</text><text x="473.2" y="139.0" text-anchor="middle">-1.0</text><text x="486.5" y="139.0" text-anchor="middle">-0.5</text><text x="499.8" y="139.0" text-anchor="middle">0.0</text><text x="513.1" y="139.0" text-anchor="middle">0.5</text><text x="526.4" y="139.0" text-anchor="middle">1.0</text><text x="539.7" y="139.0" text-anchor="middle">1.5</text><text x="458.6" y="133.8" text-anchor="end">0.0</text><text x="458.6" y="109.0" text-anchor="end">0.2</text><text x="458.6" y="84.1" text-anchor="end">0.4</text><text x="458.6" y="59.3" text-anchor="end">0.6</text><text x="458.6" y="34.4" text-anchor="end">0.8</text><text x="458.6" y="9.6" text-anchor="end">1.0</text></g>
<text class="al" x="495.5" y="144.1">A<tspan font-size="4" dy="1.5">y</tspan></text>
<text class="al" transform="translate(451.6,68.5) rotate(-90)" text-anchor="middle">z/L</text>
<rect x="513" y="119" width="25.5" height="8.5" fill="#fff" stroke="#aaa" stroke-width="0.45"/>
<path d="M514.2,121.4h3.4" stroke="#00d000" stroke-width="1"/>
<path d="M514.2,124.7h3.4" stroke="#f22" stroke-width="1"/>
<text class="lg" x="517.8" y="122.6" font-size="3.3" textLength="14.9" lengthAdjust="spacingAndGlyphs">First -order</text>
<text class="lg" x="517.8" y="125.9" font-size="3.3" textLength="20.2" lengthAdjust="spacingAndGlyphs">Second -order</text>
<text class="cap" x="468.8" y="164.3">(<tspan font-weight="bold">d</tspan>) f = 0.25f<tspan font-size="6.5" dy="0.8">1</tspan></text><g clip-path="url(#ce)">
<path d="M133.7 171.6 129.3 173.6 123.1 176.6 117.2 179.7 112.2 182.9 107.5 186.2 103.6 189.4 100.9 192.2 99.0 194.8 97.7 197.2 97.1 199.3 97.1 201.1 97.5 203.0 98.2 204.9 99.2 206.8 100.5 208.9 102.2 211.4 104.1 214.0 106.0 216.7 107.7 219.3 109.3 221.8 110.5 224.4 111.2 226.9 111.6 229.3 111.8 232.0 111.7 235.1 111.4 238.4 111.3 241.7 111.5 244.9 111.8 248.2 112.3 251.4 113.1 254.7 114.1 257.9 115.2 261.2 116.4 264.4 117.6 267.7 119.1 270.9 120.9 274.1 122.9 277.4 124.9 280.6 127.1 284.0 129.4 287.5 131.2 290.3 132.4 292.3 133.2 293.7 133.7 294.6 133.7 294.6 134.1 293.7 134.7 292.3 135.6 290.3 137.0 287.5 138.8 284.0 140.5 280.6 142.1 277.4 143.8 274.1 145.4 270.9 147.0 267.7 148.7 264.4 150.2 261.2 151.7 257.9 153.0 254.7 154.1 251.4 154.6 248.2 154.7 244.9 155.1 241.7 155.9 238.4 156.9 235.1 158.0 232.0 159.4 229.3 160.8 226.9 162.0 224.4 162.5 221.8 162.6 219.3 163.0 216.7 163.9 214.0 164.9 211.4 166.0 208.9 167.0 206.8 168.0 204.9 168.7 203.0 169.1 201.1 169.2 199.3 168.7 197.2 167.5 194.8 165.6 192.2 162.9 189.4 159.3 186.2 155.0 182.9 150.2 179.7 144.4 176.6 138.1 173.6 133.7 171.6Z" fill="#d4d4d4"/>
<path d="M133.6 171.6l-.4 7.2 8.6 7.3 12.2 7.2 9 7.2 .7 7.3-4.5 7.2-6.8 7.2-9.5 7.3-9.1 7.2-7.8 7.3-6.1 7.2-2.5 7.2 1 7.3 3.9 7.2 5.4 7.2 4.3 7.3 1.5 7.2M133.6 171.6l5.6 7.2-1.8 7.3-6.4 7.2-8.3 7.2-6.3 7.3-2.6 7.2-.2 7.2-.1 7.3-.4 7.2 .7 7.3 2.5 7.2 4.4 7.2 4.7 7.3 4.4 7.2 3.2 7.2 1.1 7.3-.5 7.2M133.6 171.6l7.9 7.2 9.5 7.3 9.5 7.2 6.2 7.2-.2 7.3-2.9 7.2-1.3 7.2-3.2 7.3-4.6 7.2-4.1 7.3-3.6 7.2-4.9 7.2-4.3 7.3-3.2 7.2-1.9 7.2-.3 7.3 1.4 7.2M133.6 171.6l-3.1 7.2 1.9 7.3 5.1 7.2 6.1 7.2 4.4 7.3 3.1 7.2 2.8 7.2 .6 7.3-.3 7.2-.2 7.3-.1 7.2-2.7 7.2-3.6 7.3-4.1 7.2-3.9 7.2-3.4 7.3-2.6 7.2M133.5 171.6l-5.4 7.2-8.8 7.3-9.7 7.2-6.8 7.2-.8 7.3 3.6 7.2 4.7 7.2 3.5 7.3 2.6 7.2 3.4 7.3 4.3 7.2 4.9 7.2 4.3 7.3 2.5 7.2 .7 7.2-.8 7.3-2 7.2M133.6 171.6l8 7.2 11.2 7.3 11 7.2 4.9 7.2-2.2 7.3-3.4 7.2-5.4 7.2-7.8 7.3-7.7 7.2-6.7 7.3-6.2 7.2-4.9 7.2-2.7 7.3-.1 7.2 3 7.2 4.7 7.3 4.4 7.2M133.6 171.6l4.3 7.2-2.2 7.3-6.4 7.2-7.9 7.2-5.7 7.3-2.3 7.2-.3 7.2-.4 7.3-1.1 7.2-.1 7.3 1.1 7.2 3.5 7.2 4.3 7.3 4.6 7.2 4.3 7.2 3.1 7.3 1.1 7.2M133.7 171.6l14.1 7.2 4 7.3-5.6 7.2-12.8 7.2-13.3 7.3-7.7 7.2-2.2 7.2 1.2 7.3 .7 7.2 4.8 7.3 7.5 7.2 8.4 7.2 6 7.3 2.4 7.2-.9 7.2-3.2 7.3-3.4 7.2M133.6 171.6l13.9 7.2 11 7.3 5.1 7.2-5 7.2-12.4 7.3-12.8 7.2-9.3 7.2-6.5 7.3-4.6 7.2-1.5 7.3 2.1 7.2 6.1 7.2 7.3 7.3 6.4 7.2 2.8 7.2-.2 7.3-2.3 7.2M133.7 171.6l-13.1 7.2-10.4 7.3-6.2 7.2 .5 7.2 6.8 7.3 8.8 7.2 7.5 7.2 5.9 7.3 5.6 7.2 4.3 7.3 3.7 7.2 .7 7.2-1.3 7.3-2.9 7.2-3.7 7.2-3.6 7.3-2.7 7.2M133.6 171.6l-11 7.2-12.7 7.3-9.3 7.2-3 7.2 6.2 7.3 10.5 7.2 9.9 7.2 8 7.3 7.6 7.2 6.1 7.3 4.5 7.2 .5 7.2-2.9 7.3-3.8 7.2-4.8 7.2-3.8 7.3-2 7.2M133.5 171.6l-4 7.2-7.7 7.3-9.2 7.2-7.3 7.2-2 7.3 2 7.2 3.9 7.2 2.2 7.3 .4 7.2 1.7 7.3 3.1 7.2 4.4 7.2 4.5 7.3 4.1 7.2 3.1 7.2 1.2 7.3-.3 7.2M133.7 171.6l13.1 7.2 8.4 7.3 1.4 7.2-7.1 7.2-12 7.3-10.5 7.2-6.7 7.2-3.9 7.3-2.4 7.2 .5 7.3 3.9 7.2 6.5 7.2 6.7 7.3 4.4 7.2 1.5 7.2-1.2 7.3-2.6 7.2M133.6 171.6l-2.7 7.2 4.5 7.3 8.5 7.2 8.9 7.2 4.9 7.3 2 7.2 .9 7.2-2.7 7.3-4 7.2-4.1 7.3-4.3 7.2-5.5 7.2-4.8 7.3-3.5 7.2-1.6 7.2 .9 7.3 2.7 7.2M133.6 171.6l14 7.2 10.9 7.3 7.3 7.2-2.1 7.2-10.6 7.3-11.8 7.2-10.5 7.2-7.6 7.3-6.4 7.2-4.5 7.3 0 7.2 2.1 7.2 5.4 7.3 6.3 7.2 5.5 7.2 2.5 7.3-.5 7.2M133.7 171.6l-14.7 7.2-10.7 7.3-4.3 7.2 4.1 7.2 10.4 7.3 10.9 7.2 9 7.2 7.3 7.3 4.6 7.2 2.7 7.3 1.1 7.2-2.8 7.2-4.5 7.3-5.3 7.2-4.5 7.2-2.9 7.3-.6 7.2M133.6 171.6l-4.9 7.2 4.2 7.3 9.9 7.2 10.9 7.2 6.5 7.3 2.5 7.2-.4 7.2-3 7.3-4.7 7.2-5.7 7.3-5.8 7.2-6.7 7.2-5.4 7.3-3.4 7.2-.4 7.2 2.5 7.3 4 7.2M133.7 171.6l8.4 7.2 .7 7.3-4.6 7.2-7.7 7.2-7.5 7.3-4.5 7.2-2.2 7.2-1.9 7.3-2.3 7.2-.6 7.3 .8 7.2 2.1 7.2 3.7 7.3 4.8 7.2 5 7.2 3.8 7.3 1.8 7.2M133.6 171.6l-8.3 7.2-11.6 7.3-11.1 7.2-5 7.2 2.3 7.3 6.4 7.2 7.9 7.2 6.4 7.3 5.8 7.2 6.3 7.3 6 7.2 4 7.2 1.6 7.3-.8 7.2-2.8 7.2-3.6 7.3-3.4 7.2M133.6 171.6l-.3 7.2-8.6 7.3-11.8 7.2-8.6 7.2-.1 7.3 6.4 7.2 8.3 7.2 7.7 7.3 7.5 7.2 7.1 7.3 5.4 7.2 1.4 7.2-1.9 7.3-4 7.2-4.3 7.2-3.2 7.3-1.1 7.2M133.6 171.6l-10 7.2-11.6 7.3-9.8 7.2-3.8 7.2 4.2 7.3 8.2 7.2 8.3 7.2 6.6 7.3 6.1 7.2 6 7.3 5.2 7.2 2.7 7.2 .2 7.3-2 7.2-3.3 7.2-3.8 7.3-3.1 7.2M133.7 171.6l-14.3 7.2-8.7 7.3-1.6 7.2 6.1 7.2 10.7 7.3 10 7.2 8.4 7.2 5.6 7.3 2.8 7.2 1.1 7.3-.2 7.2-4.1 7.2-5.3 7.3-5.2 7.2-3.9 7.2-1.9 7.3 .4 7.2M133.6 171.6l-2.6 7.2 8.2 7.3 13.4 7.2 11.5 7.2 2.4 7.3-2.9 7.2-5.2 7.2-9.8 7.3-10 7.2-9 7.3-7.8 7.2-4.4 7.2-.4 7.3 3.3 7.2 5.3 7.2 5.3 7.3 2.7 7.2M133.6 171.6l2.2 7.2-5.3 7.3-9.5 7.2-9.7 7.2-5 7.3 0 7.2 2.9 7.2 2.2 7.3 1.2 7.2 2.9 7.3 4.7 7.2 5.8 7.2 5.3 7.3 3.7 7.2 1.4 7.2-.6 7.3-2.1 7.2M133.7 171.6l10.6 7.2 .2 7.3-8.2 7.2-12.8 7.2-10.2 7.3-3.6 7.2 1.3 7.2 3 7.3 4.2 7.2 6.4 7.3 7.8 7.2 6.7 7.2 3.5 7.3 .1 7.2-2.5 7.2-3.6 7.3-3 7.2M133.5 171.6l-.8 7.2-7.6 7.3-10.5 7.2-8.2 7.2-1.5 7.3 4.1 7.2 6 7.2 5.5 7.3 5.4 7.2 6 7.3 6 7.2 4.1 7.2 1.5 7.3-1.1 7.2-2.6 7.2-3.4 7.3-2.8 7.2M133.5 171.6l0 7.2-4.7 7.3-7.1 7.2-6.8 7.2-3.3 7.3 .1 7.2 1.6 7.2 1 7.3 .3 7.2 .9 7.3 2.2 7.2 3.7 7.2 4 7.3 3.8 7.2 2.9 7.2 1.5 7.3-.1 7.2M133.6 171.6l-4.7 7.2 2.6 7.3 7.4 7.2 8.7 7.2 6.1 7.3 3.6 7.2 2.7 7.2-.7 7.3-2.7 7.2-2.2 7.3-2.6 7.2-5.1 7.2-5.2 7.3-4.4 7.2-2.9 7.2-1.4 7.3 .8 7.2M133.7 171.6l14.6 7.2 10.2 7.3 3.7 7.2-6 7.2-12.5 7.3-12.2 7.2-8.6 7.2-5.9 7.3-4.3 7.2-1.2 7.3 1.9 7.2 5.8 7.2 7.1 7.3 6.3 7.2 3.1 7.2 .1 7.3-2.1 7.2M133.6 171.6l-12.7 7.2-11.8 7.3-7.5 7.2 .3 7.2 7.9 7.3 10.4 7.2 9 7.2 7.6 7.3 6.4 7.2 4.7 7.3 3.3 7.2-.6 7.2-3 7.3-4.4 7.2-4.5 7.2-3.5 7.3-1.7 7.2M133.5 171.6l4.7 7.2 10.7 7.3 11.1 7.2 5.2 7.2-3.9 7.3-7.9 7.2-9.2 7.2-9.9 7.3-7.7 7.2-6.6 7.3-3.9 7.2 .2 7.2 3.3 7.3 5.2 7.2 5.4 7.2 3.2 7.3 .2 7.2M133.7 171.6l12.9 7.2 9 7.3 5.5 7.2 .2 7.2-4.7 7.3-5.6 7.2-4.9 7.2-5.3 7.3-4.7 7.2-3.9 7.3-3.6 7.2-2.6 7.2-1.4 7.3 .1 7.2 2 7.2 3.3 7.3 3.7 7.2M133.5 171.6l-7.3 7.2-12.4 7.3-11.4 7.2-3.9 7.2 5.9 7.3 10.9 7.2 10.7 7.2 9 7.3 8.1 7.2 5.7 7.3 3.5 7.2-1.3 7.2-4.3 7.3-5.5 7.2-4.8 7.2-2.7 7.3-.1 7.2M133.6 171.6l-.6 7.2-9.5 7.3-13.1 7.2-9.6 7.2-.7 7.3 6.4 7.2 8.6 7.2 8 7.3 7.8 7.2 7.9 7.3 6.7 7.2 2.9 7.2-.8 7.3-3.4 7.2-4.5 7.2-4 7.3-2.1 7.2M133.7 171.6l-9.7 7.2-2.8 7.3 2.6 7.2 6.6 7.2 7.3 7.3 5.8 7.2 5 7.2 2.5 7.3 .9 7.2 .3 7.3-.1 7.2-2.9 7.2-4 7.3-4.2 7.2-3.6 7.2-2.7 7.3-1.2 7.2M133.6 171.6l-9.4 7.2-9.1 7.3-7.8 7.2-4.1 7.2 1.3 7.3 4.3 7.2 4.5 7.2 2.9 7.3 1.7 7.2 2 7.3 2.8 7.2 3.5 7.2 3.2 7.3 2.7 7.2 1.7 7.2 .4 7.3-.6 7.2M133.5 171.6l-1.8 7.2-9.1 7.3-11.3 7.2-7.4 7.2 1 7.3 6.9 7.2 8.3 7.2 7.5 7.3 7.2 7.2 6.7 7.3 5.1 7.2 1.2 7.2-1.9 7.3-3.8 7.2-4.3 7.2-3.1 7.3-1.2 7.2M133.6 171.6l-10.9 7.2-12.8 7.3-9.3 7.2-2 7.2 7.9 7.3 11.5 7.2 10.4 7.2 8.9 7.3 7.4 7.2 5.2 7.3 3.2 7.2-1.8 7.2-3.9 7.3-5.4 7.2-4.8 7.2-3.1 7.3-.6 7.2M133.5 171.6l2.9 7.2 8.8 7.3 10.9 7.2 8.4 7.2 1.6 7.3-2.5 7.2-2.2 7.2-6.2 7.3-6.8 7.2-6.3 7.3-6.1 7.2-5.7 7.2-4 7.3-1.8 7.2 1.3 7.2 3.6 7.3 4.3 7.2M133.6 171.6l9.3 7.2 11.1 7.3 8.9 7.2 2 7.2-6.1 7.3-8.7 7.2-8.8 7.2-8.8 7.3-6.8 7.2-5.8 7.3-3.6 7.2-.2 7.2 2.6 7.3 4.5 7.2 5.3 7.2 3.8 7.3 1.2 7.2M133.6 171.6l12.8 7.2 8.6 7.3 2 7.2-6.4 7.2-11.5 7.3-10.5 7.2-6.8 7.2-4.4 7.3-2.7 7.2-.1 7.3 3.3 7.2 6.1 7.2 6.4 7.3 4.8 7.2 1.7 7.2-.8 7.3-2.4 7.2M133.6 171.6l-6.8 7.2-7.7 7.3-7.4 7.2-4.7 7.2 .1 7.3 3.2 7.2 3.6 7.2 2.4 7.3 1.3 7.2 1.7 7.3 2.6 7.2 3.3 7.2 3.3 7.3 2.8 7.2 2 7.2 .6 7.3-.3 7.2M133.6 171.6l11.6 7.2 12.6 7.3 8 7.2-.2 7.2-9.9 7.3-12.2 7.2-11.4 7.2-8.3 7.3-6.8 7.2-4.5 7.3-.2 7.2 3.4 7.2 6.2 7.3 6.7 7.2 5 7.2 1.3 7.3-1.3 7.2M133.6 171.6l7.6 7.2 1.2 7.3-2.8 7.2-5.5 7.2-5.9 7.3-4.1 7.2-2.4 7.2-2.2 7.3-2.7 7.2-2.4 7.3-1.1 7.2 1.1 7.2 2.6 7.3 3.3 7.2 4.3 7.2 4.9 7.3 4.2 7.2M133.7 171.6l-13.2 7.2-4.3 7.3 4.9 7.2 11.6 7.2 12 7.3 8.5 7.2 5.6 7.2 .1 7.3-3.4 7.2-5 7.3-6.1 7.2-7.5 7.2-6.3 7.3-3.9 7.2-.2 7.2 3 7.3 4.2 7.2M133.7 171.6l-14.6 7.2-10.8 7.3-7.7 7.2-3 7.2 4.5 7.3 7.4 7.2 6.7 7.2 4.8 7.3 3.8 7.2 4 7.3 4.1 7.2 3.5 7.2 2.1 7.3 .7 7.2-.8 7.2-2 7.3-2.7 7.2M133.5 171.6l-1.1 7.2-5.6 7.3-8.1 7.2-7.2 7.2-3.2 7.3 .5 7.2 2.1 7.2 1.2 7.3 .3 7.2 .9 7.3 2.4 7.2 4 7.2 4.3 7.3 4.1 7.2 3.4 7.2 1.9 7.3 .1 7.2M133.7 171.6l9.2 7.2 1.2 7.3-4.3 7.2-7.9 7.2-7.8 7.3-5 7.2-2.5 7.2-2 7.3-2.3 7.2-.8 7.3 .8 7.2 2.5 7.2 4.3 7.3 4.9 7.2 4.8 7.2 3.4 7.3 1.3 7.2M133.7 171.6l-13 7.2-7.7 7.3 .3 7.2 8.8 7.2 12.5 7.3 10.3 7.2 7.6 7.2 2.6 7.3-1.3 7.2-3.7 7.3-5.3 7.2-7.2 7.2-6.1 7.3-4 7.2-.4 7.2 2.8 7.3 3.8 7.2M133.6 171.6l-.7 7.2 8.6 7.3 12.6 7.2 9.8 7.2 1.6 7.3-3.7 7.2-6 7.2-9.3 7.3-9.4 7.2-8.2 7.3-7 7.2-3.8 7.2-.3 7.3 3 7.2 5.2 7.2 5 7.3 2.6 7.2M133.7 171.6l-13.8 7.2-7.5 7.3-1 7.2 5.5 7.2 9.3 7.3 8.6 7.2 7.4 7.2 5.1 7.3 3.1 7.2 1.8 7.3 1 7.2-2.5 7.2-4.1 7.3-4.6 7.2-4.2 7.2-3 7.3-1.3 7.2M133.7 171.6l-14.7 7.2-10 7.3-4.6 7.2 2.1 7.2 7.8 7.3 8.8 7.2 7.3 7.2 6 7.3 5.1 7.2 3.9 7.3 3.4 7.2 .3 7.2-1.6 7.3-3.1 7.2-3.9 7.2-3.8 7.3-3 7.2M133.7 171.6l12.9 7.2 8.9 7.3 5.5 7.2 .6 7.2-4.4 7.3-5 7.2-4.3 7.2-5 7.3-4.4 7.2-3.6 7.3-3.4 7.2-2.7 7.2-1.7 7.3-.5 7.2 1.2 7.2 2.6 7.3 3.3 7.2M133.6 171.6l-7.9 7.2-9.2 7.3-9 7.2-5.9 7.2-.3 7.3 3.5 7.2 4.4 7.2 2.2 7.3 .9 7.2 1.5 7.3 2.6 7.2 3.9 7.2 4 7.3 3.8 7.2 3.2 7.2 1.9 7.3 .3 7.2M133.5 171.6l3.5 7.2 8 7.3 9.7 7.2 7.4 7.2 1.7 7.3-1.1 7.2-1.6 7.2-4.6 7.3-5.3 7.2-4.9 7.3-4.7 7.2-5.2 7.2-4.2 7.3-2.9 7.2-.5 7.2 1.7 7.3 3.2 7.2M133.5 171.6l-3.8 7.2-9.1 7.3-11.1 7.2-8.2 7.2-1.4 7.3 4.9 7.2 4.4 7.2 4.3 7.3 3.8 7.2 4.7 7.3 5.8 7.2 5.7 7.2 3.9 7.3 1.8 7.2-.4 7.2-2.1 7.3-3 7.2M133.7 171.6l9.6 7.2-.5 7.3-7.6 7.2-11.6 7.2-9.3 7.3-4 7.2-.2 7.2 1.3 7.3 .9 7.2 3.3 7.3 5.6 7.2 6.9 7.2 6 7.3 3.3 7.2 .8 7.2-1.6 7.3-2.9 7.2M133.6 171.6l6 7.2-1 7.3-5.5 7.2-7.7 7.2-6.2 7.3-3 7.2-.9 7.2-.6 7.3-1 7.2-.1 7.3 1.6 7.2 3.7 7.2 4.3 7.3 4.3 7.2 3.7 7.2 2.1 7.3 .2 7.2M133.5 171.6l2.9 7.2 7.3 7.3 9 7.2 7 7.2 1.7 7.3-1 7.2-1.6 7.2-4.3 7.3-5 7.2-4.8 7.3-4.5 7.2-4.8 7.2-3.9 7.3-2.5 7.2-.3 7.2 1.8 7.3 3.2 7.2M133.7 171.6l10 7.2 2 7.3-3.6 7.2-7.5 7.2-8 7.3-5.5 7.2-3.1 7.2-2.4 7.3-2.8 7.2-1.3 7.3 .8 7.2 2.1 7.2 3.2 7.3 4.8 7.2 5.1 7.2 4 7.3 2.1 7.2" stroke="#000" stroke-opacity="0.75" stroke-width="0.42" fill="none"/>
<path d="M133.6 171.6l5.4 7.2-5.1 7.3-11.6 7.2-12.1 7.2-5.8 7.3 1.3 7.2 5.1 7.2 5.5 7.3 6 7.2 7.3 7.3 7.7 7.2 5.4 7.2 2.1 7.3-1.1 7.2-3.2 7.2-3.9 7.3-3 7.2M133.5 171.6l-1.7 7.2-6.2 7.3-8.3 7.2-7.4 7.2-3.3 7.3 .6 7.2 2 7.2 2.2 7.3 .2 7.2-.1 7.3 1.1 7.2 3.8 7.2 4.4 7.3 4.5 7.2 4.2 7.2 2.9 7.3 1.1 7.2M133.7 171.6l14.7 7.2 10.1 7.3 7.3 7.2 2.9 7.2-3.9 7.3-5.2 7.2-4.3 7.2-5.6 7.3-5.1 7.2-4.3 7.3-3.7 7.2-3.5 7.2-2.8 7.3-1.6 7.2 .2 7.2 1.8 7.3 3 7.2M133.6 171.6l-12.4 7.2-11.3 7.3-8.4 7.2-2.4 7.2 4.5 7.3 7.7 7.2 7.3 7.2 5.5 7.3 4.8 7.2 5 7.3 4.7 7.2 3.1 7.2 1.2 7.3-.7 7.2-2.1 7.2-3.1 7.3-3.3 7.2M133.6 171.6l2.1 7.2-5.2 7.3-9.3 7.2-9.3 7.2-4.8 7.3 .2 7.2 2.6 7.2 2.3 7.3 2 7.2 3.2 7.3 4.8 7.2 5.7 7.2 5.1 7.3 3 7.2 1 7.2-1 7.3-2.3 7.2M133.5 171.6l3.3 7.2 4.2 7.3 3.8 7.2 1.8 7.2-1.1 7.3-2.2 7.2-2.4 7.2-3 7.3-2.8 7.2-2.5 7.3-2.2 7.2-1.4 7.2-.6 7.3 .4 7.2 1.4 7.2 1.8 7.3 1.6 7.2M133.6 171.6l-7.4 7.2-5.8 7.3-3.1 7.2 .8 7.2 4.3 7.3 5.2 7.2 4.4 7.2 3.7 7.3 3 7.2 2.2 7.3 1.7 7.2-.2 7.2-1.4 7.3-2.1 7.2-2.3 7.2-1.9 7.3-1.2 7.2M133.6 171.6l3.4 7.2-5.3 7.3-10.2 7.2-9.6 7.2-3.3 7.3 3 7.2 5.8 7.2 5.9 7.3 6.2 7.2 6.7 7.3 5.8 7.2 2.8 7.2-.4 7.3-2.7 7.2-3.6 7.2-3.1 7.3-1.5 7.2M133.5 171.6l.4 7.2-2.2 7.3-3.4 7.2-2.7 7.2-.3 7.3 1.6 7.2 2.2 7.2 2.2 7.3 2.1 7.2 2.1 7.3 1.6 7.2 .5 7.2-.5 7.3-1.2 7.2-1.2 7.2-.9 7.3-.3 7.2M133.5 171.6l-4.1 7.2-4.9 7.3-3.2 7.2 .3 7.2 3.9 7.3 4.9 7.2 4.2 7.2 3.5 7.3 2.2 7.2 .9 7.3-.1 7.2-1.8 7.2-2.5 7.3-2.3 7.2-1.5 7.2-.3 7.3 .9 7.2M133.7 171.6l13.3 7.2 7.4 7.3 1.5 7.2-5.1 7.2-9.2 7.3-8.8 7.2-6.4 7.2-4.7 7.3-4.1 7.2-2.9 7.3-.5 7.2 2.4 7.2 4.1 7.3 4.8 7.2 4.6 7.2 2.9 7.3 .5 7.2M133.5 171.6l-1.5 7.2 .9 7.3 2.5 7.2 2.9 7.2 1.9 7.3 .9 7.2 .4 7.2-.8 7.3-1.3 7.2-1.4 7.3-1.5 7.2-1.8 7.2-1.4 7.3-1.1 7.2-.2 7.2 .5 7.3 1.1 7.2M133.6 171.6l-3 7.2-.5 7.3 1.4 7.2 2.5 7.2 2.5 7.3 1.8 7.2 1.6 7.2 .6 7.3 0 7.2-.3 7.3-.3 7.2-1.3 7.2-1.5 7.3-1.5 7.2-1.2 7.2-.7 7.3-.2 7.2M133.6 171.6l2.2 7.2-4.1 7.3-7.8 7.2-7.7 7.2-3.5 7.3 .9 7.2 3 7.2 3.1 7.3 3.1 7.2 4.1 7.3 4.9 7.2 4.3 7.2 2.6 7.3 .6 7.2-1.1 7.2-2.2 7.3-2.4 7.2M133.6 171.6l-5.4 7.2-2.6 7.3-.1 7.2 2.6 7.2 3.8 7.3 3.4 7.2 2.9 7.2 1.8 7.3 .9 7.2 .4 7.3 .1 7.2-1.3 7.2-1.9 7.3-1.9 7.2-1.6 7.2-1 7.3-.2 7.2M133.7 171.6l-13.6 7.2-7.7 7.3-.4 7.2 7.4 7.2 11.2 7.3 9.9 7.2 8 7.2 4.3 7.3 1.2 7.2-.8 7.3-2.2 7.2-5.5 7.2-5.9 7.3-4.9 7.2-3 7.2-.3 7.3 2.2 7.2M133.7 171.6l-14.7 7.2-10.7 7.3-5.4 7.2 6.8 7.2 13.8 7.3 13.4 7.2 11.1 7.2 6.8 7.3 1.8 7.2-1.7 7.3-1.9 7.2-7.3 7.2-7.5 7.3-5.8 7.2-3.2 7.2 .9 7.3 3.6 7.2M133.6 171.6l-7.8 7.2-5.8 7.3-3.1 7.2 .7 7.2 4.2 7.3 4.9 7.2 4.2 7.2 3.4 7.3 3 7.2 2.4 7.3 1.9 7.2 .3 7.2-.8 7.3-1.8 7.2-2.1 7.2-2 7.3-1.6 7.2M133.6 171.6l-3.8 7.2 .3 7.3 3.3 7.2 4.8 7.2 3.7 7.3 2.1 7.2 1.2 7.2-.7 7.3-1.8 7.2-2.2 7.3-2.4 7.2-2.8 7.2-2.4 7.3-1.7 7.2-.2 7.2 .9 7.3 1.7 7.2M133.5 171.6l0 7.2 1.1 7.3 1.8 7.2 1.6 7.2 .6 7.3 .1 7.2-.2 7.2-.7 7.3-.9 7.2-1 7.3-.9 7.2-1 7.2-.8 7.3-.6 7.2 0 7.2 .3 7.3 .6 7.2M133.6 171.6l13.6 7.2 11.3 7.3 7.3 7.2 2.9 7.2-4.1 7.3-7.7 7.2-7.4 7.2-8.3 7.3-7.2 7.2-6.2 7.3-5.4 7.2-3.2 7.2-.9 7.3 2 7.2 4.3 7.2 4.7 7.3 4.4 7.2M133.7 171.6l14.7 7.2 10.1 7.3 4.6 7.2-6.3 7.2-13.1 7.3-12.8 7.2-8.9 7.2-6 7.3-4.2 7.2-.3 7.3 2.3 7.2 6.6 7.2 7.6 7.3 6.2 7.2 2.6 7.2-.5 7.3-2.6 7.2M133.6 171.6l9.2 7.2 9.7 7.3 9 7.2 4.8 7.2-1.2 7.3-3.2 7.2-3 7.2-5.1 7.3-5.3 7.2-4.5 7.3-4.2 7.2-4.4 7.2-3.5 7.3-2.3 7.2-.3 7.2 1.5 7.3 2.9 7.2M133.6 171.6l2.4 7.2-3.5 7.3-7.2 7.2-7.7 7.2-4.6 7.3-.7 7.2 1.1 7.2 .9 7.3 .4 7.2 1.4 7.3 2.9 7.2 4.3 7.2 4.4 7.3 3.8 7.2 2.4 7.2 .6 7.3-.9 7.2M133.6 171.6l5.7 7.2 6.4 7.3 5.6 7.2 2.3 7.2-2 7.3-3.6 7.2-3.6 7.2-4.5 7.3-4.1 7.2-3.6 7.3-3.2 7.2-2.1 7.2-1 7.3 .6 7.2 2 7.2 2.6 7.3 2.5 7.2M133.5 171.6l-6 7.2-9.7 7.3-10.3 7.2-6.8 7.2 .1 7.3 4.7 7.2 5.8 7.2 4.6 7.3 3.9 7.2 4.6 7.3 5.3 7.2 5.1 7.2 3.2 7.3 1.4 7.2-.6 7.2-2.2 7.3-2.9 7.2M133.6 171.6l-3.8 7.2 .8 7.3 3.8 7.2 5.2 7.2 4.2 7.3 2.9 7.2 2.6 7.2 .8 7.3-.1 7.2-.2 7.3-.2 7.2-2.3 7.2-3 7.3-3.4 7.2-3.1 7.2-2.5 7.3-1.7 7.2M133.7 171.6l14.7 7.2 10.1 7.3 7.3 7.2-1.7 7.2-8.6 7.3-9.3 7.2-8.6 7.2-7.2 7.3-6.1 7.2-5.4 7.3-3.8 7.2-.7 7.2 2.6 7.3 3.3 7.2 4.3 7.2 5.3 7.3 3.7 7.2M133.6 171.6l-10.6 7.2-8.3 7.3-4.6 7.2 1.2 7.2 6.3 7.3 7.6 7.2 6.3 7.2 5.4 7.3 4.3 7.2 3.2 7.3 2.4 7.2-.4 7.2-2.1 7.3-3.1 7.2-3.3 7.2-2.8 7.3-1.5 7.2M133.6 171.6l-12.6 7.2-11.1 7.3-7.6 7.2-1.2 7.2 5.8 7.3 8.4 7.2 7.7 7.2 6 7.3 5.4 7.2 5.1 7.3 4.3 7.2 2 7.2-.2 7.3-2 7.2-3.2 7.2-3.6 7.3-3.1 7.2M133.6 171.6l-8.2 7.2-8.8 7.3-6.2 7.2-.4 7.2 5.7 7.3 8 7.2 7 7.2 6 7.3 4.9 7.2 3.4 7.3 2.1 7.2-1.1 7.2-2.8 7.3-3.7 7.2-3.3 7.2-2.2 7.3-.5 7.2M133.5 171.6l-5.9 7.2-7.2 7.3-5.4 7.2-.6 7.2 4.7 7.3 6.7 7.2 6 7.2 5.2 7.3 3.9 7.2 2.6 7.3 1.3 7.2-1.4 7.2-2.8 7.3-3.2 7.2-2.6 7.2-1.4 7.3 .1 7.2M133.7 171.6l-11.3 7.2-6.8 7.3-1.7 7.2 3.8 7.2 7.5 7.3 7.3 7.2 6.2 7.2 4.7 7.3 2.8 7.2 1.8 7.3 1 7.2-1.9 7.2-3.2 7.3-3.7 7.2-3.3 7.2-2.4 7.3-1 7.2M133.6 171.6l10.2 7.2 10.3 7.3 8.7 7.2 3.5 7.2-3.3 7.3-5.5 7.2-5.3 7.2-6.8 7.3-6.4 7.2-5.4 7.3-5.1 7.2-3.7 7.2-2 7.3 .2 7.2 2.6 7.2 4 7.3 4.1 7.2M133.7 171.6l12.6 7.2 5.9 7.3 .9 7.2-4.1 7.2-7.1 7.3-6.7 7.2-5.2 7.2-4 7.3-3.8 7.2-3.5 7.3-2.2 7.2 0 7.2 1.4 7.3 3 7.2 4.4 7.2 4.6 7.3 3.7 7.2M133.5 171.6l7.2 7.2 11.6 7.3 12 7.2 4.4 7.2-2.2 7.3-2.9 7.2-6.5 7.2-9 7.3-8.6 7.2-7.5 7.3-6.8 7.2-4.7 7.2-1.9 7.3 1.7 7.2 4.3 7.2 4.7 7.3 4.4 7.2M133.6 171.6l-6.3 7.2-1.7 7.3 2.4 7.2 5.2 7.2 5.3 7.3 4 7.2 3.1 7.2 .9 7.3-.3 7.2-1.1 7.3-1.4 7.2-3 7.2-3.2 7.3-2.6 7.2-1.7 7.2-.5 7.3 .9 7.2M133.5 171.6l-2.4 7.2-10.1 7.3-12.1 7.2-7.1 7.2 2.1 7.3 8.3 7.2 9.5 7.2 8.3 7.3 8.1 7.2 6.6 7.3 4.6 7.2 0 7.2-3.1 7.3-4.8 7.2-4.6 7.2-2.9 7.3-.4 7.2M133.6 171.6l-6.5 7.2-2.2 7.3 1.5 7.2 4.2 7.2 4.9 7.3 3.9 7.2 3.4 7.2 1.8 7.3 .7 7.2 .2 7.3 0 7.2-2 7.2-2.5 7.3-2.7 7.2-2.4 7.2-1.7 7.3-.7 7.2M133.7 171.6l13.5 7.2 11.3 7.3 7.3 7.2 1.4 7.2-6.9 7.3-8.5 7.2-8.2 7.2-8.3 7.3-6.6 7.2-6 7.3-4.5 7.2-1.9 7.2 .7 7.3 3.3 7.2 4.6 7.2 5.1 7.3 3.6 7.2M133.7 171.6l11.3 7.2 7.2 7.3 3.8 7.2-.8 7.2-5 7.3-5.3 7.2-4.8 7.2-4.7 7.3-3.8 7.2-3.4 7.3-2.9 7.2-1.7 7.2-.4 7.3 1 7.2 2.6 7.2 3.5 7.3 3.3 7.2M133.6 171.6l8 7.2 6.9 7.3 4.2 7.2-.6 7.2-5.1 7.3-5.9 7.2-5.7 7.2-4.7 7.3-3.9 7.2-3.2 7.3-1.9 7.2 .3 7.2 1.8 7.3 2.9 7.2 3.4 7.2 2.5 7.3 .9 7.2M133.6 171.6l-7.4 7.2-9.2 7.3-8.3 7.2-4 7.2 2.2 7.3 5.9 7.2 6.2 7.2 4.9 7.3 4.5 7.2 4.7 7.3 4.5 7.2 3 7.2 1.2 7.3-.6 7.2-2 7.2-2.8 7.3-2.7 7.2M133.6 171.6l-1.2 7.2 6.4 7.3 10.3 7.2 9.8 7.2 4.6 7.3 .1 7.2-1.3 7.2-3 7.3-3.6 7.2-5.2 7.3-5.2 7.2-6.3 7.2-5.1 7.3-3.8 7.2-1.3 7.2 1.5 7.3 3.4 7.2M133.6 171.6l6.9 7.2 1.9 7.3-2.4 7.2-5.7 7.2-6.1 7.3-3.9 7.2-1.6 7.2-.7 7.3-.1 7.2 1.1 7.3 2.6 7.2 3.7 7.2 3.5 7.3 2.2 7.2 .7 7.2-.6 7.3-1.5 7.2M133.6 171.6l-11.3 7.2-10.6 7.3-8.3 7.2-3.3 7.2 3.1 7.3 6.3 7.2 6.2 7.2 4.6 7.3 3.6 7.2 4 7.3 4.3 7.2 3.6 7.2 2.3 7.3 .8 7.2-.7 7.2-1.9 7.3-2.6 7.2M133.6 171.6l2.8 7.2-2.9 7.3-6.2 7.2-6.6 7.2-3.4 7.3 .5 7.2 2.5 7.2 2.7 7.3 2.9 7.2 3.7 7.3 4.2 7.2 3.4 7.2 1.7 7.3-.1 7.2-1.3 7.2-2.1 7.3-1.8 7.2M133.6 171.6l10 7.2 6.3 7.3 3.3 7.2-.5 7.2-4.1 7.3-4.5 7.2-3.9 7.2-3.9 7.3-3.3 7.2-2.9 7.3-2.5 7.2-1.6 7.2-.6 7.3 .6 7.2 1.9 7.2 2.8 7.3 2.9 7.2M133.5 171.6l-2.5 7.2-4.1 7.3-4.6 7.2-3.6 7.2-1.1 7.3 1.1 7.2 1.6 7.2 .8 7.3 .2 7.2 .5 7.3 1.2 7.2 2 7.2 2.2 7.3 2.3 7.2 2.1 7.2 1.4 7.3 .5 7.2M133.5 171.6l-3.5 7.2-5.9 7.3-6.1 7.2-3.5 7.2 .8 7.3 3.6 7.2 4.1 7.2 3.5 7.3 3.1 7.2 3.5 7.3 3.3 7.2 2.2 7.2 .8 7.3-.5 7.2-1.5 7.2-2 7.3-1.8 7.2M133.5 171.6l4.3 7.2 4.1 7.3 2.3 7.2-.8 7.2-3.7 7.3-4.1 7.2-3.5 7.2-2.6 7.3-2 7.2-1.2 7.3 0 7.2 1.5 7.2 2.2 7.3 2.2 7.2 1.5 7.2 .4 7.3-.5 7.2M133.7 171.6l-13.5 7.2-10.2 7.3-6.5 7.2-1 7.2 4.9 7.3 7 7.2 6.3 7.2 4.6 7.3 3.8 7.2 3.9 7.3 3.8 7.2 2.6 7.2 1.2 7.3-.2 7.2-1.4 7.2-2.5 7.3-2.8 7.2M133.7 171.6l-10.9 7.2-5.4 7.3-1.1 7.2 3.3 7.2 5.9 7.3 5.6 7.2 4.6 7.2 3.9 7.3 2.8 7.2 2.2 7.3 2 7.2-.1 7.2-1.4 7.3-2.5 7.2-3 7.2-3.1 7.3-2.8 7.2M133.5 171.6l-2.1 7.2-.7 7.3 .8 7.2 1.7 7.2 1.8 7.3 1.3 7.2 1.1 7.2 .4 7.3-.1 7.2-.3 7.3-.4 7.2-1 7.2-1.1 7.3-.9 7.2-.5 7.2-.2 7.3 .2 7.2M133.7 171.6l-11.3 7.2-2.6 7.3 4.4 7.2 9.2 7.2 9.3 7.3 7.1 7.2 5.6 7.2 2.1 7.3-.9 7.2-1.7 7.3-.8 7.2-4.9 7.2-5.7 7.3-5 7.2-3.7 7.2-1.7 7.3 .5 7.2M133.5 171.6l2 7.2-1.5 7.3-3.7 7.2-4.1 7.2-2.5 7.3-.2 7.2 1 7.2 1.1 7.3 1.2 7.2 1.8 7.3 2.4 7.2 2.4 7.2 1.8 7.3 .7 7.2-.2 7.2-.9 7.3-1.2 7.2M133.6 171.6l10.5 7.2 12 7.3 9.7 7.2 2.9 7.2-5.5 7.3-8.3 7.2-8.5 7.2-9.2 7.3-7.6 7.2-6.7 7.3-5 7.2-1.9 7.2 1 7.3 3.4 7.2 5.2 7.2 5 7.3 3 7.2M133.6 171.6l11.2 7.2 9.1 7.3 6.1 7.2 .8 7.2-4.9 7.3-6.1 7.2-5.7 7.2-6.1 7.3-5.3 7.2-4.5 7.3-3.8 7.2-2.2 7.2-.5 7.3 1.3 7.2 3.2 7.2 3.9 7.3 3.5 7.2M133.6 171.6l-9.6 7.2-4 7.3 .6 7.2 4.5 7.2 6.3 7.3 5.4 7.2 4.7 7.2 3.2 7.3 2 7.2 1.4 7.3 1.1 7.2-1.4 7.2-2.5 7.3-3.2 7.2-3.4 7.2-3 7.3-2.1 7.2M133.6 171.6l-4.5 7.2 .9 7.3 4.6 7.2 6.1 7.2 4.7 7.3 2.8 7.2 1.9 7.2-.6 7.3-1.8 7.2-2.2 7.3-2.4 7.2-3.7 7.2-3.4 7.3-2.5 7.2-1.5 7.2 .1 7.3 1.5 7.2M133.6 171.6l4.2 7.2-.2 7.3-3.6 7.2-5.3 7.2-4.1 7.3-1.5 7.2 .4 7.2 .9 7.3 1.3 7.2 2.3 7.3 3.1 7.2 3 7.2 2 7.3 .7 7.2-.5 7.2-1.3 7.3-1.4 7.2M133.6 171.6l-8.7 7.2-7.8 7.3-5.8 7.2-1.8 7.2 3 7.3 5.3 7.2 4.9 7.2 3.8 7.3 3.2 7.2 3.3 7.3 3.2 7.2 2.3 7.2 1 7.3-.3 7.2-1.3 7.2-2 7.3-2.3 7.2M133.6 171.6l3.4 7.2-3.1 7.3-7 7.2-7.9 7.2-5 7.3-1.3 7.2 .8 7.2 .6 7.3 .3 7.2 1.2 7.3 2.9 7.2 4.4 7.2 4.4 7.3 4 7.2 2.6 7.2 .5 7.3-.8 7.2M133.5 171.6l-7.3 7.2-12.1 7.3-11.2 7.2-4.3 7.2 5.1 7.3 10.1 7.2 10 7.2 8.5 7.3 8 7.2 6.1 7.3 4.3 7.2-.1 7.2-3.2 7.3-4.8 7.2-4.8 7.2-3.3 7.3-1 7.2M133.6 171.6l12.3 7.2 10.4 7.3 6.7 7.2 0 7.2-6.7 7.3-8.2 7.2-7.8 7.2-7.5 7.3-5.8 7.2-5.3 7.3-3.7 7.2-1 7.2 1.3 7.3 3.4 7.2 4.7 7.2 4.5 7.3 2.7 7.2M133.7 171.6l-11.1 7.2-2.5 7.3 4.8 7.2 9.8 7.2 9.5 7.3 6.9 7.2 5.2 7.2 1.1 7.3-1.4 7.2-2.6 7.3-3.4 7.2-5.8 7.2-5.8 7.3-4.4 7.2-2.7 7.2 0 7.3 2.3 7.2M133.6 171.6l6.9 7.2 1.4 7.3-3.4 7.2-6.8 7.2-6.4 7.3-3.5 7.2-.7 7.2 .5 7.3 1.1 7.2 2.7 7.3 3.9 7.2 4.2 7.2 2.9 7.3 1.2 7.2-.5 7.2-1.7 7.3-1.8 7.2M133.5 171.6l-2.6 7.2-7.4 7.3-9.5 7.2-7.6 7.2-2.2 7.3 2.2 7.2 3.7 7.2 2.8 7.3 2 7.2 2.9 7.3 4.2 7.2 5 7.2 4.5 7.3 3.2 7.2 1.2 7.2-.5 7.3-1.8 7.2M133.5 171.6l4.1 7.2 8.9 7.3 9.6 7.2 5.5 7.2-1.6 7.3-5 7.2-6 7.2-7.7 7.3-7.2 7.2-6.1 7.3-5 7.2-2.6 7.2 0 7.3 2.4 7.2 4.2 7.2 4.1 7.3 2.5 7.2M133.7 171.6l-14.5 7.2-9.7 7.3-5 7.2 .9 7.2 6.2 7.3 7.6 7.2 6.5 7.2 4.8 7.3 4.3 7.2 3.9 7.3 3.5 7.2 1.8 7.2 .1 7.3-1.4 7.2-2.5 7.2-3.2 7.3-3.3 7.2M133.6 171.6l7.3 7.2-.3 7.3-5.6 7.2-8.7 7.2-7 7.3-3.1 7.2-.3 7.2 .5 7.3 .9 7.2 2.3 7.3 4.1 7.2 5.2 7.2 4.6 7.3 2.6 7.2 .7 7.2-1 7.3-2.2 7.2M133.6 171.6l4.5 7.2-.3 7.3-3.5 7.2-5.2 7.2-4.5 7.3-2.3 7.2-.9 7.2-.7 7.3-1 7.2-.4 7.3 .8 7.2 2.3 7.2 2.8 7.3 3.1 7.2 2.8 7.2 1.9 7.3 .5 7.2M133.6 171.6l10.2 7.2 6.7 7.3 3.7 7.2-.4 7.2-4.3 7.3-4.7 7.2-4.1 7.2-4.2 7.3-3.6 7.2-3 7.3-2.7 7.2-1.7 7.2-.6 7.3 .6 7.2 2.1 7.2 3 7.3 3 7.2M133.6 171.6l4.6 7.2-2.1 7.3-6.4 7.2-7.9 7.2-5.4 7.3-1.6 7.2 .7 7.2 .9 7.3 .9 7.2 2 7.3 3.6 7.2 4.6 7.2 4.3 7.3 3 7.2 1.1 7.2-.6 7.3-1.7 7.2M133.6 171.6l8.9 7.2 9.1 7.3 7.3 7.2 2.3 7.2-3.8 7.3-5.8 7.2-5.7 7.2-6.6 7.3-5.8 7.2-4.9 7.3-4.2 7.2-2.4 7.2-.4 7.3 1.5 7.2 3.4 7.2 3.9 7.3 3.2 7.2M133.6 171.6l6.8 7.2 5.2 7.3 3.6 7.2 .8 7.2-2.3 7.3-2.9 7.2-2.7 7.2-3.1 7.3-2.8 7.2-2.4 7.3-2.1 7.2-1.7 7.2-1 7.3-.2 7.2 1 7.2 1.8 7.3 2 7.2M133.6 171.6l-3.5 7.2 5 7.3 9.8 7.2 9.1 7.2 3.1 7.3-1.5 7.2-3.9 7.2-7.1 7.3-7.6 7.2-6.7 7.3-5.7 7.2-3.1 7.2-.1 7.3 2.6 7.2 4.3 7.2 3.7 7.3 1.5 7.2M133.5 171.6l-.3 7.2 3.8 7.3 6 7.2 5.9 7.2 3 7.3 1.3 7.2 1 7.2-1.2 7.3-2.2 7.2-2 7.3-2 7.2-3.6 7.2-3.6 7.3-3.1 7.2-2.1 7.2-1.1 7.3 .2 7.2M133.6 171.6l7.2 7.2 4.3 7.3 2.1 7.2-1 7.2-3.4 7.3-3.5 7.2-3.2 7.2-2.9 7.3-2.3 7.2-2.1 7.3-1.8 7.2-.7 7.2 0 7.3 1 7.2 1.9 7.2 2.3 7.3 2.1 7.2M133.6 171.6l10.2 7.2 11.2 7.3 8.4 7.2 1.2 7.2-6.7 7.3-9.1 7.2-9 7.2-8.5 7.3-6.6 7.2-5.7 7.3-3.3 7.2 .2 7.2 2.8 7.3 4.7 7.2 5.3 7.2 3.7 7.3 1.1 7.2M133.6 171.6l-11.1 7.2-7.4 7.3-3.2 7.2 2 7.2 6.1 7.3 6.8 7.2 5.5 7.2 4.7 7.3 3.7 7.2 2.9 7.3 2.3 7.2 0 7.2-1.6 7.3-2.6 7.2-3 7.2-2.9 7.3-2.2 7.2M133.7 171.6l-14.7 7.2-9.4 7.3-2.5 7.2 5.2 7.2 10.4 7.3 10.1 7.2 8.7 7.2 6.2 7.3 3.7 7.2 2 7.3 .7 7.2-3.1 7.2-4.8 7.3-5.2 7.2-4.3 7.2-2.6 7.3-.6 7.2M133.6 171.6l3.9 7.2 .1 7.3-2.9 7.2-4.5 7.2-3.8 7.3-1.7 7.2-.2 7.2 .4 7.3 .5 7.2 1.4 7.3 2.2 7.2 2.8 7.2 2.3 7.3 1.2 7.2 .2 7.2-.8 7.3-1.1 7.2M133.5 171.6l4.5 7.2 6.8 7.3 7.3 7.2 4.6 7.2-.1 7.3-2.3 7.2-2.5 7.2-4.4 7.3-4.6 7.2-4.1 7.3-3.8 7.2-3.6 7.2-2.6 7.3-1.1 7.2 .8 7.2 2.3 7.3 2.9 7.2M133.5 171.6l.1 7.2 1.3 7.3 2.1 7.2 1.9 7.2 1 7.3 .5 7.2 .4 7.2-.3 7.3-.6 7.2-.5 7.3-.5 7.2-1.1 7.2-1.2 7.3-1.2 7.2-1 7.2-.6 7.3-.3 7.2M133.5 171.6l-5.3 7.2-7.4 7.3-7.2 7.2-3.8 7.2 1.5 7.3 4.7 7.2 5.1 7.2 4.2 7.3 3.8 7.2 4.1 7.3 3.9 7.2 2.6 7.2 .9 7.3-.6 7.2-1.7 7.2-2.4 7.3-2.3 7.2M133.7 171.6l9.5 7.2 1.7 7.3-4.1 7.2-8 7.2-8.2 7.3-5.1 7.2-2.3 7.2-1.4 7.3-1.2 7.2 .1 7.3 2.3 7.2 4.3 7.2 4.9 7.3 4.5 7.2 3 7.2 .8 7.3-.9 7.2M133.6 171.6l-5.4 7.2-4.5 7.3-2.8 7.2-.1 7.2 2.6 7.3 3.6 7.2 3.1 7.2 2.5 7.3 2.3 7.2 1.9 7.3 1.7 7.2 .6 7.2-.4 7.3-1 7.2-1.4 7.2-1.5 7.3-1.2 7.2M133.6 171.6l-8.9 7.2-2 7.3 3.3 7.2 7 7.2 7.1 7.3 5.6 7.2 4.6 7.2 2.1 7.3 .4 7.2-.2 7.3-.5 7.2-3.4 7.2-4.2 7.3-4.2 7.2-3.5 7.2-2.4 7.3-.9 7.2M133.6 171.6l2.4 7.2-2.5 7.3-5.5 7.2-5.7 7.2-2.4 7.3 1.1 7.2 2.8 7.2 3.1 7.3 3.2 7.2 3.7 7.3 3.5 7.2 1.9 7.2 .3 7.3-1.3 7.2-1.9 7.2-1.8 7.3-1 7.2M133.7 171.6l12.8 7.2 5.1 7.3-1 7.2-6.5 7.2-8.9 7.3-7.5 7.2-4.9 7.2-3.7 7.3-3.5 7.2-2.4 7.3-.4 7.2 2.4 7.2 3.8 7.3 4.7 7.2 4.9 7.2 3.5 7.3 1.4 7.2M133.6 171.6l10.4 7.2 11.1 7.3 9.5 7.2 3.8 7.2-3.6 7.3-6.1 7.2-6.1 7.2-7.7 7.3-7.1 7.2-6 7.3-5.5 7.2-3.8 7.2-1.7 7.3 .7 7.2 3.3 7.2 4.6 7.3 4.3 7.2M133.5 171.6l-3.8 7.2-3.7 7.3-3.2 7.2-1.4 7.2 .7 7.3 2 7.2 2 7.2 1.4 7.3 1.1 7.2 1.1 7.3 1.4 7.2 1.5 7.2 1.1 7.3 .7 7.2 .1 7.2-.3 7.3-.7 7.2M133.6 171.6l8.5 7.2 6.7 7.3 4.8 7.2 1 7.2-2.9 7.3-3.8 7.2-3.4 7.2-4.1 7.3-3.7 7.2-3.1 7.3-2.8 7.2-2.2 7.2-1.2 7.3-.1 7.2 1.3 7.2 2.4 7.3 2.6 7.2M133.5 171.6l.6 7.2 5 7.3 7 7.2 5.9 7.2 1.7 7.3-.6 7.2-1.5 7.2-3.7 7.3-4.3 7.2-4.2 7.3-3.9 7.2-3.8 7.2-2.8 7.3-1.1 7.2 .8 7.2 2.3 7.3 2.7 7.2M133.6 171.6l13.9 7.2 11 7.3 5.8 7.2-3.6 7.2-10.9 7.3-11.8 7.2-9.8 7.2-6.9 7.3-5.7 7.2-3.5 7.3 .2 7.2 3.9 7.2 5.9 7.3 6.4 7.2 4.8 7.2 1.4 7.3-1.1 7.2M133.6 171.6l8.3 7.2 10.8 7.3 10.8 7.2 5.2 7.2-2.2 7.3-2.9 7.2-1.3 7.2-5.6 7.3-6.5 7.2-5.7 7.3-5.4 7.2-5.3 7.2-4.3 7.3-2.4 7.2 .2 7.2 2.5 7.3 3.9 7.2M133.6 171.6l10.8 7.2 9.9 7.3 5.5 7.2-2.2 7.2-9 7.3-10.1 7.2-8.7 7.2-6.2 7.3-5 7.2-2.9 7.3 .1 7.2 3.6 7.2 5.3 7.3 5.4 7.2 3.8 7.2 .9 7.3-1.2 7.2M133.6 171.6l11.1 7.2 8.4 7.3 4.2 7.2-1.8 7.2-7.1 7.3-7.8 7.2-7.1 7.2-5.3 7.3-4.7 7.2-3.7 7.3-2 7.2 .7 7.2 2.6 7.3 3.8 7.2 4.3 7.2 3.1 7.3 1.2 7.2M133.5 171.6l-2.7 7.2-8.3 7.3-10.4 7.2-7.8 7.2-1.5 7.3 3.5 7.2 5.2 7.2 4.4 7.3 4 7.2 4.8 7.3 5.6 7.2 5.2 7.2 3.3 7.3 1.1 7.2-.8 7.2-2.4 7.3-3 7.2M133.5 171.6l4.6 7.2 4.8 7.3 4.4 7.2 2.5 7.2-.5 7.3-1.4 7.2-1.3 7.2-2.3 7.3-2.4 7.2-2.1 7.3-1.9 7.2-2.1 7.2-1.8 7.3-1.3 7.2-.6 7.2 .4 7.3 1.1 7.2M133.6 171.6l8.6 7.2 8.6 7.3 7.8 7.2 4.4 7.2-.6 7.3-2.2 7.2-1.6 7.2-3.7 7.3-3.8 7.2-3.2 7.3-2.7 7.2-3.9 7.2-3.4 7.3-2.7 7.2-1.7 7.2-.6 7.3 .7 7.2M133.5 171.6l3.5 7.2 6.3 7.3 7 7.2 4.7 7.2 .4 7.3-1.6 7.2-2 7.2-3.9 7.3-4.2 7.2-3.9 7.3-3.6 7.2-3.5 7.2-2.7 7.3-1.4 7.2 .4 7.2 2 7.3 2.6 7.2M133.7 171.6l14.7 7.2 9.1 7.3 3.8 7.2-2.1 7.2-6.8 7.3-6.9 7.2-6.1 7.2-5.7 7.3-4.4 7.2-4.2 7.3-3.5 7.2-1.9 7.2-.3 7.3 1.5 7.2 3.7 7.2 4.7 7.3 4.4 7.2M133.5 171.6l0 7.2 2.9 7.3 4.1 7.2 3.4 7.2 1 7.3-.7 7.2-1.2 7.2-2.5 7.3-2.8 7.2-2.6 7.3-2.5 7.2-2 7.2-1.2 7.3-.1 7.2 1.1 7.2 1.6 7.3 1.6 7.2M133.5 171.6l-1 7.2-5 7.3-6.4 7.2-4.6 7.2-.5 7.3 2.9 7.2 3.9 7.2 3.5 7.3 3.4 7.2 3.7 7.3 3.6 7.2 2.2 7.2 .7 7.3-.9 7.2-1.7 7.2-2.1 7.3-1.6 7.2M133.6 171.6l6.9 7.2-1.1 7.3-6.8 7.2-9.4 7.2-6.6 7.3-1.8 7.2 1.5 7.2 2.5 7.3 3.1 7.2 4.6 7.3 5.7 7.2 4.9 7.2 2.8 7.3 .3 7.2-1.6 7.2-2.6 7.3-2.4 7.2M133.5 171.6l.7 7.2 2.1 7.3 2.3 7.2 1.3 7.2-.3 7.3-1.2 7.2-1.5 7.2-1.9 7.3-1.7 7.2-1.4 7.3-1.2 7.2-.4 7.2 .1 7.3 .7 7.2 1.1 7.2 .9 7.3 .4 7.2M133.6 171.6l4.7 7.2 1.8 7.3-1.1 7.2-3.7 7.2-4.5 7.3-2.9 7.2-1.2 7.2-.4 7.3 .3 7.2 1.2 7.3 2.3 7.2 2.7 7.2 2 7.3 .9 7.2-.1 7.2-.9 7.3-1.1 7.2M133.7 171.6l-13.9 7.2-10.9 7.3-6.6 7.2-.3 7.2 6.2 7.3 8.4 7.2 7.4 7.2 5.6 7.3 5.1 7.2 4.7 7.3 4.1 7.2 1.9 7.2-.1 7.3-1.8 7.2-3 7.2-3.5 7.3-3.3 7.2M133.6 171.6l-7.1 7.2-3 7.3 .3 7.2 3.3 7.2 4.6 7.3 4 7.2 3.5 7.2 2.3 7.3 1.5 7.2 1.1 7.3 .9 7.2-.9 7.2-1.8 7.3-2.4 7.2-2.4 7.2-2.3 7.3-1.6 7.2M133.7 171.6l8.3 7.2-1.1 7.3-7.9 7.2-11.2 7.2-8.3 7.3-2.7 7.2 1.2 7.2 2.2 7.3 2.8 7.2 4.7 7.3 6.4 7.2 6.5 7.2 4.2 7.3 1.5 7.2-.9 7.2-2.7 7.3-3 7.2M133.5 171.6l3.1 7.2 3.1 7.3 2.3 7.2 .1 7.2-2 7.3-2.6 7.2-2.6 7.2-2.3 7.3-1.9 7.2-1.5 7.3-.9 7.2 .2 7.2 .9 7.3 1.3 7.2 1.5 7.2 1 7.3 .3 7.2M133.5 171.6l2.3 7.2 .1 7.3-1.3 7.2-2.3 7.2-2 7.3-1.3 7.2-.5 7.2-.5 7.3-.5 7.2-.4 7.3 .3 7.2 .9 7.2 1.2 7.3 1.3 7.2 1.4 7.2 .9 7.3 .4 7.2M133.7 171.6l13.7 7.2 6.6 7.3 1.5 7.2-3.6 7.2-6.9 7.3-6.6 7.2-5.5 7.2-4.1 7.3-4 7.2-3.7 7.3-2.9 7.2-1 7.2 .5 7.3 2.6 7.2 4.3 7.2 4.7 7.3 4.4 7.2M133.6 171.6l-8.4 7.2-.8 7.3 5.7 7.2 9.1 7.2 7.8 7.3 4.8 7.2 2.7 7.2-1.3 7.3-3.5 7.2-4.3 7.3-4.9 7.2-5.5 7.2-4.5 7.3-2.6 7.2 .1 7.2 2.4 7.3 3.3 7.2M133.5 171.6l1.3 7.2-.4 7.3-1.5 7.2-1.9 7.2-1.4 7.3-.5 7.2 0 7.2 .1 7.3 .1 7.2 .3 7.3 .8 7.2 1.1 7.2 1 7.3 .9 7.2 .4 7.2 0 7.3-.3 7.2M133.5 171.6l5.1 7.2 5.3 7.3 4 7.2 .8 7.2-2.8 7.3-3.9 7.2-4 7.2-4 7.3-3.2 7.2-2.8 7.3-2 7.2-.6 7.2 .7 7.3 1.8 7.2 2.4 7.2 2.1 7.3 1.1 7.2M133.5 171.6l-.5 7.2-2.1 7.3-2.8 7.2-2.1 7.2-.3 7.3 1.1 7.2 1.6 7.2 1.4 7.3 1.4 7.2 1.6 7.3 1.6 7.2 1.1 7.2 .5 7.3-.2 7.2-.6 7.2-.9 7.3-.8 7.2M133.6 171.6l-6.3 7.2-.9 7.3 3.9 7.2 6.8 7.2 5.9 7.3 3.5 7.2 1.7 7.2-1.3 7.3-3 7.2-3.6 7.3-3.9 7.2-4 7.2-3 7.3-1.2 7.2 .9 7.2 2.2 7.3 2.3 7.2M133.5 171.6l-2.5 7.2-5.8 7.3-7.2 7.2-5.6 7.2-1.4 7.3 1.9 7.2 3 7.2 2.2 7.3 1.6 7.2 2.2 7.3 3.2 7.2 3.7 7.2 3.4 7.3 2.3 7.2 .8 7.2-.4 7.3-1.3 7.2M133.6 171.6l10.3 7.2 5.8 7.3 2 7.2-2.3 7.2-5.5 7.3-5.4 7.2-4.8 7.2-3.6 7.3-3.3 7.2-2.9 7.3-2.1 7.2-.5 7.2 .8 7.3 2 7.2 3.2 7.2 3.5 7.3 2.8 7.2M133.7 171.6l-8.4 7.2 2.6 7.3 10.3 7.2 12.7 7.2 8.6 7.3 4 7.2-1.2 7.2-3 7.3-4.4 7.2-6.8 7.3-7.1 7.2-7.5 7.2-5.9 7.3-3.1 7.2 .8 7.2 4 7.3 4.4 7.2M133.6 171.6l4.8 7.2 4.3 7.3 3.6 7.2 1.7 7.2-.9 7.3-1.5 7.2-1.4 7.2-2.1 7.3-2.1 7.2-1.7 7.3-1.6 7.2-1.8 7.2-1.3 7.3-1 7.2-.4 7.2 .4 7.3 1 7.2M133.5 171.6l-1.3 7.2 1.9 7.3 3.9 7.2 3.6 7.2 1.4 7.3-.4 7.2-1.4 7.2-2.7 7.3-2.9 7.2-2.6 7.3-2.4 7.2-1.5 7.2-.3 7.3 .7 7.2 1.6 7.2 1.6 7.3 .8 7.2M133.6 171.6l-3.4 7.2 .9 7.3 3.6 7.2 4.8 7.2 3.6 7.3 2.2 7.2 1.6 7.2-.3 7.3-1.3 7.2-1.5 7.3-1.6 7.2-2.8 7.2-2.8 7.3-2.2 7.2-1.3 7.2-.4 7.3 .9 7.2M133.7 171.6l-13.7 7.2-10 7.3-3.5 7.2 5 7.2 10.9 7.3 10.8 7.2 9.3 7.2 6.4 7.3 3.3 7.2 1.1 7.3-.6 7.2-4.5 7.2-5.7 7.3-5.3 7.2-3.6 7.2-1.4 7.3 1.4 7.2M133.5 171.6l.3 7.2-2.2 7.3-3.6 7.2-3.6 7.2-2 7.3-.1 7.2 .7 7.2 .4 7.3 .1 7.2 .4 7.3 1.1 7.2 1.9 7.2 2.1 7.3 2 7.2 1.6 7.2 .9 7.3 0 7.2M133.6 171.6l1.9 7.2-2.8 7.3-5.6 7.2-6.1 7.2-3.8 7.3-.9 7.2 .5 7.2 .3 7.3-.2 7.2 .3 7.3 1.7 7.2 3.1 7.2 3.4 7.3 3.5 7.2 2.8 7.2 1.7 7.3 .1 7.2M133.6 171.6l11.8 7.2 12.7 7.3 7.7 7.2 2.9 7.2-4.1 7.3-9.1 7.2-9.1 7.2-9.8 7.3-7.9 7.2-7 7.3-5.2 7.2-1.9 7.2 2.4 7.3 3.3 7.2 4.9 7.2 5.3 7.3 3.1 7.2M133.6 171.6l-2.1 7.2 3.6 7.3 6.8 7.2 7.4 7.2 4.7 7.3 2.8 7.2 2.5 7.2-.3 7.3-2.4 7.2-1.7 7.3-.8 7.2-2.9 7.2-4.6 7.3-4.6 7.2-3.9 7.2-2.9 7.3-1.6 7.2M133.6 171.6l6.6 7.2 3 7.3 .3 7.2-2.3 7.2-3.8 7.3-3.6 7.2-2.6 7.2-2.1 7.3-2 7.2-1.8 7.3-1.1 7.2 0 7.2 .9 7.3 1.6 7.2 2.4 7.2 2.5 7.3 2 7.2M133.6 171.6l-6.1 7.2-7.6 7.3-7.2 7.2-4.1 7.2 .9 7.3 3.9 7.2 4.5 7.2 3.3 7.3 2.8 7.2 3.1 7.3 3.6 7.2 3.4 7.2 2.3 7.3 1 7.2-.4 7.2-1.4 7.3-2 7.2M133.6 171.6l7.3 7.2 8.5 7.3 6.1 7.2-.3 7.2-6.7 7.3-8.2 7.2-7.8 7.2-5.7 7.3-4.6 7.2-2.9 7.3-.2 7.2 2.9 7.2 4.4 7.3 4.5 7.2 3.1 7.2 .7 7.3-1.1 7.2M133.6 171.6l8.6 7.2 10.6 7.3 10.2 7.2 5.7 7.2-2.2 7.3-2.9 7.2-3.6 7.2-6.4 7.3-6.4 7.2-5.8 7.3-5.3 7.2-5 7.2-3.7 7.3-1.7 7.2 .9 7.2 3 7.3 4.1 7.2M133.5 171.6l-2.2 7.2-2.1 7.3-1.3 7.2-.2 7.2 1.2 7.3 1.7 7.2 1.5 7.2 1.1 7.3 1.2 7.2 .9 7.3 .7 7.2 .2 7.2-.3 7.3-.5 7.2-.7 7.2-.7 7.3-.5 7.2M133.5 171.6l-1.3 7.2 1.4 7.3 3.2 7.2 3.5 7.2 2.2 7.3 1.1 7.2 .8 7.2-.6 7.3-1.2 7.2-1.3 7.3-1.3 7.2-2.1 7.2-2.1 7.3-1.6 7.2-1 7.2-.2 7.3 .5 7.2M133.6 171.6l-6.4 7.2 2.3 7.3 8.4 7.2 10.2 7.2 6.7 7.3 2.8 7.2 .8 7.2-3.5 7.3-5.4 7.2-5.7 7.3-5.9 7.2-5.9 7.2-4.5 7.3-2 7.2 1.1 7.2 3.3 7.3 3.8 7.2M133.6 171.6l9.4 7.2 8.5 7.3 4.6 7.2-2.3 7.2-8.1 7.3-9 7.2-7.3 7.2-5.3 7.3-4.1 7.2-2.2 7.3 .6 7.2 3.6 7.2 4.8 7.3 4.8 7.2 2.9 7.2 .4 7.3-1.3 7.2M133.6 171.6l-13 7.2-12.3 7.3-7.7 7.2-3 7.2 5.7 7.3 9.2 7.2 8.6 7.2 6.7 7.3 6.1 7.2 5.8 7.3 5 7.2 2.3 7.2-.2 7.3-2.4 7.2-3.7 7.2-3.7 7.3-3.3 7.2M133.6 171.6l-3.7 7.2 1.7 7.3 5.3 7.2 6.5 7.2 4.9 7.3 3.4 7.2 3.1 7.2 .7 7.3-.4 7.2-.3 7.3-.7 7.2-2.8 7.2-3.5 7.3-4.3 7.2-4 7.2-3.5 7.3-2.4 7.2M133.5 171.6l-2.5 7.2-1.3 7.3 0 7.2 1.3 7.2 1.9 7.3 1.7 7.2 1.5 7.2 .8 7.3 .4 7.2 0 7.3-.1 7.2-.9 7.2-1 7.3-.9 7.2-.7 7.2-.3 7.3 .1 7.2M133.7 171.6l-14.1 7.2-6.5 7.3 1.5 7.2 8.7 7.2 11.4 7.3 9.4 7.2 7.6 7.2 3.7 7.3 .7 7.2-1.2 7.3-2.1 7.2-5.7 7.2-6.1 7.3-5.1 7.2-3.3 7.2-.8 7.3 1.8 7.2M133.6 171.6l8.3 7.2 2.2 7.3-1.9 7.2-5 7.2-5.8 7.3-4.4 7.2-2.8 7.2-2.4 7.3-2.7 7.2-2.3 7.3-1.2 7.2 .8 7.2 1.9 7.3 3.2 7.2 4.2 7.2 4.4 7.3 3.5 7.2M133.7 171.6l12.8 7.2 7.9 7.3 3.2 7.2-2.4 7.2-6.9 7.3-7.2 7.2-6.4 7.2-5 7.3-4.4 7.2-4 7.3-2.7 7.2-.5 7.2 1.1 7.3 2.8 7.2 4.2 7.2 4.2 7.3 3.2 7.2M133.7 171.6l-14.7 7.2-10.7 7.3-6.8 7.2 .6 7.2 6.2 7.3 7.8 7.2 6.7 7.2 4.9 7.3 4.1 7.2 4.1 7.3 3.7 7.2 2.3 7.2 .8 7.3-.8 7.2-1.9 7.2-3 7.3-3.3 7.2M133.6 171.6l2.2 7.2-5 7.3-8.8 7.2-8.3 7.2-3.1 7.3 2.1 7.2 4.4 7.2 4.4 7.3 4.6 7.2 5.4 7.3 5.4 7.2 3.8 7.2 1.4 7.3-1 7.2-2.4 7.2-2.9 7.3-2.2 7.2M133.5 171.6l3.3 7.2 1.5 7.3 .2 7.2-1.1 7.2-1.8 7.3-1.8 7.2-1.3 7.2-1 7.3-1 7.2-.9 7.3-.6 7.2 0 7.2 .4 7.3 .8 7.2 1.2 7.2 1.2 7.3 .9 7.2M133.7 171.6l-9.7 7.2-2.8 7.3 2.6 7.2 6.5 7.2 7.2 7.3 5.8 7.2 5 7.2 2.6 7.3 1.1 7.2 .4 7.3 .2 7.2-2.7 7.2-3.9 7.3-4.2 7.2-3.8 7.2-2.9 7.3-1.5 7.2M133.6 171.6l-6.8 7.2-7.4 7.3-6.7 7.2-3.4 7.2 1.4 7.3 4.1 7.2 4.3 7.2 3.3 7.3 2.6 7.2 3 7.3 3.3 7.2 3.1 7.2 2 7.3 .8 7.2-.3 7.2-1.4 7.3-1.9 7.2M133.7 171.6l12.5 7.2 5.8 7.3 .7 7.2-4.3 7.2-7.2 7.3-6.8 7.2-5.1 7.2-4 7.3-3.8 7.2-3.4 7.3-2 7.2 .1 7.2 1.7 7.3 3.2 7.2 4.5 7.2 4.5 7.3 3.5 7.2M133.6 171.6l7.9 7.2 .3 7.3-5.3 7.2-8.5 7.2-7.4 7.3-3.7 7.2-.8 7.2 0 7.3 .4 7.2 1.8 7.3 3.7 7.2 5.1 7.2 4.7 7.3 3.3 7.2 1.1 7.2-.6 7.3-2 7.2M133.6 171.6l11.9 7.2 9.2 7.3 6.4 7.2 1.4 7.2-4 7.3-5.2 7.2-4.6 7.2-5.5 7.3-4.9 7.2-4.1 7.3-3.8 7.2-3 7.2-1.8 7.3-.2 7.2 1.6 7.2 3.1 7.3 3.6 7.2M133.7 171.6l-11.9 7.2-7.2 7.3-1.7 7.2 4.6 7.2 8.4 7.3 8 7.2 6.9 7.2 4.8 7.3 2.7 7.2 1.4 7.3 .4 7.2-2.8 7.2-3.9 7.3-4.2 7.2-3.4 7.2-2 7.3-.3 7.2M133.5 171.6l1.2 7.2 6 7.3 8.3 7.2 6.8 7.2 2.2 7.3-.5 7.2-1.2 7.2-3.9 7.3-4.7 7.2-4.4 7.3-4.3 7.2-4.6 7.2-3.6 7.3-2.1 7.2 0 7.2 1.9 7.3 3.1 7.2M133.6 171.6l11.1 7.2 10.9 7.3 9.1 7.2 3.9 7.2-3 7.3-5.1 7.2-4.9 7.2-6.6 7.3-6.3 7.2-5.5 7.3-5 7.2-4.3 7.2-2.7 7.3-.8 7.2 1.6 7.2 3.5 7.3 4.2 7.2M133.6 171.6l5.7 7.2 .2 7.3-3.3 7.2-5.4 7.2-5.1 7.3-3.1 7.2-1.6 7.2-1.5 7.3-1.9 7.2-1.5 7.3-.2 7.2 1.6 7.2 2.5 7.3 3.4 7.2 4 7.2 3.7 7.3 2.5 7.2M133.5 171.6l-2.1 7.2-.4 7.3 .6 7.2 1.5 7.2 1.6 7.3 1.3 7.2 1.1 7.2 .6 7.3 .3 7.2 .2 7.3 .1 7.2-.5 7.2-.8 7.3-1 7.2-1 7.2-.8 7.3-.7 7.2M133.6 171.6l5.2 7.2 2 7.3-.4 7.2-2.5 7.2-3.4 7.3-2.9 7.2-2 7.2-1.5 7.3-1.5 7.2-1.2 7.3-.5 7.2 .6 7.2 1.2 7.3 1.8 7.2 2.1 7.2 1.8 7.3 1.1 7.2M133.6 171.6l7 7.2 3.6 7.3 .6 7.2-2.7 7.2-4.5 7.3-4.3 7.2-3.1 7.2-2.4 7.3-2.2 7.2-1.7 7.3-.6 7.2 .8 7.2 1.7 7.3 2.3 7.2 2.6 7.2 1.9 7.3 .9 7.2M133.5 171.6l2.7 7.2 5.8 7.3 6.8 7.2 4.9 7.2 .8 7.3-1.3 7.2-1.7 7.2-3.8 7.3-4 7.2-3.8 7.3-3.5 7.2-3.5 7.2-2.7 7.3-1.4 7.2 .4 7.2 1.8 7.3 2.6 7.2M133.7 171.6l12.3 7.2 7 7.3 .8 7.2-6.1 7.2-9.9 7.3-8.9 7.2-5.8 7.2-3.9 7.3-3 7.2-1 7.3 1.7 7.2 4.5 7.2 5.3 7.3 5 7.2 2.9 7.2 .4 7.3-1.4 7.2M133.6 171.6l7.8 7.2 10.7 7.3 10.9 7.2 5.7 7.2-2.2 7.3-2.9 7.2-1.3 7.2-5.7 7.3-6.6 7.2-5.9 7.3-5.5 7.2-5.4 7.2-4.3 7.3-2.3 7.2 .3 7.2 2.8 7.3 4 7.2M133.5 171.6l-5.8 7.2-9.8 7.3-9.1 7.2-3.5 7.2 4.2 7.3 8.2 7.2 8.2 7.2 6.8 7.3 6.6 7.2 4.9 7.3 3.4 7.2-.2 7.2-2.8 7.3-3.9 7.2-3.9 7.2-2.6 7.3-.7 7.2M133.6 171.6l-7.9 7.2-4 7.3 .4 7.2 4.6 7.2 6.5 7.3 5.4 7.2 4.4 7.2 2.3 7.3 .5 7.2-.6 7.3-1.3 7.2-3.2 7.2-3.4 7.3-2.8 7.2-1.8 7.2-.3 7.3 1.2 7.2M133.5 171.6l5.2 7.2 7 7.3 6.1 7.2 2 7.2-3.2 7.3-5.2 7.2-5.4 7.2-5.8 7.3-4.5 7.2-4 7.3-2.6 7.2-.5 7.2 1.4 7.3 2.7 7.2 3.3 7.2 2.6 7.3 .9 7.2M133.5 171.6l-1.5 7.2-7.9 7.3-10.8 7.2-8.9 7.2-2.5 7.3 2.9 7.2 4.7 7.2 4.1 7.3 3.7 7.2 4.7 7.3 5.9 7.2 5.8 7.2 3.9 7.3 1.8 7.2-.5 7.2-2.2 7.3-3 7.2M133.5 171.6l5.6 7.2 10.5 7.3 11.5 7.2 7.2 7.2-1.8 7.3-3.3 7.2-5.3 7.2-8 7.3-8 7.2-7.2 7.3-6.5 7.2-5 7.2-2.5 7.3 .3 7.2 3.6 7.2 4.7 7.3 4.4 7.2M133.5 171.6l-1.2 7.2-2 7.3-2.1 7.2-1.5 7.2-.2 7.3 .7 7.2 1 7.2 .6 7.3 .5 7.2 .5 7.3 .9 7.2 1 7.2 1 7.3 .8 7.2 .3 7.2 0 7.3-.3 7.2M133.6 171.6l7.4 7.2 1.8 7.3-2.1 7.2-4.8 7.2-5.4 7.3-3.9 7.2-2.5 7.2-2 7.3-2.3 7.2-1.9 7.3-.7 7.2 1.1 7.2 2.1 7.3 3.1 7.2 3.8 7.2 3.7 7.3 2.6 7.2" stroke="#000" stroke-opacity="0.85" stroke-width="0.42" fill="none"/>
<path d="M133.7 171.6 131.8 173.2 128.9 175.5 126.0 178.0 123.0 180.5 119.9 183.2 117.0 186.0 114.3 188.9 111.9 191.9 110.0 195.0 108.7 198.3 108.0 201.6 108.0 205.0 108.8 208.3 110.2 211.7 112.0 215.0 114.2 218.4 116.7 221.9 119.0 225.0 121.0 227.8 122.8 230.3 124.0 232.0 142.0 232.0 143.2 230.3 145.0 227.8 147.0 225.0 149.3 221.9 151.8 218.4 154.0 215.0 155.8 211.7 157.2 208.3 158.0 205.0 157.9 201.6 157.2 198.3 156.0 195.0 154.4 191.9 152.4 188.9 150.0 186.0 147.2 183.2 144.0 180.5 141.0 178.0 138.2 175.5 135.5 173.2 133.7 171.6Z" fill="#000" fill-opacity="0.7" filter="url(#bl)"/>
<path d="M126.0 228.0 126.6 231.0 127.4 235.3 128.0 240.0 128.2 244.8 128.3 249.9 128.5 255.0 128.9 260.0 129.4 265.0 130.0 270.0 130.6 275.2 131.3 280.4 132.0 285.0 132.7 289.0 133.3 292.3 133.7 294.6 133.7 294.6 134.0 292.3 134.5 289.0 135.0 285.0 135.7 280.4 136.4 275.2 137.0 270.0 137.4 265.0 137.7 260.0 138.0 255.0 138.3 249.9 138.6 244.8 139.0 240.0 139.7 235.3 140.4 231.0 141.0 228.0Z" fill="#000" fill-opacity="1.0" filter="url(#bl)"/>
<path d="M132.3 271.2l.4 1.4M134.2 249.4l.4 1.3M135.8 229.3l.2 .6M136.7 250.0l-.1 1.1M139.7 201.9l.5 .8M143.6 228.8l.1 1M127.4 252.5l-.6 1.3M114.4 193.8l.7 1.2M134.0 288.0l.5 .8M129.8 262.4l.5 1.2M119.6 197.6l-.5 1.3M130.7 252.0l.2 1.3M139.7 254.8l.4 .9M128.2 181.0l-.7 1.2M130.6 266.8l.5 .8M136.0 229.2l.8 1.2M148.0 192.2l-.5 1.3M129.0 252.8l-.8 1.3M130.5 176.2l.7 1.1M132.9 240.5l.1 1.1M127.0 183.2l-.2 1.1M140.6 220.9l.5 1.3M131.3 228.6l-.5 .8M132.0 266.1l-.2 .7M133.6 248.4l-.4 .7M124.3 184.4l-.2 .6M128.1 248.5l0 1M129.3 197.9l.1 .7M133.5 285.4l-.6 1.1M131.8 284.6l.3 1.4M123.0 226.8l.3 .9M144.6 210.4l-.5 .7M131.6 279.9l-.3 .6M131.3 235.4l0 1.5M144.8 203.3l.1 1.2M126.9 178.8l-.4 1M127.2 217.7l.5 1.1M137.7 214.3l.3 .7M125.5 221.6l0 .7M151.7 214.7l.3 .5M144.8 215.6l.4 .8M137.0 251.4l-.1 .7M135.9 265.9l.1 1.4M111.3 201.0l.1 .8M135.4 275.4l0 1.4M134.3 284.3l-.3 1M136.7 184.9l-.1 .7M125.0 202.7l.2 .6M123.5 194.8l.3 .7M132.6 265.7l.2 1.3M130.9 265.9l.6 1.2M118.3 187.0l.2 1.4M137.5 252.5l-.9 1.3M131.0 217.9l.4 1.1M123.3 226.2l.6 1M133.9 178.3l.2 1M128.7 245.3l.6 .9M128.5 181.2l.5 1.2M129.2 239.8l.4 1.4M118.6 188.6l.4 1.2M130.0 262.0l.5 .9M130.6 264.4l-.1 1M144.5 223.0l.1 1.4M137.5 247.8l0 .6M126.0 234.9l-.8 1.2M134.9 239.6l.1 1M131.6 204.2l0 1.3M127.1 223.5l.2 1.3M150.3 196.6l.3 .8M135.1 274.8l-.2 .8M134.2 287.9l-.4 .7M134.1 284.4l.1 .7M133.9 258.6l.3 1.3M135.6 250.5l.7 1.2M142.8 227.6l.3 1.2M129.2 217.0l.6 1.1M133.3 249.8l.4 1.5M134.1 196.1l.2 .8M122.2 215.9l-.5 1M142.5 221.3l.3 1.4M148.7 221.3l.1 .9M134.7 276.9l.5 .8M133.0 281.2l-.3 .5M136.6 229.3l-.2 .7M119.6 197.7l-.4 .6M129.5 190.8l.1 1.2M128.1 216.3l-.4 1.4M133.1 270.5l.1 .9M139.9 245.2l.6 1M145.2 209.6l-.3 .8M135.4 217.9l0 1.1M125.1 241.0l.7 1.4M131.2 176.0l-.1 1.4M134.3 193.0l0 1.4M130.8 234.5l-.2 1.3M145.6 223.1l.1 .9M124.7 232.2l.5 1.3M126.6 212.5l-.2 1M134.7 263.3l.5 1M136.2 264.7l-.3 .7M130.2 203.8l-.4 .6M132.0 247.9l0 1.2M125.5 231.3l.8 1.3M130.4 202.5l.1 1.3M138.6 242.3l.2 .8M133.2 207.7l-.2 1M150.1 213.9l-.3 1.1M124.8 220.8l.1 .7M131.8 263.2l.2 .7M146.9 211.7l-.5 1.2M140.7 224.6l-.5 1.4M123.6 219.7l.6 1.1M146.6 224.6l-.5 1M135.2 252.2l.4 .7M129.0 255.9l-.4 1.4M118.4 202.2l-.6 .9M130.8 269.6l-.5 .8M113.1 198.3l-.6 .9M125.1 220.8l.3 1.4M126.4 242.6l.6 1.2M140.7 217.6l-.2 .7M135.5 279.9l-.3 1.3M128.2 185.9l.2 .8M135.9 179.7l.5 1.1M124.5 193.5l.2 .9M131.4 267.3l.4 .8M132.4 231.5l.5 1.2M141.4 215.5l-.7 1.1M134.8 279.9l.2 .7M153.0 206.1l-.4 .8M132.6 258.4l.7 1.1M132.4 267.6l.7 1.2M138.1 266.8l.4 .9M134.0 271.9l-.4 .7M135.2 263.4l-.6 .8M134.8 278.7l-.3 1.5M142.9 233.3l0 .7M141.7 218.3l-.2 1.3M149.9 200.9l.1 .9M139.8 252.7l.1 .6M132.2 179.3l-.9 1.3M143.4 210.7l-.4 1M141.3 242.3l.2 1M130.2 176.1l-.2 .7M133.6 284.6l-.6 1.4M133.8 255.8l.5 1.3M136.2 220.9l-.4 1.1M150.7 212.3l-.1 .8M137.9 255.6l-.2 .6M125.2 233.7l.4 1.4M153.0 207.8l.2 .8M119.8 212.6l-.4 1.5M140.6 225.6l-.6 1.2M127.9 185.7l.4 1.5M118.4 211.1l.4 .7M130.8 176.3l.2 1M135.5 275.9l.1 .9M138.2 257.5l-.1 1.5M137.2 259.4l-.4 1.1M129.0 232.2l.6 1.1M133.7 267.5l.2 1.1M134.4 280.6l0 1.4M137.2 266.5l.2 1.2M136.5 274.0l-.3 1.5M136.0 275.5l.5 1M129.8 259.0l.1 .7M117.2 207.5l-.3 1.4M144.9 224.1l-.1 .6M133.9 274.7l-.3 .9M137.0 249.5l-.1 1M134.2 285.0l-.7 1.2M127.3 247.6l.2 1.4M133.6 274.4l.7 1.3M132.9 231.9l-.2 1.6M138.6 261.5l-.1 1.5M143.6 213.7l.3 .8M140.1 180.8l-.1 .6M122.6 219.6l-.7 1.1M134.9 279.6l-.4 1.4M131.0 249.2l-.6 1.4M131.9 277.1l-.3 1.4M135.6 176.8l.2 1M132.1 252.5l.3 .7M134.4 283.0l-.2 .7M148.9 215.5l-.6 .9M142.6 234.3l.6 1.2M124.7 213.4l-.3 1.5M132.8 281.6l.5 .7M115.9 213.6l.1 1.2M121.4 192.4l-.3 .6M134.7 250.2l.2 .6M141.4 182.1l-.3 1.2M144.3 222.3l.4 .6M139.0 191.1l-.2 .9M127.4 207.4l-.3 .7M144.6 225.5l-.6 1.1M137.0 257.6l-.2 .7M131.2 264.7l-.8 1.2M143.5 228.1l-.4 .8M134.1 283.6l-.4 1.4M129.9 183.9l.2 .9M142.7 215.4l.7 1.1M129.4 236.9l-.5 1M121.3 208.8l.1 .7M138.0 187.7l-.8 1.4M130.8 214.4l-.6 1.2M133.0 264.3l.6 1.5M138.4 218.8l-.9 1.3M131.7 274.6l-.1 .8M133.0 263.2l-.3 1.4M127.0 207.8l.1 1.6M129.2 187.0l.2 .6M151.5 195.1l-.4 .6M134.5 257.2l.5 1M133.1 268.9l-.1 .9M128.5 232.9l.6 1.3M112.3 205.2l.2 1.3M143.2 197.4l-.3 1.4M130.2 275.2l-.7 1M131.5 280.8l-.5 1.3M120.1 213.2l.1 .8M140.6 223.1l0 1.3M133.9 278.4l.3 .6M136.7 180.6l.2 .7M140.0 212.6l-.2 1.5M135.4 259.7l-.2 1.1M128.5 242.4l.1 .8M134.5 271.3l-.2 .6M136.2 254.9l.2 .7M144.3 190.8l-.2 1.3M146.4 193.8l.2 .6M133.4 266.1l.1 .7M135.5 206.2l.1 1M142.6 208.1l-.6 1.4M133.2 212.3l0 1.1M136.0 259.4l-.4 1.2M119.2 204.7l.8 1.2M129.7 245.0l.5 1M144.3 218.9l.5 1.3M136.8 261.3l-.4 .8" stroke="#fff" stroke-opacity="0.45" stroke-width="0.5" fill="none"/>
<path d="M133.7 171.6 130.7 173.0 126.3 175.0 121.5 177.4 117.2 179.7 113.4 182.1 109.7 184.6 106.4 187.1 103.6 189.4 101.4 191.5 99.8 193.5 98.6 195.4 97.7 197.2 97.2 198.8 97.2 200.2 97.5 201.6 97.8 203.0 98.2 204.3 98.7 205.6 99.5 206.9 100.5 208.5 101.8 210.4 103.5 212.6 105.3 214.9 107.2 217.0 109.2 218.9 111.4 220.7 113.7 222.5 116 224.3 118.5 226.2 121 228.1 123.6 229.9 126 231.6 128.2 233.1 130.2 234.4 132.1 235.7 134 237.0 135.8 238.3 137.6 239.5 139.3 240.8 141 242.0 142.8 243.2 144.6 244.5 146.4 245.8 148 247.0 149.6 248.2 151.1 249.3 152.3 250.5 153 252.0 153.1 253.7 152.7 255.6 151.9 257.7 151 260.0 149.8 262.5 148.4 265.3 146.8 268.2 145.4 270.9 144.1 273.4 142.9 275.8 141.7 278.2 140.5 280.6 139.2 283.2 137.9 285.8 136.6 288.3 135.6 290.3 134.9 291.9 134.3 293.1 134 294.0 133.7 294.6" stroke="#f00" stroke-width="1.05" fill="none"/>
<path d="M133.7 171.6 136.8 173.0 141.2 175.0 146 177.4 150.2 179.7 153.8 182.1 157.2 184.6 160.3 187.2 162.9 189.4 165.1 191.2 166.8 192.7 168.2 194.3 169.2 196.0 169.7 198.1 169.9 200.3 169.7 202.7 169.2 205.0 168.5 207.3 167.5 209.7 166.3 212.0 164.7 214.2 162.7 216.4 160.4 218.5 157.9 220.5 155.5 222.4 153.2 224.1 150.9 225.7 148.7 227.2 146.4 228.8 144.1 230.6 141.7 232.5 139.4 234.4 137.3 236.1 135.4 237.6 133.6 239.0 131.8 240.3 130 241.6 128 242.8 126 243.8 124 244.9 122 246.0 119.9 247.2 117.6 248.5 115.6 249.7 114 251.0 113 252.2 112.5 253.5 112.3 254.7 112.3 256.0 112.7 257.2 113.4 258.3 114.3 259.6 115.2 261.2 116.1 263.3 117 265.8 118 268.4 119.1 270.9 120.4 273.3 121.8 275.8 123.4 278.2 124.9 280.6 126.5 283.2 128.3 285.8 129.9 288.3 131.2 290.3 132.2 291.9 132.8 293.1 133.3 294.0 133.7 294.6" stroke="#f00" stroke-width="1.05" fill="none"/>
<path d="M133.7 171.6 132 172.7 129.6 174.3 126.8 176.1 124 178.0 121 179.9 117.8 182.0 114.6 184.0 112 186.0 110 187.8 108.3 189.6 107 191.3 106 193.0 105.2 194.7 104.7 196.5 104.5 198.2 104.7 200.0 105.4 201.8 106.6 203.6 108.1 205.5 109.6 207.3 111.2 209.1 112.9 211.0 114.8 212.8 116.9 214.6 119.2 216.4 121.6 218.2 124.1 220.1 126.6 221.9 129.1 223.7 131.6 225.6 134.1 227.4 136.4 229.2 138.6 230.9 140.8 232.6 142.7 234.2 144 236.0 144.6 237.8 144.7 239.5 144.6 241.5 144.5 243.7 144.5 246.4 144.4 249.5 144.3 252.6 144.4 255.3 144.8 257.4 145.5 259.2 146 261.0 146.3 263.1 146.2 265.8 145.8 268.7 145.2 271.8 144.4 274.8 143.2 277.8 141.7 280.8 140.1 283.7 138.6 286.4 137.2 288.9 135.8 291.2 134.6 293.2 133.7 294.6" stroke="#f00" stroke-width="1.05" fill="none"/>
<path d="M133.7 171.6 135.2 172.7 137.3 174.2 139.8 176.1 142 178.0 144.1 180.0 146.3 182.2 148.3 184.6 150 187.0 151.3 189.7 152.4 192.5 153.2 195.3 153.7 197.8 154 199.8 154 201.6 153.6 203.3 152.8 205.0 151.4 206.8 149.5 208.7 147.3 210.6 145 212.4 142.4 214.2 139.6 216.0 136.7 217.7 134 219.5 131.7 221.3 129.5 223.0 127.4 224.8 125.4 226.8 123.2 228.9 121 231.2 119.1 233.7 118 236.5 118 239.8 118.9 243.3 120.1 247.2 121 251.4 121.5 256.1 121.8 261.2 122.3 266.3 123 270.9 124.2 274.8 125.7 278.3 127.3 281.5 128.8 284.5 130.2 287.5 131.6 290.4 132.8 292.9 133.7 294.6" stroke="#f00" stroke-width="1.05" fill="none"/>
<path d="M133.7 171.6 133.6 172.4 133.5 173.4 133.2 175.0 132.7 177.4 131.7 181.3 130.3 186.4 129 191.5 128 195.3 127.7 197.1 127.7 197.8 127.7 198.4 127.2 200.0 125.9 203.3 124.2 207.6 122.3 212.0 120.5 215.8 118.9 218.5 117.2 220.7 115.7 222.9 114.5 225.5 113.7 229.0 113.1 232.9 112.7 236.8 112.6 240.0 112.6 242.2 112.8 243.7 113.3 245.3 114.1 247.4 115.4 250.4 117.2 253.8 119.1 257.5 121 261.2 123 264.9 125 268.7 127 272.6 128.8 276.7 130.3 281.4 131.7 286.6 132.9 291.3 133.7 294.6" stroke="#00c400" stroke-opacity="1" stroke-width="1.0" fill="none"/>
<path d="M133.7 171.6 134 171.8 134.4 172.1 135.2 172.7 136.6 173.9 139 176.1 142.2 178.9 145.5 182.0 148.2 185.0 150 187.7 151.4 190.4 152.6 193.1 153.7 196.0 154.8 199.1 155.8 202.2 156.7 205.5 157.4 208.7 157.9 211.8 158.3 214.9 158.4 218.0 158.3 221.5 157.9 225.6 157.1 230.1 156.3 234.4 155.5 237.9 154.8 240.3 154.1 242.1 153.5 243.5 152.8 245.0 152.3 246.5 151.8 247.8 151.2 249.3 150.2 251.4 148.6 254.2 146.5 257.6 144.3 261.3 142.4 265.0 140.7 268.8 139.2 272.8 137.8 276.8 136.6 280.6 135.6 284.5 134.8 288.6 134.2 292.1 133.7 294.6" stroke="#00c400" stroke-opacity="1" stroke-width="1.0" fill="none"/>
</g>
<rect x="88.5" y="171.5" width="90.0" height="124.0" fill="none" stroke="#747474" stroke-width="0.75"/>
<path d="M88.5,295.7v-2.0M88.5,171.1v2.0M96.0,295.7v-1.2M96.0,171.1v1.2M103.5,295.7v-2.0M103.5,171.1v2.0M111.0,295.7v-1.2M111.0,171.1v1.2M118.5,295.7v-2.0M118.5,171.1v2.0M126.0,295.7v-1.2M126.0,171.1v1.2M133.5,295.7v-2.0M133.5,171.1v2.0M140.9,295.7v-1.2M140.9,171.1v1.2M148.4,295.7v-2.0M148.4,171.1v2.0M155.9,295.7v-1.2M155.9,171.1v1.2M163.4,295.7v-2.0M163.4,171.1v2.0M170.9,295.7v-1.2M170.9,171.1v1.2M178.4,295.7v-2.0M178.4,171.1v2.0M88.5,295.7h2.0M178.4,295.7h-2.0M88.5,283.2h1.2M178.4,283.2h-1.2M88.5,270.8h2.0M178.4,270.8h-2.0M88.5,258.3h1.2M178.4,258.3h-1.2M88.5,245.9h2.0M178.4,245.9h-2.0M88.5,233.4h1.2M178.4,233.4h-1.2M88.5,220.9h2.0M178.4,220.9h-2.0M88.5,208.5h1.2M178.4,208.5h-1.2M88.5,196.0h2.0M178.4,196.0h-2.0M88.5,183.6h1.2M178.4,183.6h-1.2M88.5,171.1h2.0M178.4,171.1h-2.0" stroke="#747474" stroke-width="0.6" fill="none"/>
<g class="tl"><text x="88.5" y="302.9" text-anchor="middle">-1.5</text><text x="103.5" y="302.9" text-anchor="middle">-1.0</text><text x="118.5" y="302.9" text-anchor="middle">-0.5</text><text x="133.5" y="302.9" text-anchor="middle">0.0</text><text x="148.4" y="302.9" text-anchor="middle">0.5</text><text x="163.4" y="302.9" text-anchor="middle">1.0</text><text x="178.4" y="302.9" text-anchor="middle">1.5</text><text x="87.2" y="297.7" text-anchor="end">0.0</text><text x="87.2" y="272.8" text-anchor="end">0.2</text><text x="87.2" y="247.9" text-anchor="end">0.4</text><text x="87.2" y="222.9" text-anchor="end">0.6</text><text x="87.2" y="198.0" text-anchor="end">0.8</text><text x="87.2" y="173.1" text-anchor="end">1.0</text></g>
<text class="al" x="129.2" y="308.0">A<tspan font-size="4" dy="1.5">y</tspan></text>
<text class="al" transform="translate(80.2,232.2) rotate(-90)" text-anchor="middle">z/L</text>
<rect x="143.8" y="282" width="32.7" height="9.8" fill="#fff" stroke="#aaa" stroke-width="0.45"/>
<path d="M145.0,284.7h4.4" stroke="#00d000" stroke-width="1"/>
<path d="M145.0,288.6h4.4" stroke="#f22" stroke-width="1"/>
<text class="lg" x="149.6" y="286.3" font-size="4.3" textLength="19.5" lengthAdjust="spacingAndGlyphs">First -order</text>
<text class="lg" x="149.6" y="290.1" font-size="4.3" textLength="26.4" lengthAdjust="spacingAndGlyphs">Second -order</text>
<text class="cap" x="102" y="323.2">(<tspan font-weight="bold">e</tspan>) f = 0.30f<tspan font-size="6.5" dy="0.8">1</tspan></text><g clip-path="url(#cf)">
<path d="M353.3 170.9 348.5 173.1 341.7 176.2 335.4 179.4 330.4 182.5 325.9 185.8 322.2 188.8 319.5 191.5 317.7 193.9 316.5 196.4 315.9 198.9 316.0 201.4 316.5 203.9 317.4 206.4 318.7 209.0 320.3 211.5 322.4 214.0 324.9 216.5 326.9 219.0 328.3 221.6 329.3 224.3 330.0 226.5 330.2 227.7 330.1 228.5 330.0 230.0 329.9 232.8 329.8 236.2 330.0 239.6 330.7 242.8 331.7 245.9 332.9 249.1 334.4 252.3 336.0 255.5 337.7 258.7 339.3 261.9 340.9 265.1 342.5 268.3 344.1 271.5 345.7 274.6 347.3 277.8 348.8 281.2 350.3 284.6 351.5 287.4 352.4 289.4 353.0 290.7 353.4 291.6 353.4 291.6 353.7 290.7 354.2 289.4 354.9 287.4 356.0 284.6 357.3 281.2 358.7 277.8 360.0 274.6 361.3 271.5 362.6 268.3 363.9 265.1 365.1 261.9 366.4 258.7 367.7 255.5 368.9 252.3 370.2 249.1 371.6 245.9 373.0 242.8 374.0 239.6 374.2 236.2 374.1 232.8 374.0 230.0 374.2 228.5 374.4 227.7 375.0 226.5 375.9 224.3 377.1 221.6 378.5 219.0 380.0 216.5 381.7 214.0 383.4 211.5 385.2 209.0 386.9 206.4 388.1 203.9 388.7 201.4 388.7 198.9 388.1 196.4 386.9 193.9 385.0 191.5 382.5 188.8 379.4 185.8 375.7 182.5 371.2 179.4 365.1 176.2 358.2 173.1 353.3 170.9Z" fill="#e0e0e0"/>
<path d="M353.3 170.9l-10.7 7.1-12.5 7.1-9 7.1-.7 7.1 7.4 7.1 11.6 7.1 10.9 7.1 7.9 7.1 6.3 7.1 4.4 7.1 .1 7.1-2.3 7.1-3.8 7.1-4.2 7.1-3.5 7.1-1.9 7.1 0 7.1M353.3 170.9l5.6 7.1-2.8 7.1-8.2 7.1-10 7.1-7.3 7.1-2.3 7.1 2.2 7.1 2 7.1 1.7 7.1 4 7.1 5.8 7.1 5.8 7.1 4.3 7.1 2 7.1 .4 7.1-1.1 7.1-2 7.1M353.3 170.9l-8.9 7.1-1 7.1 4.9 7.1 8.3 7.1 7.8 7.1 4.7 7.1 2.1 7.1 .7 7.1 1.2 7.1-.4 7.1-3.4 7.1-4 7.1-4 7.1-3.6 7.1-2.8 7.1-1.5 7.1-.1 7.1M353.3 170.9l11.2 7.1-.1 7.1-8 7.1-13 7.1-11.4 7.1-5.5 7.1 1.1 7.1 2.4 7.1 1.6 7.1 5.6 7.1 7.8 7.1 7.5 7.1 4.3 7.1 1.9 7.1-.5 7.1-2.2 7.1-2.6 7.1M353.3 170.9l-11.6 7.1-9.7 7.1-3.7 7.1 4.6 7.1 10.5 7.1 11 7.1 7.5 7.1 4.4 7.1 3 7.1 .3 7.1-3.7 7.1-4.8 7.1-4.6 7.1-3.6 7.1-1.8 7.1 .3 7.1 2 7.1M353.3 170.9l-13.2 7.1-10.8 7.1-6.6 7.1 0 7.1 5.7 7.1 8.7 7.1 8.4 7.1 6.2 7.1 5.2 7.1 4.3 7.1 2.3 7.1 .6 7.1-.9 7.1-2.1 7.1-2.7 7.1-2.8 7.1-2.2 7.1M353.3 170.9l-13.9 7.1-10.5 7.1-2.8 7.1 6.9 7.1 12.8 7.1 12.2 7.1 7.8 7.1 4.2 7.1 2.6 7.1-.7 7.1-5 7.1-5.9 7.1-5.4 7.1-3.9 7.1-1.6 7.1 .8 7.1 2.5 7.1M353.3 170.9l-11.6 7.1-12.9 7.1-9.2 7.1-3.1 7.1 1.8 7.1 8.8 7.1 9.9 7.1 7.6 7.1 6.6 7.1 6.1 7.1 4.2 7.1 2 7.1 .1 7.1-1.8 7.1-2.9 7.1-2.9 7.1-2.6 7.1M353.3 170.9l-7.2 7.1-11.9 7.1-11.4 7.1-4.9 7.1 3.5 7.1 9.4 7.1 10.8 7.1 8.6 7.1 7.4 7.1 6 7.1 2.7 7.1 0 7.1-2.1 7.1-3.5 7.1-3.6 7.1-2.7 7.1-1.1 7.1M353.3 170.9l8 7.1 9.8 7.1 9.7 7.1 6.3 7.1-.5 7.1-4.5 7.1-4.9 7.1-5.1 7.1-3.6 7.1-4.3 7.1-5.1 7.1-4.2 7.1-3.2 7.1-1.8 7.1 0 7.1 1.1 7.1 2.4 7.1M353.3 170.9l10.8 7.1 10 7.1 6.7 7.1 .4 7.1-6.3 7.1-9.2 7.1-8.4 7.1-6.8 7.1-6.3 7.1-4.9 7.1-2 7.1 1.4 7.1 3.2 7.1 4.1 7.1 3.8 7.1 2.5 7.1 1 7.1M353.3 170.9l10.5 7.1 2.7 7.1-2.7 7.1-6.7 7.1-8.1 7.1-6.4 7.1-3.2 7.1-2.6 7.1-2.8 7.1-.9 7.1 1.7 7.1 3.9 7.1 4.4 7.1 4.2 7.1 3.4 7.1 2 7.1 .6 7.1M353.3 170.9l4.4 7.1-1.4 7.1-5 7.1-6.7 7.1-5.7 7.1-2.9 7.1-.1 7.1-.5 7.1-1.3 7.1 .1 7.1 2.2 7.1 3.9 7.1 4 7.1 3.6 7.1 2.9 7.1 1.8 7.1 .7 7.1M353.3 170.9l13.7 7.1 10.3 7.1 6.1 7.1-.5 7.1-6.7 7.1-9.3 7.1-8.2 7.1-6.5 7.1-6.2 7.1-5.2 7.1-2.9 7.1 .3 7.1 2.2 7.1 3.5 7.1 3.9 7.1 3.2 7.1 2.4 7.1M353.3 170.9l-10.8 7.1-4.2 7.1 1 7.1 5.3 7.1 6.9 7.1 5.8 7.1 3.9 7.1 2.7 7.1 2.9 7.1 2 7.1-.5 7.1-1.4 7.1-2.3 7.1-2.8 7.1-3.1 7.1-2.9 7.1-2.4 7.1M353.3 170.9l3.7 7.1-2 7.1-5.3 7.1-6.8 7.1-5.6 7.1-2.8 7.1-.2 7.1-.8 7.1-2 7.1-.7 7.1 2.1 7.1 3.5 7.1 3.6 7.1 4.1 7.1 3.9 7.1 3 7.1 2.4 7.1M353.3 170.9l-14.4 7.1-5 7.1 5.6 7.1 13.5 7.1 13.4 7.1 8.1 7.1 2.2 7.1-2 7.1-2 7.1-5.6 7.1-7.9 7.1-6.9 7.1-5.1 7.1-1.5 7.1 1.5 7.1 3 7.1 3.2 7.1M353.3 170.9l-9.2 7.1-11.7 7.1-10.1 7.1-4.2 7.1 3.1 7.1 8.2 7.1 9.4 7.1 7.4 7.1 6.6 7.1 5.7 7.1 3.7 7.1 1.5 7.1-.4 7.1-1.9 7.1-2.9 7.1-2.9 7.1-2.2 7.1M353.3 170.9l-15 7.1-10.9 7.1-7.2 7.1 1.5 7.1 7.7 7.1 10.1 7.1 9.3 7.1 6.6 7.1 5.5 7.1 4.5 7.1 1.7 7.1-.3 7.1-2.2 7.1-2.8 7.1-3.1 7.1-3.1 7.1-2.2 7.1M353.3 170.9l-14.5 7.1-11.4 7.1-7.8 7.1-.7 7.1 5.9 7.1 9.2 7.1 9.1 7.1 6.7 7.1 5.7 7.1 4.9 7.1 2.8 7.1 1.1 7.1-.6 7.1-1.9 7.1-2.9 7.1-2.9 7.1-2.6 7.1M353.3 170.9l8.4 7.1-3.4 7.1-11.5 7.1-14 7.1-9 7.1-.8 7.1 5.9 7.1 6.3 7.1 7 7.1 8.9 7.1 7.2 7.1 4 7.1 1 7.1-1.7 7.1-3.2 7.1-3.2 7.1-1.9 7.1M353.3 170.9l2.9 7.1-3.5 7.1-7.6 7.1-8.3 7.1-5.9 7.1-1.9 7.1 1.5 7.1 .7 7.1-.4 7.1 1.6 7.1 3.7 7.1 5.1 7.1 4.8 7.1 3.8 7.1 2.6 7.1 1.1 7.1-.2 7.1M353.3 170.9l11.2 7.1 2.9 7.1-3.6 7.1-8.6 7.1-10 7.1-7.1 7.1-2.6 7.1-1.3 7.1-.9 7.1 1.9 7.1 4.7 7.1 5.9 7.1 5.1 7.1 3.3 7.1 1.2 7.1-.4 7.1-1.6 7.1M353.3 170.9l-14.5 7.1-8.5 7.1 .7 7.1 10.2 7.1 14 7.1 10.6 7.1 5.6 7.1 1.7 7.1 .1 7.1-3.2 7.1-6.8 7.1-6.7 7.1-5.3 7.1-3 7.1 .1 7.1 2.1 7.1 3 7.1M353.3 170.9l10.5 7.1 2.2 7.1-3.5 7.1-7.6 7.1-8.7 7.1-6.4 7.1-2.8 7.1-2.2 7.1-2.4 7.1-.3 7.1 2.6 7.1 4.7 7.1 4.8 7.1 4.3 7.1 3.2 7.1 1.6 7.1 0 7.1M353.3 170.9l3.1 7.1-3.3 7.1-7.3 7.1-8.2 7.1-5.9 7.1-2 7.1 1.3 7.1 .6 7.1-.4 7.1 1.4 7.1 3.7 7.1 5 7.1 4.7 7.1 3.8 7.1 2.6 7.1 1.1 7.1-.2 7.1M353.3 170.9l14.3 7.1 10.5 7.1 6.9 7.1 1.2 7.1-5.1 7.1-8.2 7.1-7.7 7.1-6.1 7.1-5.1 7.1-5.2 7.1-4.2 7.1-1.9 7.1 0 7.1 1.6 7.1 2.9 7.1 3 7.1 3.2 7.1M353.3 170.9l-4.2 7.1 1.3 7.1 4.7 7.1 6 7.1 5 7.1 2.5 7.1 1 7.1 .4 7.1 1.3 7.1 .5 7.1-2 7.1-2.6 7.1-3 7.1-3.2 7.1-3 7.1-2.7 7.1-1.9 7.1M353.3 170.9l-7.4 7.1 1.5 7.1 7.6 7.1 9.9 7.1 7.9 7.1 3.3 7.1 .1 7.1-1.5 7.1-.7 7.1-2.6 7.1-5.3 7.1-5.1 7.1-4.5 7.1-3.2 7.1-1.7 7.1 .1 7.1 1.7 7.1M353.3 170.9l4.8 7.1 12.1 7.1 12.9 7.1 5 7.1-1.5 7.1-9.8 7.1-11.4 7.1-9.9 7.1-9.4 7.1-8 7.1-3.9 7.1 2.2 7.1 3.6 7.1 5.2 7.1 4.9 7.1 2.8 7.1 .4 7.1M353.3 170.9l-12 7.1-12.9 7.1-8.8 7.1-3.1 7.1 5 7.1 10.2 7.1 10.7 7.1 8.1 7.1 6.9 7.1 5.7 7.1 2.9 7.1 .5 7.1-1.9 7.1-2.8 7.1-3.3 7.1-3.1 7.1-2.1 7.1M353.3 170.9l-10.4 7.1-13 7.1-9.8 7.1-1.2 7.1 7.7 7.1 12.1 7.1 11.6 7.1 8.4 7.1 6.7 7.1 4.4 7.1-.1 7.1-2.7 7.1-4.2 7.1-4.5 7.1-3.6 7.1-1.7 7.1 .3 7.1M353.3 170.9l14.1 7.1 10.3 7.1 5.5 7.1-1.6 7.1-8 7.1-10.2 7.1-8.5 7.1-7 7.1-6.4 7.1-4.8 7.1-1.7 7.1 1.8 7.1 3.5 7.1 4.4 7.1 4.2 7.1 2.9 7.1 1.5 7.1M353.3 170.9l14.7 7.1 10.1 7.1 5.5 7.1-3.1 7.1-9.6 7.1-11.4 7.1-9.2 7.1-7.2 7.1-6.4 7.1-4 7.1 .2 7.1 3.5 7.1 5 7.1 5.2 7.1 4.2 7.1 2.3 7.1 .2 7.1M353.3 170.9l3.5 7.1-2.7 7.1-6.7 7.1-7.8 7.1-6 7.1-2.6 7.1 .6 7.1-.1 7.1-1.2 7.1 .4 7.1 2.8 7.1 4.6 7.1 4.6 7.1 4.2 7.1 3.4 7.1 2.1 7.1 .9 7.1M353.3 170.9l-7.1 7.1 3.5 7.1 10.2 7.1 11.9 7.1 7.9 7.1 1.4 7.1-3.3 7.1-3.8 7.1-4.1 7.1-5.9 7.1-7 7.1-5.9 7.1-4 7.1-1.1 7.1 1.5 7.1 2.7 7.1 3.2 7.1M353.3 170.9l-14 7.1-11.9 7.1-7.8 7.1-3.1 7.1 2.9 7.1 7.6 7.1 8.6 7.1 6 7.1 4.9 7.1 5.2 7.1 4.2 7.1 2.7 7.1 1.2 7.1-.2 7.1-1.4 7.1-2.2 7.1-2.6 7.1M353.3 170.9l-13.5 7.1-12.4 7.1-7.8 7.1 1.9 7.1 9.9 7.1 12.8 7.1 10.8 7.1 7.3 7.1 6 7.1 3.4 7.1-1.5 7.1-2.9 7.1-4.6 7.1-4.6 7.1-3.5 7.1-1.7 7.1 .4 7.1M353.3 170.9l3 7.1 7.4 7.1 9 7.1 7.3 7.1 2.5 7.1-2.3 7.1-4 7.1-4 7.1-2.8 7.1-3.7 7.1-5 7.1-4.2 7.1-3.2 7.1-2.3 7.1-.5 7.1 .9 7.1 2 7.1M353.3 170.9l-13.9 7.1-5 7.1 3.4 7.1 10.2 7.1 11.4 7.1 8.2 7.1 4.2 7.1 1.7 7.1 .5 7.1-.9 7.1-4.1 7.1-5.5 7.1-5.1 7.1-3.9 7.1-2.4 7.1-.3 7.1 1.6 7.1M353.3 170.9l-9.7 7.1-2.6 7.1 3.8 7.1 8.2 7.1 8.2 7.1 5.4 7.1 2.4 7.1 .7 7.1 .6 7.1-1.2 7.1-3.9 7.1-4.2 7.1-3.8 7.1-3 7.1-1.8 7.1-.3 7.1 1.3 7.1M353.3 170.9l-10.9 7.1-13.4 7.1-9.4 7.1-1 7.1 8.3 7.1 12.8 7.1 11.8 7.1 8.4 7.1 6.7 7.1 4.2 7.1-.6 7.1-3 7.1-4.6 7.1-4.7 7.1-3.5 7.1-1.7 7.1 .7 7.1M353.3 170.9l9.3 7.1 10.8 7.1 10.2 7.1 4.5 7.1-1.5 7.1-4.5 7.1-6.6 7.1-6.3 7.1-4.8 7.1-5.2 7.1-5.2 7.1-4.4 7.1-2.5 7.1-.5 7.1 1.3 7.1 2.4 7.1 3.1 7.1M353.3 170.9l5 7.1 10.7 7.1 11.5 7.1 6.7 7.1-1.7 7.1-7.9 7.1-9.3 7.1-8.4 7.1-7.4 7.1-7.7 7.1-5.1 7.1-1.2 7.1 1.7 7.1 3.7 7.1 4.3 7.1 3.3 7.1 1.8 7.1M353.3 170.9l15 7.1 9.8 7.1 6.5 7.1 .7 7.1-4.6 7.1-7.2 7.1-6.4 7.1-5.2 7.1-3.7 7.1-3.7 7.1-3.6 7.1-2.6 7.1-1.1 7.1 .1 7.1 1.4 7.1 2 7.1 2.7 7.1M353.3 170.9l-14.9 7.1-5.4 7.1 5 7.1 13.2 7.1 13.7 7.1 8.6 7.1 3 7.1-1.8 7.1-.8 7.1-5 7.1-7.7 7.1-7 7.1-5.4 7.1-2.3 7.1 .9 7.1 2.8 7.1 3.2 7.1M353.3 170.9l-.4 7.1-8 7.1-11.2 7.1-9.1 7.1-3 7.1 3.4 7.1 7.1 7.1 6.1 7.1 5.6 7.1 6.8 7.1 5.8 7.1 3.4 7.1 1.3 7.1-.6 7.1-2.1 7.1-2.7 7.1-2.3 7.1M353.3 170.9l8.2 7.1 .4 7.1-4.7 7.1-8 7.1-7.9 7.1-4.9 7.1-1.4 7.1-1.1 7.1-1.5 7.1 .4 7.1 3 7.1 4.8 7.1 4.8 7.1 4 7.1 2.8 7.1 1.3 7.1-.2 7.1M353.3 170.9l-9.6 7.1-11.9 7.1-10.8 7.1-4.5 7.1 1.3 7.1 7.1 7.1 9 7.1 6.9 7.1 5.9 7.1 6.4 7.1 4.7 7.1 2.9 7.1 1 7.1-.8 7.1-2.1 7.1-2.8 7.1-2.6 7.1M353.3 170.9l12.1 7.1 4.5 7.1-1.8 7.1-7 7.1-9.2 7.1-8 7.1-4.4 7.1-3 7.1-2.7 7.1-.4 7.1 2.7 7.1 5 7.1 5 7.1 4.2 7.1 2.7 7.1 .9 7.1-.6 7.1" stroke="#000" stroke-opacity="0.75" stroke-width="0.42" fill="none"/>
<path d="M353.3 170.9l-.1 7.1 2.2 7.1 3.3 7.1 3.1 7.1 1.4 7.1-.3 7.1-1.2 7.1-1.4 7.1-1 7.1-1.4 7.1-2 7.1-1.6 7.1-1.3 7.1-.8 7.1-.1 7.1 .4 7.1 .8 7.1M353.3 170.9l2 7.1 2.6 7.1 2.3 7.1 1.1 7.1-.7 7.1-2 7.1-2 7.1-1.8 7.1-1.5 7.1-1.6 7.1-1.2 7.1-.3 7.1 .2 7.1 .7 7.1 .9 7.1 .7 7.1 .6 7.1M353.3 170.9l1.7 7.1-1.2 7.1-3.2 7.1-3.5 7.1-2.1 7.1 0 7.1 1.5 7.1 1.5 7.1 1.7 7.1 2.1 7.1 2.1 7.1 1.2 7.1 .5 7.1-.1 7.1-.7 7.1-.8 7.1-.7 7.1M353.3 170.9l-7.1 7.1-.8 7.1 3.8 7.1 6.4 7.1 6 7.1 3.9 7.1 1.9 7.1 1 7.1 1.5 7.1 .5 7.1-2 7.1-2.7 7.1-3.1 7.1-3.1 7.1-2.8 7.1-2.1 7.1-1.3 7.1M353.3 170.9l15 7.1 9.8 7.1 2.2 7.1-6.4 7.1-11.7 7.1-11.6 7.1-8.4 7.1-5.9 7.1-5 7.1-.6 7.1 2.2 7.1 4.5 7.1 6.3 7.1 5.5 7.1 3.6 7.1 1.3 7.1-.7 7.1M353.3 170.9l2.5 7.1-1.7 7.1-4.3 7.1-5 7.1-3.4 7.1-.7 7.1 1.6 7.1 1.5 7.1 1.4 7.1 2.5 7.1 3.1 7.1 2.7 7.1 1.5 7.1 .6 7.1-.3 7.1-.9 7.1-1.1 7.1M353.3 170.9l15 7.1 9.8 7.1 4.3 7.1-2.4 7.1-7.6 7.1-9 7.1-7.5 7.1-5.9 7.1-5.6 7.1-4.8 7.1-2.5 7.1 .4 7.1 2.5 7.1 3.5 7.1 3.6 7.1 3.2 7.1 3.1 7.1M353.3 170.9l9.1 7.1 7.2 7.1 4.4 7.1-.3 7.1-4.9 7.1-6.7 7.1-5.9 7.1-4.8 7.1-4.4 7.1-3.6 7.1-1.7 7.1 .7 7.1 2.1 7.1 2.7 7.1 2.8 7.1 2.1 7.1 1.2 7.1M353.3 170.9l4.2 7.1-3.3 7.1-7.8 7.1-9 7.1-6.6 7.1-2.2 7.1 1.6 7.1 1.2 7.1 .4 7.1 2.4 7.1 4.6 7.1 5.6 7.1 4.7 7.1 3.5 7.1 1.6 7.1 .2 7.1-1 7.1M353.3 170.9l-.2 7.1 6.3 7.1 9.2 7.1 7.8 7.1 2.7 7.1-2.7 7.1-4.9 7.1-5.3 7.1-4.6 7.1-5.2 7.1-5.3 7.1-3.9 7.1-1.6 7.1 .6 7.1 2.1 7.1 2.6 7.1 2.5 7.1M353.3 170.9l12.3 7.1 4.6 7.1-2.4 7.1-8.2 7.1-10.4 7.1-8.3 7.1-4 7.1-2.2 7.1-1.7 7.1 1.3 7.1 4.4 7.1 6 7.1 5.4 7.1 3.7 7.1 1.4 7.1-.3 7.1-1.5 7.1M353.3 170.9l-6.6 7.1 .6 7.1 5.5 7.1 7.5 7.1 6.7 7.1 3.7 7.1 1.5 7.1 .5 7.1 1.3 7.1-.9 7.1-2.9 7.1-2.8 7.1-3 7.1-3.7 7.1-3.4 7.1-2.5 7.1-1.5 7.1M353.3 170.9l8.9 7.1-3.5 7.1-11.8 7.1-14.7 7.1-9.9 7.1-.2 7.1 5.5 7.1 4 7.1 6.3 7.1 8.7 7.1 8.6 7.1 5.2 7.1 2.2 7.1-.8 7.1-2.9 7.1-2.9 7.1-2.6 7.1M353.3 170.9l-.6 7.1 1.5 7.1 2.5 7.1 2.6 7.1 1.5 7.1 .2 7.1-.7 7.1-.8 7.1-.5 7.1-.9 7.1-1.5 7.1-1.4 7.1-1.2 7.1-.8 7.1-.4 7.1 0 7.1 .5 7.1M353.3 170.9l-12.8 7.1-8.6 7.1-2.6 7.1 4.4 7.1 9.1 7.1 9.6 7.1 6.8 7.1 4.5 7.1 3.7 7.1 1.9 7.1-1.5 7.1-3 7.1-3.6 7.1-3.6 7.1-2.8 7.1-1.5 7.1 0 7.1M353.3 170.9l9.6 7.1 5.5 7.1 .1 7.1-5.5 7.1-8.6 7.1-7.9 7.1-4.4 7.1-2.4 7.1-1.4 7.1 1.3 7.1 3.9 7.1 5.2 7.1 4.2 7.1 2.3 7.1 .5 7.1-.8 7.1-1.5 7.1M353.3 170.9l11.2 7.1 11 7.1 6.4 7.1-2 7.1-9.9 7.1-12.2 7.1-9.9 7.1-7.3 7.1-5.8 7.1-2.1 7.1 2.5 7.1 6 7.1 6.4 7.1 5 7.1 2.3 7.1 .1 7.1-1.6 7.1M353.3 170.9l-12.4 7.1-3.4 7.1 5.1 7.1 11.3 7.1 10.9 7.1 6.8 7.1 2.4 7.1-.3 7.1-.8 7.1-3.3 7.1-6.1 7.1-5.8 7.1-4.7 7.1-3.2 7.1-.5 7.1 1.4 7.1 2.7 7.1M353.3 170.9l-3 7.1 1.6 7.1 4.3 7.1 5.1 7.1 3.9 7.1 1.4 7.1-.2 7.1-.8 7.1-.2 7.1-1.2 7.1-2.7 7.1-2.7 7.1-2.4 7.1-2 7.1-1.2 7.1-.4 7.1 .5 7.1M353.3 170.9l2.9 7.1 4 7.1 4.1 7.1 3 7.1 .7 7.1-1.3 7.1-1.9 7.1-1.8 7.1-1 7.1-1.4 7.1-2.2 7.1-1.9 7.1-1.6 7.1-1.2 7.1-.7 7.1-.1 7.1 .4 7.1M353.3 170.9l10.1 7.1 2.8 7.1-2.6 7.1-6.7 7.1-8.1 7.1-6.3 7.1-3.1 7.1-2.2 7.1-2.3 7.1-.3 7.1 2.2 7.1 4.3 7.1 4.5 7.1 3.8 7.1 2.8 7.1 1.2 7.1-.1 7.1M353.3 170.9l-12.8 7.1-2.3 7.1 7 7.1 12.7 7.1 11.7 7.1 6.4 7.1 1.5 7.1-2.8 7.1-.7 7.1-4 7.1-7.1 7.1-6.5 7.1-5.2 7.1-2.9 7.1 0 7.1 1.9 7.1 3.2 7.1M353.3 170.9l-10.7 7.1-10.6 7.1-8.9 7.1-4.1 7.1 1.4 7.1 5.3 7.1 6.9 7.1 4.6 7.1 3.3 7.1 4.2 7.1 4.5 7.1 3.9 7.1 2.2 7.1 1.1 7.1-.1 7.1-1.1 7.1-1.8 7.1M353.3 170.9l2.1 7.1 3.5 7.1 3.4 7.1 2 7.1-.6 7.1-2.4 7.1-2.8 7.1-2.5 7.1-2.1 7.1-2.3 7.1-1.7 7.1-.7 7.1 .1 7.1 .9 7.1 1.2 7.1 1.1 7.1 .8 7.1M353.3 170.9l8.2 7.1 8.2 7.1 5.2 7.1-.6 7.1-6.3 7.1-8.4 7.1-7.3 7.1-5.7 7.1-4.9 7.1-2.8 7.1 .4 7.1 3.2 7.1 4.1 7.1 3.8 7.1 2.6 7.1 .9 7.1-.6 7.1M353.3 170.9l5.7 7.1 6 7.1 4.1 7.1-.2 7.1-4.6 7.1-6.3 7.1-5.4 7.1-4.3 7.1-3.6 7.1-2 7.1 .4 7.1 2.5 7.1 3.1 7.1 2.8 7.1 1.9 7.1 .4 7.1-.5 7.1M353.3 170.9l6 7.1-1.5 7.1-6.3 7.1-8.7 7.1-6.9 7.1-3 7.1 .9 7.1 .9 7.1 .6 7.1 2.7 7.1 4.6 7.1 5.3 7.1 4.1 7.1 2.5 7.1 .8 7.1-.5 7.1-1.4 7.1M353.3 170.9l7.5 7.1 2 7.1-2.2 7.1-5.6 7.1-6.5 7.1-4.8 7.1-1.9 7.1-1 7.1-.8 7.1 1.1 7.1 2.9 7.1 3.9 7.1 3.4 7.1 2.3 7.1 .9 7.1-.2 7.1-1 7.1M353.3 170.9l-9.4 7.1-10.6 7.1-9.1 7.1-4.2 7.1 1.8 7.1 6 7.1 7.6 7.1 5.6 7.1 4.6 7.1 5.2 7.1 4.4 7.1 2.8 7.1 1.3 7.1-.1 7.1-1.4 7.1-2.1 7.1-2.3 7.1M353.3 170.9l-3.7 7.1-1.1 7.1 1.1 7.1 2.8 7.1 3.1 7.1 2.1 7.1 1 7.1 .4 7.1 .3 7.1-.3 7.1-1.4 7.1-1.4 7.1-1.4 7.1-1.1 7.1-.7 7.1-.1 7.1 .4 7.1M353.3 170.9l-10.3 7.1-5 7.1 0 7.1 4.6 7.1 6.8 7.1 6.1 7.1 4.1 7.1 2.8 7.1 2.7 7.1 1.6 7.1-.8 7.1-1.7 7.1-2.4 7.1-2.7 7.1-2.6 7.1-2 7.1-1.2 7.1M353.3 170.9l-3 7.1-5.6 7.1-5.9 7.1-3.3 7.1 .5 7.1 3.7 7.1 4.8 7.1 3.9 7.1 3.6 7.1 3.4 7.1 2.2 7.1 1 7.1-.1 7.1-1 7.1-1.6 7.1-1.5 7.1-1.1 7.1M353.3 170.9l9.1 7.1 1.1 7.1-5 7.1-9 7.1-9 7.1-4.9 7.1-.4 7.1 .6 7.1 1.1 7.1 3.6 7.1 5.5 7.1 5.5 7.1 3.7 7.1 1.6 7.1-.1 7.1-1.4 7.1-1.9 7.1M353.3 170.9l-5.7 7.1-1 7.1 2.7 7.1 4.9 7.1 4.8 7.1 3.1 7.1 1.5 7.1 .7 7.1 .9 7.1 .1 7.1-1.8 7.1-2.2 7.1-2.4 7.1-2.3 7.1-1.8 7.1-1.1 7.1-.4 7.1M353.3 170.9l8.5 7.1 6.1 7.1 3.8 7.1 .3 7.1-3.3 7.1-4.9 7.1-4.6 7.1-3.6 7.1-3.1 7.1-3.1 7.1-2.2 7.1-.9 7.1 .3 7.1 1.2 7.1 1.8 7.1 1.9 7.1 1.9 7.1M353.3 170.9l-5.9 7.1-1.2 7.1 2.7 7.1 5.1 7.1 5 7.1 3.2 7.1 1.4 7.1 .4 7.1 .5 7.1-.5 7.1-2.3 7.1-2.5 7.1-2.5 7.1-2 7.1-1.3 7.1-.5 7.1 .4 7.1M353.3 170.9l-2.8 7.1 2.9 7.1 5.9 7.1 6.7 7.1 4.4 7.1 1 7.1-1 7.1-1.7 7.1-1 7.1-2.2 7.1-3.7 7.1-3.6 7.1-2.9 7.1-2.1 7.1-1.1 7.1 .1 7.1 1.2 7.1M353.3 170.9l-15 7.1-10.9 7.1-4.2 7.1 6 7.1 11.6 7.1 12.1 7.1 8.4 7.1 5.6 7.1 4.6 7.1 1.6 7.1-2.9 7.1-2.8 7.1-4.2 7.1-4.6 7.1-3.5 7.1-1.9 7.1 .1 7.1M353.3 170.9l10.8 7.1 11.2 7.1 8.8 7.1 2.6 7.1-4.9 7.1-9.1 7.1-9.1 7.1-7.5 7.1-6.8 7.1-6.3 7.1-4 7.1-.5 7.1 1.9 7.1 3.4 7.1 4.1 7.1 3.3 7.1 2.1 7.1M353.3 170.9l11 7.1 5.7 7.1 1.3 7.1-3.2 7.1-6.3 7.1-6.4 7.1-5.1 7.1-4 7.1-3.8 7.1-2.7 7.1-.7 7.1 1.6 7.1 2.6 7.1 3 7.1 3.1 7.1 2.4 7.1 1.5 7.1M353.3 170.9l-9.9 7.1-4.5 7.1-.1 7.1 3.7 7.1 5.5 7.1 5.4 7.1 3.7 7.1 2.6 7.1 2.6 7.1 2.1 7.1 .1 7.1-.7 7.1-1.4 7.1-2 7.1-2.4 7.1-2.4 7.1-2.2 7.1M353.3 170.9l-6 7.1 4.6 7.1 10.9 7.1 12.1 7.1 7.3 7.1-.1 7.1-4.3 7.1-3.7 7.1-4.6 7.1-6.3 7.1-7.1 7.1-6 7.1-3.8 7.1-.8 7.1 1.7 7.1 3 7.1 3.2 7.1M353.3 170.9l15 7.1 7.4 7.1-2.6 7.1-10.7 7.1-14.1 7.1-11.3 7.1-5.1 7.1-1.9 7.1 0 7.1 .7 7.1 6.6 7.1 8.3 7.1 6.8 7.1 3.7 7.1 1 7.1-1.2 7.1-2.5 7.1M353.3 170.9l2.7 7.1 10.3 7.1 12.5 7.1 9.1 7.1-1.3 7.1-4.5 7.1-7.9 7.1-8.3 7.1-7.3 7.1-7.7 7.1-6.9 7.1-3.4 7.1-.2 7.1 3.1 7.1 3.6 7.1 3.4 7.1 2.9 7.1M353.3 170.9l10.6 7.1 11.4 7.1 9.7 7.1 3.1 7.1-1.5 7.1-4.5 7.1-6.6 7.1-6.6 7.1-5.1 7.1-5.4 7.1-5.3 7.1-4.5 7.1-2.3 7.1-.3 7.1 1.6 7.1 2.6 7.1 3.2 7.1M353.3 170.9l12 7.1 9.7 7.1 6.7 7.1 1.5 7.1-4.3 7.1-7.4 7.1-7.1 7.1-5.8 7.1-4.7 7.1-5 7.1-3.9 7.1-1.7 7.1 .1 7.1 1.6 7.1 2.8 7.1 2.8 7.1 2.8 7.1M353.3 170.9l4.1 7.1 2.3 7.1 1 7.1-.5 7.1-1.7 7.1-2 7.1-1.7 7.1-1.3 7.1-1.2 7.1-1.1 7.1-.8 7.1-.2 7.1 .2 7.1 .5 7.1 .7 7.1 .8 7.1 .9 7.1M353.3 170.9l-.2 7.1 5.6 7.1 8.3 7.1 7.7 7.1 3.6 7.1-1 7.1-3 7.1-3.6 7.1-2.6 7.1-3.6 7.1-4.9 7.1-4.2 7.1-3.2 7.1-1.9 7.1-.2 7.1 1.1 7.1 2.2 7.1M353.3 170.9l12.9 7.1 11.9 7.1 6.9 7.1 2.3 7.1-6.9 7.1-10.7 7.1-9.9 7.1-8.1 7.1-7.5 7.1-6.2 7.1-2.9 7.1 1.3 7.1 3.6 7.1 3.9 7.1 4.6 7.1 3.2 7.1 1.6 7.1M353.3 170.9l-8.3 7.1-10.7 7.1-10.5 7.1-6.3 7.1 .3 7.1 4.3 7.1 6.8 7.1 5 7.1 3.6 7.1 4.8 7.1 5.5 7.1 4.9 7.1 2.8 7.1 1.4 7.1-.1 7.1-1.3 7.1-2.1 7.1M353.3 170.9l4.1 7.1 6.4 7.1 7.2 7.1 5.5 7.1 1.7 7.1-1.8 7.1-3 7.1-2.8 7.1-1.5 7.1-2.2 7.1-3.8 7.1-3.4 7.1-2.9 7.1-2.2 7.1-1.4 7.1-.5 7.1 .6 7.1M353.3 170.9l-10.2 7.1-5.4 7.1-.4 7.1 4.6 7.1 7.2 7.1 6.6 7.1 4.4 7.1 2.8 7.1 2.5 7.1 1.2 7.1-1.4 7.1-2.4 7.1-2.9 7.1-2.8 7.1-2.2 7.1-1.4 7.1-.2 7.1M353.3 170.9l-14 7.1-10.9 7.1-6.8 7.1-.8 7.1 4.6 7.1 7.4 7.1 7.7 7.1 5.4 7.1 4.5 7.1 4.4 7.1 3.1 7.1 1.8 7.1 .6 7.1-.6 7.1-1.6 7.1-2.2 7.1-2.5 7.1M353.3 170.9l9.8 7.1 11.3 7.1 10.2 7.1 3.5 7.1-1.5 7.1-5.2 7.1-7.8 7.1-6.8 7.1-5.5 7.1-5.6 7.1-5.6 7.1-4 7.1-1.7 7.1 .5 7.1 2.3 7.1 3 7.1 3.2 7.1M353.3 170.9l-7.9 7.1-7.1 7.1-5.6 7.1-2.5 7.1 .8 7.1 3.4 7.1 4.3 7.1 2.7 7.1 1.6 7.1 2.2 7.1 2.7 7.1 2.6 7.1 2 7.1 1.2 7.1 .5 7.1-.2 7.1-.7 7.1M353.3 170.9l-10.4 7.1-10.5 7.1-8.8 7.1-4 7.1 1.3 7.1 5.3 7.1 6.9 7.1 4.6 7.1 3.4 7.1 4.2 7.1 4.5 7.1 3.8 7.1 2.1 7.1 .9 7.1-.2 7.1-1.2 7.1-1.8 7.1M353.3 170.9l8.9 7.1 6.9 7.1 2.9 7.1-2.7 7.1-7.2 7.1-7.9 7.1-6.2 7.1-4.3 7.1-3.5 7.1-1.2 7.1 1.7 7.1 4 7.1 4.2 7.1 3.3 7.1 1.8 7.1 .3 7.1-.9 7.1M353.3 170.9l-.1 7.1-2.7 7.1-4 7.1-3.8 7.1-2.1 7.1 0 7.1 1.6 7.1 .9 7.1 .5 7.1 1.2 7.1 2.1 7.1 2.4 7.1 2.1 7.1 1.5 7.1 .7 7.1 .1 7.1-.4 7.1M353.3 170.9l14.2 7.1 10 7.1 6 7.1 .4 7.1-5.4 7.1-8.1 7.1-7.4 7.1-5.8 7.1-4.9 7.1-5 7.1-3.7 7.1-1.5 7.1 .4 7.1 1.9 7.1 2.9 7.1 3 7.1 3.1 7.1M353.3 170.9l-7.9 7.1-6.4 7.1-3.7 7.1 .6 7.1 4.2 7.1 5.6 7.1 5.3 7.1 3.7 7.1 3.1 7.1 2.5 7.1 .8 7.1-.3 7.1-1.2 7.1-1.8 7.1-1.9 7.1-1.6 7.1-1 7.1M353.3 170.9l10.5 7.1 10 7.1 8.8 7.1 5 7.1-1 7.1-4.5 7.1-5.2 7.1-4.6 7.1-2.8 7.1-3.4 7.1-4.6 7.1-3.8 7.1-3 7.1-2 7.1-1 7.1 .3 7.1 1.4 7.1M353.3 170.9l-3 7.1-4.1 7.1-4.4 7.1-3.2 7.1-1.1 7.1 .8 7.1 2.1 7.1 1.1 7.1 .2 7.1 .8 7.1 1.7 7.1 2.4 7.1 2.2 7.1 1.9 7.1 1.4 7.1 .9 7.1 .3 7.1M353.3 170.9l-5 7.1-5 7.1-4.2 7.1-2.2 7.1 .3 7.1 2.2 7.1 3 7.1 1.9 7.1 1.2 7.1 1.7 7.1 2.1 7.1 2 7.1 1.5 7.1 .9 7.1 .3 7.1-.1 7.1-.6 7.1M353.3 170.9l-2 7.1 3.1 7.1 5.7 7.1 6.2 7.1 3.9 7.1 .7 7.1-1 7.1-1.6 7.1-.8 7.1-1.8 7.1-3.4 7.1-3.4 7.1-2.9 7.1-2.1 7.1-1.2 7.1-.2 7.1 .8 7.1M353.3 170.9l2.5 7.1-1.1 7.1-3.5 7.1-4.4 7.1-3.3 7.1-1.1 7.1 .8 7.1 .8 7.1 .6 7.1 1.6 7.1 2.5 7.1 2.6 7.1 2 7.1 1 7.1 .3 7.1-.4 7.1-.9 7.1M353.3 170.9l9.6 7.1 3.6 7.1-.4 7.1-3.8 7.1-5.5 7.1-5.1 7.1-3.7 7.1-2.9 7.1-3.2 7.1-2.2 7.1-.7 7.1 1.3 7.1 2.2 7.1 2.8 7.1 3 7.1 2.7 7.1 2.4 7.1M353.3 170.9l-8.5 7.1-6.6 7.1-4.5 7.1-1.1 7.1 2 7.1 4 7.1 4.3 7.1 2.8 7.1 2.1 7.1 2.4 7.1 2.4 7.1 1.6 7.1 1 7.1 .3 7.1-.3 7.1-.7 7.1-1.2 7.1M353.3 170.9l6.5 7.1 4.9 7.1 3.4 7.1 .8 7.1-2 7.1-3.5 7.1-3.4 7.1-2.7 7.1-2.1 7.1-2.2 7.1-2 7.1-1.2 7.1-.4 7.1 .3 7.1 1 7.1 1.2 7.1 1.4 7.1M353.3 170.9l5.7 7.1 .8 7.1-2.8 7.1-5 7.1-5.4 7.1-3.3 7.1-.9 7.1-.3 7.1-.3 7.1 1.1 7.1 2.6 7.1 3.4 7.1 2.8 7.1 1.9 7.1 .7 7.1-.1 7.1-.9 7.1M353.3 170.9l-2.7 7.1-3.6 7.1-3.7 7.1-2.6 7.1-.7 7.1 1 7.1 2.1 7.1 1.2 7.1 .5 7.1 1.1 7.1 1.7 7.1 2 7.1 1.7 7.1 1.2 7.1 .8 7.1 .2 7.1-.2 7.1M353.3 170.9l-.7 7.1 1 7.1 1.9 7.1 2.1 7.1 1.5 7.1 .5 7.1 0 7.1-.2 7.1 .2 7.1-.1 7.1-.9 7.1-1 7.1-1.1 7.1-1.1 7.1-.9 7.1-.7 7.1-.5 7.1M353.3 170.9l2.8 7.1 3 7.1 2.6 7.1 1.2 7.1-.8 7.1-2.1 7.1-2.2 7.1-1.9 7.1-1.6 7.1-1.6 7.1-1.5 7.1-.7 7.1-.1 7.1 .4 7.1 .8 7.1 .9 7.1 .8 7.1M353.3 170.9l6.8 7.1 3.4 7.1 1 7.1-1.2 7.1-2.9 7.1-3.3 7.1-2.6 7.1-2.1 7.1-2 7.1-1.7 7.1-1.1 7.1-.2 7.1 .5 7.1 1 7.1 1.4 7.1 1.4 7.1 1.7 7.1M353.3 170.9l-4.3 7.1-8.7 7.1-10.3 7.1-7.8 7.1-2.9 7.1 2.8 7.1 5.5 7.1 2.8 7.1 2.2 7.1 3.8 7.1 5.3 7.1 5.5 7.1 4.4 7.1 2.6 7.1 1 7.1-.4 7.1-1.4 7.1M353.3 170.9l1.3 7.1-5.2 7.1-8.7 7.1-8.3 7.1-4.5 7.1 .3 7.1 3.9 7.1 3.1 7.1 2.6 7.1 4.2 7.1 5.3 7.1 4.9 7.1 3.1 7.1 1.4 7.1-.1 7.1-1.3 7.1-1.9 7.1M353.3 170.9l3.2 7.1-.2 7.1-2.4 7.1-3.7 7.1-3.5 7.1-1.9 7.1-.5 7.1-.4 7.1-.9 7.1 0 7.1 1.2 7.1 2.2 7.1 2.2 7.1 2 7.1 1.5 7.1 .9 7.1 .3 7.1M353.3 170.9l-8.4 7.1-2.7 7.1 2.9 7.1 7.1 7.1 7.5 7.1 4.7 7.1 2 7.1 0 7.1-.3 7.1-2.1 7.1-4 7.1-3.8 7.1-3.1 7.1-2.1 7.1-.3 7.1 .9 7.1 1.8 7.1M353.3 170.9l-10.2 7.1-4.5 7.1 2.4 7.1 8.2 7.1 9.4 7.1 6.4 7.1 2.8 7.1 .3 7.1-.4 7.1-2.7 7.1-4.9 7.1-4.6 7.1-3.7 7.1-2.1 7.1 .1 7.1 1.4 7.1 2.2 7.1M353.3 170.9l6.9 7.1-1.2 7.1-6.8 7.1-9.7 7.1-7.2 7.1-2.1 7.1 2.6 7.1 3.2 7.1 3.8 7.1 5.5 7.1 5.7 7.1 3.6 7.1 1.5 7.1-.3 7.1-1.7 7.1-2.1 7.1-1.7 7.1M353.3 170.9l4.2 7.1 1.7 7.1-.3 7.1-2.2 7.1-3 7.1-2.8 7.1-1.7 7.1-1.1 7.1-1.2 7.1-.3 7.1 .7 7.1 1.5 7.1 1.6 7.1 1.5 7.1 1 7.1 .5 7.1-.1 7.1M353.3 170.9l7.7 7.1 6.5 7.1 3.1 7.1-2 7.1-6.4 7.1-7.3 7.1-5.9 7.1-4.1 7.1-3.3 7.1-1.2 7.1 1.6 7.1 3.7 7.1 3.8 7.1 3.1 7.1 1.5 7.1 .1 7.1-.9 7.1M353.3 170.9l-.7 7.1 1.7 7.1 3.1 7.1 3.3 7.1 1.9 7.1 .3 7.1-.6 7.1-.9 7.1-.4 7.1-1 7.1-1.8 7.1-1.7 7.1-1.6 7.1-1.1 7.1-.7 7.1-.2 7.1 .4 7.1M353.3 170.9l9.1 7.1 .9 7.1-5.5 7.1-9.5 7.1-9.1 7.1-4.8 7.1 0 7.1 1 7.1 1.6 7.1 4.1 7.1 5.8 7.1 5.7 7.1 3.4 7.1 1.4 7.1-.4 7.1-1.6 7.1-2 7.1M353.3 170.9l-3.1 7.1-6.6 7.1-7.5 7.1-5 7.1-.8 7.1 3.2 7.1 5.3 7.1 4 7.1 3.6 7.1 4.3 7.1 3.9 7.1 2.4 7.1 1 7.1-.1 7.1-1.1 7.1-1.7 7.1-1.7 7.1M353.3 170.9l-9.3 7.1-4 7.1 1.9 7.1 7.2 7.1 8.3 7.1 5.8 7.1 2.8 7.1 .6 7.1 0 7.1-1.9 7.1-4.1 7.1-4.1 7.1-3.3 7.1-2.3 7.1-.4 7.1 1 7.1 1.9 7.1M353.3 170.9l10.4 7.1 5.1 7.1 .9 7.1-3.2 7.1-6 7.1-6.1 7.1-4.7 7.1-3.6 7.1-3.5 7.1-2.5 7.1-.5 7.1 1.6 7.1 2.5 7.1 2.9 7.1 3 7.1 2.2 7.1 1.5 7.1M353.3 170.9l-10.5 7.1-9.6 7.1-6.6 7.1-1.1 7.1 4.2 7.1 7.2 7.1 7.4 7.1 5.5 7.1 4.8 7.1 4 7.1 2.4 7.1 .9 7.1-.4 7.1-1.5 7.1-2.3 7.1-2.4 7.1-1.9 7.1M353.3 170.9l-5.8 7.1-11 7.1-10.4 7.1-3.9 7.1 4.1 7.1 9.6 7.1 10.4 7.1 8.1 7.1 6.6 7.1 4.8 7.1 1.1 7.1-1.6 7.1-3.3 7.1-3.8 7.1-3.3 7.1-1.7 7.1 .1 7.1M353.3 170.9l5.4 7.1 6.6 7.1 6 7.1 2.9 7.1-1.5 7.1-4.5 7.1-4.9 7.1-4.4 7.1-3.6 7.1-3.8 7.1-3.3 7.1-1.6 7.1-.1 7.1 1.1 7.1 2 7.1 1.9 7.1 1.8 7.1M353.3 170.9l-12.7 7.1-13.2 7.1-7.8 7.1-3.1 7.1 4.5 7.1 11 7.1 11.3 7.1 8.6 7.1 7.1 7.1 5.9 7.1 2.6 7.1-.1 7.1-2.8 7.1-2.8 7.1-3.4 7.1-3.2 7.1-1.9 7.1M353.3 170.9l-8 7.1-4.3 7.1 0 7.1 4.3 7.1 6.4 7.1 5.4 7.1 3.5 7.1 1.8 7.1 1.5 7.1 .2 7.1-2 7.1-2.6 7.1-2.7 7.1-2.3 7.1-1.4 7.1-.4 7.1 .6 7.1M353.3 170.9l-1.9 7.1-7.7 7.1-9.1 7.1-5.2 7.1 1.2 7.1 6.2 7.1 7.9 7.1 6.7 7.1 5.6 7.1 4.5 7.1 1.6 7.1-.5 7.1-2.2 7.1-2.9 7.1-2.6 7.1-1.5 7.1-.1 7.1M353.3 170.9l9.9 7.1 3.9 7.1-1.8 7.1-6.7 7.1-8.6 7.1-6.9 7.1-3.2 7.1-1.6 7.1-1 7.1 1.6 7.1 4 7.1 5.1 7.1 4.3 7.1 2.4 7.1 .8 7.1-.6 7.1-1.5 7.1M353.3 170.9l-8.8 7.1-13.1 7.1-11.2 7.1-3.1 7.1 6.1 7.1 11.7 7.1 12 7.1 9.1 7.1 7.3 7.1 5.3 7.1 .8 7.1-2 7.1-3.8 7.1-4.5 7.1-3.7 7.1-2.1 7.1 0 7.1M353.3 170.9l-5.7 7.1-8.2 7.1-7.8 7.1-3.8 7.1 1.3 7.1 5.2 7.1 6.7 7.1 5.2 7.1 4.6 7.1 4.5 7.1 3.1 7.1 1.6 7.1 .1 7.1-1 7.1-1.9 7.1-2.1 7.1-1.7 7.1M353.3 170.9l.3 7.1-6.7 7.1-10 7.1-8.1 7.1-2.8 7.1 3.1 7.1 6.5 7.1 5.6 7.1 5.5 7.1 6.2 7.1 4.7 7.1 2.6 7.1 .7 7.1-1.1 7.1-2.2 7.1-2.4 7.1-1.8 7.1M353.3 170.9l-7.9 7.1-9 7.1-7.2 7.1-2.1 7.1 3.6 7.1 7 7.1 7.5 7.1 5.8 7.1 4.9 7.1 4.1 7.1 2.1 7.1 .4 7.1-1.1 7.1-2.1 7.1-2.4 7.1-2.2 7.1-1.4 7.1M353.3 170.9l-13.6 7.1-12 7.1-7.4 7.1 .4 7.1 7.1 7.1 10.4 7.1 9.7 7.1 7.1 7.1 5.9 7.1 4.6 7.1 1.7 7.1-.5 7.1-2.1 7.1-3.2 7.1-3.4 7.1-2.9 7.1-1.8 7.1M353.3 170.9l-4.2 7.1-5.1 7.1-5 7.1-3.3 7.1-.8 7.1 1.6 7.1 2.8 7.1 1.7 7.1 .7 7.1 1.4 7.1 2.2 7.1 2.6 7.1 2.2 7.1 1.8 7.1 1.1 7.1 .4 7.1-.1 7.1M353.3 170.9l9.5 7.1 11.4 7.1 10.4 7.1 3.5 7.1-1.5 7.1-6.8 7.1-8.5 7.1-7.5 7.1-6.2 7.1-6.4 7.1-5.8 7.1-3.1 7.1-.4 7.1 1.7 7.1 3.5 7.1 3.1 7.1 3.2 7.1M353.3 170.9l-8.1 7.1-9.9 7.1-9.3 7.1-5.3 7.1 0 7.1 4.5 7.1 6.6 7.1 4.4 7.1 3.4 7.1 4.3 7.1 4.9 7.1 4.2 7.1 2.4 7.1 1.2 7.1-.2 7.1-1.1 7.1-1.9 7.1M353.3 170.9l-5.5 7.1-3.8 7.1-1.7 7.1 .6 7.1 2.4 7.1 3.2 7.1 2.8 7.1 2 7.1 1.7 7.1 1.4 7.1 .7 7.1 .2 7.1-.3 7.1-.7 7.1-.9 7.1-1.1 7.1-1 7.1M353.3 170.9l-6.7 7.1-11.4 7.1-10.9 7.1-4.8 7.1 3.3 7.1 8.9 7.1 10.4 7.1 8.2 7.1 7.1 7.1 5.8 7.1 2.6 7.1-.1 7.1-2 7.1-3.3 7.1-3.5 7.1-2.6 7.1-1 7.1M353.3 170.9l-11.6 7.1-6.2 7.1-1.5 7.1 3.3 7.1 6 7.1 6.4 7.1 4.9 7.1 3.4 7.1 3.2 7.1 2.5 7.1 .6 7.1-.4 7.1-1.3 7.1-2 7.1-2.5 7.1-2.5 7.1-2.2 7.1M353.3 170.9l-14.9 7.1-11 7.1-5.9 7.1 4.1 7.1 10.6 7.1 12.3 7.1 9.5 7.1 6.3 7.1 5.2 7.1 2.8 7.1-2.1 7.1-2.9 7.1-4.5 7.1-4.5 7.1-3.5 7.1-1.7 7.1 .2 7.1M353.3 170.9l11.4 7.1 7.6 7.1 1.8 7.1-5.5 7.1-10.2 7.1-9.9 7.1-6.5 7.1-3.9 7.1-2.7 7.1 .6 7.1 4.2 7.1 6 7.1 5.4 7.1 3.2 7.1 1 7.1-.7 7.1-1.7 7.1M353.3 170.9l6.7 7.1 2.8 7.1-.5 7.1-3.5 7.1-4.9 7.1-4.5 7.1-2.6 7.1-1.9 7.1-1.7 7.1-.5 7.1 1.3 7.1 2.5 7.1 2.6 7.1 2.3 7.1 1.5 7.1 .6 7.1-.2 7.1M353.3 170.9l-3.7 7.1-10.4 7.1-12 7.1-7.3 7.1 .4 7.1 6.9 7.1 9.7 7.1 8.1 7.1 7.5 7.1 6.5 7.1 4.1 7.1 1.5 7.1-.9 7.1-2.6 7.1-3.3 7.1-2.8 7.1-1.7 7.1M353.3 170.9l-4.5 7.1-6.7 7.1-5.9 7.1-2 7.1 2.6 7.1 5.6 7.1 5.9 7.1 4.8 7.1 3.8 7.1 3 7.1 1.1 7.1-.4 7.1-1.5 7.1-2 7.1-2 7.1-1.4 7.1-.4 7.1M353.3 170.9l-12.7 7.1-7.7 7.1 0 7.1 8.2 7.1 12 7.1 9.4 7.1 5.4 7.1 2.1 7.1 .9 7.1-2.1 7.1-5.4 7.1-5.5 7.1-4.7 7.1-3.1 7.1-.5 7.1 1.3 7.1 2.5 7.1M353.3 170.9l-7.8 7.1-3.8 7.1 .9 7.1 5.3 7.1 6.8 7.1 5.1 7.1 2.8 7.1 1.1 7.1 .6 7.1-1 7.1-2.9 7.1-3.2 7.1-2.8 7.1-2 7.1-.8 7.1 .4 7.1 1.4 7.1M353.3 170.9l-10.9 7.1-12.4 7.1-9.9 7.1-3.1 7.1 4.3 7.1 9 7.1 10 7.1 7.7 7.1 6.7 7.1 5.7 7.1 3.3 7.1 1.2 7.1-.8 7.1-2.3 7.1-3.2 7.1-3 7.1-2.2 7.1M353.3 170.9l2.8 7.1-3.4 7.1-7.2 7.1-8 7.1-6 7.1-2.4 7.1 .9 7.1 0 7.1 0 7.1 .7 7.1 2.2 7.1 3.5 7.1 4.8 7.1 4.5 7.1 3.8 7.1 2.5 7.1 1.3 7.1M353.3 170.9l-6.7 7.1-3.6 7.1 .5 7.1 4.4 7.1 6 7.1 4.5 7.1 2.6 7.1 1.1 7.1 .6 7.1-.8 7.1-2.5 7.1-2.8 7.1-2.4 7.1-1.7 7.1-.7 7.1 .4 7.1 1.1 7.1M353.3 170.9l.3 7.1 3.4 7.1 4.8 7.1 4.3 7.1 1.8 7.1-.8 7.1-1.9 7.1-2.1 7.1-1.6 7.1-2.1 7.1-2.8 7.1-2.3 7.1-1.9 7.1-1 7.1 0 7.1 .7 7.1 1.2 7.1M353.3 170.9l-1.6 7.1-4.7 7.1-5.8 7.1-4.4 7.1-1.5 7.1 1.5 7.1 3.3 7.1 2.5 7.1 2 7.1 2.9 7.1 3.2 7.1 2.8 7.1 1.6 7.1 .6 7.1-.2 7.1-.9 7.1-1.2 7.1M353.3 170.9l7.6 7.1 8.5 7.1 8.2 7.1 5.2 7.1 .2 7.1-3.7 7.1-4.6 7.1-4.1 7.1-2.6 7.1-3.2 7.1-4.3 7.1-3.6 7.1-2.8 7.1-1.9 7.1-.7 7.1 .4 7.1 1.5 7.1M353.3 170.9l-.4 7.1 1.8 7.1 3 7.1 2.6 7.1 1 7.1-.8 7.1-1.6 7.1-1.7 7.1-1.6 7.1-1.8 7.1-1.7 7.1-1.2 7.1-.3 7.1 .3 7.1 .8 7.1 .9 7.1 .7 7.1M353.3 170.9l12.3 7.1 10.3 7.1 6.7 7.1 .8 7.1-5.5 7.1-8.6 7.1-8 7.1-6.5 7.1-5.9 7.1-5.4 7.1-3.3 7.1-.5 7.1 1.6 7.1 2.9 7.1 3.6 7.1 3.1 7.1 2.5 7.1M353.3 170.9l11.2 7.1 7.6 7.1 4.6 7.1 .3 7.1-4.2 7.1-6.1 7.1-5.6 7.1-4.4 7.1-3.7 7.1-3.8 7.1-2.8 7.1-1.2 7.1 .1 7.1 1.3 7.1 2.1 7.1 2.3 7.1 2.4 7.1M353.3 170.9l-3 7.1 0 7.1 2.2 7.1 3.2 7.1 2.9 7.1 1.7 7.1 .7 7.1 .4 7.1 .7 7.1 .2 7.1-1.1 7.1-1.4 7.1-1.6 7.1-1.6 7.1-1.5 7.1-1.1 7.1-.7 7.1M353.3 170.9l13.5 7.1 7.3 7.1 0 7.1-7.6 7.1-11.5 7.1-10.7 7.1-6 7.1-3.6 7.1-2.3 7.1 1.2 7.1 4.9 7.1 6.8 7.1 6 7.1 3.6 7.1 1.2 7.1-.8 7.1-1.9 7.1M353.3 170.9l-9.7 7.1-13 7.1-10.4 7.1-2.3 7.1 6.5 7.1 11.6 7.1 11.6 7.1 8.7 7.1 7 7.1 5.1 7.1 .8 7.1-1.9 7.1-3.7 7.1-4.3 7.1-3.7 7.1-2.1 7.1-.2 7.1M353.3 170.9l-11 7.1-13.1 7.1-9.2 7.1 0 7.1 8.8 7.1 12.9 7.1 11.6 7.1 7.9 7.1 6.3 7.1 3.7 7.1-1.1 7.1-3.6 7.1-4.9 7.1-4.6 7.1-3.3 7.1-1.3 7.1 1 7.1M353.3 170.9l8.8 7.1 10 7.1 7.1 7.1-.1 7.1-7.5 7.1-10.5 7.1-9.1 7.1-7.2 7.1-5.9 7.1-3.2 7.1 1 7.1 4.4 7.1 5.3 7.1 4.7 7.1 2.7 7.1 .6 7.1-1 7.1M353.3 170.9l-13.8 7.1-12.1 7.1-7.8 7.1-.4 7.1 10.1 7.1 13.5 7.1 11.6 7.1 7.8 7.1 6.4 7.1 3.9 7.1-2.3 7.1-2.8 7.1-4.2 7.1-4.8 7.1-3.7 7.1-1.8 7.1 .5 7.1M353.3 170.9l-5.6 7.1-2.1 7.1 .7 7.1 2.7 7.1 3.6 7.1 2.9 7.1 2 7.1 1.4 7.1 1.5 7.1 1.1 7.1-.2 7.1-.6 7.1-1.1 7.1-1.5 7.1-1.7 7.1-1.6 7.1-1.4 7.1M353.3 170.9l-2.8 7.1-.3 7.1 1.4 7.1 2.5 7.1 2.4 7.1 1.5 7.1 .8 7.1 .5 7.1 .7 7.1 .3 7.1-.7 7.1-1 7.1-1.2 7.1-1.2 7.1-1.2 7.1-1 7.1-.7 7.1M353.3 170.9l13.2 7.1 4.3 7.1-2.7 7.1-8.5 7.1-10.7 7.1-8.6 7.1-4.2 7.1-2.7 7.1-2.5 7.1 .4 7.1 3.8 7.1 6 7.1 5.7 7.1 4.5 7.1 2.6 7.1 .5 7.1-1 7.1M353.3 170.9l-4.4 7.1-.6 7.1 2.3 7.1 3.8 7.1 3.7 7.1 2.5 7.1 1.2 7.1 .7 7.1 1.1 7.1 .4 7.1-1.1 7.1-1.6 7.1-1.8 7.1-2 7.1-1.8 7.1-1.4 7.1-1 7.1M353.3 170.9l-4.4 7.1-5.3 7.1-4.5 7.1-1.7 7.1 1.5 7.1 3.7 7.1 4.3 7.1 3.3 7.1 2.9 7.1 2.6 7.1 1.6 7.1 .7 7.1-.2 7.1-.8 7.1-1.3 7.1-1.3 7.1-1.1 7.1M353.3 170.9l-13.6 7.1-2.3 7.1 8.4 7.1 14.6 7.1 12.8 7.1 6.1 7.1-1.5 7.1-3.1 7.1-2.5 7.1-6.7 7.1-8.4 7.1-7.2 7.1-4.6 7.1-.8 7.1 2.6 7.1 3.1 7.1 3.2 7.1M353.3 170.9l-10.6 7.1-6.2 7.1-1.7 7.1 3.2 7.1 6.2 7.1 6.6 7.1 5 7.1 3.4 7.1 3.1 7.1 2.2 7.1 0 7.1-1.1 7.1-2 7.1-2.3 7.1-2.5 7.1-2 7.1-1.3 7.1M353.3 170.9l6.6 7.1 9.9 7.1 9 7.1 3.8 7.1-3.6 7.1-8.2 7.1-8.5 7.1-7.3 7.1-6.7 7.1-6 7.1-3.2 7.1 .4 7.1 2.6 7.1 3.8 7.1 3.8 7.1 2.6 7.1 1 7.1M353.3 170.9l9.1 7.1 12.6 7.1 10 7.1 3.1 7.1-6.7 7.1-11.9 7.1-11.3 7.1-9.4 7.1-8.5 7.1-6 7.1-1.4 7.1 3.5 7.1 5.1 7.1 5.7 7.1 4.4 7.1 2 7.1-.3 7.1M353.3 170.9l7.6 7.1-.4 7.1-6.2 7.1-9.5 7.1-7.8 7.1-3.1 7.1 1.5 7.1 2.3 7.1 2.8 7.1 4.9 7.1 5.9 7.1 4.3 7.1 2.3 7.1 .4 7.1-1.2 7.1-1.9 7.1-1.8 7.1M353.3 170.9l-1.8 7.1 2.5 7.1 4.8 7.1 4.8 7.1 2.4 7.1-.5 7.1-2.1 7.1-2.6 7.1-2.4 7.1-2.9 7.1-3 7.1-2.3 7.1-1 7.1 .3 7.1 1.2 7.1 1.3 7.1 1.3 7.1M353.3 170.9l6.4 7.1-.9 7.1-5.8 7.1-8.5 7.1-7 7.1-2.9 7.1 .9 7.1 1.3 7.1 1.4 7.1 3.4 7.1 4.9 7.1 4.9 7.1 3.3 7.1 1.5 7.1 0 7.1-1.1 7.1-1.7 7.1M353.3 170.9l-4.8 7.1-9.5 7.1-10.7 7.1-7.3 7.1-1.3 7.1 4.2 7.1 7 7.1 5.4 7.1 4.6 7.1 5.7 7.1 5.9 7.1 3.9 7.1 2.2 7.1 .4 7.1-1.1 7.1-2.1 7.1-2.4 7.1M353.3 170.9l8.7 7.1 7.7 7.1 5.1 7.1 .1 7.1-5.1 7.1-7.3 7.1-6.5 7.1-5.3 7.1-4.9 7.1-3.8 7.1-1.4 7.1 1.2 7.1 2.6 7.1 3.2 7.1 3 7.1 2 7.1 .7 7.1M353.3 170.9l.1 7.1-8.4 7.1-12 7.1-9.4 7.1-2.4 7.1 4.6 7.1 8.5 7.1 7.3 7.1 7.2 7.1 7.2 7.1 4.9 7.1 2.3 7.1-.1 7.1-2.1 7.1-3.1 7.1-2.8 7.1-1.8 7.1M353.3 170.9l10.3 7.1 5.8 7.1 .7 7.1-5 7.1-8.4 7.1-8 7.1-5.1 7.1-3.3 7.1-2.5 7.1 .1 7.1 2.9 7.1 4.8 7.1 4.5 7.1 3.2 7.1 1.4 7.1-.1 7.1-1.2 7.1M353.3 170.9l10.9 7.1 1.8 7.1-4.9 7.1-9.4 7.1-10.2 7.1-6.5 7.1-1.9 7.1-.9 7.1-.9 7.1 1.9 7.1 4.8 7.1 6.2 7.1 5.4 7.1 3.8 7.1 1.6 7.1-.2 7.1-1.4 7.1M353.3 170.9l-8 7.1-6.3 7.1-2.7 7.1 2.2 7.1 5.7 7.1 6.6 7.1 5 7.1 3.4 7.1 2.8 7.1 1.5 7.1-.8 7.1-1.9 7.1-2.4 7.1-2.4 7.1-1.9 7.1-.9 7.1 .1 7.1M353.3 170.9l7.8 7.1 3.4 7.1 .6 7.1-2.1 7.1-3.9 7.1-3.9 7.1-3.1 7.1-2.4 7.1-2.4 7.1-2 7.1-1 7.1 .4 7.1 1.1 7.1 1.7 7.1 2 7.1 1.9 7.1 2 7.1M353.3 170.9l7.7 7.1 7.4 7.1 6.7 7.1 4.1 7.1 0 7.1-3.1 7.1-3.8 7.1-3.1 7.1-1.7 7.1-2.1 7.1-3.3 7.1-3 7.1-2.6 7.1-1.9 7.1-1.2 7.1-.4 7.1 .3 7.1M353.3 170.9l-.2 7.1-1.6 7.1-2.2 7.1-2 7.1-1 7.1 .1 7.1 .9 7.1 .6 7.1 .3 7.1 .7 7.1 1.2 7.1 1.3 7.1 1.1 7.1 .7 7.1 .4 7.1 0 7.1-.3 7.1M353.3 170.9l-1 7.1-10 7.1-13 7.1-8.9 7.1-.5 7.1 7.3 7.1 10.5 7.1 9 7.1 8.3 7.1 7 7.1 3.6 7.1 .4 7.1-2.1 7.1-3.6 7.1-3.7 7.1-2.6 7.1-.7 7.1M353.3 170.9l-4.4 7.1-7.8 7.1-8.9 7.1-6.5 7.1-2.2 7.1 2.2 7.1 4.8 7.1 3.2 7.1 1.9 7.1 3.3 7.1 4.5 7.1 4.7 7.1 3.7 7.1 2.2 7.1 .8 7.1-.2 7.1-1.2 7.1M353.3 170.9l-8.8 7.1-7.5 7.1-5.7 7.1-2.2 7.1 1.3 7.1 3.8 7.1 4.6 7.1 2.9 7.1 1.9 7.1 2.3 7.1 2.7 7.1 2.6 7.1 1.9 7.1 1 7.1 .3 7.1-.3 7.1-.8 7.1" stroke="#000" stroke-opacity="0.75" stroke-width="0.42" fill="none"/>
<path d="M353.3 170.9 348.9 174.6 342.7 179.9 337.5 185.0 334.0 189.4 331.5 193.7 330.0 198.0 329.8 202.6 330.5 207.3 331.6 211.5 333.1 214.9 334.9 217.9 336.0 221.0 335.7 224.5 334.8 228.1 334.0 232.0 333.7 236.2 333.6 240.5 334.0 245.0 335.3 249.7 337.2 254.4 339.0 258.7 340.5 262.2 342.0 265.3 343.5 268.3 345.0 271.3 346.4 274.3 348.0 277.8 349.9 282.6 352.0 287.9 353.4 291.6 353.4 291.6 354.6 287.9 356.4 282.6 358.0 277.8 359.2 274.3 360.3 271.3 361.5 268.3 362.7 265.3 364.0 262.2 365.5 258.7 367.4 254.4 369.4 249.7 371.0 245.0 371.8 240.7 372.1 236.5 372.0 232.0 371.0 226.9 369.6 221.7 369.0 217.0 370.0 213.5 371.7 210.6 373.1 207.7 374.0 204.6 374.5 201.5 374.0 198.0 372.0 194.0 369.0 189.5 365.5 185.0 361.3 179.9 356.6 174.6 353.3 170.9Z" fill="#000" fill-opacity="1.0" filter="url(#bl)"/>
<path d="M347.6 270.1l.1 1M347.2 199.1l-.1 1.2M339.9 257.9l-.4 1.2M364.1 184.3l.2 .6M356.7 238.9l-.4 .6M350.4 193.5l.1 1M355.5 278.6l-.1 .8M364.2 215.3l-.3 1.6M343.3 238.7l.2 1.2M344.9 232.9l.2 1.1M353.8 248.5l-.7 1.4M350.6 176.8l-.4 .9M354.3 244.5l.3 1.1M350.3 269.7l.1 1.1M349.4 177.4l-.4 .7M351.1 175.6l-.2 1.2M351.3 270.0l.2 1.1M339.5 200.9l-.1 1.4M359.7 241.8l.3 1.2M349.6 202.4l0 .6M346.4 208.2l-.6 1M338.0 236.8l-.4 1.4M344.9 224.3l.4 1M366.7 245.4l0 .8M364.3 255.4l-.1 1.3M348.6 273.4l.4 1M368.1 237.2l.3 .7M358.6 221.6l.3 .7M352.9 253.9l-.5 1M351.0 225.5l-.3 .9M348.7 260.8l.5 1.2M349.9 259.7l-.2 .6M351.7 220.8l-.1 .7M358.2 179.8l-.2 1.5M353.7 268.8l.7 1.4M335.5 246.7l.2 1.1M349.5 264.0l.2 .9M350.9 240.7l-.3 .9M354.4 182.1l.5 1.1M353.3 194.1l-.3 .9M355.9 175.2l0 1.2M341.5 185.6l.6 1.3M358.4 250.8l.6 1.1M340.1 242.7l-.3 .8M350.8 179.8l-.8 1.3M346.6 245.1l-.4 1.3M357.8 276.1l-.5 .9M353.5 284.6l.3 .9M358.4 273.5l-.3 .9M368.0 222.1l-.6 1M362.3 239.7l-.4 .7M361.4 264.1l.1 1.1M344.0 254.9l.2 .6M364.4 245.8l-.4 .9M363.4 205.7l-.4 .9M336.2 240.6l-.1 .8M338.6 205.1l-.1 .6M340.3 202.5l.3 1.3M340.2 221.1l0 1.1M348.6 233.2l-.2 .6M340.2 189.5l-.2 .8M365.0 223.5l.5 .9M368.4 238.6l.1 .6M361.9 222.7l-.2 1.5M363.6 200.0l.3 1.2M344.3 211.7l-.1 1.3M367.0 216.6l.1 1M339.7 246.3l.2 .7M344.7 267.3l.3 1.3M336.1 197.5l.3 .8M347.0 231.6l-.6 1.4M350.8 210.0l-.2 1.4M359.1 266.3l-.3 1.2M350.7 176.2l0 .9M353.6 286.1l.4 .7M348.3 246.4l.3 1.3M346.2 256.0l.4 .9M368.5 240.6l.3 .7M348.6 264.6l-.2 1M365.6 222.4l.1 .9M368.3 204.2l-.4 .6M354.4 280.4l.3 1.1M348.2 184.5l-.2 1M359.9 224.0l-.7 1M358.6 256.8l-.4 .6M347.2 189.0l-.2 .9M341.3 205.9l.1 .9M348.3 219.1l.4 1.1M356.8 246.3l-.3 1.1M350.7 265.9l-.2 1M362.8 204.9l.3 1.5M357.0 207.1l0 .6M356.3 181.7l-.5 1.1M361.7 233.2l-.5 1.1M337.8 237.0l.4 .6M351.3 284.1l-.4 1.1M357.4 276.0l-.1 .7M365.2 250.1l.5 .7M352.3 177.8l.6 1.1M371.0 232.4l-.2 .7M367.1 228.6l-.3 1.1M350.9 281.7l.4 .6M349.2 182.5l.5 1.1M353.4 179.1l-.3 .7M354.1 264.3l.2 .6M372.5 199.8l.5 .9M354.5 273.5l.5 1M352.9 245.3l-.6 1M351.0 231.5l-.3 1.1M351.7 272.2l-.6 1.1M352.4 275.0l-.1 1.1M371.3 198.2l-.3 1.3M365.8 230.1l.5 1M347.9 192.3l-.3 1M335.6 204.9l.2 1M340.1 255.5l.5 1.4M355.9 180.9l.3 .6M350.7 175.4l-.1 1M359.9 179.9l.4 1.5M359.1 222.7l-.1 .7M355.6 282.5l-.8 1.2M341.7 229.6l.4 .8M369.5 211.9l-.2 1.6M350.4 175.0l.1 1.2M363.2 232.5l.2 1.1M333.3 200.0l-.2 .7M362.3 245.9l.5 1.3M367.4 216.2l.2 1.4M353.9 285.1l.4 1.3M362.2 260.7l-.3 1.1M355.6 213.7l-.4 1.4M369.8 226.7l-.3 1.3M355.7 214.2l0 .7M366.2 251.2l-.2 .7M356.1 182.6l.4 .6M363.1 195.0l-.2 1.5M360.7 252.3l.5 .9M341.2 187.6l.6 1M372.9 199.7l-.3 .7M333.9 195.7l-.1 .9M347.7 269.9l-.5 1.1M362.6 217.9l-.3 .6M347.6 235.0l-.1 1M348.5 265.6l.5 .7M344.6 203.6l-.3 .6M359.5 261.1l-.4 .7M347.0 252.6l-.6 1M352.4 285.9l.3 1.2M347.8 272.0l.1 .8M340.9 244.2l-.4 1.4M347.4 268.5l.1 1.2M355.5 206.9l.7 1.3M341.9 210.0l.5 1.3M352.7 265.7l-.2 1.2M344.4 212.0l.8 1.4M365.9 195.2l-.1 1.1M351.0 274.2l-.1 1.2M359.5 227.0l.4 1.1M346.7 249.9l-.1 .7M357.0 213.0l-.4 1.4M349.8 179.9l-.4 1M368.0 240.9l.4 .8M366.1 212.2l-.1 1.3M348.5 193.5l-.4 1M353.3 286.7l.2 .7M355.6 204.0l.6 1.5M361.8 247.5l-.5 1.2M351.2 248.8l-.6 1.3M335.9 241.6l-.2 .9M340.9 250.6l.2 .6M357.4 186.4l-.1 1.3M334.8 205.8l.4 .8M356.0 267.9l-.4 1.4M352.9 266.7l.3 .6M352.0 261.0l.2 1.4M367.4 212.1l.5 1M348.5 255.0l-.7 1.2M362.7 201.0l-.1 .7M348.2 270.1l.3 .7M367.8 239.4l-.2 .6M355.8 212.6l-.4 .9M340.8 252.3l.4 1.1M358.3 267.2l-.7 1.2M352.3 219.0l.1 1.3M349.1 239.5l-.3 1.4M346.8 188.9l-.2 .7M367.2 189.4l-.2 .7M358.2 252.2l.1 .7M352.5 286.9l-.3 1M358.4 205.9l0 1.3M354.6 263.7l.1 .9M360.6 182.8l0 .7M342.6 197.6l.5 1.2M359.4 261.4l.5 1.1M346.4 231.1l.2 .7M335.6 200.4l.1 1.2M352.9 286.9l-.3 .8M349.1 256.8l-.4 .6M366.0 194.2l.6 .9M358.9 227.4l.5 1.2M367.3 226.4l-.1 .9M350.9 176.4l-.5 1.2M341.4 189.8l.5 1.5M351.3 213.5l.2 .8M358.6 219.2l.7 1.2M352.8 283.9l-.6 1.5M349.6 179.8l-.6 .9M364.9 246.6l0 1.2M356.8 219.6l.2 1.4M348.9 184.6l-.4 .8M346.0 190.8l.2 1.3M344.0 229.8l-.1 .6M344.5 240.1l.2 .8M331.7 203.2l.4 1.3M358.3 257.1l-.2 .7M356.9 270.0l.1 1.5M353.5 286.4l-.7 1M343.7 181.9l.4 1.2M352.9 279.3l-.3 .9M339.7 254.1l.6 1.1M360.0 248.8l-.2 1.4M367.3 213.2l.2 .6M350.9 213.3l0 1M337.8 195.2l.3 1.1M346.4 261.8l-.4 1.2M344.4 267.1l.7 1.1M356.4 266.3l0 .6M343.6 208.8l-.3 .6M337.2 217.1l-.2 .8M364.7 200.5l0 1.3M340.8 193.1l.2 1.3M355.0 266.4l.1 .6M358.0 245.4l-.1 .7M343.5 265.7l.8 1.2M367.1 233.8l-.5 1M350.5 274.0l.2 1.1M349.3 257.1l.2 .8M361.2 253.8l-.1 .7M354.8 230.9l-.2 .7M350.6 197.7l.3 1.4" stroke="#fff" stroke-opacity="0.45" stroke-width="0.5" fill="none"/>
<path d="M353.3 170.9 350 172.4 345.2 174.6 340 177.0 335.4 179.4 331.6 181.7 328 184.2 324.9 186.6 322.2 188.8 320.1 190.8 318.5 192.7 317.3 194.5 316.5 196.4 316 198.3 315.9 200.2 316.1 202.0 316.5 203.9 317.1 205.8 318 207.7 319.1 209.6 320.3 211.5 321.8 213.4 323.4 215.3 325.2 217.1 326.9 219.0 328.6 220.9 330.4 222.9 332.1 224.8 333.5 226.5 334.6 228.1 335.4 229.7 336 231.1 336.5 232.0" stroke="#f00" stroke-width="1.05" fill="none"/>
<path d="M353.3 170.9 356.7 172.4 361.5 174.6 366.8 177.0 371.2 179.4 374.6 181.7 377.6 184.2 380.2 186.6 382.5 188.8 384.4 190.8 386 192.7 387.2 194.5 388.1 196.4 388.6 198.3 388.7 200.2 388.6 202.0 388.1 203.9 387.3 205.8 386.2 207.7 384.8 209.6 383.4 211.5 381.9 213.4 380.3 215.3 378.6 217.1 376.8 219.0 374.9 220.9 372.8 222.9 370.9 224.8 369.3 226.5 368.2 228.1 367.4 229.7 366.9 231.1 366.5 232.0" stroke="#f00" stroke-width="1.05" fill="none"/>
<path d="M353.3 170.9 353.2 171.0 353.2 171.1 352.8 171.5 351.4 172.8 348.6 175.1 344.7 178.2 340.7 181.7 337.3 185.1 334.7 188.3 332.5 191.6 330.8 195.0 329.7 198.3 329.3 201.7 329.5 205.1 330.2 208.5 331.6 211.5 333.8 214.1 336.8 216.4 340 218.6 342.9 220.9 345.3 223.1 347.6 225.3 349.9 227.6 352.3 230.3 355.3 233.6 358.5 237.4 361.5 241.4 363.5 245.3 364.2 249.1 364 253.1 363.3 256.9 362.6 260.6 361.9 264.0 360.9 267.2 359.8 270.4 358.7 274.0 357.3 278.5 355.8 283.6 354.4 288.3 353.4 291.6" stroke="#f00" stroke-width="1.05" fill="none"/>
<path d="M353.3 170.9 353.4 171.0 353.6 171.1 354.1 171.5 355.2 172.8 357.2 175.1 359.9 178.2 362.9 181.7 365.5 185.1 368 188.4 370.4 191.9 372.6 195.2 374 198.3 374.6 200.9 374.6 203.2 374 205.4 373.1 207.7 371.8 210.0 370 212.3 367.8 214.6 365.5 217.1 362.9 219.7 360 222.3 357.1 225.1 354.2 228.4 351.2 232.3 348.1 236.6 345.4 241.1 343.4 245.3 342.3 249.3 342 253.2 342.1 256.9 342.5 260.6 343.3 264.0 344.5 267.2 345.9 270.4 347.3 274.0 348.9 278.5 350.6 283.6 352.3 288.3 353.4 291.6" stroke="#f00" stroke-width="1.05" fill="none"/>
<path d="M353.3 170.9 353.4 171.7 353.5 172.9 353.5 174.5 353.3 176.6 352.9 179.3 352.4 182.6 351.6 186.2 350.5 189.8 348.9 193.4 347 197.2 344.9 201.1 342.9 204.9 340.9 208.8 338.9 212.7 337 216.5 335.4 220.0 334 223.0 332.8 225.6 331.9 228.1 331.3 231.0 331 234.4 331 238.0 331.4 241.7 332 245.3 333 248.7 334.4 251.9 336 255.2 337.7 258.7 339.5 262.3 341.4 266.1 343.4 270.0 345.4 274.0 347.6 278.7 349.9 283.8 352 288.4 353.4 291.6" stroke="#00a800" stroke-opacity="0.8" stroke-width="1.0" fill="none"/>
<path d="M353.3 170.9 353.4 171.7 353.5 172.9 353.8 174.5 354.2 176.6 354.9 179.3 355.8 182.6 356.9 186.2 358 189.8 359.3 193.4 360.7 197.2 362.2 201.1 363.6 204.9 365.1 208.8 366.6 212.7 368 216.5 369.3 220.0 370.5 223.0 371.6 225.6 372.5 228.1 373.1 231.0 373.3 234.3 373.2 237.9 372.8 241.6 372.1 245.3 371 249.1 369.5 252.9 367.9 256.8 366.4 260.6 365 264.4 363.6 268.2 362.2 272.0 360.7 275.9 358.8 280.2 356.7 284.7 354.7 288.8 353.4 291.6" stroke="#00a800" stroke-opacity="0.8" stroke-width="1.0" fill="none"/>
</g>
<rect x="309.5" y="170.5" width="87.0" height="122.0" fill="none" stroke="#747474" stroke-width="0.75"/>
<path d="M309.2,292v-2.0M309.2,170.9v2.0M316.5,292v-1.2M316.5,170.9v1.2M323.8,292v-2.0M323.8,170.9v2.0M331.1,292v-1.2M331.1,170.9v1.2M338.4,292v-2.0M338.4,170.9v2.0M345.7,292v-1.2M345.7,170.9v1.2M353.0,292v-2.0M353.0,170.9v2.0M360.4,292v-1.2M360.4,170.9v1.2M367.7,292v-2.0M367.7,170.9v2.0M375.0,292v-1.2M375.0,170.9v1.2M382.3,292v-2.0M382.3,170.9v2.0M389.6,292v-1.2M389.6,170.9v1.2M396.9,292v-2.0M396.9,170.9v2.0M309.2,292.0h2.0M396.9,292.0h-2.0M309.2,279.9h1.2M396.9,279.9h-1.2M309.2,267.8h2.0M396.9,267.8h-2.0M309.2,255.7h1.2M396.9,255.7h-1.2M309.2,243.6h2.0M396.9,243.6h-2.0M309.2,231.4h1.2M396.9,231.4h-1.2M309.2,219.3h2.0M396.9,219.3h-2.0M309.2,207.2h1.2M396.9,207.2h-1.2M309.2,195.1h2.0M396.9,195.1h-2.0M309.2,183.0h1.2M396.9,183.0h-1.2M309.2,170.9h2.0M396.9,170.9h-2.0" stroke="#747474" stroke-width="0.6" fill="none"/>
<g class="tl"><text x="309.2" y="299.2" text-anchor="middle">-1.5</text><text x="323.8" y="299.2" text-anchor="middle">-1.0</text><text x="338.4" y="299.2" text-anchor="middle">-0.5</text><text x="353.0" y="299.2" text-anchor="middle">0.0</text><text x="367.7" y="299.2" text-anchor="middle">0.5</text><text x="382.3" y="299.2" text-anchor="middle">1.0</text><text x="396.9" y="299.2" text-anchor="middle">1.5</text><text x="307.9" y="294.0" text-anchor="end">0.0</text><text x="307.9" y="269.8" text-anchor="end">0.2</text><text x="307.9" y="245.6" text-anchor="end">0.4</text><text x="307.9" y="221.3" text-anchor="end">0.6</text><text x="307.9" y="197.1" text-anchor="end">0.8</text><text x="307.9" y="172.9" text-anchor="end">1.0</text></g>
<text class="al" x="349.0" y="304.3">A<tspan font-size="4" dy="1.5">y</tspan></text>
<text class="al" transform="translate(300.9,230.2) rotate(-90)" text-anchor="middle">z/L</text>
<rect x="362.4" y="279.2" width="33.9" height="9.3" fill="#fff" stroke="#aaa" stroke-width="0.45"/>
<path d="M363.6,281.8h4.6" stroke="#00d000" stroke-width="1"/>
<path d="M363.6,285.4h4.6" stroke="#f22" stroke-width="1"/>
<text class="lg" x="368.4" y="283.4" font-size="4.4" textLength="20.3" lengthAdjust="spacingAndGlyphs">First -order</text>
<text class="lg" x="368.4" y="287.0" font-size="4.4" textLength="27.4" lengthAdjust="spacingAndGlyphs">Second -order</text>
<text class="cap" x="323.8" y="323.2">(<tspan font-weight="bold">f</tspan>) f = 0.35f<tspan font-size="6.5" dy="0.8">1</tspan></text><g clip-path="url(#cg)">
<path d="M501.3 170.9 497.6 173.1 492.3 176.2 487.1 179.4 482.2 182.6 477.4 185.8 473.9 188.9 472.3 191.5 472.0 194.0 472.0 196.4 472.2 199.0 472.6 201.5 473.0 203.9 473.1 205.9 473.0 207.6 473.0 209.6 472.9 211.9 472.9 214.4 473.0 217.1 473.4 220.3 473.9 223.8 474.5 226.6 475.1 228.0 475.6 228.6 476.1 230.0 476.4 232.7 476.6 236.2 477.0 239.6 477.7 242.8 478.7 245.9 479.9 249.1 481.3 252.3 483.0 255.5 484.7 258.7 486.6 261.9 488.5 265.1 490.4 268.3 492.1 271.5 493.7 274.6 495.2 277.8 496.8 281.2 498.3 284.6 499.6 287.4 500.5 289.4 501.2 290.7 501.6 291.6 501.6 291.6 501.9 290.7 502.3 289.4 502.9 287.4 503.7 284.6 504.7 281.2 505.8 277.8 507.0 274.6 508.3 271.5 509.6 268.3 510.9 265.1 512.1 261.9 513.4 258.7 514.6 255.5 515.9 252.3 517.2 249.1 518.8 245.9 520.5 242.8 522.0 239.6 523.1 236.2 524.1 232.7 525.0 230.0 526.0 228.6 526.9 228.0 527.7 226.6 528.0 223.8 528.1 220.3 528.6 217.1 529.9 214.4 531.6 211.9 533.0 209.6 533.7 207.6 534.1 205.9 534.3 203.9 534.6 201.5 534.8 199.0 534.3 196.4 533.1 194.0 531.2 191.5 528.6 188.9 525.1 185.8 520.8 182.6 516.3 179.4 510.9 176.2 505.3 173.1 501.3 170.9Z" fill="#dedede"/>
<path d="M501.3 170.9l-.8 7.1 6.3 7.1 10.4 7.1 9.2 7.1 4.2 7.1-1.6 7.1-4.2 7.1-5.5 7.1-7.9 7.1-7 7.1-6.5 7.1-4.8 7.1-1.6 7.1 1.2 7.1 2.7 7.1 3.2 7.1 2.9 7.1M501.3 170.9l10.2 7.1 11.6 7.1 7.5 7.1-1.6 7.1-9.4 7.1-12.5 7.1-11.3 7.1-9.3 7.1-6 7.1-2.4 7.1 2.3 7.1 6.4 7.1 7.3 7.1 5.8 7.1 2.6 7.1 .3 7.1-1.2 7.1M501.3 170.9l-10.3 7.1-4.8 7.1 2.7 7.1 7.9 7.1 9.2 7.1 7.9 7.1 5.6 7.1 3.7 7.1-.5 7.1-2.3 7.1-4.7 7.1-4.6 7.1-4.4 7.1-3.6 7.1-2.1 7.1-.7 7.1 1.2 7.1M501.3 170.9l-.9 7.1-6.2 7.1-8.3 7.1-5.9 7.1-3.8 7.1-2.8 7.1 .2 7.1 1.4 7.1 3.3 7.1 4.2 7.1 5.5 7.1 6 7.1 5 7.1 2.9 7.1 .9 7.1-.2 7.1-1.1 7.1M501.3 170.9l9.3 7.1-.1 7.1-8.5 7.1-11.3 7.1-9.4 7.1-6.8 7.1-.9 7.1 1.4 7.1 6.1 7.1 8.1 7.1 9.3 7.1 6.3 7.1 2.9 7.1 .3 7.1-2 7.1-2.2 7.1-2.2 7.1M501.3 170.9l10.3 7.1 2.6 7.1-5.2 7.1-10.2 7.1-9.5 7.1-8.1 7.1-5.2 7.1-1 7.1 1.8 7.1 4.4 7.1 6.9 7.1 7.7 7.1 5.9 7.1 2.4 7.1 .3 7.1-.9 7.1-1.9 7.1M501.3 170.9l-9.8 7.1-5.3 7.1 2 7.1 7.3 7.1 8.5 7.1 7.8 7.1 5.6 7.1 3.7 7.1-.4 7.1-2.1 7.1-4.4 7.1-4.4 7.1-4.1 7.1-3.2 7.1-2 7.1-.4 7.1 1.4 7.1M501.3 170.9l-9.4 7.1-8.2 7.1-2.2 7.1 4.8 7.1 7.3 7.1 7.9 7.1 7.6 7.1 5.8 7.1 2.1 7.1-.1 7.1-3.1 7.1-3.6 7.1-3.9 7.1-3.3 7.1-2 7.1-.7 7.1 1.2 7.1M501.3 170.9l-10.2 7.1-6.5 7.1-.9 7.1 4.2 7.1 5.2 7.1 5.3 7.1 5.2 7.1 4.7 7.1 3 7.1 1.9 7.1 0 7.1-.7 7.1-1.7 7.1-2.3 7.1-2.7 7.1-2.2 7.1-2 7.1M501.3 170.9l-6.7 7.1 .3 7.1 7 7.1 10.1 7.1 8.7 7.1 4.6 7.1 1.7 7.1-.3 7.1-4.4 7.1-5.3 7.1-6.4 7.1-5.3 7.1-4 7.1-3.1 7.1-.6 7.1 1.3 7.1 2.7 7.1M501.3 170.9l-6.7 7.1 1.4 7.1 9 7.1 11.8 7.1 8.8 7.1 2.8 7.1-1.1 7.1-3.7 7.1-7.7 7.1-7.8 7.1-7 7.1-6.3 7.1-2.8 7.1 .6 7.1 2.6 7.1 3.3 7.1 3 7.1M501.3 170.9l-11.9 7.1-9.7 7.1-3.4 7.1 3.5 7.1 5.8 7.1 6.3 7.1 6.9 7.1 6.5 7.1 4.7 7.1 3.2 7.1 .6 7.1-.5 7.1-1.8 7.1-2.7 7.1-3 7.1-2.4 7.1-1.9 7.1M501.3 170.9l-6.2 7.1-1.9 7.1 2.6 7.1 4.9 7.1 5.7 7.1 4.5 7.1 3.5 7.1 2.9 7.1 .5 7.1-.3 7.1-2.1 7.1-2.2 7.1-2.6 7.1-2.9 7.1-2.8 7.1-1.9 7.1-1.5 7.1M501.3 170.9l1.4 7.1 4.6 7.1 6.3 7.1 5.6 7.1 3.3 7.1 .5 7.1-.3 7.1-.5 7.1-2.8 7.1-2.9 7.1-3.9 7.1-3.2 7.1-3 7.1-2.4 7.1-1.7 7.1-.9 7.1-.1 7.1M501.3 170.9l7.9 7.1 1.1 7.1-4.7 7.1-7.8 7.1-7.2 7.1-6.6 7.1-4.9 7.1-2.4 7.1-.1 7.1 1.1 7.1 3.3 7.1 5.6 7.1 5.9 7.1 4.8 7.1 3 7.1 1.3 7.1-.2 7.1M501.3 170.9l-.3 7.1 4.2 7.1 7 7.1 6.9 7.1 4.6 7.1 1.4 7.1 .1 7.1-.3 7.1-3.2 7.1-3.5 7.1-4.5 7.1-3.9 7.1-3.4 7.1-2.8 7.1-1.8 7.1-.8 7.1 .4 7.1M501.3 170.9l-10.6 7.1-8.7 7.1-3.9 7.1 1.6 7.1 3.1 7.1 3.3 7.1 3.9 7.1 4.3 7.1 4.1 7.1 3.6 7.1 2.3 7.1 1.4 7.1 .5 7.1-.4 7.1-1.2 7.1-1.3 7.1-1.7 7.1M501.3 170.9l-8.5 7.1-3.3 7.1 2.7 7.1 6.5 7.1 7.3 7.1 6.3 7.1 4.6 7.1 3.5 7.1 .3 7.1-1 7.1-3.2 7.1-3.3 7.1-3.6 7.1-3.4 7.1-2.7 7.1-1.6 7.1-.6 7.1M501.3 170.9l11.4 7.1 5.8 7.1 .4 7.1-5 7.1-7.6 7.1-7.3 7.1-6.4 7.1-5.2 7.1-3.9 7.1-2.7 7.1-.5 7.1 3.1 7.1 4 7.1 4 7.1 4.2 7.1 3.4 7.1 2.5 7.1M501.3 170.9l11.8 7.1 4.2 7.1-4.6 7.1-11.6 7.1-11 7.1-9.4 7.1-5.6 7.1-.1 7.1 2.9 7.1 6.2 7.1 8.6 7.1 8.4 7.1 4.1 7.1 1.4 7.1-.9 7.1-1.9 7.1-2.2 7.1M501.3 170.9l-10.3 7.1-5.2 7.1 2.4 7.1 7.6 7.1 8.9 7.1 8.1 7.1 5.7 7.1 3.9 7.1-.2 7.1-2 7.1-4.4 7.1-4.5 7.1-4.4 7.1-3.5 7.1-2.2 7.1-.8 7.1 1.1 7.1M501.3 170.9l-11.5 7.1-6.8 7.1 .9 7.1 7.2 7.1 8.6 7.1 8.7 7.1 7 7.1 5.2 7.1 1.3 7.1-1.1 7.1-3.5 7.1-3.7 7.1-4.4 7.1-3.9 7.1-2.8 7.1-1.3 7.1 .2 7.1M501.3 170.9l-11.4 7.1-10.3 7.1-3.9 7.1 4.2 7.1 7.2 7.1 8.1 7.1 8.6 7.1 7.5 7.1 4.5 7.1 2.1 7.1-1.2 7.1-2.5 7.1-3.6 7.1-3.8 7.1-3.2 7.1-1.8 7.1-.5 7.1M501.3 170.9l-9.3 7.1-12 7.1-6.9 7.1 .4 7.1 5.6 7.1 7.6 7.1 9.5 7.1 9.4 7.1 6.9 7.1 3.9 7.1 .1 7.1-2.1 7.1-3.1 7.1-4 7.1-3.5 7.1-2 7.1-.5 7.1M501.3 170.9l-1.3 7.1-6 7.1-7.9 7.1-5.6 7.1-3.6 7.1-2.8 7.1-.5 7.1 1.4 7.1 2.7 7.1 3.5 7.1 5 7.1 5.7 7.1 5 7.1 3.5 7.1 1.6 7.1 .2 7.1-.7 7.1M501.3 170.9l-11.8 7.1-8 7.1-.2 7.1 6.9 7.1 8.7 7.1 9 7.1 7.6 7.1 5.9 7.1 1.8 7.1-.4 7.1-3.5 7.1-3.9 7.1-4.4 7.1-3.9 7.1-2.8 7.1-1.3 7.1 .4 7.1M501.3 170.9l-9.1 7.1-5 7.1 .3 7.1 4.5 7.1 5.2 7.1 5.1 7.1 4.8 7.1 4.1 7.1 2.2 7.1 1.4 7.1-.6 7.1-1.1 7.1-1.9 7.1-2.5 7.1-2.8 7.1-2.3 7.1-2 7.1M501.3 170.9l1.4 7.1-2.7 7.1-5.3 7.1-4.9 7.1-4.1 7.1-3.9 7.1-2.9 7.1-1.3 7.1-.3 7.1 .4 7.1 2.2 7.1 3.5 7.1 4.7 7.1 4.6 7.1 3.7 7.1 2.9 7.1 2.2 7.1M501.3 170.9l-11.1 7.1-9.2 7.1-4.3 7.1 1.6 7.1 3.2 7.1 3.4 7.1 4.2 7.1 4.6 7.1 4.4 7.1 3.9 7.1 2.5 7.1 1.5 7.1 .5 7.1-.5 7.1-1.2 7.1-1.4 7.1-1.8 7.1M501.3 170.9l9.6 7.1 4.8 7.1-1.1 7.1-6.7 7.1-8.6 7.1-7.5 7.1-6 7.1-3.4 7.1-.8 7.1 1.3 7.1 4 7.1 5.6 7.1 5.3 7.1 3.7 7.1 1.1 7.1 0 7.1-1.1 7.1M501.3 170.9l-2.2 7.1 3.9 7.1 8.2 7.1 8.9 7.1 6.2 7.1 2.2 7.1-.2 7.1-1.5 7.1-3.3 7.1-3.9 7.1-5.7 7.1-4.8 7.1-4.1 7.1-2.9 7.1-1.8 7.1-.2 7.1 1.4 7.1M501.3 170.9l-10.4 7.1-4 7.1 4.4 7.1 9.4 7.1 10.8 7.1 7.9 7.1 4.9 7.1 2.5 7.1-3.3 7.1-3.2 7.1-6.2 7.1-5.7 7.1-4.7 7.1-3.5 7.1-1.7 7.1 .6 7.1 2.5 7.1M501.3 170.9l3.5 7.1-2.4 7.1-6.2 7.1-6.5 7.1-5.5 7.1-4.8 7.1-3.3 7.1-1 7.1 1.5 7.1 1.1 7.1 3.1 7.1 5.4 7.1 5.5 7.1 4.7 7.1 3.1 7.1 1.6 7.1 .3 7.1M501.3 170.9l-1.5 7.1-7.2 7.1-8.8 7.1-5.6 7.1-2.7 7.1-1.1 7.1 1.6 7.1 4.3 7.1 5.6 7.1 6.1 7.1 6.5 7.1 4.6 7.1 2.3 7.1 .6 7.1-1 7.1-1.4 7.1-2 7.1M501.3 170.9l-10.4 7.1-8.4 7.1-3.5 7.1 2.1 7.1 3.8 7.1 4 7.1 4.7 7.1 4.8 7.1 4.3 7.1 3.2 7.1 1.8 7.1 .8 7.1-.3 7.1-1.1 7.1-1.9 7.1-1.7 7.1-1.9 7.1M501.3 170.9l-10 7.1-11 7.1-5.9 7.1 2.1 7.1 5.7 7.1 7.2 7.1 8.5 7.1 8.1 7.1 5.9 7.1 3.4 7.1 .1 7.1-1.5 7.1-2.9 7.1-3.6 7.1-3.3 7.1-2 7.1-.8 7.1M501.3 170.9l11.6 7.1 10.8 7.1 7.4 7.1 2.2 7.1-5.6 7.1-9 7.1-8.8 7.1-8.1 7.1-7.4 7.1-6.2 7.1-3.8 7.1-.1 7.1 3.1 7.1 4 7.1 3.9 7.1 3.6 7.1 2.6 7.1M501.3 170.9l10.5 7.1 9.1 7.1 5.4 7.1-1 7.1-6 7.1-8.2 7.1-7.6 7.1-6.8 7.1-5.8 7.1-4.3 7.1-1.9 7.1 1.2 7.1 3.3 7.1 4.1 7.1 3.8 7.1 2.8 7.1 1.5 7.1M501.3 170.9l-4.7 7.1 1.1 7.1 5.9 7.1 8 7.1 6.8 7.1 3.7 7.1 1.7 7.1 .6 7.1-2.8 7.1-3.5 7.1-4.9 7.1-4.2 7.1-3.8 7.1-2.8 7.1-1.7 7.1-.4 7.1 1.2 7.1M501.3 170.9l-2.7 7.1 1.8 7.1 5.3 7.1 6.4 7.1 5.4 7.1 3 7.1 2.1 7.1 1.7 7.1-1.2 7.1-2.3 7.1-3.5 7.1-2.9 7.1-2.8 7.1-3.4 7.1-3.1 7.1-2.1 7.1-1.5 7.1M501.3 170.9l-11.9 7.1-7.3 7.1 2 7.1 9.6 7.1 11.4 7.1 10.3 7.1 6.9 7.1 3.8 7.1-2.6 7.1-3.6 7.1-6.7 7.1-6.2 7.1-5 7.1-3.8 7.1-1 7.1 1.4 7.1 3 7.1M501.3 170.9l-9.8 7.1-10.8 7.1-5.3 7.1 3.1 7.1 6.9 7.1 8.5 7.1 9.2 7.1 8.2 7.1 4.8 7.1 1.9 7.1-1.8 7.1-3.1 7.1-4 7.1-4 7.1-2.9 7.1-1.3 7.1 .5 7.1M501.3 170.9l-8 7.1-8.7 7.1-6.2 7.1-1.4 7.1 .4 7.1 .7 7.1 1.9 7.1 3.1 7.1 3.4 7.1 3.5 7.1 3.9 7.1 3.8 7.1 2.9 7.1 1.4 7.1 .5 7.1-.2 7.1-.8 7.1M501.3 170.9l.3 7.1-5.9 7.1-8.9 7.1-6.9 7.1-4.4 7.1-2.5 7.1 .6 7.1 1.4 7.1 3.6 7.1 5.1 7.1 6.4 7.1 6.5 7.1 4.8 7.1 2.1 7.1 .3 7.1-.6 7.1-1.6 7.1M501.3 170.9l2.9 7.1 6.9 7.1 8.8 7.1 7.1 7.1 3.3 7.1-.5 7.1-1.7 7.1-2 7.1-4.8 7.1-4.6 7.1-5.3 7.1-4.2 7.1-3.4 7.1-2.3 7.1-1.4 7.1 0 7.1 1.4 7.1M501.3 170.9l-11.3 7.1-9 7.1-3.8 7.1 2.3 7.1 4.1 7.1 4.4 7.1 5 7.1 5.3 7.1 4.6 7.1 3.5 7.1 1.8 7.1 .9 7.1-.3 7.1-1.2 7.1-2.1 7.1-1.9 7.1-2 7.1M501.3 170.9l-7.5 7.1-9.2 7.1-7.3 7.1-2.3 7.1-.1 7.1 .5 7.1 2 7.1 3.6 7.1 4.2 7.1 4.3 7.1 4.7 7.1 4.4 7.1 3.1 7.1 1.3 7.1 .2 7.1-.5 7.1-1.2 7.1M501.3 170.9l7.1 7.1 11.8 7.1 10.7 7.1 3.4 7.1-5.2 7.1-10.4 7.1-11 7.1-10.3 7.1-8.8 7.1-6.3 7.1-2 7.1 3.1 7.1 5.5 7.1 6 7.1 4.5 7.1 2.1 7.1-.1 7.1M501.3 170.9l3.7 7.1 8.5 7.1 10.3 7.1 7.3 7.1 2.2 7.1-2.7 7.1-4.2 7.1-4.8 7.1-7 7.1-6.3 7.1-5.5 7.1-4.7 7.1-3 7.1-.4 7.1 1.3 7.1 2.4 7.1 3.2 7.1M501.3 170.9l-.6 7.1-5.8 7.1-7.9 7.1-5.6 7.1-3.2 7.1-2 7.1 .5 7.1 2.9 7.1 4.4 7.1 4.9 7.1 5.8 7.1 5.4 7.1 3 7.1 1.2 7.1-.2 7.1-.9 7.1-1.6 7.1M501.3 170.9l-10 7.1-6.8 7.1-1.7 7.1 3.1 7.1 4.3 7.1 4.3 7.1 4.4 7.1 4.3 7.1 3.3 7.1 2.3 7.1 .8 7.1 .2 7.1-.7 7.1-1.5 7.1-2.1 7.1-1.9 7.1-2 7.1M501.3 170.9l10.9 7.1 10.6 7.1 8.1 7.1 2.3 7.1-3.2 7.1-6.7 7.1-6.7 7.1-6.3 7.1-6.4 7.1-5.6 7.1-4.7 7.1-2.6 7.1-.2 7.1 1.7 7.1 2.7 7.1 3.1 7.1 3.3 7.1M501.3 170.9l11.5 7.1 9.1 7.1 2.8 7.1-6 7.1-11.2 7.1-11.2 7.1-9.3 7.1-6.1 7.1-2.3 7.1 1 7.1 5 7.1 7.4 7.1 6.7 7.1 4 7.1 1 7.1-.5 7.1-1.6 7.1M501.3 170.9l-6.8 7.1 1 7.1 8.1 7.1 11.2 7.1 9.1 7.1 4.2 7.1 .2 7.1-1.5 7.1-4.9 7.1-6.4 7.1-7.1 7.1-5.6 7.1-4.6 7.1-2.2 7.1 .3 7.1 2.1 7.1 3.2 7.1M501.3 170.9l-10.2 7.1-10.4 7.1-6.2 7.1 .1 7.1 2.7 7.1 3.3 7.1 4.6 7.1 5.7 7.1 5.6 7.1 5.2 7.1 3.3 7.1 2 7.1 .6 7.1-.6 7.1-1.7 7.1-1.7 7.1-2 7.1M501.3 170.9l12.5 7.1 9.9 7.1 4.9 7.1-3.2 7.1-8.4 7.1-10 7.1-8.8 7.1-7.6 7.1-5.8 7.1-4.1 7.1-.8 7.1 3.5 7.1 4 7.1 5.3 7.1 4.4 7.1 3 7.1 1.2 7.1M501.3 170.9l7.2 7.1-.4 7.1-6.9 7.1-8.9 7.1-7.5 7.1-5.6 7.1-2.6 7.1 1.3 7.1 4 7.1 5.6 7.1 7 7.1 6.6 7.1 3.3 7.1 1.2 7.1-.7 7.1-1.4 7.1-1.9 7.1M501.3 170.9l-6.2 7.1-1.6 7.1 2.9 7.1 5.4 7.1 6 7.1 4.7 7.1 3.5 7.1 2.9 7.1 .4 7.1-.4 7.1-2.3 7.1-2.4 7.1-2.9 7.1-3.1 7.1-3 7.1-2.1 7.1-1.6 7.1M501.3 170.9l11.6 7.1 6.5 7.1 .4 7.1-6.1 7.1-9.4 7.1-8.6 7.1-7.4 7.1-5.3 7.1-3 7.1-1 7.1 2.1 7.1 4.9 7.1 5.7 7.1 5.1 7.1 3.3 7.1 1.5 7.1-.2 7.1M501.3 170.9l3.4 7.1-3.1 7.1-7.3 7.1-7.1 7.1-5.3 7.1-4 7.1-1.5 7.1 1.3 7.1 3.3 7.1 4.4 7.1 5.7 7.1 6 7.1 4.4 7.1 1.9 7.1 .3 7.1-.6 7.1-1.5 7.1" stroke="#000" stroke-opacity="0.75" stroke-width="0.42" fill="none"/>
<path d="M501.3 170.9l-5.4 7.1-1.6 7.1 3.5 7.1 6.3 7.1 6.4 7.1 3.7 7.1 1.3 7.1-.5 7.1-3.3 7.1-4 7.1-4.2 7.1-3.4 7.1-2.5 7.1-.5 7.1 .9 7.1 1.7 7.1 1.7 7.1M501.3 170.9l-5 7.1-8.2 7.1-7.8 7.1-3.5 7.1-1 7.1 0 7.1 1.9 7.1 3.9 7.1 4.7 7.1 4.9 7.1 5.3 7.1 4.6 7.1 2.3 7.1 1 7.1-.3 7.1-1 7.1-1.5 7.1M501.3 170.9l-6.7 7.1-6.1 7.1-2.4 7.1 2.1 7.1 3.8 7.1 4.4 7.1 4.7 7.1 4.4 7.1 2.8 7.1 1.7 7.1-.2 7.1-.9 7.1-1.7 7.1-2.1 7.1-1.9 7.1-1.2 7.1-.7 7.1M501.3 170.9l7.2 7.1 1.5 7.1-4.4 7.1-7.8 7.1-7 7.1-5.4 7.1-2.7 7.1 .7 7.1 3.4 7.1 4.9 7.1 6.1 7.1 4.9 7.1 2.2 7.1 .5 7.1-1 7.1-1.4 7.1-1.5 7.1M501.3 170.9l2.9 7.1 8.1 7.1 9.9 7.1 6.9 7.1 1.5 7.1-3.6 7.1-5.2 7.1-5.9 7.1-7.3 7.1-6.3 7.1-5.9 7.1-3.8 7.1-1 7.1 1.4 7.1 2.6 7.1 3.1 7.1 2.8 7.1M501.3 170.9l-3 7.1 1.5 7.1 5.1 7.1 6.2 7.1 4.9 7.1 2.3 7.1 .8 7.1-.1 7.1-2.7 7.1-3.1 7.1-3.9 7.1-3.4 7.1-2.7 7.1-1.9 7.1-1.2 7.1 .1 7.1 1.3 7.1M501.3 170.9l-2.2 7.1-3.3 7.1-2.3 7.1 .3 7.1 1.6 7.1 2.4 7.1 2.9 7.1 2.8 7.1 1.8 7.1 .8 7.1-.4 7.1-.9 7.1-1.3 7.1-1.2 7.1-.8 7.1-.4 7.1 .3 7.1M501.3 170.9l8.8 7.1 5.2 7.1 .2 7.1-5.3 7.1-7.9 7.1-7.1 7.1-5.9 7.1-3.7 7.1-1.4 7.1 .5 7.1 3.2 7.1 4.9 7.1 4.8 7.1 3.4 7.1 1.3 7.1 .1 7.1-.9 7.1M501.3 170.9l-8.3 7.1-7.3 7.1-2.9 7.1 2.7 7.1 4.8 7.1 5.4 7.1 5.8 7.1 5.3 7.1 3.4 7.1 2 7.1-.4 7.1-1.2 7.1-2.2 7.1-2.5 7.1-2.3 7.1-1.5 7.1-.8 7.1M501.3 170.9l-8.1 7.1-9.4 7.1-6.4 7.1-.6 7.1 2 7.1 2.9 7.1 4.5 7.1 5.6 7.1 5.7 7.1 5.1 7.1 3.1 7.1 1.8 7.1 .4 7.1-.9 7.1-1.8 7.1-1.8 7.1-1.9 7.1M501.3 170.9l5.3 7.1 4.4 7.1 3 7.1 .7 7.1-1.5 7.1-2.5 7.1-2.5 7.1-2.2 7.1-2.4 7.1-1.8 7.1-1.8 7.1-1.2 7.1-.5 7.1 .2 7.1 .6 7.1 1 7.1 1.3 7.1M501.3 170.9l-9.7 7.1-9.6 7.1-5 7.1 2 7.1 4.8 7.1 5.8 7.1 6.9 7.1 6.9 7.1 5.2 7.1 3.4 7.1 .8 7.1-.5 7.1-1.9 7.1-2.8 7.1-2.8 7.1-2.1 7.1-1.3 7.1M501.3 170.9l-9.5 7.1-2.2 7.1 6.5 7.1 11.3 7.1 11 7.1 6.4 7.1 2.5 7.1-.6 7.1-5.6 7.1-6.7 7.1-7.4 7.1-5.8 7.1-5 7.1-1.6 7.1 1 7.1 2.7 7.1 3.3 7.1M501.3 170.9l11.3 7.1 6.7 7.1 2.2 7.1-3 7.1-5.9 7.1-6.6 7.1-5.6 7.1-5 7.1-4.2 7.1-3.5 7.1-1.9 7.1 .5 7.1 2.1 7.1 3.3 7.1 3.4 7.1 3.3 7.1 3.2 7.1M501.3 170.9l-.7 7.1 4.3 7.1 7.4 7.1 7 7.1 3.8 7.1-.1 7.1-1.8 7.1-2.7 7.1-5 7.1-4.9 7.1-4.7 7.1-3.6 7.1-2.8 7.1-.8 7.1 .7 7.1 1.7 7.1 2.4 7.1M501.3 170.9l.7 7.1-1.8 7.1-3 7.1-2.5 7.1-1.7 7.1-1.1 7.1-.2 7.1 .9 7.1 1.6 7.1 1.9 7.1 2.3 7.1 2.2 7.1 1.3 7.1 .6 7.1-.1 7.1-.4 7.1-.6 7.1M501.3 170.9l5.1 7.1 3.2 7.1 .3 7.1-3.1 7.1-4.7 7.1-4.2 7.1-3.5 7.1-2.2 7.1-.7 7.1 .4 7.1 2.1 7.1 2.9 7.1 2.8 7.1 1.8 7.1 .6 7.1-.1 7.1-.6 7.1M501.3 170.9l-7.5 7.1-3.8 7.1 1.5 7.1 5.2 7.1 6 7.1 5.7 7.1 4.2 7.1 3.2 7.1 .5 7.1-.7 7.1-2.5 7.1-2.8 7.1-3 7.1-2.7 7.1-2.1 7.1-1 7.1-.2 7.1M501.3 170.9l3.7 7.1 3 7.1 2.1 7.1 .3 7.1-1.1 7.1-1.9 7.1-1.9 7.1-1.6 7.1-1.7 7.1-1.4 7.1-1.3 7.1-.7 7.1-.2 7.1 .4 7.1 .6 7.1 .8 7.1 1 7.1M501.3 170.9l2.7 7.1 2.9 7.1 2.7 7.1 1.5 7.1 0 7.1-1 7.1-1.2 7.1-1 7.1-1.7 7.1-1.4 7.1-1.4 7.1-1.1 7.1-.8 7.1-.6 7.1-.2 7.1 .1 7.1 .6 7.1M501.3 170.9l7 7.1-1.3 7.1-7.8 7.1-9.3 7.1-7.8 7.1-6.2 7.1-2.3 7.1 1.4 7.1 1.7 7.1 5 7.1 7.1 7.1 7.4 7.1 5.5 7.1 2.3 7.1 .4 7.1-.9 7.1-1.9 7.1M501.3 170.9l9.9 7.1 7.1 7.1 4 7.1-.3 7.1-3.4 7.1-4.8 7.1-4.4 7.1-3.7 7.1-3.6 7.1-3.2 7.1-2.6 7.1-1.5 7.1-.1 7.1 .9 7.1 1.5 7.1 2 7.1 2.4 7.1M501.3 170.9l-1.9 7.1 .9 7.1 3.3 7.1 4.1 7.1 2.9 7.1 1 7.1-.2 7.1-1 7.1-2.4 7.1-2.5 7.1-2.5 7.1-2 7.1-1.6 7.1-.5 7.1 .4 7.1 .9 7.1 1.2 7.1M501.3 170.9l-2.9 7.1-5.6 7.1-4.7 7.1-.8 7.1 2 7.1 3.4 7.1 4.8 7.1 5.1 7.1 3.9 7.1 2.2 7.1 0 7.1-1 7.1-2 7.1-2.1 7.1-1.6 7.1-.8 7.1 .2 7.1M501.3 170.9l-.5 7.1-7.1 7.1-9.7 7.1-6.5 7.1-3.2 7.1-1.2 7.1 2.1 7.1 5.2 7.1 6.8 7.1 7.2 7.1 7.1 7.1 4 7.1 1.9 7.1 0 7.1-1.7 7.1-1.9 7.1-2.2 7.1M501.3 170.9l8.6 7.1 2 7.1-3.8 7.1-7.8 7.1-7.3 7.1-6.8 7.1-5.3 7.1-3 7.1-1 7.1 .8 7.1 2.7 7.1 5.3 7.1 5.7 7.1 5 7.1 3.3 7.1 1.6 7.1 .1 7.1M501.3 170.9l-8.2 7.1-10.4 7.1-7.3 7.1-.2 7.1 3.3 7.1 4.9 7.1 6.8 7.1 7.7 7.1 6.8 7.1 4.8 7.1 2.2 7.1 .3 7.1-1.3 7.1-2.6 7.1-2.9 7.1-2.2 7.1-1.6 7.1M501.3 170.9l-.7 7.1 2.9 7.1 5.2 7.1 5.1 7.1 3.1 7.1 .5 7.1-.6 7.1-1.3 7.1-3.1 7.1-3.2 7.1-3.4 7.1-2.7 7.1-2.1 7.1-1.4 7.1-.3 7.1 .7 7.1 1.5 7.1M501.3 170.9l.7 7.1 5.1 7.1 7.4 7.1 6.3 7.1 2.8 7.1-1 7.1-2.3 7.1-3.1 7.1-5 7.1-4.7 7.1-4.4 7.1-3.5 7.1-2.4 7.1-.6 7.1 .8 7.1 1.8 7.1 2.3 7.1M501.3 170.9l12.5 7.1 9.9 7.1 4.6 7.1-7.3 7.1-13.5 7.1-13.2 7.1-10.8 7.1-6.9 7.1 0 7.1 1.1 7.1 5.2 7.1 8.9 7.1 7.9 7.1 4 7.1 .9 7.1-.9 7.1-2.1 7.1M501.3 170.9l.2 7.1 4.9 7.1 7.7 7.1 7.4 7.1 4.7 7.1 1.3 7.1 0 7.1-.7 7.1-3.3 7.1-3.5 7.1-4.9 7.1-4.1 7.1-3.8 7.1-3 7.1-2 7.1-1 7.1 .2 7.1M501.3 170.9l-1.7 7.1-3.2 7.1-3.1 7.1-1.9 7.1-1.1 7.1-.9 7.1-.4 7.1 .4 7.1 .9 7.1 1 7.1 1.6 7.1 2.2 7.1 2.1 7.1 1.8 7.1 1.3 7.1 .8 7.1 .2 7.1M501.3 170.9l-.4 7.1-9.1 7.1-11.9 7.1-7.1 7.1 .2 7.1 0 7.1 5.7 7.1 9.5 7.1 10.3 7.1 8.4 7.1 4.7 7.1 1.7 7.1-1.7 7.1-2.8 7.1-3.3 7.1-2.7 7.1-1.4 7.1M501.3 170.9l-8 7.1-4.4 7.1 .7 7.1 4.6 7.1 5.3 7.1 5.5 7.1 4.5 7.1 3.7 7.1 1.5 7.1 .4 7.1-1.6 7.1-1.9 7.1-2.5 7.1-2.7 7.1-2.4 7.1-1.6 7.1-1 7.1M501.3 170.9l2.3 7.1 2.8 7.1 2.9 7.1 1.9 7.1 .5 7.1-.7 7.1-.8 7.1-.7 7.1-1.5 7.1-1.4 7.1-1.6 7.1-1.3 7.1-1 7.1-.8 7.1-.5 7.1-.2 7.1 .1 7.1M501.3 170.9l-2.3 7.1-.4 7.1 1.6 7.1 2.7 7.1 2.6 7.1 1.8 7.1 1.1 7.1 .8 7.1-.4 7.1-.8 7.1-1.5 7.1-1.4 7.1-1.3 7.1-1.2 7.1-.9 7.1-.4 7.1 0 7.1M501.3 170.9l10.9 7.1 7.7 7.1 4.3 7.1-.5 7.1-4.1 7.1-5.7 7.1-5.1 7.1-4.5 7.1-4.1 7.1-3.8 7.1-2.9 7.1-1.2 7.1 .2 7.1 1.6 7.1 2.1 7.1 2.5 7.1 2.9 7.1M501.3 170.9l9.7 7.1 11.5 7.1 7.7 7.1-1.2 7.1-9.1 7.1-12.2 7.1-11.2 7.1-9.3 7.1-6 7.1-2.6 7.1 2.1 7.1 6.2 7.1 7.1 7.1 5.8 7.1 2.6 7.1 .4 7.1-1.2 7.1M501.3 170.9l-1.9 7.1-5.6 7.1-6.6 7.1-4.5 7.1-2.8 7.1-2.4 7.1-.8 7.1 .9 7.1 2 7.1 2.5 7.1 3.8 7.1 4.7 7.1 4.5 7.1 3.4 7.1 2.2 7.1 .8 7.1-.1 7.1M501.3 170.9l4.4 7.1 9.9 7.1 10.8 7.1 5.6 7.1-2 7.1-7.5 7.1-8.9 7.1-9.1 7.1-8.7 7.1-7.2 7.1-4 7.1 .4 7.1 3.5 7.1 4.9 7.1 4.3 7.1 2.8 7.1 .8 7.1M501.3 170.9l-11.2 7.1-7.6 7.1-1.1 7.1 5.2 7.1 6.8 7.1 7 7.1 6.7 7.1 5.7 7.1 3.1 7.1 1.4 7.1-1.3 7.1-2 7.1-2.9 7.1-3.3 7.1-3.1 7.1-2.1 7.1-1.2 7.1M501.3 170.9l5 7.1 .2 7.1-4.3 7.1-5.9 7.1-5.1 7.1-3.7 7.1-1.5 7.1 1.2 7.1 3 7.1 4.1 7.1 4.8 7.1 3.6 7.1 1.7 7.1 .3 7.1-.9 7.1-1.1 7.1-1.3 7.1M501.3 170.9l-2.5 7.1-3.9 7.1-3.7 7.1-1.9 7.1-.9 7.1-.7 7.1 .1 7.1 .9 7.1 1.5 7.1 1.5 7.1 2.1 7.1 2.5 7.1 2.3 7.1 1.6 7.1 1 7.1 .3 7.1-.2 7.1M501.3 170.9l1.7 7.1 5 7.1 6.7 7.1 5.4 7.1 2.5 7.1-.4 7.1-1.5 7.1-1.8 7.1-3.9 7.1-3.7 7.1-4 7.1-3.1 7.1-2.4 7.1-1.7 7.1-.6 7.1 .5 7.1 1.5 7.1M501.3 170.9l-3.5 7.1-6.8 7.1-6.5 7.1-2.5 7.1 .2 7.1 1.5 7.1 3.4 7.1 4.9 7.1 5.3 7.1 4.9 7.1 3.1 7.1 1.6 7.1 .3 7.1-1 7.1-1.7 7.1-1.6 7.1-1.4 7.1M501.3 170.9l7.2 7.1 2.5 7.1-2.3 7.1-6.2 7.1-6.3 7.1-5.6 7.1-4.2 7.1-1.9 7.1 0 7.1 1.5 7.1 3.5 7.1 4.6 7.1 4.3 7.1 3 7.1 .9 7.1 0 7.1-.8 7.1M501.3 170.9l9.6 7.1 4.7 7.1-.9 7.1-6.3 7.1-8.2 7.1-7.1 7.1-6 7.1-3.8 7.1-1.6 7.1 .2 7.1 2.8 7.1 5 7.1 5.2 7.1 4.1 7.1 2.4 7.1 .6 7.1-.5 7.1M501.3 170.9l-3.3 7.1-1.6 7.1 .3 7.1 1.7 7.1 2 7.1 1.9 7.1 1.8 7.1 1.4 7.1 .8 7.1 .4 7.1-.3 7.1-.4 7.1-.8 7.1-.9 7.1-1.2 7.1-.8 7.1-.9 7.1M501.3 170.9l2.5 7.1 .6 7.1-.9 7.1-2 7.1-1.9 7.1-1.9 7.1-1.6 7.1-1.1 7.1-.6 7.1-.4 7.1 .3 7.1 1.1 7.1 1.4 7.1 1.6 7.1 1.3 7.1 1 7.1 .6 7.1M501.3 170.9l5.7 7.1 .1 7.1-4.6 7.1-6.5 7.1-5.7 7.1-4.9 7.1-3 7.1-.5 7.1 1.4 7.1 2.7 7.1 4.3 7.1 5.1 7.1 4.3 7.1 2.4 7.1 .7 7.1-.2 7.1-1.1 7.1M501.3 170.9l-3.1 7.1-4.3 7.1-3.6 7.1-1.5 7.1-.3 7.1 0 7.1 .8 7.1 1.7 7.1 2 7.1 2.1 7.1 2.4 7.1 2.3 7.1 1.6 7.1 .7 7.1 .1 7.1-.2 7.1-.6 7.1M501.3 170.9l1.4 7.1 6.6 7.1 9 7.1 7.3 7.1 3.1 7.1-1.5 7.1-3.2 7.1-3.9 7.1-6.2 7.1-5.7 7.1-5.1 7.1-4.3 7.1-2.8 7.1-.6 7.1 1.2 7.1 2.1 7.1 2.9 7.1M501.3 170.9l-4.4 7.1-7.6 7.1-6 7.1-.5 7.1 2.9 7.1 4.8 7.1 6.5 7.1 6.6 7.1 4.9 7.1 2.8 7.1 0 7.1-1.5 7.1-2.5 7.1-2.8 7.1-2.2 7.1-1.1 7.1 .2 7.1M501.3 170.9l12.5 7.1 8.9 7.1 .6 7.1-7.4 7.1-11.3 7.1-10.4 7.1-9 7.1-6.1 7.1-2.5 7.1 1.1 7.1 2.2 7.1 5.4 7.1 7 7.1 5.8 7.1 3.3 7.1 .8 7.1-.7 7.1M501.3 170.9l6.5 7.1 6.1 7.1 3.8 7.1-.5 7.1-3.9 7.1-5.6 7.1-5.2 7.1-4.7 7.1-3.9 7.1-2.8 7.1-1 7.1 1.1 7.1 2.5 7.1 2.9 7.1 2.4 7.1 1.7 7.1 .6 7.1M501.3 170.9l5.3 7.1 4.2 7.1 2.3 7.1-.7 7.1-2.8 7.1-3.7 7.1-3.3 7.1-3 7.1-2.6 7.1-2.1 7.1-1.1 7.1 .3 7.1 1.2 7.1 1.8 7.1 1.7 7.1 1.5 7.1 1.1 7.1M501.3 170.9l10.2 7.1 10.3 7.1 7 7.1 .2 7.1-5.8 7.1-8.9 7.1-8.4 7.1-7.8 7.1-6.7 7.1-5.2 7.1-2.4 7.1 1.1 7.1 3.6 7.1 4.5 7.1 4.1 7.1 2.9 7.1 1.4 7.1M501.3 170.9l-4.5 7.1-8.7 7.1-7.2 7.1-1.1 7.1 2.9 7.1 5.2 7.1 7.3 7.1 7.8 7.1 5.9 7.1 3.5 7.1 .2 7.1-1.5 7.1-2.8 7.1-3.2 7.1-2.6 7.1-1.3 7.1 .2 7.1M501.3 170.9l-.4 7.1 .9 7.1 1.9 7.1 2 7.1 1.4 7.1 .6 7.1 .1 7.1 .1 7.1-.9 7.1-.9 7.1-1.3 7.1-1 7.1-1 7.1-.8 7.1-.5 7.1-.3 7.1 .1 7.1M501.3 170.9l4.6 7.1 4 7.1 3 7.1 1 7.1-.8 7.1-1.9 7.1-1.8 7.1-1.6 7.1-2.1 7.1-1.7 7.1-1.5 7.1-1.1 7.1-.9 7.1-.4 7.1 .1 7.1 .4 7.1 .8 7.1M501.3 170.9l1.3 7.1-1.4 7.1-3.2 7.1-2.9 7.1-2.4 7.1-1.8 7.1-.9 7.1 .2 7.1 1.1 7.1 1.5 7.1 2.2 7.1 2.6 7.1 2.3 7.1 1.5 7.1 .4 7.1 0 7.1-.4 7.1M501.3 170.9l-1.7 7.1-6.6 7.1-7.9 7.1-4.6 7.1-1.9 7.1-.3 7.1 2.3 7.1 4.6 7.1 5.6 7.1 5.8 7.1 5.5 7.1 3 7.1 1.4 7.1-.2 7.1-1.4 7.1-1.6 7.1-1.8 7.1M501.3 170.9l4.5 7.1-4.8 7.1-10.6 7.1-9.7 7.1-6.3 7.1-1.4 7.1 .6 7.1 3.4 7.1 7.6 7.1 8.6 7.1 8.6 7.1 4.8 7.1 2.2 7.1-.3 7.1-2.5 7.1-2.2 7.1-2.2 7.1M501.3 170.9l-11.9 7.1-5.5 7.1 4.4 7.1 10.9 7.1 12.8 7.1 9.4 7.1 5.3 7.1 .1 7.1-3.3 7.1-5 7.1-7.8 7.1-6.6 7.1-5.4 7.1-3 7.1 .2 7.1 2.4 7.1 3.3 7.1M501.3 170.9l-7.7 7.1-11.4 7.1-7.7 7.1 1.1 7.1 6.2 7.1 8.7 7.1 10.4 7.1 9.4 7.1 5.8 7.1 2.3 7.1-1.9 7.1-3.7 7.1-4.6 7.1-4.2 7.1-2.8 7.1-1 7.1 1.3 7.1M501.3 170.9l12.1 7.1 10.3 7.1 7.4 7.1-2.9 7.1-9.9 7.1-12.2 7.1-10.8 7.1-9 7.1-6 7.1-2.6 7.1 2.2 7.1 4.5 7.1 6.9 7.1 6.1 7.1 3.8 7.1 1 7.1-.7 7.1M501.3 170.9l-3.9 7.1-.4 7.1 3 7.1 4.7 7.1 4.7 7.1 3 7.1 2 7.1 1.4 7.1-.8 7.1-1.4 7.1-2.6 7.1-2.5 7.1-2.4 7.1-2.2 7.1-1.6 7.1-.8 7.1-.2 7.1M501.3 170.9l5.4 7.1 5.7 7.1 4.7 7.1 1.9 7.1-1.1 7.1-3 7.1-3.2 7.1-3.1 7.1-3.4 7.1-2.9 7.1-2.6 7.1-1.9 7.1-.8 7.1 .3 7.1 1 7.1 1.4 7.1 1.8 7.1M501.3 170.9l0 7.1-1.4 7.1-2.1 7.1-1.4 7.1-.7 7.1-.2 7.1 .6 7.1 1.2 7.1 1.6 7.1 1.6 7.1 1.3 7.1 .8 7.1 .3 7.1-.2 7.1-.5 7.1-.4 7.1-.4 7.1M501.3 170.9l9.9 7.1 9.9 7.1 7.3 7.1 1.4 7.1-4.3 7.1-7.4 7.1-7.4 7.1-6.9 7.1-6.4 7.1-5.6 7.1-3.7 7.1-.8 7.1 1.7 7.1 3.3 7.1 3.5 7.1 3.2 7.1 2.5 7.1M501.3 170.9l3.4 7.1 4.3 7.1 3.6 7.1 .8 7.1-2.1 7.1-3.8 7.1-3.8 7.1-3.6 7.1-3.1 7.1-2.3 7.1-1 7.1 .8 7.1 1.8 7.1 2.1 7.1 1.7 7.1 1 7.1 .2 7.1M501.3 170.9l2.1 7.1 5 7.1 6.4 7.1 5.2 7.1 2.5 7.1-.3 7.1-1.1 7.1-1.4 7.1-3.4 7.1-3.4 7.1-3.8 7.1-3.1 7.1-2.5 7.1-1.8 7.1-1.1 7.1-.1 7.1 .9 7.1M501.3 170.9l4.7 7.1 4.7 7.1 3 7.1-.3 7.1-3.2 7.1-4.5 7.1-4.1 7.1-3.7 7.1-3 7.1-2 7.1-.4 7.1 1.2 7.1 2.3 7.1 2.3 7.1 1.8 7.1 1.1 7.1 .1 7.1M501.3 170.9l-6.9 7.1-9.1 7.1-7.8 7.1-3.2 7.1-1.2 7.1-.1 7.1 .6 7.1 1.7 7.1 3.1 7.1 3.3 7.1 4.4 7.1 5.1 7.1 4.5 7.1 3.4 7.1 1.9 7.1 .6 7.1-.2 7.1M501.3 170.9l8 7.1 9.1 7.1 8.4 7.1 4.5 7.1-.2 7.1-3.7 7.1-4.1 7.1-4 7.1-5.5 7.1-4.7 7.1-4.4 7.1-3.2 7.1-2.7 7.1-1.1 7.1 .2 7.1 1.3 7.1 2.3 7.1M501.3 170.9l11.5 7.1 6.3 7.1 1 7.1-4.7 7.1-7.5 7.1-7.6 7.1-6.5 7.1-5.4 7.1-4 7.1-2.8 7.1-.5 7.1 2.4 7.1 4 7.1 4.6 7.1 4.1 7.1 3.1 7.1 2.1 7.1M501.3 170.9l3.5 7.1 3.8 7.1 3.6 7.1 2.1 7.1 .3 7.1-1.1 7.1-1.2 7.1-1.1 7.1-2 7.1-1.8 7.1-1.9 7.1-1.6 7.1-1.2 7.1-.9 7.1-.5 7.1-.2 7.1 .2 7.1M501.3 170.9l-11.3 7.1-10.8 7.1-6 7.1 2.5 7.1 5.8 7.1 7 7.1 8.3 7.1 8 7.1 6 7.1 3.8 7.1 .6 7.1-.9 7.1-2.7 7.1-3.1 7.1-3.4 7.1-2.3 7.1-1.4 7.1M501.3 170.9l1 7.1-.3 7.1-1.2 7.1-1.4 7.1-1.2 7.1-1.2 7.1-.7 7.1-.3 7.1 0 7.1 .3 7.1 .8 7.1 1.1 7.1 1.2 7.1 .9 7.1 .7 7.1 .3 7.1 0 7.1M501.3 170.9l2 7.1-2.6 7.1-5.4 7.1-5.2 7.1-4.3 7.1-3.9 7.1-2.7 7.1-.9 7.1 .2 7.1 .9 7.1 2.6 7.1 4.3 7.1 4.7 7.1 4.2 7.1 3.2 7.1 2 7.1 .9 7.1M501.3 170.9l7.8 7.1 9.5 7.1 9.4 7.1 5.8 7.1-.1 7.1-3 7.1-2.4 7.1-1.6 7.1-5.2 7.1-4.8 7.1-5.2 7.1-4 7.1-3.2 7.1-2.3 7.1-1.4 7.1-.2 7.1 1 7.1M501.3 170.9l-5.9 7.1-3.5 7.1 1.3 7.1 5.1 7.1 6.1 7.1 5.1 7.1 3.1 7.1 1.3 7.1-1.7 7.1-2.9 7.1-3.8 7.1-3.2 7.1-2.7 7.1-1.3 7.1 .3 7.1 1.2 7.1 1.6 7.1M501.3 170.9l5.4 7.1-3.2 7.1-9 7.1-9.2 7.1-6.9 7.1-4.9 7.1 .1 7.1 1.4 7.1 4.9 7.1 6.6 7.1 7.8 7.1 7.1 7.1 3.5 7.1 1.2 7.1-.7 7.1-1.6 7.1-2.2 7.1M501.3 170.9l-2.6 7.1-4.1 7.1-3.3 7.1-.4 7.1 1.3 7.1 2.3 7.1 3.2 7.1 3.5 7.1 2.8 7.1 1.9 7.1 .5 7.1-.4 7.1-1 7.1-1.4 7.1-1.3 7.1-.7 7.1-.3 7.1M501.3 170.9l1.9 7.1 3.8 7.1 4.7 7.1 3.7 7.1 1.6 7.1-.4 7.1-.9 7.1-1.1 7.1-2.6 7.1-2.4 7.1-2.8 7.1-2.2 7.1-1.8 7.1-1.3 7.1-.7 7.1-.1 7.1 .7 7.1M501.3 170.9l-11.9 7.1-10.2 7.1-2.2 7.1 7.8 7.1 10.7 7.1 11.3 7.1 9.5 7.1 6.7 7.1 .5 7.1-2.7 7.1-3.9 7.1-5.8 7.1-5.5 7.1-4 7.1-2.5 7.1 .1 7.1 2.4 7.1M501.3 170.9l4.7 7.1 3.4 7.1 1.8 7.1-.6 7.1-2.4 7.1-3 7.1-2.8 7.1-2.5 7.1-2.1 7.1-1.7 7.1-1 7.1 .2 7.1 .9 7.1 1.4 7.1 1.5 7.1 1.3 7.1 1 7.1M501.3 170.9l6.5 7.1 8.2 7.1 7.1 7.1 2.5 7.1-2.6 7.1-5.9 7.1-6.3 7.1-6.1 7.1-5.8 7.1-5.2 7.1-3.4 7.1-.7 7.1 1.5 7.1 2.9 7.1 3.1 7.1 2.6 7.1 1.7 7.1M501.3 170.9l-9.5 7.1-9.6 7.1-3.9 7.1 3.8 7.1 7.2 7.1 8.3 7.1 8.5 7.1 7 7.1 3.5 7.1 .9 7.1-2.5 7.1-3.4 7.1-4 7.1-3.7 7.1-2.4 7.1-1 7.1 1 7.1M501.3 170.9l12.5 7.1 7.5 7.1 .8 7.1-6.1 7.1-9.4 7.1-9.1 7.1-7.9 7.1-6 7.1-4 7.1-1.9 7.1 2.2 7.1 3.5 7.1 4.8 7.1 5.5 7.1 4.2 7.1 2.6 7.1 .8 7.1M501.3 170.9l-1.1 7.1 3.4 7.1 6.2 7.1 6.2 7.1 3.9 7.1 .7 7.1-.7 7.1-1.5 7.1-3.8 7.1-3.8 7.1-4.2 7.1-3.3 7.1-2.5 7.1-1.7 7.1-.3 7.1 .9 7.1 1.8 7.1M501.3 170.9l-4.4 7.1 .1 7.1 4.1 7.1 6.2 7.1 5.7 7.1 3.7 7.1 2.6 7.1 1.9 7.1-.9 7.1-1.5 7.1-3.2 7.1-3 7.1-3.2 7.1-3 7.1-2.6 7.1-1.6 7.1-.8 7.1M501.3 170.9l-4 7.1 3.1 7.1 8.7 7.1 9.6 7.1 5.8 7.1 .3 7.1-2.7 7.1-4.8 7.1-7.2 7.1-6.7 7.1-6.4 7.1-4.2 7.1-1 7.1 1.7 7.1 2.8 7.1 3 7.1 2.1 7.1M501.3 170.9l8.7 7.1 4.5 7.1 0 7.1-4.3 7.1-6.3 7.1-5.9 7.1-5.2 7.1-4 7.1-2.7 7.1-1.6 7.1 .4 7.1 2.7 7.1 3.7 7.1 3.8 7.1 3.1 7.1 2.1 7.1 1 7.1M501.3 170.9l8.4 7.1 2.8 7.1-2.6 7.1-6.9 7.1-7 7.1-6.4 7.1-5.1 7.1-2.8 7.1-.8 7.1 .8 7.1 3.1 7.1 4.9 7.1 5.1 7.1 4 7.1 2.4 7.1 .7 7.1-.5 7.1M501.3 170.9l-2.7 7.1-8.2 7.1-9.5 7.1-5.4 7.1-2.2 7.1-.3 7.1 2.3 7.1 5.2 7.1 6.4 7.1 6.8 7.1 6.8 7.1 4.1 7.1 2 7.1 .2 7.1-1.3 7.1-1.7 7.1-2.2 7.1M501.3 170.9l-8.7 7.1-4 7.1 1.6 7.1 5.4 7.1 6 7.1 6 7.1 4.8 7.1 4 7.1 1.4 7.1 .4 7.1-1.8 7.1-2.1 7.1-2.8 7.1-3.1 7.1-3.1 7.1-2.2 7.1-1.6 7.1M501.3 170.9l-2.6 7.1-2.8 7.1-1.8 7.1-.1 7.1 .8 7.1 1.1 7.1 1.5 7.1 1.8 7.1 1.7 7.1 1.4 7.1 .8 7.1 .4 7.1 0 7.1-.4 7.1-.6 7.1-.6 7.1-.5 7.1M501.3 170.9l7.4 7.1 9.9 7.1 9.5 7.1 5.2 7.1-.4 7.1-4.6 7.1-5.4 7.1-5.5 7.1-6.8 7.1-5.8 7.1-5 7.1-4.2 7.1-1.8 7.1 .3 7.1 1.7 7.1 2.6 7.1 3.2 7.1M501.3 170.9l10.5 7.1 8.1 7.1 4.9 7.1 .2 7.1-3.6 7.1-5.4 7.1-5 7.1-4.5 7.1-4.3 7.1-3.8 7.1-3.1 7.1-1.7 7.1-.1 7.1 1.2 7.1 1.8 7.1 2.3 7.1 2.8 7.1M501.3 170.9l2.6 7.1 .1 7.1-2.2 7.1-3 7.1-2.6 7.1-2 7.1-.9 7.1 .4 7.1 1.4 7.1 1.9 7.1 2.4 7.1 2.1 7.1 1 7.1 .3 7.1-.3 7.1-.5 7.1-.6 7.1M501.3 170.9l7.4 7.1 1 7.1-4.5 7.1-7.5 7.1-6.9 7.1-6.2 7.1-4.4 7.1-1.8 7.1 .3 7.1 1.8 7.1 4 7.1 5.6 7.1 5.4 7.1 4.1 7.1 2.1 7.1 .4 7.1-.6 7.1M501.3 170.9l1.4 7.1 2.1 7.1 2.2 7.1 1.5 7.1 .2 7.1-.8 7.1-1 7.1-1.1 7.1-1.5 7.1-1.4 7.1-1.2 7.1-.9 7.1-.7 7.1-.2 7.1 .3 7.1 .5 7.1 .7 7.1M501.3 170.9l2.4 7.1 7.3 7.1 9.7 7.1 7.8 7.1 3.4 7.1-1.2 7.1-2.4 7.1-3.2 7.1-5.9 7.1-5.7 7.1-5.7 7.1-4.4 7.1-3.4 7.1-2.1 7.1-.2 7.1 1.3 7.1 2.6 7.1M501.3 170.9l-5.2 7.1-4.5 7.1-2.2 7.1 .8 7.1 1.6 7.1 1.8 7.1 2.1 7.1 2.4 7.1 2.3 7.1 1.9 7.1 1.2 7.1 .6 7.1 .2 7.1-.4 7.1-.8 7.1-.7 7.1-1 7.1M501.3 170.9l12.3 7.1 7.1 7.1 .2 7.1-7.2 7.1-10.7 7.1-9.5 7.1-8.2 7.1-5.3 7.1-2.4 7.1 .2 7.1 3.7 7.1 6.3 7.1 6.6 7.1 5.1 7.1 2.5 7.1 .4 7.1-.9 7.1M501.3 170.9l10.1 7.1 3.3 7.1-3.1 7.1-8 7.1-8.4 7.1-7.5 7.1-6.2 7.1-3.7 7.1-1.2 7.1 1.1 7.1 2.2 7.1 5.2 7.1 6 7.1 5.2 7.1 3.5 7.1 1.6 7.1 0 7.1M501.3 170.9l-5.9 7.1-11 7.1-9.4 7.1-1.7 7.1 3.3 7.1 6.1 7.1 8.8 7.1 9.8 7.1 7.8 7.1 5.1 7.1 1 7.1-1.2 7.1-3.1 7.1-3.9 7.1-3.4 7.1-1.9 7.1-.3 7.1M501.3 170.9l-11.4 7.1-9.3 7.1-3.2 7.1 3.5 7.1 5.8 7.1 6.3 7.1 6.9 7.1 6.4 7.1 4.5 7.1 2.8 7.1 .4 7.1-.8 7.1-2 7.1-2.8 7.1-3 7.1-2.3 7.1-1.6 7.1M501.3 170.9l2.5 7.1-2.4 7.1-5.5 7.1-5 7.1-3.2 7.1-1.5 7.1 .8 7.1 3.1 7.1 4.3 7.1 4.8 7.1 3.8 7.1 2.1 7.1 .7 7.1-.6 7.1-1.4 7.1-1.3 7.1-1.1 7.1M501.3 170.9l6.8 7.1 1.9 7.1-2.1 7.1-5.2 7.1-5.3 7.1-5 7.1-4.3 7.1-3.2 7.1-2 7.1-1.4 7.1 .5 7.1 2.6 7.1 3.8 7.1 4.2 7.1 3.6 7.1 3 7.1 2.3 7.1M501.3 170.9l6.4 7.1 4.8 7.1 1.7 7.1-2.7 7.1-5.3 7.1-5.7 7.1-4.8 7.1-3.6 7.1-2.2 7.1-.7 7.1 1.3 7.1 3 7.1 3.4 7.1 2.8 7.1 1.7 7.1 .4 7.1-.4 7.1M501.3 170.9l4.2 7.1 6.2 7.1 6.3 7.1 3.4 7.1-.3 7.1-3.2 7.1-3.8 7.1-4 7.1-4.6 7.1-3.8 7.1-3.7 7.1-2.3 7.1-.6 7.1 .8 7.1 1.6 7.1 1.9 7.1 2.1 7.1M501.3 170.9l6 7.1 4.6 7.1 1.6 7.1-2.6 7.1-5.3 7.1-5.5 7.1-4.7 7.1-3.4 7.1-1.8 7.1-.3 7.1 1.6 7.1 3.3 7.1 3.3 7.1 2.6 7.1 1.1 7.1 .2 7.1-.6 7.1M501.3 170.9l4.9 7.1-.6 7.1-4.8 7.1-6 7.1-5.4 7.1-4.6 7.1-3 7.1-.8 7.1 .9 7.1 2 7.1 3.7 7.1 4.9 7.1 4.4 7.1 3.3 7.1 1.6 7.1 .3 7.1-.7 7.1M501.3 170.9l7.8 7.1 7 7.1 4.2 7.1-.7 7.1-4.8 7.1-6.4 7.1-6 7.1-5.3 7.1-4.4 7.1-3.3 7.1-1.2 7.1 1.3 7.1 2.8 7.1 3.3 7.1 2.9 7.1 2 7.1 .8 7.1M501.3 170.9l-6.8 7.1-4.8 7.1-.3 7.1 4 7.1 5.1 7.1 5.4 7.1 4.6 7.1 3.4 7.1 1 7.1-.4 7.1-2.2 7.1-2.5 7.1-2.6 7.1-2.3 7.1-1.4 7.1-.7 7.1 .6 7.1M501.3 170.9l5.2 7.1 1.5 7.1-2.1 7.1-4.7 7.1-4.5 7.1-4 7.1-3.1 7.1-1.4 7.1-.1 7.1 .9 7.1 2.4 7.1 3.4 7.1 3.3 7.1 2.4 7.1 1.2 7.1 .2 7.1-.5 7.1M501.3 170.9l9.1 7.1 8.8 7.1 5.8 7.1-.3 7.1-5.6 7.1-7.9 7.1-7.5 7.1-6.8 7.1-5.7 7.1-4.2 7.1-1.6 7.1 1.5 7.1 3.5 7.1 4.1 7.1 3.5 7.1 2.4 7.1 .9 7.1M501.3 170.9l-10.6 7.1-8.9 7.1-4.4 7.1 1.3 7.1 3.1 7.1 3.2 7.1 3.9 7.1 4.5 7.1 4.4 7.1 3.8 7.1 2.5 7.1 1.6 7.1 .5 7.1-.4 7.1-1.2 7.1-1.3 7.1-1.7 7.1M501.3 170.9l3.3 7.1-.1 7.1-3.2 7.1-4.2 7.1-3.4 7.1-2.2 7.1-.4 7.1 1.5 7.1 2.7 7.1 3.4 7.1 3.2 7.1 1.7 7.1 .7 7.1-.3 7.1-1 7.1-.9 7.1-.7 7.1M501.3 170.9l-4.5 7.1 1.7 7.1 6.8 7.1 8.7 7.1 7 7.1 3.3 7.1 1.2 7.1 0 7.1-3.7 7.1-4.3 7.1-5.5 7.1-4.6 7.1-3.8 7.1-2.7 7.1-1.5 7.1 .3 7.1 1.8 7.1M501.3 170.9l9.8 7.1 9.7 7.1 8.1 7.1 3.5 7.1-1 7.1-4.3 7.1-4.3 7.1-4 7.1-5.3 7.1-4.6 7.1-4.1 7.1-3 7.1-2.5 7.1-1.1 7.1 .1 7.1 1.1 7.1 2.1 7.1M501.3 170.9l6.5 7.1 2.6 7.1-1.1 7.1-4.1 7.1-5 7.1-4.4 7.1-3.9 7.1-2.9 7.1-1.7 7.1-1 7.1 .6 7.1 2.5 7.1 3.2 7.1 3.2 7.1 2.7 7.1 1.8 7.1 1.1 7.1M501.3 170.9l3.5 7.1 5.9 7.1 5.8 7.1 2.3 7.1-1.9 7.1-4.7 7.1-5.2 7.1-5.2 7.1-4.7 7.1-3.8 7.1-1.9 7.1 .5 7.1 2.2 7.1 2.8 7.1 2.4 7.1 1.6 7.1 .4 7.1M501.3 170.9l8 7.1 3.4 7.1-1.5 7.1-5.7 7.1-6.7 7.1-5.8 7.1-4.9 7.1-3.1 7.1-1.3 7.1 0 7.1 2.2 7.1 4.1 7.1 4.5 7.1 3.7 7.1 2.4 7.1 1 7.1-.2 7.1M501.3 170.9l2.5 7.1 3.3 7.1 2.7 7.1 .5 7.1-1.7 7.1-2.9 7.1-3 7.1-2.8 7.1-2.3 7.1-1.7 7.1-.5 7.1 .8 7.1 1.5 7.1 1.6 7.1 1.3 7.1 .7 7.1 0 7.1M501.3 170.9l3.4 7.1 6.2 7.1 7.6 7.1 5.9 7.1 2.9 7.1-.2 7.1-1 7.1-1.1 7.1-3.5 7.1-3.5 7.1-4.3 7.1-3.7 7.1-3.2 7.1-2.6 7.1-1.9 7.1-.9 7.1-.1 7.1M501.3 170.9l-5.9 7.1-2.6 7.1 1.5 7.1 4 7.1 4.6 7.1 4.2 7.1 3.3 7.1 2.7 7.1 .7 7.1 0 7.1-1.6 7.1-1.7 7.1-2.2 7.1-2.3 7.1-2.2 7.1-1.4 7.1-1 7.1M501.3 170.9l3.9 7.1 7.1 7.1 7.7 7.1 4.9 7.1 .7 7.1-3 7.1-4 7.1-4.3 7.1-5.5 7.1-4.7 7.1-4.2 7.1-3.4 7.1-1.5 7.1 .4 7.1 1.5 7.1 2.1 7.1 2.5 7.1M501.3 170.9l-5.7 7.1-10.7 7.1-8.8 7.1-1 7.1 4 7.1 6.8 7.1 9.2 7.1 9.6 7.1 6.9 7.1 4 7.1-.2 7.1-2.2 7.1-3.7 7.1-4 7.1-3.1 7.1-1.4 7.1 .4 7.1M501.3 170.9l-3.3 7.1-4.3 7.1-3.1 7.1-.4 7.1 1 7.1 1.7 7.1 2.4 7.1 3 7.1 2.9 7.1 2.1 7.1 1.3 7.1 .5 7.1-.2 7.1-.7 7.1-1.1 7.1-.9 7.1-.8 7.1M501.3 170.9l9.2 7.1 7.6 7.1 4.3 7.1-1.1 7.1-5.2 7.1-6.8 7.1-6.3 7.1-5.6 7.1-4.8 7.1-3.6 7.1-1.7 7.1 .9 7.1 2.6 7.1 3.5 7.1 3.1 7.1 2.5 7.1 1.5 7.1M501.3 170.9l-9.7 7.1-7.6 7.1-1.4 7.1 5 7.1 6.9 7.1 7.4 7.1 6.9 7.1 5.4 7.1 2.3 7.1 .3 7.1-2.4 7.1-3.1 7.1-3.5 7.1-3.3 7.1-2.3 7.1-1.1 7.1 .3 7.1M501.3 170.9l3.9 7.1 3.1 7.1 1.8 7.1-.2 7.1-1.7 7.1-2.5 7.1-2.2 7.1-2 7.1-1.9 7.1-1.6 7.1-1 7.1-.2 7.1 .5 7.1 .9 7.1 1.1 7.1 1.1 7.1 1 7.1M501.3 170.9l11.3 7.1 10.9 7.1 6.7 7.1-1.4 7.1-8 7.1-10.7 7.1-9.8 7.1-8.7 7.1-6.6 7.1-4.3 7.1-.5 7.1 3.5 7.1 5.5 7.1 5.7 7.1 4.1 7.1 2.2 7.1 .2 7.1M501.3 170.9l11.1 7.1 7 7.1 2.6 7.1-2.6 7.1-5.8 7.1-6.6 7.1-5.8 7.1-5.2 7.1-4.3 7.1-3.5 7.1-1.9 7.1 .5 7.1 2.2 7.1 3.2 7.1 3.4 7.1 3.1 7.1 2.8 7.1M501.3 170.9l9.9 7.1 8.5 7.1 4.9 7.1-1 7.1-5.6 7.1-7.6 7.1-7 7.1-6.3 7.1-5.3 7.1-4.1 7.1-1.8 7.1 1 7.1 3 7.1 3.8 7.1 3.5 7.1 2.7 7.1 1.5 7.1M501.3 170.9l-3 7.1 5 7.1 10.5 7.1 10.7 7.1 6.4 7.1-.2 7.1-2.4 7.1-4.1 7.1-7.7 7.1-7.5 7.1-6.7 7.1-6 7.1-3.2 7.1 0 7.1 2 7.1 3.2 7.1 3.3 7.1M501.3 170.9l-5.4 7.1-7.1 7.1-5.7 7.1-1.6 7.1 .4 7.1 1.1 7.1 2.5 7.1 3.7 7.1 4 7.1 4.1 7.1 3.9 7.1 2.2 7.1 1.1 7.1 .2 7.1-.8 7.1-1 7.1-1.4 7.1M501.3 170.9l10 7.1 5.4 7.1 1 7.1-3.4 7.1-5.7 7.1-5.9 7.1-5.1 7.1-4.4 7.1-3.5 7.1-3 7.1-1.4 7.1 .8 7.1 2.4 7.1 3.3 7.1 3.4 7.1 3.2 7.1 3.2 7.1M501.3 170.9l-4.9 7.1-5.2 7.1-1.9 7.1 2.6 7.1 4.4 7.1 5 7.1 4.8 7.1 3.5 7.1 1.1 7.1-.5 7.1-2.3 7.1-2.5 7.1-2.5 7.1-1.8 7.1-1 7.1 .2 7.1 1.1 7.1M501.3 170.9l.8 7.1-3 7.1-4.9 7.1-3.9 7.1-2.4 7.1-1.4 7.1 .4 7.1 2.1 7.1 3.1 7.1 3.5 7.1 3.9 7.1 2.8 7.1 1.4 7.1 .3 7.1-.5 7.1-.9 7.1-1.1 7.1M501.3 170.9l9.5 7.1 11.2 7.1 7.9 7.1 0 7.1-7.4 7.1-10.9 7.1-10.3 7.1-9.2 7.1-7 7.1-4.2 7.1-.2 7.1 4.1 7.1 5.9 7.1 5.7 7.1 3.9 7.1 1.5 7.1-.3 7.1M501.3 170.9l7.3 7.1-1.9 7.1-9.1 7.1-10.3 7.1-7.9 7.1-5.4 7.1-.4 7.1 2.4 7.1 6.3 7.1 7.8 7.1 8.6 7.1 5.9 7.1 2.8 7.1 .3 7.1-1.7 7.1-2.2 7.1-2.2 7.1M501.3 170.9l1.5 7.1-3.4 7.1-6.1 7.1-4.6 7.1-2 7.1 .1 7.1 2.7 7.1 4.7 7.1 5.4 7.1 4.5 7.1 2.4 7.1 .9 7.1-.7 7.1-1.7 7.1-1.9 7.1-1.3 7.1-.5 7.1M501.3 170.9l-6.5 7.1-3.4 7.1 .4 7.1 3.3 7.1 3.7 7.1 3.7 7.1 3.4 7.1 2.9 7.1 1.6 7.1 .9 7.1-.4 7.1-.7 7.1-1.4 7.1-1.8 7.1-2.1 7.1-1.7 7.1-1.7 7.1M501.3 170.9l4.7 7.1 8.8 7.1 8.6 7.1 3.4 7.1-3.1 7.1-7.6 7.1-8.2 7.1-7.9 7.1-7 7.1-5.3 7.1-2 7.1 1.7 7.1 4 7.1 4.6 7.1 3.5 7.1 1.8 7.1 .1 7.1M501.3 170.9l11.4 7.1 11 7.1 7.4 7.1 3.2 7.1-4.8 7.1-9.5 7.1-9.4 7.1-8.7 7.1-8 7.1-6.7 7.1-3.9 7.1 .1 7.1 4 7.1 4 7.1 4 7.1 3.7 7.1 2.3 7.1M501.3 170.9l-2.3 7.1-3.6 7.1-2.5 7.1 .2 7.1 1.8 7.1 2.7 7.1 3.3 7.1 3 7.1 1.9 7.1 .8 7.1-.5 7.1-1.1 7.1-1.5 7.1-1.3 7.1-.9 7.1-.4 7.1 .5 7.1" stroke="#000" stroke-opacity="0.75" stroke-width="0.42" fill="none"/>
<path d="M501.3 170.9 498.4 173.2 494.2 176.6 490.0 180.0 485.9 183.3 481.9 186.6 479.0 190.0 477.8 193.3 477.7 196.7 478.0 200.0 478.4 203.3 479.1 206.7 480.0 210.0 481.3 213.3 482.8 216.7 484.0 220.0 484.5 223.1 484.6 226.3 484.7 230.0 484.8 234.7 484.8 239.9 485.0 245.0 485.5 249.8 486.1 254.5 487.0 258.7 488.1 262.1 489.5 265.1 491.0 268.3 492.6 272.0 494.3 276.0 496.0 280.0 498.0 284.3 500.1 288.6 501.6 291.6 501.6 291.6 502.3 288.6 503.4 284.3 504.5 280.0 505.5 276.0 506.5 272.0 507.5 268.3 508.4 265.1 509.2 262.1 510.0 258.7 510.7 254.5 511.4 249.8 512.0 245.0 512.6 239.9 513.1 234.7 514.0 230.0 515.5 226.3 517.4 223.1 519.0 220.0 520.1 216.7 521.0 213.3 521.5 210.0 521.5 206.7 521.1 203.3 520.5 200.0 519.6 196.7 518.5 193.3 517.0 190.0 515.0 186.6 512.6 183.3 510.0 180.0 506.9 176.6 503.6 173.2 501.3 170.9Z" fill="#000" fill-opacity="1.0" filter="url(#bl)"/>
<path d="M498.7 206.5l-.5 1M487.2 221.0l-.7 1.4M497.3 253.1l.1 .9M483.5 208.9l-.7 1.2M491.2 266.6l-.1 .7M503.3 227.6l0 .7M501.1 254.1l0 .9M496.8 278.4l-.4 .9M504.6 204.1l.3 1.3M492.6 262.1l.2 .8M491.6 235.3l.3 .7M505.0 223.5l.2 .7M500.4 285.8l-.1 .9M495.7 179.4l-.2 1.1M509.5 182.7l-.4 1.1M496.0 215.0l.7 1.3M492.9 243.7l-.4 1M498.4 194.0l-.3 .5M496.2 234.8l.5 .8M496.1 234.9l.3 .9M498.1 203.9l.4 1M500.9 251.4l-.3 1M511.6 218.7l-.4 1.4M495.0 215.2l.7 1.3M507.7 235.8l.6 1.2M504.9 240.9l-.5 .8M488.9 233.7l-.3 .7M494.3 201.9l-.4 1.5M501.2 177.7l.2 1.3M520.0 210.7l.2 1.3M497.0 182.1l-.5 1.4M491.5 215.4l.3 .7M515.4 219.3l-.4 .6M498.0 231.1l.8 1.3M487.0 247.9l-.4 1.1M515.4 223.4l-.1 1.5M512.5 196.0l.3 1.4M501.3 254.5l-.3 .6M491.9 181.9l-.3 .8M497.0 199.2l.3 1.4M497.0 276.7l.7 1.1M511.4 209.5l-.4 1.2M502.5 208.2l-.7 1.3M505.8 184.2l-.2 .8M499.6 284.6l.4 1.1M486.1 208.6l.6 1M499.3 274.1l-.3 1.3M496.3 255.4l0 1.1M498.2 281.6l.2 1.1M494.8 267.6l.7 1.2M505.9 261.9l-.3 .8M502.5 185.5l.4 .7M498.9 198.0l.7 1M499.5 258.2l.4 1.2M494.8 262.7l.6 1.2M491.3 208.7l.4 .9M509.7 231.1l-.1 1.1M495.6 253.8l-.3 1.3M498.4 252.8l.3 1.2M507.2 239.7l.4 1.3M494.9 275.6l.3 .7M490.3 183.2l-.4 .6M500.9 270.6l.3 1M503.2 249.9l-.2 .6M494.6 186.3l-.4 1.3M495.6 273.2l.8 1.3M499.8 279.8l-.1 1M495.7 276.4l-.1 1.5M505.2 258.1l.3 .8M492.6 240.4l-.1 1M505.9 177.6l-.5 .7M503.6 280.3l.2 1M497.3 217.9l.1 1.3M499.5 195.9l0 .8M499.1 192.8l-.5 .8M494.8 266.3l-.1 1.3M502.3 284.2l-.3 .8M500.0 227.1l-.7 1M495.0 274.3l-.3 1.3M504.4 262.5l.5 1.1M486.2 210.3l-.2 1.1M492.7 187.7l0 .8M488.6 184.8l.1 .8M502.2 214.8l-.2 .8M502.0 248.1l-.2 1.5M498.1 176.3l.2 1.3M499.0 282.1l-.3 1M495.2 179.8l-.3 1.3M505.1 180.6l-.1 .6M494.1 208.4l.2 1.2M484.8 187.6l.4 .9M491.7 253.5l-.3 .8M492.4 232.5l.5 1.5M501.1 257.7l.7 1.3M491.9 188.6l-.4 1.2M500.2 286.7l.3 .9M490.7 220.0l-.5 1.4M498.0 281.0l.2 .8M500.5 286.6l-.3 .7M490.6 215.0l.1 1.6M502.4 266.1l-.4 .9M500.7 285.0l.1 .8M498.6 182.8l-.6 1M503.5 269.8l-.2 1.3M495.0 186.9l.1 .7M517.2 218.0l.3 1.1M509.9 250.8l.4 1.2M489.3 235.5l.7 1.3M503.0 263.4l-.1 1.1M499.8 179.6l.2 1M496.2 255.0l-.2 .7M505.3 207.0l-.1 .6M492.7 236.1l.4 1.3M502.4 222.8l0 1.2M508.5 248.3l0 .9M496.9 275.5l-.1 .7M510.0 206.9l.2 1.1M501.1 284.7l-.3 .9M500.0 272.0l.7 1.3M498.2 274.6l.5 1.3M501.8 252.3l-.3 1.1M503.6 280.0l0 1.3M499.9 284.2l0 1.5M497.1 176.3l.4 .8M513.4 215.4l.3 .6M503.4 184.3l-.3 .7M497.1 218.8l.2 .8M509.0 204.9l-.1 .8M489.6 220.7l-.1 1.3M498.2 279.0l-.3 1.1M484.4 215.3l-.7 1.2M492.3 236.1l.2 .8M492.0 187.4l-.1 1.2M495.8 223.3l-.5 1.5M493.2 183.8l.3 .9M500.4 282.9l-.4 .6M491.8 213.8l0 .6M504.4 175.8l-.7 1.3M503.2 179.8l.6 1M498.2 175.7l-.2 .6M501.5 283.0l-.1 .7M501.6 285.0l-.2 .6M500.4 277.4l.3 1.5M487.6 242.4l-.3 .5M501.4 273.6l.2 .7M495.7 183.5l-.4 1.3M497.9 282.1l.2 .7M496.7 273.3l.6 1.2M502.7 225.9l-.7 1.1M490.3 264.5l-.7 1.4M501.2 222.3l0 .8M495.2 263.2l.3 1.5M500.3 268.1l-.1 .6M503.3 268.7l-.3 1.2M500.6 284.7l.6 1.3M488.3 182.7l-.1 .7M494.1 263.2l-.5 .9M480.6 198.3l.1 .8M496.1 175.9l-.9 1.3M494.7 199.7l.5 .8M489.8 216.6l.4 .8M487.5 190.3l.2 .6M498.5 277.1l.6 1.1M496.4 266.1l.3 .8M503.4 277.3l0 .8M496.4 235.2l-.8 1.3M511.3 220.6l.4 1.4M501.6 184.7l.3 .6M485.6 200.0l.4 1.3M481.3 197.2l.3 .6M495.7 276.7l.7 1M502.9 238.8l-.3 .8M501.5 286.0l.8 1.4M503.8 271.3l.5 1.2M502.0 278.6l.3 .8M502.1 220.4l.1 .9M501.1 198.8l-.2 .7M486.4 188.0l0 .7M506.8 259.8l0 1.3M492.6 186.5l-.3 1.3M504.6 187.5l-.4 .7M504.8 248.1l-.4 1.3M497.5 200.2l-.1 1M499.5 252.6l.3 .7M504.8 203.6l-.4 1.5M494.2 250.2l0 1M508.2 216.3l-.1 .7M510.3 227.8l0 .8M500.4 228.9l.6 1.3M491.8 250.9l-.2 .9M487.3 216.4l-.2 .8M516.1 195.4l-.4 .6M501.8 285.3l.6 1.3M496.0 260.3l-.3 .8M486.2 238.3l.2 .6M505.5 224.1l.4 .6M504.2 208.6l.7 1.1M490.5 181.6l.4 1.2M507.9 184.2l.2 .9M491.4 258.4l.1 1.1M490.9 261.4l-.2 .9M500.4 217.8l.4 .7M495.1 214.1l-.3 .8M495.6 271.7l-.5 1.2M489.4 204.7l.6 1.5M499.0 181.1l-.5 .8M487.9 214.1l.8 1.4M507.9 243.6l-.4 1.5M508.2 248.4l-.6 .9M509.6 227.1l.5 1.1M490.3 215.1l.1 .9M499.4 225.1l.1 .6M491.5 190.1l-.4 .9M501.4 274.6l.2 .6M499.6 199.2l-.1 1.4M502.4 258.6l.3 1M510.7 245.0l.1 .8M486.8 246.0l-.1 1.5M497.6 207.0l-.2 1M488.2 258.7l-.5 1.3M485.8 187.0l-.5 1.4M496.9 257.3l-.5 .9M518.7 206.3l.4 .8M500.3 203.6l-.3 .5M506.7 251.1l-.2 .9M502.4 285.1l.1 .8M502.4 261.9l-.4 1M490.7 254.6l-.1 1.6M510.8 230.2l0 1.3M487.7 241.6l.4 1.2M507.6 198.0l.6 1.1M491.1 229.5l.4 1.1M496.0 261.5l-.2 .8M495.8 207.1l.1 1.5M514.4 216.3l.5 1.3M501.3 266.7l-.3 .6M487.1 184.8l.2 .7M498.5 273.6l-.8 1.3M504.6 271.4l.4 1.5M507.2 264.5l.1 .8" stroke="#fff" stroke-opacity="0.45" stroke-width="0.5" fill="none"/>
<path d="M501.3 170.9 498.7 172.4 495 174.6 490.9 177.0 487.1 179.4 483.5 181.8 479.7 184.2 476.4 186.6 473.9 188.9 472.5 190.9 472 192.7 471.9 194.4 472 196.4 472.2 198.6 472.7 200.9 473.5 203.2 474.6 205.7 476 208.2 477.8 210.8 479.8 213.5 482 216.3 484.5 219.4 487.3 222.8 490.1 226.2 492.7 229.1 495 231.5 497.2 233.6 499.2 235.6 501.2 237.6 503.1 239.7 504.9 241.8 506.5 243.9 508 246.0 509.3 248.2 510.5 250.4 511.4 252.7 512 255.0 512.2 257.4 512 259.9 511.5 262.5 511 265.0 510.3 267.5 509.4 270.0 508.4 272.5 507.5 275.0 506.6 277.6 505.7 280.2 504.8 282.7 504 285.0 503.3 287.0 502.6 288.9 502 290.5 501.6 291.6" stroke="#f00" stroke-width="1.05" fill="none"/>
<path d="M501.3 170.9 502.7 171.5 504.6 172.3 507 173.5 509.7 175.0 513.1 177.0 517 179.5 520.9 182.1 524.3 184.7 527 187.2 529.4 189.8 531.3 192.2 532.8 194.5 533.8 196.4 534.2 198.2 534.3 199.9 534 201.8 533.3 204.1 532.3 206.6 530.9 209.1 529.2 211.5 527.1 213.8 524.7 216.0 522 218.1 519.5 220.0 517 221.7 514.4 223.2 511.9 224.6 509.7 226.1 507.8 227.5 506.1 228.9 504.6 230.4 503 232.0 501.5 233.8 500 235.7 498.5 237.8 497 240.0 495.4 242.4 493.8 244.9 492.3 247.5 491 250.0 489.9 252.5 489.1 255.0 488.4 257.5 488 260.0 487.9 262.5 488 265.0 488.4 267.5 489 270.0 489.9 272.5 491.1 274.9 492.5 277.4 494 280.0 495.9 283.1 498.1 286.4 500.2 289.5 501.6 291.6" stroke="#f00" stroke-width="1.05" fill="none"/>
<path d="M501.3 170.9 501 171.5 500.6 172.3 500.1 173.5 499.5 175.0 498.7 177.1 497.7 179.6 496.8 182.4 496 185.0 495.5 187.4 495 189.8 494.8 192.3 494.8 195.0 495 198.1 495.5 201.4 496.2 204.7 497 207.8 498.1 210.6 499.5 213.2 501 215.8 502.3 218.4 503.4 221.0 504.5 223.7 505.5 226.3 506.5 229.0 507.7 231.7 508.9 234.5 510 237.3 511 240.0 511.8 242.5 512.5 244.8 513.1 247.2 513.5 250.0 513.9 253.5 514.2 257.5 514.2 261.5 514 265.0 513.3 267.9 512.3 270.3 511.2 272.6 510 275.0 508.8 277.6 507.5 280.2 506.2 282.7 505 285.0 504 287.0 503 288.9 502.2 290.5 501.6 291.6" stroke="#f00" stroke-width="1.05" fill="none"/>
<path d="M503 175.0 503.6 176.2 504.4 178.0 505.3 180.0 506 182.0 506.5 183.9 506.9 185.8 507.2 187.7 507.3 189.6 507.3 191.5 507.1 193.3 506.8 195.2 506.5 197.0 506.2 198.9 505.8 200.7 505.3 202.5 504.9 204.2 504.4 205.8 503.9 207.3 503.4 208.7 503.1 209.6" stroke="#f00" stroke-width="1.05" fill="none"/>
<path d="M501.3 170.9 501 170.8 500.6 170.6 499.8 170.8 498.4 171.9 495.9 174.3 492.7 177.7 489.3 181.5 486.2 185.1 483.5 188.5 480.9 192.1 478.6 195.4 476.7 198.3 475.4 200.6 474.4 202.5 473.9 204.1 473.5 205.7 473.4 207.0 473.7 208.1 474.1 209.4 474.5 211.5 474.9 214.6 475.3 218.3 475.9 222.5 476.7 227.0 477.8 232.0 479.1 237.6 480.6 243.2 482 248.3 483.3 252.9 484.5 257.2 485.9 261.2 487.4 265.0 489.3 268.5 491.4 271.8 493.4 274.9 495.2 277.8 496.6 280.6 497.8 283.1 498.7 285.5 499.6 287.4 500.3 288.9 500.9 290.1 501.3 291.0 501.6 291.6" stroke="#00c400" stroke-opacity="1" stroke-width="1.0" fill="none"/>
<path d="M501.3 170.9 503.3 171.9 506.1 173.2 509.3 175.1 512.2 177.4 514.8 180.4 517.4 183.9 519.8 187.8 521.9 192.0 523.6 196.7 525 201.9 526 207.0 526.8 211.5 527.3 215.0 527.4 217.9 527.3 220.7 526.8 223.7 526 227.1 524.8 230.7 523.4 234.4 521.9 238.3 520.2 242.4 518.3 246.8 516.4 251.0 514.6 255.0 513 258.5 511.6 261.8 510.2 264.9 509 268.0 507.9 271.1 506.9 274.1 505.9 277.1 505 280.0 504 283.2 503.1 286.6 502.2 289.5 501.6 291.6" stroke="#00c400" stroke-opacity="1" stroke-width="1.0" fill="none"/>
</g>
<rect x="456.5" y="170.5" width="88.0" height="122.0" fill="none" stroke="#747474" stroke-width="0.75"/>
<path d="M456.6,292.7v-2.0M456.6,170.9v2.0M463.9,292.7v-1.2M463.9,170.9v1.2M471.3,292.7v-2.0M471.3,170.9v2.0M478.6,292.7v-1.2M478.6,170.9v1.2M485.9,292.7v-2.0M485.9,170.9v2.0M493.3,292.7v-1.2M493.3,170.9v1.2M500.6,292.7v-2.0M500.6,170.9v2.0M507.9,292.7v-1.2M507.9,170.9v1.2M515.3,292.7v-2.0M515.3,170.9v2.0M522.6,292.7v-1.2M522.6,170.9v1.2M529.9,292.7v-2.0M529.9,170.9v2.0M537.3,292.7v-1.2M537.3,170.9v1.2M544.6,292.7v-2.0M544.6,170.9v2.0M456.6,292.7h2.0M544.6,292.7h-2.0M456.6,280.5h1.2M544.6,280.5h-1.2M456.6,268.3h2.0M544.6,268.3h-2.0M456.6,256.2h1.2M544.6,256.2h-1.2M456.6,244.0h2.0M544.6,244.0h-2.0M456.6,231.8h1.2M544.6,231.8h-1.2M456.6,219.6h2.0M544.6,219.6h-2.0M456.6,207.4h1.2M544.6,207.4h-1.2M456.6,195.3h2.0M544.6,195.3h-2.0M456.6,183.1h1.2M544.6,183.1h-1.2M456.6,170.9h2.0M544.6,170.9h-2.0" stroke="#747474" stroke-width="0.6" fill="none"/>
<g class="tl"><text x="456.6" y="299.9" text-anchor="middle">-1.5</text><text x="471.3" y="299.9" text-anchor="middle">-1.0</text><text x="485.9" y="299.9" text-anchor="middle">-0.5</text><text x="500.6" y="299.9" text-anchor="middle">0.0</text><text x="515.3" y="299.9" text-anchor="middle">0.5</text><text x="529.9" y="299.9" text-anchor="middle">1.0</text><text x="544.6" y="299.9" text-anchor="middle">1.5</text><text x="455.3" y="294.7" text-anchor="end">0.0</text><text x="455.3" y="270.3" text-anchor="end">0.2</text><text x="455.3" y="246.0" text-anchor="end">0.4</text><text x="455.3" y="221.6" text-anchor="end">0.6</text><text x="455.3" y="197.3" text-anchor="end">0.8</text><text x="455.3" y="172.9" text-anchor="end">1.0</text></g>
<text class="al" x="497.0" y="305.0">A<tspan font-size="4" dy="1.5">y</tspan></text>
<text class="al" transform="translate(448.3,230.6) rotate(-90)" text-anchor="middle">z/L</text>
<rect x="510.7" y="279.2" width="32.8" height="9.3" fill="#fff" stroke="#aaa" stroke-width="0.45"/>
<path d="M511.9,281.8h4.4" stroke="#00d000" stroke-width="1"/>
<path d="M511.9,285.4h4.4" stroke="#f22" stroke-width="1"/>
<text class="lg" x="516.5" y="283.3" font-size="4.3" textLength="19.6" lengthAdjust="spacingAndGlyphs">First -order</text>
<text class="lg" x="516.5" y="287.0" font-size="4.3" textLength="26.5" lengthAdjust="spacingAndGlyphs">Second -order</text>
<text class="cap" x="469.3" y="323.2">(<tspan font-weight="bold">g</tspan>) f = 0.40f<tspan font-size="6.5" dy="0.8">1</tspan></text>
</svg>
</body></html>
